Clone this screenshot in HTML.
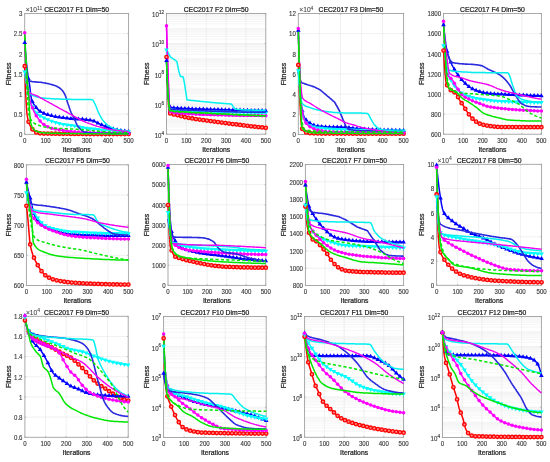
<!DOCTYPE html>
<html><head><meta charset="utf-8"><style>
html,body{margin:0;padding:0;background:#fff;width:550px;height:462px;overflow:hidden}
svg{will-change:transform}
svg text{font-family:"Liberation Sans", sans-serif;stroke:#262626;stroke-width:0.24px}
svg text.tk{fill:#383838;stroke:#383838;stroke-width:0.14px}
</style></head><body>
<svg width="550" height="462" viewBox="0 0 550 462" style="position:absolute;left:0;top:0">
<rect width="550" height="462" fill="#fff"/>
<line x1="45.48" y1="13.45" x2="45.48" y2="134.30" stroke="#e6e6e6" stroke-width="0.6"/>
<line x1="66.26" y1="13.45" x2="66.26" y2="134.30" stroke="#e6e6e6" stroke-width="0.6"/>
<line x1="87.04" y1="13.45" x2="87.04" y2="134.30" stroke="#e6e6e6" stroke-width="0.6"/>
<line x1="107.82" y1="13.45" x2="107.82" y2="134.30" stroke="#e6e6e6" stroke-width="0.6"/>
<line x1="24.70" y1="114.16" x2="128.60" y2="114.16" stroke="#e6e6e6" stroke-width="0.6"/>
<line x1="24.70" y1="94.02" x2="128.60" y2="94.02" stroke="#e6e6e6" stroke-width="0.6"/>
<line x1="24.70" y1="73.88" x2="128.60" y2="73.88" stroke="#e6e6e6" stroke-width="0.6"/>
<line x1="24.70" y1="53.73" x2="128.60" y2="53.73" stroke="#e6e6e6" stroke-width="0.6"/>
<line x1="24.70" y1="33.59" x2="128.60" y2="33.59" stroke="#e6e6e6" stroke-width="0.6"/>
<rect x="24.70" y="13.45" width="103.90" height="120.85" fill="none" stroke="#a0a0a0" stroke-width="0.9"/>
<path d="M24.70,134.30v-1.2M24.70,13.45v1.2M45.48,134.30v-1.2M45.48,13.45v1.2M66.26,134.30v-1.2M66.26,13.45v1.2M87.04,134.30v-1.2M87.04,13.45v1.2M107.82,134.30v-1.2M107.82,13.45v1.2M128.60,134.30v-1.2M128.60,13.45v1.2M24.70,134.30h1.2M128.60,134.30h-1.2M24.70,114.16h1.2M128.60,114.16h-1.2M24.70,94.02h1.2M128.60,94.02h-1.2M24.70,73.88h1.2M128.60,73.88h-1.2M24.70,53.73h1.2M128.60,53.73h-1.2M24.70,33.59h1.2M128.60,33.59h-1.2M24.70,13.45h1.2M128.60,13.45h-1.2" stroke="#a0a0a0" stroke-width="0.7" fill="none"/>
<path d="M24.7,66.2 25.5,89.4 25.7,94.0 26.4,106.6 26.8,112.1 27.2,115.4 28.0,119.9 28.4,121.4 28.9,122.7 29.7,124.8 30.5,126.5 31.3,127.9 32.2,129.1 33.0,130.1 33.8,131.0 34.7,131.7 35.5,132.2 35.7,132.3 36.3,132.5 37.2,132.7 38.0,132.9 38.8,133.1 39.7,133.3 40.5,133.4 41.3,133.5 42.2,133.5 43.0,133.5 43.8,133.5 44.6,133.5 45.5,133.6 46.3,133.6 47.1,133.6 48.0,133.6 48.8,133.6 49.6,133.6 50.5,133.6 51.3,133.6 52.1,133.7 53.0,133.7 53.8,133.7 54.6,133.7 55.5,133.7 56.3,133.7 57.1,133.7 57.9,133.7 58.8,133.8 59.6,133.8 60.4,133.8 61.3,133.8 62.1,133.8 62.9,133.8 63.8,133.8 64.6,133.8 65.4,133.8 66.3,133.8 67.1,133.8 67.9,133.9 68.8,133.9 69.6,133.9 70.4,133.9 71.2,133.9 72.1,133.9 72.9,133.9 73.7,133.9 74.6,133.9 75.4,133.9 76.2,133.9 77.1,133.9 77.9,133.9 78.7,134.0 79.6,134.0 80.4,134.0 81.2,134.0 82.1,134.0 82.9,134.0 83.7,134.0 84.5,134.0 85.4,134.0 86.2,134.0 87.0,134.0 87.9,134.0 88.7,134.0 89.5,134.0 90.4,134.0 91.2,134.0 92.0,134.0 92.9,134.0 93.7,134.0 94.5,134.0 95.4,134.0 96.2,134.0 97.0,134.1 97.8,134.1 98.7,134.1 99.5,134.1 100.3,134.1 101.2,134.1 102.0,134.1 102.8,134.1 103.7,134.1 104.5,134.1 105.3,134.1 106.2,134.1 107.0,134.1 107.8,134.1 108.7,134.1 109.5,134.1 110.3,134.1 111.1,134.1 112.0,134.1 112.8,134.1 113.6,134.1 114.5,134.1 115.3,134.1 116.1,134.1 117.0,134.1 117.8,134.1 118.6,134.1 119.5,134.1 120.3,134.1 121.1,134.1 122.0,134.1 122.8,134.1 123.6,134.1 124.4,134.1 125.3,134.1 126.1,134.1 126.9,134.1 127.8,134.1 128.6,134.1" fill="none" stroke="#ff0000" stroke-width="1.5" stroke-linejoin="round"/>
<circle cx="28.55" cy="121.75" r="1.7" fill="#ff8c8c" stroke="#ff0000" stroke-width="1.35"/>
<circle cx="32.40" cy="129.33" r="1.7" fill="#ff8c8c" stroke="#ff0000" stroke-width="1.35"/>
<circle cx="36.24" cy="132.46" r="1.7" fill="#ff8c8c" stroke="#ff0000" stroke-width="1.35"/>
<circle cx="40.09" cy="133.33" r="1.7" fill="#ff8c8c" stroke="#ff0000" stroke-width="1.35"/>
<circle cx="43.94" cy="133.53" r="1.7" fill="#ff8c8c" stroke="#ff0000" stroke-width="1.35"/>
<circle cx="47.79" cy="133.59" r="1.7" fill="#ff8c8c" stroke="#ff0000" stroke-width="1.35"/>
<circle cx="51.64" cy="133.65" r="1.7" fill="#ff8c8c" stroke="#ff0000" stroke-width="1.35"/>
<circle cx="55.49" cy="133.71" r="1.7" fill="#ff8c8c" stroke="#ff0000" stroke-width="1.35"/>
<circle cx="59.33" cy="133.76" r="1.7" fill="#ff8c8c" stroke="#ff0000" stroke-width="1.35"/>
<circle cx="63.18" cy="133.81" r="1.7" fill="#ff8c8c" stroke="#ff0000" stroke-width="1.35"/>
<circle cx="67.03" cy="133.85" r="1.7" fill="#ff8c8c" stroke="#ff0000" stroke-width="1.35"/>
<circle cx="70.88" cy="133.89" r="1.7" fill="#ff8c8c" stroke="#ff0000" stroke-width="1.35"/>
<circle cx="74.73" cy="133.92" r="1.7" fill="#ff8c8c" stroke="#ff0000" stroke-width="1.35"/>
<circle cx="78.57" cy="133.95" r="1.7" fill="#ff8c8c" stroke="#ff0000" stroke-width="1.35"/>
<circle cx="82.42" cy="133.98" r="1.7" fill="#ff8c8c" stroke="#ff0000" stroke-width="1.35"/>
<circle cx="86.27" cy="134.00" r="1.7" fill="#ff8c8c" stroke="#ff0000" stroke-width="1.35"/>
<circle cx="90.12" cy="134.02" r="1.7" fill="#ff8c8c" stroke="#ff0000" stroke-width="1.35"/>
<circle cx="93.97" cy="134.04" r="1.7" fill="#ff8c8c" stroke="#ff0000" stroke-width="1.35"/>
<circle cx="97.81" cy="134.05" r="1.7" fill="#ff8c8c" stroke="#ff0000" stroke-width="1.35"/>
<circle cx="101.66" cy="134.07" r="1.7" fill="#ff8c8c" stroke="#ff0000" stroke-width="1.35"/>
<circle cx="105.51" cy="134.08" r="1.7" fill="#ff8c8c" stroke="#ff0000" stroke-width="1.35"/>
<circle cx="109.36" cy="134.08" r="1.7" fill="#ff8c8c" stroke="#ff0000" stroke-width="1.35"/>
<circle cx="113.21" cy="134.09" r="1.7" fill="#ff8c8c" stroke="#ff0000" stroke-width="1.35"/>
<circle cx="117.06" cy="134.09" r="1.7" fill="#ff8c8c" stroke="#ff0000" stroke-width="1.35"/>
<circle cx="120.90" cy="134.10" r="1.7" fill="#ff8c8c" stroke="#ff0000" stroke-width="1.35"/>
<circle cx="124.75" cy="134.10" r="1.7" fill="#ff8c8c" stroke="#ff0000" stroke-width="1.35"/>
<circle cx="128.60" cy="134.10" r="1.7" fill="#ff8c8c" stroke="#ff0000" stroke-width="1.35"/>
<path d="M24.7,42.5 25.5,52.9 26.4,62.2 27.2,69.8 28.0,75.7 28.9,80.7 29.7,85.7 29.9,87.2 30.5,92.5 31.3,98.4 32.2,101.0 33.0,102.8 33.8,104.2 34.7,105.4 34.9,105.7 35.5,106.6 36.3,107.7 37.2,108.8 38.0,109.6 38.8,110.4 39.0,110.5 39.7,111.0 40.5,111.5 41.3,112.0 42.2,112.4 43.0,112.8 43.8,113.2 44.6,113.6 45.5,113.9 46.3,114.2 47.1,114.4 48.0,114.7 48.8,115.0 49.6,115.2 50.5,115.4 51.3,115.6 52.1,115.9 53.0,116.1 53.8,116.2 54.6,116.4 55.5,116.6 56.3,116.7 57.1,116.9 57.7,117.0 57.9,117.0 58.8,117.1 59.6,117.3 60.4,117.4 61.3,117.5 62.1,117.6 62.9,117.7 63.8,117.8 64.6,117.9 65.4,118.0 66.3,118.1 67.1,118.1 67.9,118.2 68.8,118.3 69.6,118.4 70.4,118.4 71.2,118.5 72.1,118.6 72.9,118.7 73.7,118.7 74.6,118.8 75.4,118.8 76.2,118.9 77.1,118.9 77.9,119.0 78.7,119.0 79.6,119.1 80.4,119.1 81.2,119.2 82.1,119.2 82.9,119.3 83.7,119.3 84.3,119.4 84.5,119.4 85.4,119.5 86.2,119.6 87.0,119.7 87.9,119.8 88.7,119.9 89.5,120.0 90.4,120.1 91.2,120.3 92.0,120.4 92.9,120.6 93.7,120.9 94.5,121.2 95.4,121.6 96.2,122.1 97.0,122.6 97.8,123.0 98.7,123.4 99.5,123.8 100.3,124.2 101.2,124.6 102.0,124.9 102.8,125.3 103.7,125.7 104.5,126.0 105.3,126.4 106.2,126.7 107.0,127.0 107.2,127.0 107.8,127.3 108.7,127.5 109.5,127.8 110.3,128.1 111.1,128.3 112.0,128.6 112.8,128.8 113.6,129.1 114.5,129.3 115.3,129.5 116.1,129.7 117.0,129.8 117.2,129.9 117.8,130.0 118.6,130.1 119.5,130.3 120.3,130.4 121.1,130.6 122.0,130.7 122.8,130.8 123.6,131.0 124.4,131.1 125.3,131.2 126.1,131.3 126.9,131.3 127.8,131.4 128.6,131.5" fill="none" stroke="#0000ff" stroke-width="1.5" stroke-linejoin="round"/>
<path d="M28.5,76.3l2.3,4h-4.6z" fill="#0000ff"/>
<path d="M32.4,98.9l2.3,4h-4.6z" fill="#0000ff"/>
<path d="M36.2,105.0l2.3,4h-4.6z" fill="#0000ff"/>
<path d="M40.1,108.7l2.3,4h-4.6z" fill="#0000ff"/>
<path d="M43.9,110.7l2.3,4h-4.6z" fill="#0000ff"/>
<path d="M47.8,112.0l2.3,4h-4.6z" fill="#0000ff"/>
<path d="M51.6,113.1l2.3,4h-4.6z" fill="#0000ff"/>
<path d="M55.5,114.0l2.3,4h-4.6z" fill="#0000ff"/>
<path d="M59.3,114.6l2.3,4h-4.6z" fill="#0000ff"/>
<path d="M63.2,115.1l2.3,4h-4.6z" fill="#0000ff"/>
<path d="M67.0,115.5l2.3,4h-4.6z" fill="#0000ff"/>
<path d="M70.9,115.9l2.3,4h-4.6z" fill="#0000ff"/>
<path d="M74.7,116.2l2.3,4h-4.6z" fill="#0000ff"/>
<path d="M78.6,116.4l2.3,4h-4.6z" fill="#0000ff"/>
<path d="M82.4,116.6l2.3,4h-4.6z" fill="#0000ff"/>
<path d="M86.3,117.0l2.3,4h-4.6z" fill="#0000ff"/>
<path d="M90.1,117.5l2.3,4h-4.6z" fill="#0000ff"/>
<path d="M94.0,118.4l2.3,4h-4.6z" fill="#0000ff"/>
<path d="M97.8,120.4l2.3,4h-4.6z" fill="#0000ff"/>
<path d="M101.7,122.2l2.3,4h-4.6z" fill="#0000ff"/>
<path d="M105.5,123.8l2.3,4h-4.6z" fill="#0000ff"/>
<path d="M109.4,125.2l2.3,4h-4.6z" fill="#0000ff"/>
<path d="M113.2,126.3l2.3,4h-4.6z" fill="#0000ff"/>
<path d="M117.1,127.2l2.3,4h-4.6z" fill="#0000ff"/>
<path d="M120.9,127.9l2.3,4h-4.6z" fill="#0000ff"/>
<path d="M124.8,128.5l2.3,4h-4.6z" fill="#0000ff"/>
<path d="M128.6,128.9l2.3,4h-4.6z" fill="#0000ff"/>
<path d="M24.7,71.9 25.5,78.0 26.4,83.6 26.8,86.0 27.2,88.2 28.0,92.4 28.9,96.2 29.7,99.5 30.5,102.1 31.3,104.2 32.2,106.1 33.0,107.9 33.8,109.5 34.7,110.8 35.5,112.0 36.3,112.9 37.2,113.7 38.0,114.4 38.8,115.0 39.5,115.4 39.7,115.5 40.5,116.0 41.3,116.5 42.2,116.9 43.0,117.4 43.8,117.8 44.6,118.2 45.5,118.6 46.3,119.0 47.1,119.4 48.0,119.7 48.8,120.1 49.6,120.4 50.5,120.7 51.3,121.0 52.1,121.3 53.0,121.6 53.8,121.8 54.6,122.1 55.5,122.3 56.3,122.6 57.1,122.8 57.9,123.1 58.8,123.3 59.6,123.5 60.4,123.7 61.3,123.9 62.1,124.1 62.9,124.2 63.8,124.4 64.6,124.6 65.0,124.6 65.4,124.7 66.3,124.8 67.1,125.0 67.9,125.1 68.8,125.2 69.6,125.3 70.4,125.4 71.2,125.5 72.1,125.6 72.9,125.7 73.7,125.8 73.9,125.8 74.6,125.9 75.4,126.1 76.2,126.3 77.1,126.4 77.9,126.6 78.7,126.8 79.6,127.0 80.4,127.1 81.2,127.3 82.1,127.5 82.9,127.6 83.7,127.8 84.3,127.9 84.5,127.9 85.4,128.0 86.2,128.1 87.0,128.2 87.9,128.3 88.7,128.4 89.5,128.5 90.4,128.6 91.2,128.7 92.0,128.8 92.9,128.9 93.7,129.0 94.5,129.1 95.4,129.2 96.2,129.3 97.0,129.4 97.8,129.4 98.7,129.5 99.5,129.6 100.3,129.7 101.2,129.7 102.0,129.8 102.8,129.9 103.7,129.9 104.5,130.0 105.3,130.1 106.2,130.1 107.0,130.2 107.8,130.3 108.7,130.3 109.5,130.4 110.3,130.5 111.1,130.5 112.0,130.6 112.8,130.6 113.6,130.7 114.5,130.7 115.3,130.8 116.1,130.8 117.0,130.9 117.8,130.9 118.6,131.0 119.5,131.0 120.3,131.1 121.1,131.1 122.0,131.2 122.8,131.2 123.6,131.3 124.4,131.3 125.3,131.3 126.1,131.4 126.9,131.4 127.8,131.4 128.6,131.5" fill="none" stroke="#00ffff" stroke-width="1.5" stroke-linejoin="round"/>
<path d="M28.5,97.4l2.3,-4h-4.6z" fill="#00ffff"/>
<path d="M32.4,109.2l2.3,-4h-4.6z" fill="#00ffff"/>
<path d="M36.2,115.5l2.3,-4h-4.6z" fill="#00ffff"/>
<path d="M40.1,118.4l2.3,-4h-4.6z" fill="#00ffff"/>
<path d="M43.9,120.5l2.3,-4h-4.6z" fill="#00ffff"/>
<path d="M47.8,122.3l2.3,-4h-4.6z" fill="#00ffff"/>
<path d="M51.6,123.7l2.3,-4h-4.6z" fill="#00ffff"/>
<path d="M55.5,125.0l2.3,-4h-4.6z" fill="#00ffff"/>
<path d="M59.3,126.0l2.3,-4h-4.6z" fill="#00ffff"/>
<path d="M63.2,126.9l2.3,-4h-4.6z" fill="#00ffff"/>
<path d="M67.0,127.5l2.3,-4h-4.6z" fill="#00ffff"/>
<path d="M70.9,128.0l2.3,-4h-4.6z" fill="#00ffff"/>
<path d="M74.7,128.6l2.3,-4h-4.6z" fill="#00ffff"/>
<path d="M78.6,129.3l2.3,-4h-4.6z" fill="#00ffff"/>
<path d="M82.4,130.1l2.3,-4h-4.6z" fill="#00ffff"/>
<path d="M86.3,130.7l2.3,-4h-4.6z" fill="#00ffff"/>
<path d="M90.1,131.2l2.3,-4h-4.6z" fill="#00ffff"/>
<path d="M94.0,131.6l2.3,-4h-4.6z" fill="#00ffff"/>
<path d="M97.8,132.0l2.3,-4h-4.6z" fill="#00ffff"/>
<path d="M101.7,132.4l2.3,-4h-4.6z" fill="#00ffff"/>
<path d="M105.5,132.7l2.3,-4h-4.6z" fill="#00ffff"/>
<path d="M109.4,133.0l2.3,-4h-4.6z" fill="#00ffff"/>
<path d="M113.2,133.3l2.3,-4h-4.6z" fill="#00ffff"/>
<path d="M117.1,133.5l2.3,-4h-4.6z" fill="#00ffff"/>
<path d="M120.9,133.7l2.3,-4h-4.6z" fill="#00ffff"/>
<path d="M124.8,133.9l2.3,-4h-4.6z" fill="#00ffff"/>
<path d="M128.6,134.1l2.3,-4h-4.6z" fill="#00ffff"/>
<path d="M24.7,32.8 25.5,54.7 26.4,72.1 26.8,77.9 27.2,82.2 28.0,89.4 28.9,95.0 29.7,99.2 29.9,100.1 30.5,102.4 31.3,105.0 32.2,107.2 33.0,109.2 33.4,110.1 33.8,111.1 34.7,112.8 35.5,114.4 36.3,115.8 37.2,117.0 38.0,118.2 38.8,119.4 39.7,120.5 40.5,121.5 41.3,122.4 42.2,123.2 43.0,123.9 43.4,124.2 43.8,124.5 44.6,125.1 45.5,125.6 46.3,126.0 47.1,126.5 48.0,126.9 48.8,127.2 49.6,127.5 50.5,127.8 50.7,127.9 51.3,128.0 52.1,128.3 53.0,128.5 53.8,128.7 54.6,128.9 55.5,129.1 56.3,129.3 57.1,129.4 57.9,129.6 58.8,129.8 59.6,129.9 60.4,130.0 61.3,130.2 62.1,130.3 62.9,130.4 63.8,130.5 64.6,130.6 64.8,130.7 65.4,130.8 66.3,130.9 67.1,131.0 67.9,131.1 68.8,131.2 69.6,131.3 70.4,131.3 71.2,131.4 72.1,131.5 72.9,131.6 73.7,131.7 74.6,131.8 75.4,131.8 76.2,131.9 77.1,132.0 77.9,132.0 78.7,132.1 79.6,132.2 80.4,132.2 81.2,132.2 82.1,132.3 82.9,132.3 83.7,132.4 84.5,132.4 85.4,132.4 86.2,132.5 87.0,132.5 87.9,132.5 88.7,132.6 89.5,132.6 90.4,132.6 91.2,132.7 92.0,132.7 92.9,132.7 93.7,132.8 94.5,132.8 95.4,132.8 96.2,132.9 97.0,132.9 97.8,132.9 98.7,132.9 99.5,133.0 100.3,133.0 101.2,133.0 102.0,133.1 102.8,133.1 103.7,133.1 104.5,133.1 105.3,133.1 106.2,133.2 107.0,133.2 107.8,133.2 108.7,133.2 109.5,133.3 110.3,133.3 111.1,133.3 112.0,133.3 112.8,133.3 113.6,133.3 114.5,133.4 115.3,133.4 116.1,133.4 117.0,133.4 117.8,133.4 118.6,133.4 119.5,133.4 120.3,133.4 121.1,133.5 122.0,133.5 122.8,133.5 123.6,133.5 124.4,133.5 125.3,133.5 126.1,133.5 126.9,133.5 127.8,133.5 128.6,133.5" fill="none" stroke="#ff00ff" stroke-width="1.5" stroke-linejoin="round"/>
<circle cx="28.55" cy="93.10" r="1.75" fill="#ff00ff"/>
<circle cx="32.40" cy="107.75" r="1.75" fill="#ff00ff"/>
<circle cx="36.24" cy="115.63" r="1.75" fill="#ff00ff"/>
<circle cx="40.09" cy="121.00" r="1.75" fill="#ff00ff"/>
<circle cx="43.94" cy="124.60" r="1.75" fill="#ff00ff"/>
<circle cx="47.79" cy="126.77" r="1.75" fill="#ff00ff"/>
<circle cx="51.64" cy="128.13" r="1.75" fill="#ff00ff"/>
<circle cx="55.49" cy="129.10" r="1.75" fill="#ff00ff"/>
<circle cx="59.33" cy="129.86" r="1.75" fill="#ff00ff"/>
<circle cx="63.18" cy="130.46" r="1.75" fill="#ff00ff"/>
<circle cx="67.03" cy="130.95" r="1.75" fill="#ff00ff"/>
<circle cx="70.88" cy="131.40" r="1.75" fill="#ff00ff"/>
<circle cx="74.73" cy="131.78" r="1.75" fill="#ff00ff"/>
<circle cx="78.57" cy="132.09" r="1.75" fill="#ff00ff"/>
<circle cx="82.42" cy="132.30" r="1.75" fill="#ff00ff"/>
<circle cx="86.27" cy="132.47" r="1.75" fill="#ff00ff"/>
<circle cx="90.12" cy="132.63" r="1.75" fill="#ff00ff"/>
<circle cx="93.97" cy="132.78" r="1.75" fill="#ff00ff"/>
<circle cx="97.81" cy="132.91" r="1.75" fill="#ff00ff"/>
<circle cx="101.66" cy="133.04" r="1.75" fill="#ff00ff"/>
<circle cx="105.51" cy="133.15" r="1.75" fill="#ff00ff"/>
<circle cx="109.36" cy="133.25" r="1.75" fill="#ff00ff"/>
<circle cx="113.21" cy="133.34" r="1.75" fill="#ff00ff"/>
<circle cx="117.06" cy="133.40" r="1.75" fill="#ff00ff"/>
<circle cx="120.90" cy="133.45" r="1.75" fill="#ff00ff"/>
<circle cx="124.75" cy="133.48" r="1.75" fill="#ff00ff"/>
<circle cx="128.60" cy="133.49" r="1.75" fill="#ff00ff"/>
<path d="M24.7,71.9 25.5,75.4 26.4,77.9 27.2,79.4 28.0,80.5 28.4,80.7 28.9,80.8 29.7,81.1 30.5,81.3 31.3,81.4 32.2,81.6 33.0,81.7 33.8,81.8 34.7,81.9 35.5,81.9 36.3,82.0 37.2,82.1 38.0,82.1 38.8,82.2 39.7,82.3 40.5,82.3 41.3,82.4 42.2,82.5 43.0,82.7 43.4,82.7 43.8,82.8 44.6,83.0 45.5,83.1 46.3,83.3 47.1,83.5 48.0,83.6 48.8,83.8 49.6,84.0 50.5,84.2 51.3,84.4 52.1,84.7 53.0,84.9 53.8,85.2 54.6,85.5 54.8,85.6 55.5,85.8 56.3,86.1 57.1,86.5 57.9,87.0 58.8,87.4 59.6,88.0 60.4,88.6 60.6,88.8 61.3,89.3 62.1,90.2 62.9,91.3 63.8,92.6 64.6,94.0 64.8,94.4 65.4,95.8 66.3,98.3 67.1,101.0 67.7,102.9 67.9,103.5 68.8,106.0 69.6,108.5 70.4,110.8 70.6,111.3 71.2,112.8 72.1,114.5 72.9,116.2 73.7,117.8 74.6,119.5 75.4,121.3 76.2,123.1 77.1,124.8 77.9,126.2 78.5,127.0 78.7,127.3 79.6,128.2 80.4,129.1 81.2,129.9 82.1,130.6 82.9,131.2 83.7,131.7 84.3,131.9 84.5,131.9 85.4,132.2 86.2,132.4 87.0,132.6 87.9,132.7 88.7,132.9 89.5,133.0 90.4,133.1 91.2,133.1 92.0,133.1 92.9,133.1 93.7,133.2 94.5,133.2 95.4,133.2 96.2,133.2 97.0,133.2 97.8,133.2 98.7,133.3 99.5,133.3 100.3,133.3 101.2,133.3 102.0,133.3 102.8,133.3 103.7,133.3 104.5,133.3 105.3,133.4 106.2,133.4 107.0,133.4 107.8,133.4 108.7,133.4 109.5,133.4 110.3,133.4 111.1,133.4 112.0,133.4 112.8,133.4 113.6,133.4 114.5,133.4 115.3,133.5 116.1,133.5 117.0,133.5 117.8,133.5 118.6,133.5 119.5,133.5 120.3,133.5 121.1,133.5 122.0,133.5 122.8,133.5 123.6,133.5 124.4,133.5 125.3,133.5 126.1,133.5 126.9,133.5 127.8,133.5 128.6,133.5" fill="none" stroke="#2a2ade" stroke-width="1.6" stroke-linejoin="round"/>
<path d="M24.7,71.5 25.5,77.2 26.4,81.9 26.8,83.9 27.2,85.8 28.0,88.9 28.4,90.0 28.9,90.9 29.7,92.4 30.5,93.7 31.3,94.6 32.0,95.0 32.2,95.1 33.0,95.5 33.8,95.9 34.7,96.2 35.5,96.5 36.3,96.8 37.2,97.0 38.0,97.2 38.8,97.4 39.7,97.5 40.5,97.7 41.3,97.8 42.2,97.9 43.0,98.0 43.4,98.0 43.8,98.1 44.6,98.2 45.5,98.2 46.3,98.3 47.1,98.4 48.0,98.4 48.8,98.5 49.6,98.6 50.5,98.6 51.3,98.7 52.1,98.7 53.0,98.8 53.8,98.8 54.6,98.9 55.5,98.9 56.3,99.0 57.1,99.0 57.9,99.0 58.8,99.1 59.6,99.1 60.4,99.1 61.3,99.2 62.1,99.2 62.9,99.2 63.8,99.2 64.6,99.2 64.8,99.3 65.4,99.3 66.3,99.3 67.1,99.3 67.9,99.3 68.8,99.3 69.6,99.3 70.4,99.3 71.2,99.4 72.1,99.4 72.9,99.4 73.7,99.4 74.6,99.4 75.4,99.4 76.2,99.4 77.1,99.4 77.9,99.4 78.7,99.4 79.6,99.4 80.4,99.4 81.2,99.4 82.1,99.4 82.9,99.4 83.7,99.5 84.5,99.5 85.4,99.5 86.2,99.5 87.0,99.5 87.9,99.5 88.7,99.5 89.5,99.6 90.4,99.6 91.2,99.6 92.0,99.7 92.9,100.2 93.7,101.4 94.5,103.0 95.4,104.8 95.8,105.7 96.2,106.6 97.0,108.7 97.8,111.0 98.7,112.9 99.5,114.6 100.3,116.2 101.2,117.7 102.0,119.0 102.8,120.2 103.7,121.2 104.5,122.2 105.3,123.1 106.2,123.9 107.0,124.6 107.8,125.3 108.7,125.8 109.5,126.3 110.3,126.8 111.1,127.2 112.0,127.6 112.8,128.0 113.6,128.3 114.5,128.6 115.3,128.9 116.1,129.2 117.0,129.4 117.2,129.5 117.8,129.6 118.6,129.8 119.5,130.0 120.3,130.2 121.1,130.4 122.0,130.6 122.8,130.8 123.6,130.9 124.4,131.1 125.3,131.2 126.1,131.3 126.9,131.4 127.8,131.4 128.6,131.5" fill="none" stroke="#00f0f0" stroke-width="1.5" stroke-linejoin="round"/>
<path d="M24.7,41.6 25.5,62.2 26.4,77.3 26.8,81.9 27.2,85.3 28.0,90.1 28.4,91.2 28.9,91.7 29.7,92.5 30.5,93.2 31.3,93.7 32.2,94.1 33.0,94.4 33.8,94.7 34.7,95.0 35.5,95.3 36.3,95.6 37.2,96.0 38.0,96.4 38.8,96.9 39.7,97.4 40.5,97.8 41.3,98.3 42.2,98.7 43.0,99.2 43.8,99.6 44.6,100.1 45.5,100.5 46.3,101.0 47.1,101.5 48.0,101.9 48.8,102.4 49.6,102.8 50.5,103.3 51.3,103.7 52.1,104.2 53.0,104.7 53.8,105.1 54.6,105.6 55.5,106.0 55.9,106.3 56.3,106.5 57.1,106.9 57.9,107.4 58.8,107.9 59.6,108.3 60.4,108.8 61.3,109.2 62.1,109.7 62.9,110.1 63.8,110.6 64.6,111.0 65.4,111.5 66.3,111.9 67.1,112.4 67.9,112.9 68.8,113.3 69.6,113.8 70.4,114.2 71.2,114.7 72.1,115.1 72.9,115.6 73.7,116.1 74.6,116.5 75.4,117.0 76.2,117.4 76.6,117.7 77.1,117.9 77.9,118.4 78.7,118.8 79.6,119.3 80.4,119.8 81.2,120.2 82.1,120.6 82.9,121.0 83.7,121.3 84.5,121.7 85.4,122.0 86.2,122.4 87.0,122.7 87.9,123.0 88.7,123.3 89.5,123.6 90.4,123.9 91.2,124.2 92.0,124.5 92.9,124.8 93.7,125.1 94.5,125.4 95.4,125.7 96.2,125.9 97.0,126.2 97.8,126.4 98.7,126.6 99.5,126.9 100.3,127.1 101.2,127.3 102.0,127.5 102.8,127.8 103.7,128.0 104.5,128.2 105.3,128.4 106.2,128.6 107.0,128.8 107.8,129.0 108.7,129.1 109.5,129.3 110.3,129.5 111.1,129.6 112.0,129.7 112.8,129.9 113.6,130.0 114.5,130.1 115.3,130.2 116.1,130.3 117.0,130.4 117.8,130.5 118.6,130.6 119.5,130.7 120.3,130.8 121.1,130.9 122.0,131.0 122.8,131.1 123.6,131.2 124.4,131.2 125.3,131.3 126.1,131.4 126.9,131.4 127.8,131.4 128.6,131.5" fill="none" stroke="#f000f0" stroke-width="1.4" stroke-linejoin="round"/>
<path d="M24.7,37.6 25.5,59.6 26.4,78.2 26.8,86.0 27.2,93.2 28.0,106.5 28.9,114.2 29.7,116.8 30.5,118.8 31.3,120.3 32.2,121.4 33.0,122.2 33.8,122.9 34.7,123.5 35.5,124.0 36.3,124.5 37.2,124.8 37.8,125.0 38.0,125.1 38.8,125.4 39.7,125.6 40.5,125.9 41.3,126.1 42.2,126.4 43.0,126.6 43.8,126.8 44.6,126.9 45.5,127.1 46.3,127.3 47.1,127.4 48.0,127.5 48.8,127.6 49.6,127.7 50.5,127.8 50.7,127.9 51.3,127.9 52.1,128.0 53.0,128.0 53.8,128.1 54.6,128.2 55.5,128.2 56.3,128.2 57.1,128.3 57.9,128.3 58.8,128.4 59.6,128.4 60.4,128.4 61.3,128.5 62.1,128.5 62.9,128.6 63.8,128.6 64.6,128.6 64.8,128.7 65.4,128.7 66.3,128.7 67.1,128.8 67.9,128.8 68.8,128.9 69.6,128.9 70.4,129.0 71.2,129.0 72.1,129.1 72.9,129.1 73.7,129.1 74.6,129.2 75.4,129.2 76.2,129.3 77.1,129.3 77.9,129.4 78.7,129.4 79.1,129.5 79.6,129.5 80.4,129.6 81.2,129.6 82.1,129.7 82.9,129.7 83.7,129.8 84.5,129.9 85.4,130.0 86.2,130.0 87.0,130.1 87.9,130.2 88.7,130.3 89.5,130.3 90.4,130.4 91.2,130.5 92.0,130.6 92.9,130.7 93.7,130.7 94.5,130.8 95.4,130.9 96.2,131.0 97.0,131.1 97.8,131.1 98.7,131.2 99.5,131.3 100.3,131.4 101.2,131.4 102.0,131.5 102.8,131.6 103.7,131.6 104.5,131.7 105.3,131.7 106.2,131.8 107.0,131.8 107.8,131.9 108.7,131.9 109.5,132.0 110.3,132.0 111.1,132.1 112.0,132.1 112.8,132.1 113.6,132.2 114.5,132.2 115.3,132.2 116.1,132.3 117.0,132.3 117.8,132.4 118.6,132.4 119.5,132.4 120.3,132.5 121.1,132.5 122.0,132.5 122.8,132.5 123.6,132.6 124.4,132.6 125.3,132.6 126.1,132.6 126.9,132.7 127.8,132.7 128.6,132.7" fill="none" stroke="#00e600" stroke-width="1.5" stroke-linejoin="round" stroke-dasharray="3.2,2.2"/>
<path d="M24.7,33.6 25.5,50.2 26.4,65.0 27.2,77.9 28.0,88.2 28.6,96.0 28.9,99.3 29.7,113.6 29.9,116.2 30.5,121.4 30.7,122.6 31.3,125.1 31.8,126.2 32.2,127.0 33.0,128.4 33.8,129.4 34.7,130.1 34.9,130.3 35.5,130.6 36.3,131.0 37.2,131.4 38.0,131.7 38.8,132.0 39.7,132.3 40.5,132.5 41.3,132.6 42.2,132.7 43.0,132.8 43.8,132.8 44.6,132.9 45.5,132.9 46.3,133.0 47.1,133.0 48.0,133.1 48.8,133.1 49.6,133.1 50.5,133.2 51.3,133.2 52.1,133.2 53.0,133.2 53.8,133.3 54.6,133.3 55.5,133.3 55.9,133.3 56.3,133.3 57.1,133.3 57.9,133.3 58.8,133.3 59.6,133.4 60.4,133.4 61.3,133.4 62.1,133.4 62.9,133.4 63.8,133.4 64.6,133.4 65.4,133.4 66.3,133.5 67.1,133.5 67.9,133.5 68.8,133.5 69.6,133.5 70.4,133.5 71.2,133.5 72.1,133.5 72.9,133.5 73.7,133.6 74.6,133.6 75.4,133.6 76.2,133.6 77.1,133.6 77.9,133.6 78.7,133.6 79.6,133.6 80.4,133.6 81.2,133.6 82.1,133.6 82.9,133.7 83.7,133.7 84.5,133.7 85.4,133.7 86.2,133.7 87.0,133.7 87.9,133.7 88.7,133.7 89.5,133.7 90.4,133.7 91.2,133.7 92.0,133.7 92.9,133.8 93.7,133.8 94.5,133.8 95.4,133.8 96.2,133.8 97.0,133.8 97.8,133.8 98.7,133.8 99.5,133.8 100.3,133.8 101.2,133.8 102.0,133.8 102.8,133.8 103.7,133.8 104.5,133.8 105.3,133.8 106.2,133.8 107.0,133.8 107.8,133.8 108.7,133.9 109.5,133.9 110.3,133.9 111.1,133.9 112.0,133.9 112.8,133.9 113.6,133.9 114.5,133.9 115.3,133.9 116.1,133.9 117.0,133.9 117.8,133.9 118.6,133.9 119.5,133.9 120.3,133.9 121.1,133.9 122.0,133.9 122.8,133.9 123.6,133.9 124.4,133.9 125.3,133.9 126.1,133.9 126.9,133.9 127.8,133.9 128.6,133.9" fill="none" stroke="#00e600" stroke-width="1.5" stroke-linejoin="round"/>
<circle cx="24.70" cy="66.22" r="1.7" fill="#ff8c8c" stroke="#ff0000" stroke-width="1.35"/>
<path d="M24.7,39.9l2.3,4h-4.6z" fill="#0000ff"/>
<path d="M24.7,74.5l2.3,-4h-4.6z" fill="#00ffff"/>
<circle cx="24.70" cy="32.79" r="1.75" fill="#ff00ff"/>
<text class="tk" transform="translate(24.70,142.90) scale(0.9,1)" font-size="6.8" text-anchor="middle">0</text>
<text class="tk" transform="translate(45.48,142.90) scale(0.9,1)" font-size="6.8" text-anchor="middle">100</text>
<text class="tk" transform="translate(66.26,142.90) scale(0.9,1)" font-size="6.8" text-anchor="middle">200</text>
<text class="tk" transform="translate(87.04,142.90) scale(0.9,1)" font-size="6.8" text-anchor="middle">300</text>
<text class="tk" transform="translate(107.82,142.90) scale(0.9,1)" font-size="6.8" text-anchor="middle">400</text>
<text class="tk" transform="translate(128.60,142.90) scale(0.9,1)" font-size="6.8" text-anchor="middle">500</text>
<text class="tk" transform="translate(22.30,137.10) scale(0.9,1)" font-size="6.8" text-anchor="end">0</text>
<text class="tk" transform="translate(22.30,116.96) scale(0.9,1)" font-size="6.8" text-anchor="end">0.5</text>
<text class="tk" transform="translate(22.30,96.82) scale(0.9,1)" font-size="6.8" text-anchor="end">1</text>
<text class="tk" transform="translate(22.30,76.67) scale(0.9,1)" font-size="6.8" text-anchor="end">1.5</text>
<text class="tk" transform="translate(22.30,56.53) scale(0.9,1)" font-size="6.8" text-anchor="end">2</text>
<text class="tk" transform="translate(22.30,36.39) scale(0.9,1)" font-size="6.8" text-anchor="end">2.5</text>
<text class="tk" transform="translate(22.30,16.25) scale(0.9,1)" font-size="6.8" text-anchor="end">3</text>
<text transform="translate(25.70,11.95) scale(0.98,1)" font-size="6.8" fill="#444" style="stroke:#444;stroke-width:0.08px">×10<tspan font-size="5.1" dy="-2.4">11</tspan></text>
<text transform="translate(76.65,12.05) scale(0.875,1)" font-size="7.8" text-anchor="middle" fill="#111">CEC2017 F1 Dim=50</text>
<text x="76.65" y="151.90" font-size="6.8" text-anchor="middle" fill="#262626">Iterations</text>
<text transform="translate(10.80,73.88) rotate(-90)" font-size="7" text-anchor="middle" fill="#262626">Fitness</text>
<line x1="166.50" y1="129.66" x2="265.80" y2="129.66" stroke="#f0f0f0" stroke-width="0.6"/>
<line x1="166.50" y1="127.00" x2="265.80" y2="127.00" stroke="#f0f0f0" stroke-width="0.6"/>
<line x1="166.50" y1="125.11" x2="265.80" y2="125.11" stroke="#f0f0f0" stroke-width="0.6"/>
<line x1="166.50" y1="123.65" x2="265.80" y2="123.65" stroke="#f0f0f0" stroke-width="0.6"/>
<line x1="166.50" y1="122.45" x2="265.80" y2="122.45" stroke="#f0f0f0" stroke-width="0.6"/>
<line x1="166.50" y1="121.44" x2="265.80" y2="121.44" stroke="#f0f0f0" stroke-width="0.6"/>
<line x1="166.50" y1="120.57" x2="265.80" y2="120.57" stroke="#f0f0f0" stroke-width="0.6"/>
<line x1="166.50" y1="119.80" x2="265.80" y2="119.80" stroke="#f0f0f0" stroke-width="0.6"/>
<line x1="166.50" y1="114.56" x2="265.80" y2="114.56" stroke="#f0f0f0" stroke-width="0.6"/>
<line x1="166.50" y1="111.90" x2="265.80" y2="111.90" stroke="#f0f0f0" stroke-width="0.6"/>
<line x1="166.50" y1="110.02" x2="265.80" y2="110.02" stroke="#f0f0f0" stroke-width="0.6"/>
<line x1="166.50" y1="108.56" x2="265.80" y2="108.56" stroke="#f0f0f0" stroke-width="0.6"/>
<line x1="166.50" y1="107.36" x2="265.80" y2="107.36" stroke="#f0f0f0" stroke-width="0.6"/>
<line x1="166.50" y1="106.35" x2="265.80" y2="106.35" stroke="#f0f0f0" stroke-width="0.6"/>
<line x1="166.50" y1="105.48" x2="265.80" y2="105.48" stroke="#f0f0f0" stroke-width="0.6"/>
<line x1="166.50" y1="104.70" x2="265.80" y2="104.70" stroke="#f0f0f0" stroke-width="0.6"/>
<line x1="166.50" y1="119.11" x2="265.80" y2="119.11" stroke="#f0f0f0" stroke-width="0.6"/>
<line x1="166.50" y1="99.47" x2="265.80" y2="99.47" stroke="#f0f0f0" stroke-width="0.6"/>
<line x1="166.50" y1="96.81" x2="265.80" y2="96.81" stroke="#f0f0f0" stroke-width="0.6"/>
<line x1="166.50" y1="94.93" x2="265.80" y2="94.93" stroke="#f0f0f0" stroke-width="0.6"/>
<line x1="166.50" y1="93.46" x2="265.80" y2="93.46" stroke="#f0f0f0" stroke-width="0.6"/>
<line x1="166.50" y1="92.27" x2="265.80" y2="92.27" stroke="#f0f0f0" stroke-width="0.6"/>
<line x1="166.50" y1="91.26" x2="265.80" y2="91.26" stroke="#f0f0f0" stroke-width="0.6"/>
<line x1="166.50" y1="90.38" x2="265.80" y2="90.38" stroke="#f0f0f0" stroke-width="0.6"/>
<line x1="166.50" y1="89.61" x2="265.80" y2="89.61" stroke="#f0f0f0" stroke-width="0.6"/>
<line x1="166.50" y1="84.38" x2="265.80" y2="84.38" stroke="#f0f0f0" stroke-width="0.6"/>
<line x1="166.50" y1="81.72" x2="265.80" y2="81.72" stroke="#f0f0f0" stroke-width="0.6"/>
<line x1="166.50" y1="79.83" x2="265.80" y2="79.83" stroke="#f0f0f0" stroke-width="0.6"/>
<line x1="166.50" y1="78.37" x2="265.80" y2="78.37" stroke="#f0f0f0" stroke-width="0.6"/>
<line x1="166.50" y1="77.17" x2="265.80" y2="77.17" stroke="#f0f0f0" stroke-width="0.6"/>
<line x1="166.50" y1="76.16" x2="265.80" y2="76.16" stroke="#f0f0f0" stroke-width="0.6"/>
<line x1="166.50" y1="75.29" x2="265.80" y2="75.29" stroke="#f0f0f0" stroke-width="0.6"/>
<line x1="166.50" y1="74.52" x2="265.80" y2="74.52" stroke="#f0f0f0" stroke-width="0.6"/>
<line x1="166.50" y1="88.92" x2="265.80" y2="88.92" stroke="#f0f0f0" stroke-width="0.6"/>
<line x1="166.50" y1="69.28" x2="265.80" y2="69.28" stroke="#f0f0f0" stroke-width="0.6"/>
<line x1="166.50" y1="66.62" x2="265.80" y2="66.62" stroke="#f0f0f0" stroke-width="0.6"/>
<line x1="166.50" y1="64.74" x2="265.80" y2="64.74" stroke="#f0f0f0" stroke-width="0.6"/>
<line x1="166.50" y1="63.27" x2="265.80" y2="63.27" stroke="#f0f0f0" stroke-width="0.6"/>
<line x1="166.50" y1="62.08" x2="265.80" y2="62.08" stroke="#f0f0f0" stroke-width="0.6"/>
<line x1="166.50" y1="61.07" x2="265.80" y2="61.07" stroke="#f0f0f0" stroke-width="0.6"/>
<line x1="166.50" y1="60.19" x2="265.80" y2="60.19" stroke="#f0f0f0" stroke-width="0.6"/>
<line x1="166.50" y1="59.42" x2="265.80" y2="59.42" stroke="#f0f0f0" stroke-width="0.6"/>
<line x1="166.50" y1="54.19" x2="265.80" y2="54.19" stroke="#f0f0f0" stroke-width="0.6"/>
<line x1="166.50" y1="51.53" x2="265.80" y2="51.53" stroke="#f0f0f0" stroke-width="0.6"/>
<line x1="166.50" y1="49.64" x2="265.80" y2="49.64" stroke="#f0f0f0" stroke-width="0.6"/>
<line x1="166.50" y1="48.18" x2="265.80" y2="48.18" stroke="#f0f0f0" stroke-width="0.6"/>
<line x1="166.50" y1="46.99" x2="265.80" y2="46.99" stroke="#f0f0f0" stroke-width="0.6"/>
<line x1="166.50" y1="45.98" x2="265.80" y2="45.98" stroke="#f0f0f0" stroke-width="0.6"/>
<line x1="166.50" y1="45.10" x2="265.80" y2="45.10" stroke="#f0f0f0" stroke-width="0.6"/>
<line x1="166.50" y1="44.33" x2="265.80" y2="44.33" stroke="#f0f0f0" stroke-width="0.6"/>
<line x1="166.50" y1="58.73" x2="265.80" y2="58.73" stroke="#f0f0f0" stroke-width="0.6"/>
<line x1="166.50" y1="39.09" x2="265.80" y2="39.09" stroke="#f0f0f0" stroke-width="0.6"/>
<line x1="166.50" y1="36.44" x2="265.80" y2="36.44" stroke="#f0f0f0" stroke-width="0.6"/>
<line x1="166.50" y1="34.55" x2="265.80" y2="34.55" stroke="#f0f0f0" stroke-width="0.6"/>
<line x1="166.50" y1="33.09" x2="265.80" y2="33.09" stroke="#f0f0f0" stroke-width="0.6"/>
<line x1="166.50" y1="31.89" x2="265.80" y2="31.89" stroke="#f0f0f0" stroke-width="0.6"/>
<line x1="166.50" y1="30.88" x2="265.80" y2="30.88" stroke="#f0f0f0" stroke-width="0.6"/>
<line x1="166.50" y1="30.01" x2="265.80" y2="30.01" stroke="#f0f0f0" stroke-width="0.6"/>
<line x1="166.50" y1="29.23" x2="265.80" y2="29.23" stroke="#f0f0f0" stroke-width="0.6"/>
<line x1="166.50" y1="24.00" x2="265.80" y2="24.00" stroke="#f0f0f0" stroke-width="0.6"/>
<line x1="166.50" y1="21.34" x2="265.80" y2="21.34" stroke="#f0f0f0" stroke-width="0.6"/>
<line x1="166.50" y1="19.46" x2="265.80" y2="19.46" stroke="#f0f0f0" stroke-width="0.6"/>
<line x1="166.50" y1="17.99" x2="265.80" y2="17.99" stroke="#f0f0f0" stroke-width="0.6"/>
<line x1="166.50" y1="16.80" x2="265.80" y2="16.80" stroke="#f0f0f0" stroke-width="0.6"/>
<line x1="166.50" y1="15.79" x2="265.80" y2="15.79" stroke="#f0f0f0" stroke-width="0.6"/>
<line x1="166.50" y1="14.91" x2="265.80" y2="14.91" stroke="#f0f0f0" stroke-width="0.6"/>
<line x1="166.50" y1="14.14" x2="265.80" y2="14.14" stroke="#f0f0f0" stroke-width="0.6"/>
<line x1="166.50" y1="28.54" x2="265.80" y2="28.54" stroke="#f0f0f0" stroke-width="0.6"/>
<line x1="186.36" y1="13.45" x2="186.36" y2="134.20" stroke="#e6e6e6" stroke-width="0.6"/>
<line x1="206.22" y1="13.45" x2="206.22" y2="134.20" stroke="#e6e6e6" stroke-width="0.6"/>
<line x1="226.08" y1="13.45" x2="226.08" y2="134.20" stroke="#e6e6e6" stroke-width="0.6"/>
<line x1="245.94" y1="13.45" x2="245.94" y2="134.20" stroke="#e6e6e6" stroke-width="0.6"/>
<line x1="166.50" y1="104.01" x2="265.80" y2="104.01" stroke="#e6e6e6" stroke-width="0.6"/>
<line x1="166.50" y1="73.82" x2="265.80" y2="73.82" stroke="#e6e6e6" stroke-width="0.6"/>
<line x1="166.50" y1="43.64" x2="265.80" y2="43.64" stroke="#e6e6e6" stroke-width="0.6"/>
<rect x="166.50" y="13.45" width="99.30" height="120.75" fill="none" stroke="#a0a0a0" stroke-width="0.9"/>
<path d="M166.50,134.20v-1.2M166.50,13.45v1.2M186.36,134.20v-1.2M186.36,13.45v1.2M206.22,134.20v-1.2M206.22,13.45v1.2M226.08,134.20v-1.2M226.08,13.45v1.2M245.94,134.20v-1.2M245.94,13.45v1.2M265.80,134.20v-1.2M265.80,13.45v1.2M166.50,134.20h1.2M265.80,134.20h-1.2M166.50,104.01h1.2M265.80,104.01h-1.2M166.50,73.82h1.2M265.80,73.82h-1.2M166.50,43.64h1.2M265.80,43.64h-1.2M166.50,13.45h1.2M265.80,13.45h-1.2" stroke="#a0a0a0" stroke-width="0.7" fill="none"/>
<path d="M166.5,57.1 167.3,79.5 167.7,88.9 168.1,98.3 168.9,112.4 169.0,112.8 169.7,113.2 170.5,113.6 171.3,113.9 172.1,114.1 172.9,114.3 173.6,114.4 174.4,114.5 175.2,114.6 176.0,114.8 176.4,114.9 176.8,115.0 177.6,115.2 178.4,115.4 179.2,115.6 180.0,115.9 180.8,116.1 181.6,116.3 182.4,116.5 183.2,116.7 184.0,116.9 184.8,117.0 185.6,117.2 186.0,117.3 186.4,117.4 187.2,117.5 187.9,117.7 188.7,117.8 189.5,118.0 190.3,118.1 191.1,118.3 191.9,118.4 192.7,118.5 193.5,118.7 194.3,118.8 195.1,118.9 195.9,119.0 196.7,119.2 197.5,119.3 198.3,119.4 199.1,119.5 199.9,119.6 200.7,119.7 201.5,119.9 202.2,120.0 203.0,120.1 203.8,120.2 204.6,120.3 205.4,120.4 206.2,120.5 207.0,120.6 207.8,120.7 208.6,120.8 209.4,120.9 210.2,121.1 211.0,121.2 211.8,121.3 212.6,121.4 213.4,121.5 214.2,121.6 215.0,121.7 215.8,121.8 216.0,121.8 216.5,121.9 217.3,122.0 218.1,122.1 218.9,122.2 219.7,122.3 220.5,122.4 221.3,122.5 222.1,122.6 222.9,122.8 223.7,122.9 224.5,123.0 225.3,123.1 226.1,123.2 226.9,123.3 227.7,123.4 228.5,123.5 229.3,123.6 230.1,123.7 230.8,123.8 231.6,123.9 232.4,124.0 233.2,124.1 234.0,124.2 234.8,124.3 235.6,124.4 236.4,124.5 237.2,124.6 238.0,124.7 238.8,124.8 239.6,124.9 240.4,125.0 241.2,125.1 242.0,125.2 242.8,125.3 243.6,125.4 244.4,125.5 245.1,125.6 245.9,125.7 246.7,125.8 247.5,125.8 248.3,125.9 249.1,126.0 249.9,126.1 250.7,126.2 251.5,126.3 252.3,126.4 253.1,126.5 253.9,126.6 254.7,126.7 255.5,126.8 256.3,126.8 257.1,126.9 257.9,127.0 258.7,127.1 259.4,127.2 260.2,127.3 261.0,127.4 261.8,127.4 262.6,127.5 263.4,127.6 264.2,127.7 265.0,127.8 265.8,127.9" fill="none" stroke="#ff0000" stroke-width="1.5" stroke-linejoin="round"/>
<circle cx="170.18" cy="113.47" r="1.7" fill="#ff8c8c" stroke="#ff0000" stroke-width="1.35"/>
<circle cx="173.86" cy="114.42" r="1.7" fill="#ff8c8c" stroke="#ff0000" stroke-width="1.35"/>
<circle cx="177.53" cy="115.18" r="1.7" fill="#ff8c8c" stroke="#ff0000" stroke-width="1.35"/>
<circle cx="181.21" cy="116.18" r="1.7" fill="#ff8c8c" stroke="#ff0000" stroke-width="1.35"/>
<circle cx="184.89" cy="117.07" r="1.7" fill="#ff8c8c" stroke="#ff0000" stroke-width="1.35"/>
<circle cx="188.57" cy="117.79" r="1.7" fill="#ff8c8c" stroke="#ff0000" stroke-width="1.35"/>
<circle cx="192.24" cy="118.44" r="1.7" fill="#ff8c8c" stroke="#ff0000" stroke-width="1.35"/>
<circle cx="195.92" cy="119.04" r="1.7" fill="#ff8c8c" stroke="#ff0000" stroke-width="1.35"/>
<circle cx="199.60" cy="119.60" r="1.7" fill="#ff8c8c" stroke="#ff0000" stroke-width="1.35"/>
<circle cx="203.28" cy="120.12" r="1.7" fill="#ff8c8c" stroke="#ff0000" stroke-width="1.35"/>
<circle cx="206.96" cy="120.62" r="1.7" fill="#ff8c8c" stroke="#ff0000" stroke-width="1.35"/>
<circle cx="210.63" cy="121.11" r="1.7" fill="#ff8c8c" stroke="#ff0000" stroke-width="1.35"/>
<circle cx="214.31" cy="121.60" r="1.7" fill="#ff8c8c" stroke="#ff0000" stroke-width="1.35"/>
<circle cx="217.99" cy="122.10" r="1.7" fill="#ff8c8c" stroke="#ff0000" stroke-width="1.35"/>
<circle cx="221.67" cy="122.59" r="1.7" fill="#ff8c8c" stroke="#ff0000" stroke-width="1.35"/>
<circle cx="225.34" cy="123.08" r="1.7" fill="#ff8c8c" stroke="#ff0000" stroke-width="1.35"/>
<circle cx="229.02" cy="123.56" r="1.7" fill="#ff8c8c" stroke="#ff0000" stroke-width="1.35"/>
<circle cx="232.70" cy="124.03" r="1.7" fill="#ff8c8c" stroke="#ff0000" stroke-width="1.35"/>
<circle cx="236.38" cy="124.49" r="1.7" fill="#ff8c8c" stroke="#ff0000" stroke-width="1.35"/>
<circle cx="240.06" cy="124.95" r="1.7" fill="#ff8c8c" stroke="#ff0000" stroke-width="1.35"/>
<circle cx="243.73" cy="125.39" r="1.7" fill="#ff8c8c" stroke="#ff0000" stroke-width="1.35"/>
<circle cx="247.41" cy="125.83" r="1.7" fill="#ff8c8c" stroke="#ff0000" stroke-width="1.35"/>
<circle cx="251.09" cy="126.26" r="1.7" fill="#ff8c8c" stroke="#ff0000" stroke-width="1.35"/>
<circle cx="254.77" cy="126.68" r="1.7" fill="#ff8c8c" stroke="#ff0000" stroke-width="1.35"/>
<circle cx="258.44" cy="127.08" r="1.7" fill="#ff8c8c" stroke="#ff0000" stroke-width="1.35"/>
<circle cx="262.12" cy="127.48" r="1.7" fill="#ff8c8c" stroke="#ff0000" stroke-width="1.35"/>
<circle cx="265.80" cy="127.86" r="1.7" fill="#ff8c8c" stroke="#ff0000" stroke-width="1.35"/>
<path d="M166.5,60.7 167.3,77.9 168.1,91.3 168.5,96.5 168.9,101.2 169.7,107.0 170.5,107.2 171.3,107.4 172.1,107.5 172.9,107.7 173.6,107.8 174.4,107.9 175.2,108.0 176.0,108.1 176.8,108.1 177.6,108.2 178.4,108.2 179.2,108.3 180.0,108.3 180.8,108.3 181.6,108.4 182.4,108.4 183.2,108.4 184.0,108.4 184.8,108.5 185.6,108.5 186.4,108.5 187.2,108.6 187.9,108.6 188.7,108.7 189.5,108.7 190.3,108.7 191.1,108.8 191.9,108.8 192.7,108.8 193.5,108.9 194.3,108.9 195.1,108.9 195.9,109.0 196.7,109.0 197.5,109.0 198.3,109.0 199.1,109.1 199.9,109.1 200.7,109.1 201.5,109.1 202.2,109.2 203.0,109.2 203.8,109.2 204.6,109.2 205.4,109.3 206.2,109.3 207.0,109.3 207.8,109.3 208.6,109.3 209.4,109.4 210.2,109.4 211.0,109.4 211.8,109.4 212.6,109.4 213.4,109.5 214.2,109.5 215.0,109.5 215.8,109.5 216.5,109.5 217.3,109.6 218.1,109.6 218.9,109.6 219.7,109.6 220.5,109.7 221.3,109.7 222.1,109.7 222.9,109.7 223.7,109.7 224.1,109.7 224.5,109.8 225.3,109.8 226.1,109.8 226.9,109.8 227.7,109.8 228.5,109.9 229.3,109.9 230.1,109.9 230.8,109.9 231.6,110.0 232.4,110.0 233.2,110.0 234.0,110.0 234.8,110.0 235.6,110.1 236.4,110.1 237.2,110.1 238.0,110.1 238.8,110.2 239.6,110.2 240.4,110.2 241.2,110.2 242.0,110.2 242.8,110.3 243.6,110.3 244.4,110.3 245.1,110.3 245.9,110.3 246.7,110.4 247.5,110.4 248.3,110.4 249.1,110.4 249.9,110.4 250.7,110.5 251.5,110.5 252.3,110.5 253.1,110.5 253.9,110.5 254.7,110.6 255.5,110.6 256.3,110.6 257.1,110.6 257.9,110.6 258.7,110.6 259.4,110.7 260.2,110.7 261.0,110.7 261.8,110.7 262.6,110.7 263.4,110.8 264.2,110.8 265.0,110.8 265.8,110.8" fill="none" stroke="#0000ff" stroke-width="1.5" stroke-linejoin="round"/>
<path d="M170.2,104.6l2.3,4h-4.6z" fill="#0000ff"/>
<path d="M173.9,105.2l2.3,4h-4.6z" fill="#0000ff"/>
<path d="M177.5,105.6l2.3,4h-4.6z" fill="#0000ff"/>
<path d="M181.2,105.7l2.3,4h-4.6z" fill="#0000ff"/>
<path d="M184.9,105.9l2.3,4h-4.6z" fill="#0000ff"/>
<path d="M188.6,106.0l2.3,4h-4.6z" fill="#0000ff"/>
<path d="M192.2,106.2l2.3,4h-4.6z" fill="#0000ff"/>
<path d="M195.9,106.4l2.3,4h-4.6z" fill="#0000ff"/>
<path d="M199.6,106.5l2.3,4h-4.6z" fill="#0000ff"/>
<path d="M203.3,106.6l2.3,4h-4.6z" fill="#0000ff"/>
<path d="M207.0,106.7l2.3,4h-4.6z" fill="#0000ff"/>
<path d="M210.6,106.8l2.3,4h-4.6z" fill="#0000ff"/>
<path d="M214.3,106.9l2.3,4h-4.6z" fill="#0000ff"/>
<path d="M218.0,107.0l2.3,4h-4.6z" fill="#0000ff"/>
<path d="M221.7,107.1l2.3,4h-4.6z" fill="#0000ff"/>
<path d="M225.3,107.2l2.3,4h-4.6z" fill="#0000ff"/>
<path d="M229.0,107.3l2.3,4h-4.6z" fill="#0000ff"/>
<path d="M232.7,107.4l2.3,4h-4.6z" fill="#0000ff"/>
<path d="M236.4,107.5l2.3,4h-4.6z" fill="#0000ff"/>
<path d="M240.1,107.6l2.3,4h-4.6z" fill="#0000ff"/>
<path d="M243.7,107.7l2.3,4h-4.6z" fill="#0000ff"/>
<path d="M247.4,107.8l2.3,4h-4.6z" fill="#0000ff"/>
<path d="M251.1,107.9l2.3,4h-4.6z" fill="#0000ff"/>
<path d="M254.8,108.0l2.3,4h-4.6z" fill="#0000ff"/>
<path d="M258.4,108.0l2.3,4h-4.6z" fill="#0000ff"/>
<path d="M262.1,108.1l2.3,4h-4.6z" fill="#0000ff"/>
<path d="M265.8,108.2l2.3,4h-4.6z" fill="#0000ff"/>
<path d="M166.5,49.8 167.3,68.7 168.1,84.8 168.5,91.9 168.9,99.4 169.7,109.3 170.5,109.5 171.3,109.7 172.1,109.9 172.9,110.1 173.6,110.2 174.4,110.3 175.2,110.5 176.0,110.5 176.8,110.6 177.6,110.7 178.4,110.8 179.2,110.8 180.0,110.9 180.8,110.9 181.6,110.9 182.4,111.0 183.2,111.0 184.0,111.0 184.8,111.0 185.6,111.1 186.4,111.1 187.2,111.1 187.9,111.2 188.7,111.2 189.5,111.2 190.3,111.3 191.1,111.3 191.9,111.3 192.7,111.4 193.5,111.4 194.3,111.4 195.1,111.4 195.9,111.5 196.7,111.5 197.5,111.5 198.3,111.5 199.1,111.6 199.9,111.6 200.7,111.6 201.5,111.6 202.2,111.7 203.0,111.7 203.8,111.7 204.6,111.7 205.4,111.7 206.2,111.7 207.0,111.8 207.8,111.8 208.6,111.8 209.4,111.8 210.2,111.8 211.0,111.8 211.8,111.9 212.6,111.9 213.4,111.9 214.2,111.9 215.0,111.9 215.8,111.9 216.5,112.0 217.3,112.0 218.1,112.0 218.9,112.0 219.7,112.0 220.5,112.0 221.3,112.1 222.1,112.1 222.9,112.1 223.7,112.1 224.5,112.1 225.3,112.1 226.1,112.2 226.9,112.2 227.7,112.2 228.5,112.2 229.3,112.2 230.1,112.3 230.8,112.3 231.6,112.3 232.4,112.3 233.2,112.3 234.0,112.4 234.8,112.4 235.6,112.4 236.4,112.4 237.2,112.4 238.0,112.4 238.8,112.5 239.6,112.5 240.4,112.5 241.2,112.5 242.0,112.5 242.8,112.6 243.6,112.6 244.4,112.6 245.1,112.6 245.9,112.6 246.7,112.7 247.5,112.7 248.3,112.7 249.1,112.7 249.9,112.7 250.7,112.7 251.5,112.8 252.3,112.8 253.1,112.8 253.9,112.8 254.7,112.8 255.5,112.8 256.3,112.9 257.1,112.9 257.9,112.9 258.7,112.9 259.4,112.9 260.2,113.0 261.0,113.0 261.8,113.0 262.6,113.0 263.4,113.0 264.2,113.0 265.0,113.1 265.8,113.1" fill="none" stroke="#00ffff" stroke-width="1.5" stroke-linejoin="round"/>
<path d="M170.2,112.0l2.3,-4h-4.6z" fill="#00ffff"/>
<path d="M173.9,112.8l2.3,-4h-4.6z" fill="#00ffff"/>
<path d="M177.5,113.3l2.3,-4h-4.6z" fill="#00ffff"/>
<path d="M181.2,113.5l2.3,-4h-4.6z" fill="#00ffff"/>
<path d="M184.9,113.6l2.3,-4h-4.6z" fill="#00ffff"/>
<path d="M188.6,113.8l2.3,-4h-4.6z" fill="#00ffff"/>
<path d="M192.2,113.9l2.3,-4h-4.6z" fill="#00ffff"/>
<path d="M195.9,114.1l2.3,-4h-4.6z" fill="#00ffff"/>
<path d="M199.6,114.2l2.3,-4h-4.6z" fill="#00ffff"/>
<path d="M203.3,114.3l2.3,-4h-4.6z" fill="#00ffff"/>
<path d="M207.0,114.4l2.3,-4h-4.6z" fill="#00ffff"/>
<path d="M210.6,114.4l2.3,-4h-4.6z" fill="#00ffff"/>
<path d="M214.3,114.5l2.3,-4h-4.6z" fill="#00ffff"/>
<path d="M218.0,114.6l2.3,-4h-4.6z" fill="#00ffff"/>
<path d="M221.7,114.7l2.3,-4h-4.6z" fill="#00ffff"/>
<path d="M225.3,114.7l2.3,-4h-4.6z" fill="#00ffff"/>
<path d="M229.0,114.8l2.3,-4h-4.6z" fill="#00ffff"/>
<path d="M232.7,114.9l2.3,-4h-4.6z" fill="#00ffff"/>
<path d="M236.4,115.0l2.3,-4h-4.6z" fill="#00ffff"/>
<path d="M240.1,115.1l2.3,-4h-4.6z" fill="#00ffff"/>
<path d="M243.7,115.2l2.3,-4h-4.6z" fill="#00ffff"/>
<path d="M247.4,115.3l2.3,-4h-4.6z" fill="#00ffff"/>
<path d="M251.1,115.4l2.3,-4h-4.6z" fill="#00ffff"/>
<path d="M254.8,115.4l2.3,-4h-4.6z" fill="#00ffff"/>
<path d="M258.4,115.5l2.3,-4h-4.6z" fill="#00ffff"/>
<path d="M262.1,115.6l2.3,-4h-4.6z" fill="#00ffff"/>
<path d="M265.8,115.7l2.3,-4h-4.6z" fill="#00ffff"/>
<path d="M166.5,25.8 167.3,53.0 168.1,76.2 168.3,81.4 168.9,98.0 169.7,111.3 170.5,111.5 171.3,111.8 172.1,112.0 172.9,112.2 173.6,112.4 174.4,112.5 175.2,112.7 176.0,112.8 176.8,112.9 177.6,113.0 178.4,113.0 179.2,113.1 180.0,113.2 180.8,113.2 181.6,113.2 182.4,113.3 183.2,113.3 184.0,113.4 184.8,113.4 185.6,113.5 186.4,113.5 187.2,113.6 187.9,113.6 188.7,113.7 189.5,113.8 190.3,113.8 191.1,113.9 191.9,113.9 192.7,114.0 193.5,114.0 194.3,114.1 195.1,114.1 195.9,114.1 196.7,114.2 197.5,114.2 198.3,114.3 199.1,114.3 199.9,114.3 200.7,114.4 201.5,114.4 202.2,114.4 203.0,114.5 203.8,114.5 204.6,114.5 205.4,114.6 206.2,114.6 207.0,114.6 207.8,114.6 208.6,114.6 209.4,114.7 210.2,114.7 211.0,114.7 211.8,114.7 212.6,114.8 213.4,114.8 214.2,114.8 215.0,114.8 215.8,114.8 216.5,114.9 217.3,114.9 218.1,114.9 218.9,114.9 219.7,115.0 220.5,115.0 221.3,115.0 222.1,115.0 222.9,115.0 223.7,115.1 224.5,115.1 225.3,115.1 226.1,115.1 226.9,115.1 227.7,115.1 228.5,115.2 229.3,115.2 230.1,115.2 230.8,115.2 231.6,115.2 232.4,115.3 233.2,115.3 234.0,115.3 234.8,115.3 235.6,115.3 236.4,115.3 237.2,115.3 238.0,115.4 238.8,115.4 239.6,115.4 240.4,115.4 241.2,115.4 242.0,115.4 242.8,115.4 243.6,115.5 244.4,115.5 245.1,115.5 245.9,115.5 246.7,115.5 247.5,115.5 248.3,115.5 249.1,115.5 249.9,115.5 250.7,115.5 251.5,115.6 252.3,115.6 253.1,115.6 253.9,115.6 254.7,115.6 255.5,115.6 256.3,115.6 257.1,115.6 257.9,115.6 258.7,115.6 259.4,115.6 260.2,115.6 261.0,115.6 261.8,115.6 262.6,115.6 263.4,115.6 264.2,115.6 265.0,115.6 265.8,115.6" fill="none" stroke="#ff00ff" stroke-width="1.5" stroke-linejoin="round"/>
<circle cx="170.18" cy="111.44" r="1.75" fill="#ff00ff"/>
<circle cx="173.86" cy="112.43" r="1.75" fill="#ff00ff"/>
<circle cx="177.53" cy="112.96" r="1.75" fill="#ff00ff"/>
<circle cx="181.21" cy="113.23" r="1.75" fill="#ff00ff"/>
<circle cx="184.89" cy="113.42" r="1.75" fill="#ff00ff"/>
<circle cx="188.57" cy="113.69" r="1.75" fill="#ff00ff"/>
<circle cx="192.24" cy="113.93" r="1.75" fill="#ff00ff"/>
<circle cx="195.92" cy="114.15" r="1.75" fill="#ff00ff"/>
<circle cx="199.60" cy="114.33" r="1.75" fill="#ff00ff"/>
<circle cx="203.28" cy="114.48" r="1.75" fill="#ff00ff"/>
<circle cx="206.96" cy="114.60" r="1.75" fill="#ff00ff"/>
<circle cx="210.63" cy="114.70" r="1.75" fill="#ff00ff"/>
<circle cx="214.31" cy="114.81" r="1.75" fill="#ff00ff"/>
<circle cx="217.99" cy="114.91" r="1.75" fill="#ff00ff"/>
<circle cx="221.67" cy="115.00" r="1.75" fill="#ff00ff"/>
<circle cx="225.34" cy="115.09" r="1.75" fill="#ff00ff"/>
<circle cx="229.02" cy="115.18" r="1.75" fill="#ff00ff"/>
<circle cx="232.70" cy="115.26" r="1.75" fill="#ff00ff"/>
<circle cx="236.38" cy="115.33" r="1.75" fill="#ff00ff"/>
<circle cx="240.06" cy="115.40" r="1.75" fill="#ff00ff"/>
<circle cx="243.73" cy="115.46" r="1.75" fill="#ff00ff"/>
<circle cx="247.41" cy="115.51" r="1.75" fill="#ff00ff"/>
<circle cx="251.09" cy="115.55" r="1.75" fill="#ff00ff"/>
<circle cx="254.77" cy="115.59" r="1.75" fill="#ff00ff"/>
<circle cx="258.44" cy="115.61" r="1.75" fill="#ff00ff"/>
<circle cx="262.12" cy="115.63" r="1.75" fill="#ff00ff"/>
<circle cx="265.80" cy="115.63" r="1.75" fill="#ff00ff"/>
<path d="M166.5,61.7 167.3,77.8 168.1,91.0 168.5,96.5 168.9,101.9 169.7,108.8 170.5,109.0 171.3,109.1 172.1,109.2 172.9,109.4 173.6,109.4 174.4,109.5 175.2,109.6 176.0,109.7 176.8,109.7 177.6,109.8 178.4,109.8 179.2,109.8 180.0,109.8 180.8,109.9 181.6,109.9 182.4,109.9 183.2,109.9 184.0,110.0 184.8,110.0 185.6,110.0 186.4,110.0 187.2,110.1 187.9,110.1 188.7,110.2 189.5,110.2 190.3,110.2 191.1,110.3 191.9,110.3 192.7,110.3 193.5,110.4 194.3,110.4 195.1,110.4 195.9,110.5 196.7,110.5 197.5,110.5 198.3,110.6 199.1,110.6 199.9,110.6 200.7,110.7 201.5,110.7 202.2,110.7 203.0,110.8 203.8,110.8 204.6,110.8 205.4,110.9 206.2,110.9 207.0,110.9 207.8,111.0 208.6,111.0 209.4,111.0 210.2,111.1 211.0,111.1 211.8,111.1 212.6,111.2 213.4,111.2 214.2,111.2 215.0,111.2 215.8,111.3 216.5,111.3 217.3,111.3 218.1,111.4 218.9,111.4 219.7,111.4 220.5,111.4 221.3,111.5 222.1,111.5 222.9,111.5 223.7,111.6 224.5,111.6 225.3,111.6 226.1,111.6 226.9,111.7 227.7,111.7 228.5,111.7 229.3,111.7 230.1,111.8 230.8,111.8 231.6,111.8 232.4,111.8 233.2,111.8 234.0,111.9 234.8,111.9 235.6,111.9 236.4,111.9 237.2,111.9 238.0,112.0 238.8,112.0 239.6,112.0 240.4,112.0 241.2,112.0 242.0,112.1 242.8,112.1 243.6,112.1 244.4,112.1 245.1,112.1 245.9,112.1 246.7,112.1 247.5,112.2 248.3,112.2 249.1,112.2 249.9,112.2 250.7,112.2 251.5,112.2 252.3,112.2 253.1,112.2 253.9,112.2 254.7,112.3 255.5,112.3 256.3,112.3 257.1,112.3 257.9,112.3 258.7,112.3 259.4,112.3 260.2,112.3 261.0,112.3 261.8,112.3 262.6,112.3 263.4,112.3 264.2,112.3 265.0,112.3 265.8,112.3" fill="none" stroke="#2a2ade" stroke-width="1.6" stroke-linejoin="round"/>
<path d="M166.5,49.8 167.3,51.3 168.1,52.7 168.9,54.2 169.7,55.6 170.5,57.1 171.3,57.6 172.1,58.1 172.9,58.7 173.6,59.2 174.4,59.7 175.2,60.2 176.0,60.8 176.8,61.3 177.6,65.2 178.4,69.1 179.0,72.0 179.2,72.6 180.0,75.1 180.4,76.4 180.8,76.5 181.6,76.6 182.4,76.8 183.2,77.0 184.0,80.9 184.4,82.9 184.8,85.5 185.6,90.8 186.4,96.0 187.0,99.9 187.2,100.0 187.9,100.0 188.7,100.1 189.5,100.2 190.3,100.3 191.1,100.4 191.9,100.5 192.7,100.6 193.5,100.6 194.3,100.7 195.1,100.8 195.9,100.9 196.7,101.0 197.5,101.1 198.3,101.1 199.1,101.2 199.7,101.3 199.9,101.3 200.7,101.4 201.5,101.5 202.2,101.5 203.0,101.6 203.8,101.7 204.6,101.8 205.4,101.8 206.2,101.9 207.0,102.0 207.8,102.1 208.6,102.1 209.4,102.2 210.2,102.3 211.0,102.4 211.8,102.4 212.6,102.5 213.4,102.6 214.0,102.7 214.2,102.7 215.0,102.7 215.8,102.8 216.5,102.9 217.3,102.9 218.1,103.0 218.9,103.0 219.7,103.1 220.5,103.2 221.3,103.2 222.1,103.3 222.9,103.3 223.7,103.4 224.5,103.5 225.3,103.5 226.1,103.6 226.9,103.7 227.7,103.7 228.5,103.8 229.3,103.8 230.1,103.9 230.8,104.0 231.4,104.0 231.6,104.3 232.4,105.4 233.2,106.6 234.0,107.7 234.8,108.9 235.0,109.1 235.6,109.2 236.4,109.3 237.2,109.3 238.0,109.4 238.8,109.5 239.6,109.5 240.4,109.6 241.2,109.7 242.0,109.7 242.8,109.8 243.6,109.9 244.4,109.9 245.1,110.0 245.9,110.0 246.7,110.1 247.5,110.1 248.3,110.1 249.1,110.1 249.9,110.1 250.7,110.1 251.5,110.1 252.3,110.1 253.1,110.2 253.9,110.2 254.7,110.2 255.5,110.2 256.3,110.2 257.1,110.2 257.9,110.2 258.7,110.2 259.4,110.3 260.2,110.3 261.0,110.3 261.8,110.3 262.6,110.3 263.4,110.3 264.2,110.3 265.0,110.3 265.8,110.4" fill="none" stroke="#00f0f0" stroke-width="1.5" stroke-linejoin="round"/>
<path d="M166.5,27.0 167.3,51.0 168.1,73.1 168.3,78.4 168.9,96.6 169.7,111.9 170.5,112.1 171.3,112.3 172.1,112.5 172.9,112.7 173.6,112.8 174.4,113.0 175.2,113.1 176.0,113.2 176.8,113.3 177.6,113.3 178.4,113.4 179.2,113.4 180.0,113.5 180.8,113.5 181.6,113.6 182.4,113.6 183.2,113.6 184.0,113.7 184.8,113.7 185.6,113.8 186.4,113.8 187.2,113.9 187.9,113.9 188.7,114.0 189.5,114.0 190.3,114.1 191.1,114.2 191.9,114.2 192.7,114.3 193.5,114.3 194.3,114.3 195.1,114.4 195.9,114.4 196.7,114.5 197.5,114.5 198.3,114.6 199.1,114.6 199.9,114.6 200.7,114.7 201.5,114.7 202.2,114.7 203.0,114.8 203.8,114.8 204.6,114.8 205.4,114.9 206.2,114.9 207.0,114.9 207.8,114.9 208.6,115.0 209.4,115.0 210.2,115.0 211.0,115.0 211.8,115.1 212.6,115.1 213.4,115.1 214.2,115.1 215.0,115.2 215.8,115.2 216.5,115.2 217.3,115.2 218.1,115.2 218.9,115.3 219.7,115.3 220.5,115.3 221.3,115.3 222.1,115.4 222.9,115.4 223.7,115.4 224.5,115.4 225.3,115.5 226.1,115.5 226.9,115.5 227.7,115.5 228.5,115.5 229.3,115.6 230.1,115.6 230.8,115.6 231.6,115.6 232.4,115.6 233.2,115.7 234.0,115.7 234.8,115.7 235.6,115.7 236.4,115.7 237.2,115.7 238.0,115.8 238.8,115.8 239.6,115.8 240.4,115.8 241.2,115.8 242.0,115.8 242.8,115.9 243.6,115.9 244.4,115.9 245.1,115.9 245.9,115.9 246.7,115.9 247.5,115.9 248.3,116.0 249.1,116.0 249.9,116.0 250.7,116.0 251.5,116.0 252.3,116.0 253.1,116.0 253.9,116.0 254.7,116.0 255.5,116.0 256.3,116.0 257.1,116.1 257.9,116.1 258.7,116.1 259.4,116.1 260.2,116.1 261.0,116.1 261.8,116.1 262.6,116.1 263.4,116.1 264.2,116.1 265.0,116.1 265.8,116.1" fill="none" stroke="#f000f0" stroke-width="1.4" stroke-linejoin="round"/>
<path d="M166.5,60.2 167.3,80.5 168.1,95.7 168.5,101.0 168.9,105.5 169.7,110.8 170.5,111.0 171.3,111.2 172.1,111.3 172.9,111.4 173.6,111.5 174.4,111.6 175.2,111.7 176.0,111.8 176.8,111.9 177.6,111.9 178.4,112.0 179.2,112.0 180.0,112.0 180.8,112.1 181.6,112.1 182.4,112.1 183.2,112.2 184.0,112.2 184.8,112.2 185.6,112.3 186.4,112.3 187.2,112.4 187.9,112.4 188.7,112.5 189.5,112.5 190.3,112.6 191.1,112.6 191.9,112.7 192.7,112.7 193.5,112.7 194.3,112.8 195.1,112.8 195.9,112.9 196.7,112.9 197.5,112.9 198.3,113.0 199.1,113.0 199.9,113.1 200.7,113.1 201.5,113.1 202.2,113.2 203.0,113.2 203.8,113.3 204.6,113.3 205.4,113.3 206.2,113.4 207.0,113.4 207.8,113.4 208.6,113.5 209.4,113.5 210.2,113.6 211.0,113.6 211.8,113.6 212.6,113.7 213.4,113.7 214.2,113.8 215.0,113.8 215.8,113.8 216.5,113.9 217.3,113.9 218.1,114.0 218.9,114.0 219.7,114.0 220.5,114.1 221.3,114.1 222.1,114.1 222.9,114.2 223.7,114.2 224.5,114.3 225.3,114.3 226.1,114.3 226.9,114.4 227.7,114.4 228.5,114.5 229.3,114.5 230.1,114.5 230.8,114.6 231.6,114.6 232.4,114.6 233.2,114.7 234.0,114.7 234.8,114.7 235.6,114.8 236.4,114.8 237.2,114.9 238.0,114.9 238.8,114.9 239.6,115.0 240.4,115.0 241.2,115.0 242.0,115.1 242.8,115.1 243.6,115.1 244.4,115.2 245.1,115.2 245.9,115.3 246.7,115.3 247.5,115.3 248.3,115.4 249.1,115.4 249.9,115.4 250.7,115.5 251.5,115.5 252.3,115.5 253.1,115.6 253.9,115.6 254.7,115.6 255.5,115.7 256.3,115.7 257.1,115.7 257.9,115.8 258.7,115.8 259.4,115.8 260.2,115.9 261.0,115.9 261.8,115.9 262.6,116.0 263.4,116.0 264.2,116.0 265.0,116.1 265.8,116.1" fill="none" stroke="#00e600" stroke-width="1.5" stroke-linejoin="round" stroke-dasharray="3.2,2.2"/>
<path d="M166.5,60.2 167.3,80.6 168.1,95.8 168.5,101.0 168.9,105.3 169.7,110.4 170.5,110.6 171.3,110.7 172.1,110.9 172.9,111.0 173.6,111.2 174.4,111.3 175.2,111.4 176.0,111.5 176.8,111.5 177.6,111.6 178.4,111.6 179.2,111.7 180.0,111.7 180.8,111.7 181.6,111.8 182.4,111.8 183.2,111.8 184.0,111.9 184.8,111.9 185.6,112.0 186.4,112.0 187.2,112.1 187.9,112.1 188.7,112.2 189.5,112.2 190.3,112.3 191.1,112.3 191.9,112.4 192.7,112.4 193.5,112.4 194.3,112.5 195.1,112.5 195.9,112.6 196.7,112.6 197.5,112.6 198.3,112.7 199.1,112.7 199.9,112.8 200.7,112.8 201.5,112.8 202.2,112.9 203.0,112.9 203.8,113.0 204.6,113.0 205.4,113.0 206.2,113.1 207.0,113.1 207.8,113.1 208.6,113.2 209.4,113.2 210.2,113.3 211.0,113.3 211.8,113.3 212.6,113.4 213.4,113.4 214.2,113.5 215.0,113.5 215.8,113.5 216.5,113.6 217.3,113.6 218.1,113.7 218.9,113.7 219.7,113.7 220.5,113.8 221.3,113.8 222.1,113.8 222.9,113.9 223.7,113.9 224.5,114.0 225.3,114.0 226.1,114.0 226.9,114.1 227.7,114.1 228.5,114.1 229.3,114.2 230.1,114.2 230.8,114.3 231.6,114.3 232.4,114.3 233.2,114.4 234.0,114.4 234.8,114.4 235.6,114.5 236.4,114.5 237.2,114.6 238.0,114.6 238.8,114.6 239.6,114.7 240.4,114.7 241.2,114.7 242.0,114.8 242.8,114.8 243.6,114.8 244.4,114.9 245.1,114.9 245.9,114.9 246.7,115.0 247.5,115.0 248.3,115.1 249.1,115.1 249.9,115.1 250.7,115.2 251.5,115.2 252.3,115.2 253.1,115.3 253.9,115.3 254.7,115.3 255.5,115.4 256.3,115.4 257.1,115.4 257.9,115.5 258.7,115.5 259.4,115.5 260.2,115.6 261.0,115.6 261.8,115.6 262.6,115.7 263.4,115.7 264.2,115.7 265.0,115.8 265.8,115.8" fill="none" stroke="#00e600" stroke-width="1.5" stroke-linejoin="round"/>
<circle cx="166.50" cy="57.07" r="1.7" fill="#ff8c8c" stroke="#ff0000" stroke-width="1.35"/>
<path d="M166.5,58.1l2.3,4h-4.6z" fill="#0000ff"/>
<path d="M166.5,52.4l2.3,-4h-4.6z" fill="#00ffff"/>
<circle cx="166.50" cy="25.83" r="1.75" fill="#ff00ff"/>
<text class="tk" transform="translate(166.50,142.80) scale(0.9,1)" font-size="6.8" text-anchor="middle">0</text>
<text class="tk" transform="translate(186.36,142.80) scale(0.9,1)" font-size="6.8" text-anchor="middle">100</text>
<text class="tk" transform="translate(206.22,142.80) scale(0.9,1)" font-size="6.8" text-anchor="middle">200</text>
<text class="tk" transform="translate(226.08,142.80) scale(0.9,1)" font-size="6.8" text-anchor="middle">300</text>
<text class="tk" transform="translate(245.94,142.80) scale(0.9,1)" font-size="6.8" text-anchor="middle">400</text>
<text class="tk" transform="translate(265.80,142.80) scale(0.9,1)" font-size="6.8" text-anchor="middle">500</text>
<text class="tk" transform="translate(164.10,138.00) scale(0.9,1)" font-size="6.8" text-anchor="end">10<tspan font-size="5.2" dy="-3.3">4</tspan></text>
<text class="tk" transform="translate(164.10,107.81) scale(0.9,1)" font-size="6.8" text-anchor="end">10<tspan font-size="5.2" dy="-3.3">6</tspan></text>
<text class="tk" transform="translate(164.10,77.62) scale(0.9,1)" font-size="6.8" text-anchor="end">10<tspan font-size="5.2" dy="-3.3">8</tspan></text>
<text class="tk" transform="translate(164.10,47.44) scale(0.9,1)" font-size="6.8" text-anchor="end">10<tspan font-size="5.2" dy="-3.3">10</tspan></text>
<text class="tk" transform="translate(164.10,17.25) scale(0.9,1)" font-size="6.8" text-anchor="end">10<tspan font-size="5.2" dy="-3.3">12</tspan></text>
<text transform="translate(216.15,12.05) scale(0.875,1)" font-size="7.8" text-anchor="middle" fill="#111">CEC2017 F2 Dim=50</text>
<text x="216.15" y="151.80" font-size="6.8" text-anchor="middle" fill="#262626">Iterations</text>
<text transform="translate(148.70,73.82) rotate(-90)" font-size="7" text-anchor="middle" fill="#262626">Fitness</text>
<line x1="319.36" y1="13.45" x2="319.36" y2="134.50" stroke="#e6e6e6" stroke-width="0.6"/>
<line x1="340.42" y1="13.45" x2="340.42" y2="134.50" stroke="#e6e6e6" stroke-width="0.6"/>
<line x1="361.48" y1="13.45" x2="361.48" y2="134.50" stroke="#e6e6e6" stroke-width="0.6"/>
<line x1="382.54" y1="13.45" x2="382.54" y2="134.50" stroke="#e6e6e6" stroke-width="0.6"/>
<line x1="298.30" y1="114.33" x2="403.60" y2="114.33" stroke="#e6e6e6" stroke-width="0.6"/>
<line x1="298.30" y1="94.15" x2="403.60" y2="94.15" stroke="#e6e6e6" stroke-width="0.6"/>
<line x1="298.30" y1="73.97" x2="403.60" y2="73.97" stroke="#e6e6e6" stroke-width="0.6"/>
<line x1="298.30" y1="53.80" x2="403.60" y2="53.80" stroke="#e6e6e6" stroke-width="0.6"/>
<line x1="298.30" y1="33.62" x2="403.60" y2="33.62" stroke="#e6e6e6" stroke-width="0.6"/>
<rect x="298.30" y="13.45" width="105.30" height="121.05" fill="none" stroke="#a0a0a0" stroke-width="0.9"/>
<path d="M298.30,134.50v-1.2M298.30,13.45v1.2M319.36,134.50v-1.2M319.36,13.45v1.2M340.42,134.50v-1.2M340.42,13.45v1.2M361.48,134.50v-1.2M361.48,13.45v1.2M382.54,134.50v-1.2M382.54,13.45v1.2M403.60,134.50v-1.2M403.60,13.45v1.2M298.30,134.50h1.2M403.60,134.50h-1.2M298.30,114.33h1.2M403.60,114.33h-1.2M298.30,94.15h1.2M403.60,94.15h-1.2M298.30,73.97h1.2M403.60,73.97h-1.2M298.30,53.80h1.2M403.60,53.80h-1.2M298.30,33.62h1.2M403.60,33.62h-1.2M298.30,13.45h1.2M403.60,13.45h-1.2" stroke="#a0a0a0" stroke-width="0.7" fill="none"/>
<path d="M298.3,64.9 299.1,86.8 300.0,104.2 300.8,119.2 301.7,127.7 302.5,129.4 303.4,130.6 304.2,131.5 305.0,132.1 305.9,132.4 306.1,132.5 306.7,132.7 307.6,132.8 308.4,133.0 309.3,133.1 310.1,133.2 310.3,133.2 310.9,133.2 311.8,133.3 312.6,133.3 313.5,133.4 314.3,133.4 315.1,133.4 316.0,133.4 316.8,133.5 317.7,133.5 318.5,133.5 319.4,133.5 320.2,133.5 321.0,133.5 321.9,133.5 322.7,133.5 323.6,133.5 324.4,133.5 325.3,133.5 326.1,133.5 326.9,133.5 327.8,133.5 328.6,133.5 329.5,133.5 330.3,133.5 331.2,133.6 332.0,133.6 332.8,133.6 333.7,133.6 334.5,133.6 335.4,133.6 336.2,133.6 337.1,133.6 337.9,133.6 338.7,133.6 339.6,133.6 340.4,133.6 341.3,133.6 342.1,133.6 342.9,133.6 343.8,133.6 344.6,133.6 345.5,133.6 346.3,133.6 347.2,133.6 348.0,133.6 348.8,133.6 349.7,133.6 350.5,133.6 351.4,133.6 352.2,133.6 353.1,133.6 353.9,133.6 354.7,133.6 355.6,133.6 356.4,133.6 357.3,133.6 358.1,133.6 359.0,133.6 359.8,133.6 360.6,133.7 361.5,133.7 362.3,133.7 363.2,133.7 364.0,133.7 364.8,133.7 365.7,133.7 366.5,133.7 367.4,133.7 368.2,133.7 369.1,133.7 369.9,133.7 370.7,133.7 371.6,133.7 372.4,133.7 373.3,133.7 374.1,133.7 375.0,133.7 375.8,133.7 376.6,133.7 377.5,133.7 378.3,133.7 379.2,133.7 380.0,133.7 380.9,133.7 381.7,133.7 382.5,133.7 383.4,133.7 384.2,133.7 385.1,133.7 385.9,133.7 386.8,133.7 387.6,133.7 388.4,133.7 389.3,133.7 390.1,133.7 391.0,133.7 391.8,133.7 392.6,133.7 393.5,133.7 394.3,133.7 395.2,133.7 396.0,133.7 396.9,133.7 397.7,133.7 398.5,133.7 399.4,133.7 400.2,133.7 401.1,133.7 401.9,133.7 402.8,133.7 403.6,133.7" fill="none" stroke="#ff0000" stroke-width="1.5" stroke-linejoin="round"/>
<circle cx="302.20" cy="128.85" r="1.7" fill="#ff8c8c" stroke="#ff0000" stroke-width="1.35"/>
<circle cx="306.10" cy="132.48" r="1.7" fill="#ff8c8c" stroke="#ff0000" stroke-width="1.35"/>
<circle cx="310.00" cy="133.17" r="1.7" fill="#ff8c8c" stroke="#ff0000" stroke-width="1.35"/>
<circle cx="313.90" cy="133.37" r="1.7" fill="#ff8c8c" stroke="#ff0000" stroke-width="1.35"/>
<circle cx="317.80" cy="133.47" r="1.7" fill="#ff8c8c" stroke="#ff0000" stroke-width="1.35"/>
<circle cx="321.70" cy="133.50" r="1.7" fill="#ff8c8c" stroke="#ff0000" stroke-width="1.35"/>
<circle cx="325.60" cy="133.53" r="1.7" fill="#ff8c8c" stroke="#ff0000" stroke-width="1.35"/>
<circle cx="329.50" cy="133.55" r="1.7" fill="#ff8c8c" stroke="#ff0000" stroke-width="1.35"/>
<circle cx="333.40" cy="133.56" r="1.7" fill="#ff8c8c" stroke="#ff0000" stroke-width="1.35"/>
<circle cx="337.30" cy="133.58" r="1.7" fill="#ff8c8c" stroke="#ff0000" stroke-width="1.35"/>
<circle cx="341.20" cy="133.59" r="1.7" fill="#ff8c8c" stroke="#ff0000" stroke-width="1.35"/>
<circle cx="345.10" cy="133.61" r="1.7" fill="#ff8c8c" stroke="#ff0000" stroke-width="1.35"/>
<circle cx="349.00" cy="133.62" r="1.7" fill="#ff8c8c" stroke="#ff0000" stroke-width="1.35"/>
<circle cx="352.90" cy="133.63" r="1.7" fill="#ff8c8c" stroke="#ff0000" stroke-width="1.35"/>
<circle cx="356.80" cy="133.64" r="1.7" fill="#ff8c8c" stroke="#ff0000" stroke-width="1.35"/>
<circle cx="360.70" cy="133.65" r="1.7" fill="#ff8c8c" stroke="#ff0000" stroke-width="1.35"/>
<circle cx="364.60" cy="133.66" r="1.7" fill="#ff8c8c" stroke="#ff0000" stroke-width="1.35"/>
<circle cx="368.50" cy="133.67" r="1.7" fill="#ff8c8c" stroke="#ff0000" stroke-width="1.35"/>
<circle cx="372.40" cy="133.67" r="1.7" fill="#ff8c8c" stroke="#ff0000" stroke-width="1.35"/>
<circle cx="376.30" cy="133.68" r="1.7" fill="#ff8c8c" stroke="#ff0000" stroke-width="1.35"/>
<circle cx="380.20" cy="133.68" r="1.7" fill="#ff8c8c" stroke="#ff0000" stroke-width="1.35"/>
<circle cx="384.10" cy="133.69" r="1.7" fill="#ff8c8c" stroke="#ff0000" stroke-width="1.35"/>
<circle cx="388.00" cy="133.69" r="1.7" fill="#ff8c8c" stroke="#ff0000" stroke-width="1.35"/>
<circle cx="391.90" cy="133.69" r="1.7" fill="#ff8c8c" stroke="#ff0000" stroke-width="1.35"/>
<circle cx="395.80" cy="133.69" r="1.7" fill="#ff8c8c" stroke="#ff0000" stroke-width="1.35"/>
<circle cx="399.70" cy="133.69" r="1.7" fill="#ff8c8c" stroke="#ff0000" stroke-width="1.35"/>
<circle cx="403.60" cy="133.69" r="1.7" fill="#ff8c8c" stroke="#ff0000" stroke-width="1.35"/>
<path d="M298.3,30.3 299.1,57.5 300.0,79.0 300.8,96.6 301.7,107.7 302.5,112.0 303.4,115.0 304.2,117.0 304.6,117.8 305.0,118.4 305.9,119.6 306.7,120.6 307.6,121.5 308.4,122.2 309.3,122.8 310.1,123.3 310.3,123.4 310.9,123.7 311.8,124.2 312.6,124.6 313.5,124.9 314.3,125.2 315.1,125.5 316.0,125.8 316.8,125.9 317.5,126.0 317.7,126.1 318.5,126.2 319.4,126.3 320.2,126.3 321.0,126.4 321.9,126.5 322.7,126.6 323.6,126.6 324.4,126.7 325.3,126.8 326.1,126.8 326.9,126.9 327.8,126.9 328.6,126.9 329.5,127.0 330.3,127.0 331.2,127.0 331.8,127.0 332.0,127.0 332.8,127.1 333.7,127.1 334.5,127.1 335.4,127.1 336.2,127.1 337.1,127.1 337.9,127.1 338.7,127.1 339.6,127.1 340.4,127.1 341.3,127.2 342.1,127.2 342.9,127.2 343.8,127.2 344.6,127.2 345.5,127.2 345.9,127.2 346.3,127.3 347.2,127.3 348.0,127.4 348.8,127.5 349.7,127.6 350.5,127.7 351.4,127.8 352.2,128.0 353.1,128.1 353.9,128.2 354.7,128.3 355.6,128.4 356.0,128.4 356.4,128.5 357.3,128.5 358.1,128.6 359.0,128.7 359.8,128.7 360.6,128.8 361.5,128.9 362.3,128.9 363.2,129.0 364.0,129.0 364.8,129.1 365.7,129.1 366.5,129.2 367.4,129.3 368.2,129.3 369.1,129.4 369.9,129.4 370.7,129.4 371.6,129.5 372.4,129.5 373.3,129.6 374.1,129.6 375.0,129.7 375.8,129.7 376.6,129.7 377.5,129.8 378.3,129.8 379.2,129.8 380.0,129.9 380.9,129.9 381.7,129.9 382.5,130.0 383.4,130.0 384.2,130.0 385.1,130.0 385.9,130.1 386.8,130.1 387.6,130.1 388.4,130.1 389.3,130.2 390.1,130.2 391.0,130.2 391.8,130.2 392.6,130.3 393.5,130.3 394.3,130.3 395.2,130.3 396.0,130.3 396.9,130.4 397.7,130.4 398.5,130.4 399.4,130.4 400.2,130.4 401.1,130.4 401.9,130.4 402.8,130.5 403.6,130.5" fill="none" stroke="#0000ff" stroke-width="1.5" stroke-linejoin="round"/>
<path d="M302.2,108.0l2.3,4h-4.6z" fill="#0000ff"/>
<path d="M306.1,117.3l2.3,4h-4.6z" fill="#0000ff"/>
<path d="M310.0,120.6l2.3,4h-4.6z" fill="#0000ff"/>
<path d="M313.9,122.5l2.3,4h-4.6z" fill="#0000ff"/>
<path d="M317.8,123.5l2.3,4h-4.6z" fill="#0000ff"/>
<path d="M321.7,123.9l2.3,4h-4.6z" fill="#0000ff"/>
<path d="M325.6,124.2l2.3,4h-4.6z" fill="#0000ff"/>
<path d="M329.5,124.4l2.3,4h-4.6z" fill="#0000ff"/>
<path d="M333.4,124.5l2.3,4h-4.6z" fill="#0000ff"/>
<path d="M337.3,124.5l2.3,4h-4.6z" fill="#0000ff"/>
<path d="M341.2,124.6l2.3,4h-4.6z" fill="#0000ff"/>
<path d="M345.1,124.6l2.3,4h-4.6z" fill="#0000ff"/>
<path d="M349.0,124.9l2.3,4h-4.6z" fill="#0000ff"/>
<path d="M352.9,125.5l2.3,4h-4.6z" fill="#0000ff"/>
<path d="M356.8,125.9l2.3,4h-4.6z" fill="#0000ff"/>
<path d="M360.7,126.2l2.3,4h-4.6z" fill="#0000ff"/>
<path d="M364.6,126.5l2.3,4h-4.6z" fill="#0000ff"/>
<path d="M368.5,126.7l2.3,4h-4.6z" fill="#0000ff"/>
<path d="M372.4,126.9l2.3,4h-4.6z" fill="#0000ff"/>
<path d="M376.3,127.1l2.3,4h-4.6z" fill="#0000ff"/>
<path d="M380.2,127.3l2.3,4h-4.6z" fill="#0000ff"/>
<path d="M384.1,127.4l2.3,4h-4.6z" fill="#0000ff"/>
<path d="M388.0,127.5l2.3,4h-4.6z" fill="#0000ff"/>
<path d="M391.9,127.6l2.3,4h-4.6z" fill="#0000ff"/>
<path d="M395.8,127.7l2.3,4h-4.6z" fill="#0000ff"/>
<path d="M399.7,127.8l2.3,4h-4.6z" fill="#0000ff"/>
<path d="M403.6,127.9l2.3,4h-4.6z" fill="#0000ff"/>
<path d="M298.3,70.6 299.1,83.7 300.0,94.2 300.8,102.6 301.7,109.7 302.5,114.3 303.4,117.0 304.2,119.3 305.0,121.1 305.9,122.5 306.7,123.6 307.4,124.1 307.6,124.2 308.4,124.8 309.3,125.2 310.1,125.7 310.9,126.0 311.8,126.4 312.6,126.7 313.5,126.9 314.3,127.1 315.1,127.3 316.0,127.5 316.8,127.7 317.5,127.7 317.7,127.8 318.5,127.9 319.4,128.0 320.2,128.1 321.0,128.2 321.9,128.3 322.7,128.3 323.6,128.4 324.4,128.5 325.3,128.6 326.1,128.6 326.9,128.7 327.8,128.8 328.6,128.8 329.5,128.9 330.3,128.9 331.2,129.0 332.0,129.0 332.8,129.1 333.7,129.1 334.5,129.2 335.4,129.2 336.2,129.2 337.1,129.3 337.9,129.3 338.7,129.4 339.6,129.4 340.4,129.5 341.3,129.5 342.1,129.5 342.9,129.6 343.8,129.6 344.6,129.7 345.5,129.7 346.3,129.7 347.2,129.8 348.0,129.8 348.8,129.8 349.7,129.9 350.5,129.9 351.4,129.9 352.2,130.0 353.1,130.0 353.9,130.0 354.7,130.1 355.6,130.1 356.4,130.1 357.3,130.1 358.1,130.2 359.0,130.2 359.8,130.2 360.6,130.2 361.5,130.3 362.3,130.3 363.2,130.3 364.0,130.3 364.8,130.3 365.7,130.4 366.5,130.4 367.4,130.4 368.2,130.4 369.1,130.4 369.9,130.5 370.7,130.5 371.6,130.5 372.4,130.5 373.3,130.5 374.1,130.6 375.0,130.6 375.8,130.6 376.6,130.6 377.5,130.6 378.3,130.7 379.2,130.7 380.0,130.7 380.9,130.7 381.7,130.7 382.5,130.7 383.4,130.7 384.2,130.8 385.1,130.8 385.9,130.8 386.8,130.8 387.6,130.8 388.4,130.8 389.3,130.8 390.1,130.9 391.0,130.9 391.8,130.9 392.6,130.9 393.5,130.9 394.3,130.9 395.2,130.9 396.0,130.9 396.9,130.9 397.7,130.9 398.5,130.9 399.4,131.0 400.2,131.0 401.1,131.0 401.9,131.0 402.8,131.0 403.6,131.0" fill="none" stroke="#00ffff" stroke-width="1.5" stroke-linejoin="round"/>
<path d="M302.2,115.6l2.3,-4h-4.6z" fill="#00ffff"/>
<path d="M306.1,125.4l2.3,-4h-4.6z" fill="#00ffff"/>
<path d="M310.0,128.2l2.3,-4h-4.6z" fill="#00ffff"/>
<path d="M313.9,129.6l2.3,-4h-4.6z" fill="#00ffff"/>
<path d="M317.8,130.4l2.3,-4h-4.6z" fill="#00ffff"/>
<path d="M321.7,130.8l2.3,-4h-4.6z" fill="#00ffff"/>
<path d="M325.6,131.2l2.3,-4h-4.6z" fill="#00ffff"/>
<path d="M329.5,131.5l2.3,-4h-4.6z" fill="#00ffff"/>
<path d="M333.4,131.7l2.3,-4h-4.6z" fill="#00ffff"/>
<path d="M337.3,131.9l2.3,-4h-4.6z" fill="#00ffff"/>
<path d="M341.2,132.1l2.3,-4h-4.6z" fill="#00ffff"/>
<path d="M345.1,132.3l2.3,-4h-4.6z" fill="#00ffff"/>
<path d="M349.0,132.5l2.3,-4h-4.6z" fill="#00ffff"/>
<path d="M352.9,132.6l2.3,-4h-4.6z" fill="#00ffff"/>
<path d="M356.8,132.7l2.3,-4h-4.6z" fill="#00ffff"/>
<path d="M360.7,132.8l2.3,-4h-4.6z" fill="#00ffff"/>
<path d="M364.6,132.9l2.3,-4h-4.6z" fill="#00ffff"/>
<path d="M368.5,133.0l2.3,-4h-4.6z" fill="#00ffff"/>
<path d="M372.4,133.1l2.3,-4h-4.6z" fill="#00ffff"/>
<path d="M376.3,133.2l2.3,-4h-4.6z" fill="#00ffff"/>
<path d="M380.2,133.3l2.3,-4h-4.6z" fill="#00ffff"/>
<path d="M384.1,133.4l2.3,-4h-4.6z" fill="#00ffff"/>
<path d="M388.0,133.4l2.3,-4h-4.6z" fill="#00ffff"/>
<path d="M391.9,133.5l2.3,-4h-4.6z" fill="#00ffff"/>
<path d="M395.8,133.5l2.3,-4h-4.6z" fill="#00ffff"/>
<path d="M399.7,133.6l2.3,-4h-4.6z" fill="#00ffff"/>
<path d="M403.6,133.6l2.3,-4h-4.6z" fill="#00ffff"/>
<path d="M298.3,28.6 299.1,56.6 300.0,79.0 300.8,97.5 301.7,109.3 302.5,114.1 303.4,117.4 304.2,119.7 304.6,120.6 305.0,121.3 305.9,122.7 306.7,123.8 307.6,124.8 308.4,125.6 309.3,126.3 310.1,126.9 310.3,127.0 310.9,127.4 311.8,127.8 312.6,128.2 313.5,128.6 314.3,128.9 315.1,129.2 316.0,129.5 316.8,129.7 317.5,129.9 317.7,129.9 318.5,130.1 319.4,130.3 320.2,130.5 321.0,130.6 321.9,130.8 322.7,130.9 323.6,131.1 324.4,131.2 325.3,131.4 326.1,131.5 326.9,131.6 327.8,131.7 328.6,131.8 329.5,131.8 330.3,131.9 331.2,131.9 331.8,132.0 332.0,132.0 332.8,132.0 333.7,132.0 334.5,132.1 335.4,132.1 336.2,132.1 337.1,132.2 337.9,132.2 338.7,132.2 339.6,132.2 340.4,132.2 341.3,132.3 342.1,132.3 342.9,132.3 343.8,132.3 344.6,132.3 345.5,132.3 346.3,132.3 347.2,132.4 348.0,132.4 348.8,132.4 349.7,132.4 350.5,132.4 351.4,132.4 352.2,132.4 353.1,132.4 353.9,132.5 354.7,132.5 355.6,132.5 356.0,132.5 356.4,132.5 357.3,132.5 358.1,132.5 359.0,132.5 359.8,132.5 360.6,132.5 361.5,132.6 362.3,132.6 363.2,132.6 364.0,132.6 364.8,132.6 365.7,132.6 366.5,132.6 367.4,132.6 368.2,132.7 369.1,132.7 369.9,132.7 370.7,132.7 371.6,132.7 372.4,132.7 373.3,132.7 374.1,132.7 375.0,132.7 375.8,132.8 376.6,132.8 377.5,132.8 378.3,132.8 379.2,132.8 380.0,132.8 380.9,132.8 381.7,132.8 382.5,132.8 383.4,132.8 384.2,132.8 385.1,132.9 385.9,132.9 386.8,132.9 387.6,132.9 388.4,132.9 389.3,132.9 390.1,132.9 391.0,132.9 391.8,132.9 392.6,132.9 393.5,132.9 394.3,132.9 395.2,132.9 396.0,132.9 396.9,133.0 397.7,133.0 398.5,133.0 399.4,133.0 400.2,133.0 401.1,133.0 401.9,133.0 402.8,133.0 403.6,133.0" fill="none" stroke="#ff00ff" stroke-width="1.5" stroke-linejoin="round"/>
<circle cx="302.20" cy="112.50" r="1.75" fill="#ff00ff"/>
<circle cx="306.10" cy="123.00" r="1.75" fill="#ff00ff"/>
<circle cx="310.00" cy="126.85" r="1.75" fill="#ff00ff"/>
<circle cx="313.90" cy="128.78" r="1.75" fill="#ff00ff"/>
<circle cx="317.80" cy="129.94" r="1.75" fill="#ff00ff"/>
<circle cx="321.70" cy="130.75" r="1.75" fill="#ff00ff"/>
<circle cx="325.60" cy="131.40" r="1.75" fill="#ff00ff"/>
<circle cx="329.50" cy="131.84" r="1.75" fill="#ff00ff"/>
<circle cx="333.40" cy="132.04" r="1.75" fill="#ff00ff"/>
<circle cx="337.30" cy="132.16" r="1.75" fill="#ff00ff"/>
<circle cx="341.20" cy="132.25" r="1.75" fill="#ff00ff"/>
<circle cx="345.10" cy="132.33" r="1.75" fill="#ff00ff"/>
<circle cx="349.00" cy="132.39" r="1.75" fill="#ff00ff"/>
<circle cx="352.90" cy="132.44" r="1.75" fill="#ff00ff"/>
<circle cx="356.80" cy="132.49" r="1.75" fill="#ff00ff"/>
<circle cx="360.70" cy="132.55" r="1.75" fill="#ff00ff"/>
<circle cx="364.60" cy="132.61" r="1.75" fill="#ff00ff"/>
<circle cx="368.50" cy="132.66" r="1.75" fill="#ff00ff"/>
<circle cx="372.40" cy="132.71" r="1.75" fill="#ff00ff"/>
<circle cx="376.30" cy="132.76" r="1.75" fill="#ff00ff"/>
<circle cx="380.20" cy="132.80" r="1.75" fill="#ff00ff"/>
<circle cx="384.10" cy="132.84" r="1.75" fill="#ff00ff"/>
<circle cx="388.00" cy="132.88" r="1.75" fill="#ff00ff"/>
<circle cx="391.90" cy="132.92" r="1.75" fill="#ff00ff"/>
<circle cx="395.80" cy="132.95" r="1.75" fill="#ff00ff"/>
<circle cx="399.70" cy="132.97" r="1.75" fill="#ff00ff"/>
<circle cx="403.60" cy="132.99" r="1.75" fill="#ff00ff"/>
<path d="M298.3,72.0 299.1,76.8 299.4,78.0 300.0,79.3 300.8,81.0 301.7,82.8 302.5,83.0 303.4,83.3 304.2,83.6 305.0,83.9 305.9,84.1 306.7,84.4 307.6,84.7 308.4,85.0 309.3,85.3 310.1,85.5 310.9,85.8 311.8,86.1 312.6,86.4 313.5,86.6 314.3,86.9 314.5,87.0 315.1,87.3 316.0,87.7 316.8,88.2 317.7,88.6 318.5,89.0 319.4,89.5 320.2,89.9 321.0,90.6 321.9,91.3 322.7,92.0 323.6,92.8 324.4,93.5 325.3,94.2 326.1,94.9 326.9,95.6 327.8,96.3 328.6,97.0 329.5,97.7 330.3,98.5 331.2,99.2 332.0,99.9 332.8,100.6 333.7,101.3 334.5,102.0 335.4,103.5 336.2,105.0 337.1,106.5 337.9,108.0 338.7,109.5 338.9,109.9 339.6,111.4 340.4,113.4 341.3,115.4 342.1,117.4 342.9,119.4 343.8,121.3 344.6,123.3 345.5,125.3 345.9,126.3 346.3,126.8 347.2,127.9 348.0,128.9 348.2,129.2 348.8,129.3 349.7,129.4 350.5,129.6 351.4,129.7 352.2,129.9 353.1,130.0 353.9,130.2 354.7,130.3 355.6,130.5 356.0,130.6 356.4,130.6 357.3,130.6 358.1,130.6 359.0,130.6 359.8,130.7 360.6,130.7 361.5,130.7 362.3,130.7 363.2,130.7 364.0,130.8 364.8,130.8 365.7,130.8 366.5,130.8 367.4,130.9 368.2,130.9 369.1,130.9 369.9,130.9 370.7,130.9 371.6,131.0 372.0,131.0 372.4,131.0 373.3,131.0 374.1,131.0 375.0,131.0 375.8,131.0 376.6,131.0 377.5,131.0 378.3,131.0 379.2,131.0 380.0,131.0 380.9,131.0 381.7,131.0 382.5,131.0 383.4,131.0 384.2,131.0 385.1,131.1 385.9,131.1 386.8,131.1 387.6,131.1 388.4,131.1 389.3,131.1 390.1,131.1 391.0,131.1 391.8,131.1 392.6,131.1 393.5,131.1 394.3,131.1 395.2,131.1 396.0,131.1 396.9,131.1 397.7,131.1 398.5,131.1 399.4,131.1 400.2,131.1 401.1,131.2 401.9,131.2 402.8,131.2 403.6,131.2" fill="none" stroke="#2a2ade" stroke-width="1.6" stroke-linejoin="round"/>
<path d="M298.3,70.6 299.1,80.5 300.0,89.1 300.8,97.6 301.7,102.7 302.5,103.7 303.4,104.6 304.2,105.2 305.0,105.8 305.9,106.2 306.7,106.5 307.6,106.8 308.4,107.1 309.3,107.3 310.1,107.6 310.3,107.7 310.9,107.9 311.8,108.2 312.6,108.5 313.5,108.7 314.3,109.0 315.1,109.2 316.0,109.5 316.8,109.7 317.7,109.9 318.5,110.1 319.4,110.3 320.2,110.5 321.0,110.7 321.9,110.9 322.7,111.0 323.6,111.1 324.4,111.3 324.6,111.3 325.3,111.4 326.1,111.5 326.9,111.6 327.8,111.7 328.6,111.8 329.5,111.9 330.3,112.0 331.2,112.1 332.0,112.2 332.8,112.3 333.7,112.4 334.5,112.4 335.4,112.5 336.2,112.6 337.1,112.6 337.9,112.7 338.7,112.7 338.9,112.7 339.6,112.7 340.4,112.8 341.3,112.8 342.1,112.8 342.9,112.8 343.8,112.9 344.6,112.9 345.5,112.9 346.3,112.9 347.2,112.9 348.0,112.9 348.8,112.9 349.7,112.9 350.5,113.0 351.4,113.0 352.2,113.0 353.1,113.0 353.9,113.0 354.7,113.0 355.6,113.0 356.4,113.0 357.3,113.0 358.1,113.1 359.0,113.1 359.8,113.1 360.6,113.1 361.5,113.1 362.3,113.2 363.2,113.2 364.0,113.2 364.8,113.3 365.7,113.3 366.5,113.4 367.4,113.4 368.2,114.0 369.1,115.4 369.9,117.1 370.7,118.8 371.0,119.2 371.6,120.2 372.4,121.7 373.3,123.2 374.1,124.4 374.5,124.9 375.0,125.4 375.8,126.2 376.6,127.0 377.5,127.7 378.3,128.3 379.2,128.7 380.0,129.1 380.2,129.2 380.9,129.3 381.7,129.5 382.5,129.7 383.4,129.9 384.2,130.0 385.1,130.2 385.9,130.3 386.8,130.4 387.6,130.5 388.4,130.5 388.9,130.6 389.3,130.6 390.1,130.7 391.0,130.7 391.8,130.8 392.6,130.8 393.5,130.9 394.3,131.0 395.2,131.0 396.0,131.1 396.9,131.1 397.7,131.1 398.5,131.2 399.4,131.2 400.2,131.2 401.1,131.2 401.9,131.3 402.8,131.3 403.6,131.3" fill="none" stroke="#00f0f0" stroke-width="1.5" stroke-linejoin="round"/>
<path d="M298.3,29.6 299.1,55.7 300.0,74.0 300.8,85.5 301.7,94.1 302.4,97.7 302.5,97.8 303.4,99.0 304.2,99.9 305.0,100.7 305.9,101.2 306.7,101.7 307.6,102.1 308.4,102.4 309.3,102.8 310.1,103.3 310.3,103.4 310.9,103.8 311.8,104.4 312.6,104.9 313.5,105.5 314.3,106.0 315.1,106.5 316.0,107.0 316.8,107.6 317.7,108.1 318.5,108.6 319.4,109.0 320.2,109.5 321.0,110.0 321.9,110.5 322.7,111.0 323.6,111.4 324.4,111.9 324.6,112.0 325.3,112.3 326.1,112.8 326.9,113.2 327.8,113.7 328.6,114.1 329.5,114.5 330.3,114.9 331.2,115.3 332.0,115.8 332.8,116.2 333.7,116.6 334.5,117.0 335.4,117.4 336.2,117.8 337.1,118.2 337.9,118.6 338.7,119.1 338.9,119.2 339.6,119.5 340.4,119.9 341.3,120.4 342.1,120.9 342.9,121.3 343.8,121.8 344.6,122.2 345.5,122.5 345.9,122.7 346.3,122.9 347.2,123.1 348.0,123.4 348.8,123.7 349.7,123.9 350.5,124.1 351.4,124.3 352.2,124.6 353.1,124.8 353.9,125.0 354.7,125.2 355.6,125.5 356.0,125.6 356.4,125.8 357.3,126.1 358.1,126.4 359.0,126.7 359.8,126.9 360.2,127.0 360.6,127.1 361.5,127.4 362.3,127.6 363.2,127.8 364.0,127.9 364.8,128.1 365.7,128.3 366.5,128.5 367.4,128.6 368.2,128.8 369.1,128.9 369.9,129.1 370.7,129.2 371.6,129.4 372.4,129.5 373.3,129.7 374.1,129.8 374.5,129.9 375.0,129.9 375.8,130.1 376.6,130.2 377.5,130.3 378.3,130.4 379.2,130.6 380.0,130.7 380.9,130.8 381.7,130.9 382.5,131.1 383.4,131.2 384.2,131.3 385.1,131.4 385.9,131.5 386.8,131.7 387.6,131.8 388.4,131.9 389.3,132.0 390.1,132.1 391.0,132.2 391.8,132.3 392.6,132.4 393.5,132.5 394.3,132.6 395.2,132.7 396.0,132.8 396.9,132.9 397.7,133.0 398.5,133.0 399.4,133.1 400.2,133.2 401.1,133.3 401.9,133.4 402.8,133.4 403.6,133.5" fill="none" stroke="#f000f0" stroke-width="1.4" stroke-linejoin="round"/>
<path d="M298.3,30.6 299.1,59.8 300.0,84.1 300.8,105.7 301.7,119.4 302.5,124.0 303.4,127.3 304.2,129.1 304.6,129.5 305.0,129.6 305.9,129.8 306.7,130.0 307.6,130.2 308.4,130.4 309.3,130.5 310.1,130.6 310.9,130.8 311.8,130.9 312.6,130.9 313.5,131.0 314.3,131.1 315.1,131.1 316.0,131.2 316.8,131.2 317.7,131.2 318.5,131.3 319.4,131.3 320.2,131.3 321.0,131.3 321.9,131.3 322.7,131.3 323.6,131.4 324.4,131.4 325.3,131.4 326.1,131.4 326.9,131.4 327.8,131.4 328.6,131.4 329.5,131.5 330.3,131.5 331.2,131.5 332.0,131.5 332.8,131.5 333.7,131.5 334.5,131.5 335.4,131.5 336.2,131.6 337.1,131.6 337.9,131.6 338.7,131.6 339.6,131.6 340.4,131.6 341.3,131.6 342.1,131.6 342.9,131.6 343.8,131.7 344.6,131.7 345.5,131.7 346.3,131.7 347.2,131.7 348.0,131.7 348.8,131.7 349.7,131.7 350.5,131.7 351.4,131.7 352.2,131.8 353.1,131.8 353.9,131.8 354.7,131.8 355.6,131.8 356.4,131.8 357.3,131.8 358.1,131.8 359.0,131.8 359.8,131.8 360.6,131.8 361.5,131.8 362.3,131.8 363.2,131.8 364.0,131.9 364.8,131.9 365.7,131.9 366.5,131.9 367.4,131.9 368.2,131.9 369.1,131.9 369.9,131.9 370.7,131.9 371.6,131.9 372.4,131.9 373.3,131.9 374.1,131.9 375.0,131.9 375.8,131.9 376.6,131.9 377.5,131.9 378.3,131.9 379.2,131.9 380.0,131.9 380.9,131.9 381.7,131.9 382.5,131.9 383.4,131.9 384.2,132.0 385.1,132.0 385.9,132.0 386.8,132.0 387.6,132.0 388.4,132.0 389.3,132.0 390.1,132.0 391.0,132.0 391.8,132.0 392.6,132.0 393.5,132.0 394.3,132.0 395.2,132.0 396.0,132.0 396.9,132.0 397.7,132.0 398.5,132.0 399.4,132.0 400.2,132.0 401.1,132.0 401.9,132.0 402.8,132.0 403.6,132.0" fill="none" stroke="#00e600" stroke-width="1.5" stroke-linejoin="round" stroke-dasharray="3.2,2.2"/>
<path d="M298.3,30.6 299.1,58.8 300.0,84.1 300.8,110.5 301.7,126.3 302.5,128.3 303.4,129.6 304.2,130.3 304.6,130.6 305.0,130.8 305.9,131.2 306.7,131.6 307.6,131.9 308.4,132.1 309.3,132.3 310.1,132.5 310.3,132.5 310.9,132.5 311.8,132.6 312.6,132.7 313.5,132.7 314.3,132.8 315.1,132.9 316.0,132.9 316.8,132.9 317.7,133.0 318.5,133.0 319.4,133.0 320.2,133.0 321.0,133.0 321.9,133.0 322.7,133.0 323.6,133.0 324.4,133.1 325.3,133.1 326.1,133.1 326.9,133.1 327.8,133.1 328.6,133.1 329.5,133.1 330.3,133.1 331.2,133.1 332.0,133.1 332.8,133.2 333.7,133.2 334.5,133.2 335.4,133.2 336.2,133.2 337.1,133.2 337.9,133.2 338.7,133.2 339.6,133.2 340.4,133.2 341.3,133.2 342.1,133.2 342.9,133.3 343.8,133.3 344.6,133.3 345.5,133.3 346.3,133.3 347.2,133.3 348.0,133.3 348.8,133.3 349.7,133.3 350.5,133.3 351.4,133.3 352.2,133.3 353.1,133.3 353.9,133.3 354.7,133.3 355.6,133.3 356.4,133.4 357.3,133.4 358.1,133.4 359.0,133.4 359.8,133.4 360.6,133.4 361.5,133.4 362.3,133.4 363.2,133.4 364.0,133.4 364.8,133.4 365.7,133.4 366.5,133.4 367.4,133.4 368.2,133.4 369.1,133.4 369.9,133.4 370.7,133.4 371.6,133.4 372.4,133.4 373.3,133.4 374.1,133.4 375.0,133.4 375.8,133.4 376.6,133.5 377.5,133.5 378.3,133.5 379.2,133.5 380.0,133.5 380.9,133.5 381.7,133.5 382.5,133.5 383.4,133.5 384.2,133.5 385.1,133.5 385.9,133.5 386.8,133.5 387.6,133.5 388.4,133.5 389.3,133.5 390.1,133.5 391.0,133.5 391.8,133.5 392.6,133.5 393.5,133.5 394.3,133.5 395.2,133.5 396.0,133.5 396.9,133.5 397.7,133.5 398.5,133.5 399.4,133.5 400.2,133.5 401.1,133.5 401.9,133.5 402.8,133.5 403.6,133.5" fill="none" stroke="#00e600" stroke-width="1.5" stroke-linejoin="round"/>
<circle cx="298.30" cy="64.90" r="1.7" fill="#ff8c8c" stroke="#ff0000" stroke-width="1.35"/>
<path d="M298.3,27.7l2.3,4h-4.6z" fill="#0000ff"/>
<path d="M298.3,73.2l2.3,-4h-4.6z" fill="#00ffff"/>
<circle cx="298.30" cy="28.58" r="1.75" fill="#ff00ff"/>
<text class="tk" transform="translate(298.30,143.10) scale(0.9,1)" font-size="6.8" text-anchor="middle">0</text>
<text class="tk" transform="translate(319.36,143.10) scale(0.9,1)" font-size="6.8" text-anchor="middle">100</text>
<text class="tk" transform="translate(340.42,143.10) scale(0.9,1)" font-size="6.8" text-anchor="middle">200</text>
<text class="tk" transform="translate(361.48,143.10) scale(0.9,1)" font-size="6.8" text-anchor="middle">300</text>
<text class="tk" transform="translate(382.54,143.10) scale(0.9,1)" font-size="6.8" text-anchor="middle">400</text>
<text class="tk" transform="translate(403.60,143.10) scale(0.9,1)" font-size="6.8" text-anchor="middle">500</text>
<text class="tk" transform="translate(295.90,137.30) scale(0.9,1)" font-size="6.8" text-anchor="end">0</text>
<text class="tk" transform="translate(295.90,117.12) scale(0.9,1)" font-size="6.8" text-anchor="end">2</text>
<text class="tk" transform="translate(295.90,96.95) scale(0.9,1)" font-size="6.8" text-anchor="end">4</text>
<text class="tk" transform="translate(295.90,76.77) scale(0.9,1)" font-size="6.8" text-anchor="end">6</text>
<text class="tk" transform="translate(295.90,56.60) scale(0.9,1)" font-size="6.8" text-anchor="end">8</text>
<text class="tk" transform="translate(295.90,36.42) scale(0.9,1)" font-size="6.8" text-anchor="end">10</text>
<text class="tk" transform="translate(295.90,16.25) scale(0.9,1)" font-size="6.8" text-anchor="end">12</text>
<text transform="translate(299.30,11.95) scale(0.98,1)" font-size="6.8" fill="#444" style="stroke:#444;stroke-width:0.08px">×10<tspan font-size="5.1" dy="-2.4">4</tspan></text>
<text transform="translate(350.95,12.05) scale(0.875,1)" font-size="7.8" text-anchor="middle" fill="#111">CEC2017 F3 Dim=50</text>
<text x="350.95" y="152.10" font-size="6.8" text-anchor="middle" fill="#262626">Iterations</text>
<text transform="translate(286.30,73.97) rotate(-90)" font-size="7" text-anchor="middle" fill="#262626">Fitness</text>
<line x1="463.08" y1="13.45" x2="463.08" y2="134.20" stroke="#e6e6e6" stroke-width="0.6"/>
<line x1="482.66" y1="13.45" x2="482.66" y2="134.20" stroke="#e6e6e6" stroke-width="0.6"/>
<line x1="502.24" y1="13.45" x2="502.24" y2="134.20" stroke="#e6e6e6" stroke-width="0.6"/>
<line x1="521.82" y1="13.45" x2="521.82" y2="134.20" stroke="#e6e6e6" stroke-width="0.6"/>
<line x1="443.50" y1="114.07" x2="541.40" y2="114.07" stroke="#e6e6e6" stroke-width="0.6"/>
<line x1="443.50" y1="93.95" x2="541.40" y2="93.95" stroke="#e6e6e6" stroke-width="0.6"/>
<line x1="443.50" y1="73.82" x2="541.40" y2="73.82" stroke="#e6e6e6" stroke-width="0.6"/>
<line x1="443.50" y1="53.70" x2="541.40" y2="53.70" stroke="#e6e6e6" stroke-width="0.6"/>
<line x1="443.50" y1="33.58" x2="541.40" y2="33.58" stroke="#e6e6e6" stroke-width="0.6"/>
<rect x="443.50" y="13.45" width="97.90" height="120.75" fill="none" stroke="#a0a0a0" stroke-width="0.9"/>
<path d="M443.50,134.20v-1.2M443.50,13.45v1.2M463.08,134.20v-1.2M463.08,13.45v1.2M482.66,134.20v-1.2M482.66,13.45v1.2M502.24,134.20v-1.2M502.24,13.45v1.2M521.82,134.20v-1.2M521.82,13.45v1.2M541.40,134.20v-1.2M541.40,13.45v1.2M443.50,134.20h1.2M541.40,134.20h-1.2M443.50,114.07h1.2M541.40,114.07h-1.2M443.50,93.95h1.2M541.40,93.95h-1.2M443.50,73.82h1.2M541.40,73.82h-1.2M443.50,53.70h1.2M541.40,53.70h-1.2M443.50,33.58h1.2M541.40,33.58h-1.2M443.50,13.45h1.2M541.40,13.45h-1.2" stroke="#a0a0a0" stroke-width="0.7" fill="none"/>
<path d="M443.5,50.6 444.3,63.3 445.1,74.1 445.8,81.1 446.0,82.0 446.6,83.9 447.4,85.9 448.2,87.3 449.0,88.4 449.6,89.1 449.8,89.3 450.5,90.0 451.3,90.6 452.1,91.0 452.9,91.4 453.7,91.8 454.5,92.3 455.2,92.9 455.8,93.4 456.0,93.7 456.8,94.8 457.6,96.2 458.4,97.8 459.2,99.3 459.6,100.0 459.9,100.6 460.7,101.8 461.5,103.0 462.3,104.2 463.1,105.3 463.9,106.5 464.6,107.8 465.4,109.1 466.2,110.4 467.0,111.6 467.8,112.8 468.2,113.4 468.6,113.9 469.3,114.9 470.1,115.9 470.9,116.9 471.7,117.8 472.5,118.7 473.3,119.4 473.8,119.9 474.0,120.1 474.8,120.7 475.6,121.3 476.4,121.8 477.2,122.3 478.0,122.8 478.7,123.2 479.5,123.6 480.3,123.9 480.9,124.1 481.1,124.2 481.9,124.4 482.7,124.7 483.4,124.9 484.2,125.1 485.0,125.2 485.8,125.4 486.6,125.5 487.4,125.7 488.1,125.8 488.9,125.9 489.7,126.0 489.9,126.0 490.5,126.1 491.3,126.2 492.1,126.3 492.8,126.4 493.6,126.5 494.4,126.6 495.2,126.7 496.0,126.8 496.8,126.8 497.5,126.9 498.3,127.0 499.1,127.0 499.9,127.0 500.7,127.1 501.1,127.1 501.5,127.1 502.2,127.1 503.0,127.1 503.8,127.1 504.6,127.1 505.4,127.1 506.2,127.1 506.9,127.1 507.7,127.1 508.5,127.1 509.3,127.1 510.1,127.1 510.9,127.1 511.6,127.1 512.4,127.1 513.2,127.1 514.0,127.1 514.8,127.1 515.6,127.1 516.3,127.1 517.1,127.1 517.9,127.1 518.7,127.1 519.5,127.1 520.3,127.1 521.0,127.1 521.8,127.1 522.6,127.1 523.4,127.1 524.2,127.1 525.0,127.1 525.7,127.1 526.5,127.1 527.3,127.1 528.1,127.1 528.9,127.1 529.7,127.1 530.4,127.2 531.2,127.2 532.0,127.2 532.8,127.2 533.6,127.2 534.4,127.2 535.1,127.2 535.9,127.2 536.7,127.2 537.5,127.2 538.3,127.2 539.1,127.2 539.8,127.2 540.6,127.2 541.4,127.2" fill="none" stroke="#ff0000" stroke-width="1.5" stroke-linejoin="round"/>
<circle cx="447.13" cy="85.21" r="1.7" fill="#ff8c8c" stroke="#ff0000" stroke-width="1.35"/>
<circle cx="450.75" cy="90.18" r="1.7" fill="#ff8c8c" stroke="#ff0000" stroke-width="1.35"/>
<circle cx="454.38" cy="92.25" r="1.7" fill="#ff8c8c" stroke="#ff0000" stroke-width="1.35"/>
<circle cx="458.00" cy="97.05" r="1.7" fill="#ff8c8c" stroke="#ff0000" stroke-width="1.35"/>
<circle cx="461.63" cy="103.18" r="1.7" fill="#ff8c8c" stroke="#ff0000" stroke-width="1.35"/>
<circle cx="465.26" cy="108.79" r="1.7" fill="#ff8c8c" stroke="#ff0000" stroke-width="1.35"/>
<circle cx="468.88" cy="114.32" r="1.7" fill="#ff8c8c" stroke="#ff0000" stroke-width="1.35"/>
<circle cx="472.51" cy="118.69" r="1.7" fill="#ff8c8c" stroke="#ff0000" stroke-width="1.35"/>
<circle cx="476.13" cy="121.63" r="1.7" fill="#ff8c8c" stroke="#ff0000" stroke-width="1.35"/>
<circle cx="479.76" cy="123.71" r="1.7" fill="#ff8c8c" stroke="#ff0000" stroke-width="1.35"/>
<circle cx="483.39" cy="124.85" r="1.7" fill="#ff8c8c" stroke="#ff0000" stroke-width="1.35"/>
<circle cx="487.01" cy="125.61" r="1.7" fill="#ff8c8c" stroke="#ff0000" stroke-width="1.35"/>
<circle cx="490.64" cy="126.14" r="1.7" fill="#ff8c8c" stroke="#ff0000" stroke-width="1.35"/>
<circle cx="494.26" cy="126.59" r="1.7" fill="#ff8c8c" stroke="#ff0000" stroke-width="1.35"/>
<circle cx="497.89" cy="126.93" r="1.7" fill="#ff8c8c" stroke="#ff0000" stroke-width="1.35"/>
<circle cx="501.51" cy="127.06" r="1.7" fill="#ff8c8c" stroke="#ff0000" stroke-width="1.35"/>
<circle cx="505.14" cy="127.08" r="1.7" fill="#ff8c8c" stroke="#ff0000" stroke-width="1.35"/>
<circle cx="508.77" cy="127.10" r="1.7" fill="#ff8c8c" stroke="#ff0000" stroke-width="1.35"/>
<circle cx="512.39" cy="127.11" r="1.7" fill="#ff8c8c" stroke="#ff0000" stroke-width="1.35"/>
<circle cx="516.02" cy="127.12" r="1.7" fill="#ff8c8c" stroke="#ff0000" stroke-width="1.35"/>
<circle cx="519.64" cy="127.13" r="1.7" fill="#ff8c8c" stroke="#ff0000" stroke-width="1.35"/>
<circle cx="523.27" cy="127.14" r="1.7" fill="#ff8c8c" stroke="#ff0000" stroke-width="1.35"/>
<circle cx="526.90" cy="127.15" r="1.7" fill="#ff8c8c" stroke="#ff0000" stroke-width="1.35"/>
<circle cx="530.52" cy="127.15" r="1.7" fill="#ff8c8c" stroke="#ff0000" stroke-width="1.35"/>
<circle cx="534.15" cy="127.15" r="1.7" fill="#ff8c8c" stroke="#ff0000" stroke-width="1.35"/>
<circle cx="537.77" cy="127.16" r="1.7" fill="#ff8c8c" stroke="#ff0000" stroke-width="1.35"/>
<circle cx="541.40" cy="127.16" r="1.7" fill="#ff8c8c" stroke="#ff0000" stroke-width="1.35"/>
<path d="M443.5,24.9 444.3,32.1 445.1,38.5 445.8,44.2 446.6,49.0 447.4,52.7 448.2,55.5 449.0,57.8 449.8,59.8 450.4,61.2 450.5,61.7 451.3,63.5 452.1,65.1 452.9,66.6 453.7,68.0 453.9,68.4 454.5,69.4 455.2,70.8 456.0,72.1 456.8,73.3 457.4,74.1 457.6,74.4 458.4,75.5 459.2,76.6 459.9,77.6 460.7,78.6 461.5,79.5 462.3,80.4 462.5,80.6 463.1,81.2 463.9,82.0 464.6,82.8 465.4,83.6 466.2,84.3 467.0,85.1 467.8,85.7 468.6,86.3 469.3,86.9 469.5,87.0 470.1,87.4 470.9,87.9 471.7,88.3 472.5,88.7 473.3,89.1 474.0,89.5 474.8,89.9 475.6,90.2 476.4,90.5 476.8,90.6 477.2,90.8 478.0,91.0 478.7,91.3 479.5,91.5 480.3,91.8 481.1,92.0 481.9,92.2 482.7,92.4 483.4,92.6 484.2,92.7 485.0,92.9 485.8,93.0 486.6,93.1 486.8,93.1 487.4,93.2 488.1,93.3 488.9,93.4 489.7,93.4 490.5,93.5 491.3,93.6 492.1,93.6 492.8,93.7 493.6,93.7 494.4,93.8 495.2,93.8 496.0,93.9 496.8,93.9 497.5,94.0 498.3,94.0 499.1,94.0 499.9,94.1 500.7,94.1 501.1,94.2 501.5,94.2 502.2,94.2 503.0,94.3 503.8,94.3 504.6,94.3 505.4,94.4 506.2,94.4 506.9,94.5 507.7,94.5 508.5,94.5 509.3,94.6 510.1,94.6 510.9,94.7 511.6,94.7 512.4,94.7 513.2,94.8 514.0,94.8 514.8,94.8 515.6,94.9 516.3,94.9 517.1,95.0 517.9,95.0 518.7,95.0 519.5,95.1 520.3,95.1 521.0,95.1 521.8,95.2 522.6,95.2 523.4,95.2 524.2,95.3 525.0,95.3 525.7,95.3 526.5,95.3 527.3,95.4 528.1,95.4 528.9,95.4 529.7,95.5 530.4,95.5 531.2,95.5 532.0,95.5 532.8,95.6 533.6,95.6 534.4,95.6 535.1,95.6 535.9,95.6 536.7,95.7 537.5,95.7 538.3,95.7 539.1,95.7 539.8,95.7 540.6,95.7 541.4,95.8" fill="none" stroke="#0000ff" stroke-width="1.5" stroke-linejoin="round"/>
<path d="M447.1,48.8l2.3,4h-4.6z" fill="#0000ff"/>
<path d="M450.8,59.6l2.3,4h-4.6z" fill="#0000ff"/>
<path d="M454.4,66.7l2.3,4h-4.6z" fill="#0000ff"/>
<path d="M458.0,72.4l2.3,4h-4.6z" fill="#0000ff"/>
<path d="M461.6,77.0l2.3,4h-4.6z" fill="#0000ff"/>
<path d="M465.3,80.8l2.3,4h-4.6z" fill="#0000ff"/>
<path d="M468.9,84.0l2.3,4h-4.6z" fill="#0000ff"/>
<path d="M472.5,86.2l2.3,4h-4.6z" fill="#0000ff"/>
<path d="M476.1,87.8l2.3,4h-4.6z" fill="#0000ff"/>
<path d="M479.8,89.0l2.3,4h-4.6z" fill="#0000ff"/>
<path d="M483.4,90.0l2.3,4h-4.6z" fill="#0000ff"/>
<path d="M487.0,90.6l2.3,4h-4.6z" fill="#0000ff"/>
<path d="M490.6,90.9l2.3,4h-4.6z" fill="#0000ff"/>
<path d="M494.3,91.2l2.3,4h-4.6z" fill="#0000ff"/>
<path d="M497.9,91.4l2.3,4h-4.6z" fill="#0000ff"/>
<path d="M501.5,91.6l2.3,4h-4.6z" fill="#0000ff"/>
<path d="M505.1,91.8l2.3,4h-4.6z" fill="#0000ff"/>
<path d="M508.8,92.0l2.3,4h-4.6z" fill="#0000ff"/>
<path d="M512.4,92.1l2.3,4h-4.6z" fill="#0000ff"/>
<path d="M516.0,92.3l2.3,4h-4.6z" fill="#0000ff"/>
<path d="M519.6,92.5l2.3,4h-4.6z" fill="#0000ff"/>
<path d="M523.3,92.6l2.3,4h-4.6z" fill="#0000ff"/>
<path d="M526.9,92.8l2.3,4h-4.6z" fill="#0000ff"/>
<path d="M530.5,92.9l2.3,4h-4.6z" fill="#0000ff"/>
<path d="M534.1,93.0l2.3,4h-4.6z" fill="#0000ff"/>
<path d="M537.8,93.1l2.3,4h-4.6z" fill="#0000ff"/>
<path d="M541.4,93.2l2.3,4h-4.6z" fill="#0000ff"/>
<path d="M443.5,45.7 444.3,51.2 445.1,56.4 445.5,58.7 445.8,61.1 446.6,65.7 447.4,69.9 448.2,73.2 448.4,73.8 449.0,75.5 449.8,77.5 450.5,79.3 451.3,80.9 452.1,82.3 452.9,83.5 453.7,84.6 453.9,84.9 454.5,85.7 455.2,86.7 456.0,87.7 456.8,88.6 457.6,89.5 458.4,90.3 459.2,91.0 459.9,91.7 460.7,92.3 461.5,92.9 462.3,93.3 462.5,93.4 463.1,93.8 463.9,94.1 464.6,94.5 465.4,94.9 466.2,95.2 467.0,95.6 467.8,95.9 468.6,96.2 469.3,96.4 470.1,96.7 470.9,96.9 471.7,97.2 472.5,97.4 473.3,97.6 474.0,97.8 474.8,98.0 475.6,98.1 476.4,98.3 476.8,98.4 477.2,98.4 478.0,98.6 478.7,98.7 479.5,98.9 480.3,99.0 481.1,99.1 481.9,99.3 482.7,99.4 483.4,99.5 484.2,99.6 485.0,99.7 485.8,99.8 486.6,100.0 487.4,100.1 488.1,100.2 488.9,100.3 489.7,100.4 490.5,100.4 491.3,100.5 492.1,100.6 492.8,100.7 493.6,100.8 494.4,100.8 495.2,100.9 496.0,101.0 496.8,101.0 497.5,101.1 498.3,101.1 499.1,101.2 499.9,101.2 500.7,101.3 501.1,101.3 501.5,101.3 502.2,101.4 503.0,101.4 503.8,101.4 504.6,101.5 505.4,101.5 506.2,101.5 506.9,101.6 507.7,101.6 508.5,101.6 509.3,101.7 510.1,101.7 510.9,101.7 511.6,101.8 512.4,101.8 513.2,101.8 514.0,101.8 514.8,101.9 515.6,101.9 516.3,101.9 517.1,102.0 517.9,102.0 518.7,102.0 519.5,102.0 520.3,102.1 521.0,102.1 521.8,102.1 522.6,102.1 523.4,102.1 524.2,102.2 525.0,102.2 525.7,102.2 526.5,102.2 527.3,102.2 528.1,102.3 528.9,102.3 529.7,102.3 530.4,102.3 531.2,102.3 532.0,102.3 532.8,102.3 533.6,102.4 534.4,102.4 535.1,102.4 535.9,102.4 536.7,102.4 537.5,102.4 538.3,102.4 539.1,102.4 539.8,102.4 540.6,102.4 541.4,102.4" fill="none" stroke="#00ffff" stroke-width="1.5" stroke-linejoin="round"/>
<path d="M447.1,71.0l2.3,-4h-4.6z" fill="#00ffff"/>
<path d="M450.8,82.3l2.3,-4h-4.6z" fill="#00ffff"/>
<path d="M454.4,88.2l2.3,-4h-4.6z" fill="#00ffff"/>
<path d="M458.0,92.5l2.3,-4h-4.6z" fill="#00ffff"/>
<path d="M461.6,95.5l2.3,-4h-4.6z" fill="#00ffff"/>
<path d="M465.3,97.4l2.3,-4h-4.6z" fill="#00ffff"/>
<path d="M468.9,98.9l2.3,-4h-4.6z" fill="#00ffff"/>
<path d="M472.5,100.0l2.3,-4h-4.6z" fill="#00ffff"/>
<path d="M476.1,100.9l2.3,-4h-4.6z" fill="#00ffff"/>
<path d="M479.8,101.5l2.3,-4h-4.6z" fill="#00ffff"/>
<path d="M483.4,102.1l2.3,-4h-4.6z" fill="#00ffff"/>
<path d="M487.0,102.6l2.3,-4h-4.6z" fill="#00ffff"/>
<path d="M490.6,103.1l2.3,-4h-4.6z" fill="#00ffff"/>
<path d="M494.3,103.4l2.3,-4h-4.6z" fill="#00ffff"/>
<path d="M497.9,103.7l2.3,-4h-4.6z" fill="#00ffff"/>
<path d="M501.5,103.9l2.3,-4h-4.6z" fill="#00ffff"/>
<path d="M505.1,104.1l2.3,-4h-4.6z" fill="#00ffff"/>
<path d="M508.8,104.2l2.3,-4h-4.6z" fill="#00ffff"/>
<path d="M512.4,104.4l2.3,-4h-4.6z" fill="#00ffff"/>
<path d="M516.0,104.5l2.3,-4h-4.6z" fill="#00ffff"/>
<path d="M519.6,104.6l2.3,-4h-4.6z" fill="#00ffff"/>
<path d="M523.3,104.7l2.3,-4h-4.6z" fill="#00ffff"/>
<path d="M526.9,104.8l2.3,-4h-4.6z" fill="#00ffff"/>
<path d="M530.5,104.9l2.3,-4h-4.6z" fill="#00ffff"/>
<path d="M534.1,105.0l2.3,-4h-4.6z" fill="#00ffff"/>
<path d="M537.8,105.0l2.3,-4h-4.6z" fill="#00ffff"/>
<path d="M541.4,105.0l2.3,-4h-4.6z" fill="#00ffff"/>
<path d="M443.5,21.3 444.3,39.3 445.1,53.7 445.8,66.1 446.6,73.4 447.4,75.1 448.2,76.2 449.0,77.0 449.8,77.6 450.5,78.2 451.3,78.8 452.1,79.6 452.3,79.9 452.9,80.7 453.7,82.1 454.5,83.5 455.2,84.9 455.8,85.9 456.0,86.2 456.8,87.4 457.6,88.6 458.4,89.7 459.2,90.8 459.9,92.0 460.7,93.2 461.5,94.3 462.3,95.2 463.1,95.8 463.9,96.3 464.6,96.8 465.4,97.2 466.2,97.7 466.6,97.9 467.0,98.1 467.8,98.5 468.6,98.9 469.3,99.3 470.1,99.7 470.9,100.1 471.7,100.4 472.1,100.6 472.5,100.8 473.3,101.1 474.0,101.4 474.8,101.7 475.6,102.0 476.4,102.3 477.2,102.6 477.6,102.7 478.0,102.9 478.7,103.2 479.5,103.5 480.3,103.8 481.1,104.1 481.9,104.4 482.7,104.7 483.4,105.0 484.2,105.3 485.0,105.6 485.8,105.8 486.6,106.1 487.4,106.3 488.1,106.5 488.3,106.5 488.9,106.7 489.7,106.8 490.5,107.0 491.3,107.1 492.1,107.2 492.8,107.4 493.6,107.5 494.4,107.6 495.2,107.7 496.0,107.8 496.8,107.9 497.5,108.0 498.3,108.1 499.1,108.2 499.9,108.3 500.7,108.4 501.1,108.4 501.5,108.5 502.2,108.6 503.0,108.6 503.8,108.7 504.6,108.8 505.4,108.9 506.2,108.9 506.9,109.0 507.7,109.1 508.5,109.1 509.3,109.2 510.1,109.3 510.9,109.3 511.6,109.4 512.4,109.4 513.2,109.5 514.0,109.5 514.8,109.6 515.6,109.6 516.3,109.7 517.1,109.8 517.9,109.8 518.7,109.9 519.5,109.9 520.3,110.0 521.0,110.0 521.8,110.0 522.6,110.1 523.4,110.1 524.2,110.2 525.0,110.2 525.7,110.3 526.5,110.3 527.3,110.4 528.1,110.4 528.9,110.5 529.7,110.5 530.4,110.5 531.2,110.6 532.0,110.6 532.8,110.7 533.6,110.7 534.4,110.7 535.1,110.8 535.9,110.8 536.7,110.9 537.5,110.9 538.3,110.9 539.1,111.0 539.8,111.0 540.6,111.0 541.4,111.1" fill="none" stroke="#ff00ff" stroke-width="1.5" stroke-linejoin="round"/>
<circle cx="447.13" cy="74.52" r="1.75" fill="#ff00ff"/>
<circle cx="450.75" cy="78.30" r="1.75" fill="#ff00ff"/>
<circle cx="454.38" cy="83.35" r="1.75" fill="#ff00ff"/>
<circle cx="458.00" cy="89.17" r="1.75" fill="#ff00ff"/>
<circle cx="461.63" cy="94.45" r="1.75" fill="#ff00ff"/>
<circle cx="465.26" cy="97.14" r="1.75" fill="#ff00ff"/>
<circle cx="468.88" cy="99.09" r="1.75" fill="#ff00ff"/>
<circle cx="472.51" cy="100.77" r="1.75" fill="#ff00ff"/>
<circle cx="476.13" cy="102.18" r="1.75" fill="#ff00ff"/>
<circle cx="479.76" cy="103.55" r="1.75" fill="#ff00ff"/>
<circle cx="483.39" cy="104.99" r="1.75" fill="#ff00ff"/>
<circle cx="487.01" cy="106.20" r="1.75" fill="#ff00ff"/>
<circle cx="490.64" cy="106.99" r="1.75" fill="#ff00ff"/>
<circle cx="494.26" cy="107.59" r="1.75" fill="#ff00ff"/>
<circle cx="497.89" cy="108.08" r="1.75" fill="#ff00ff"/>
<circle cx="501.51" cy="108.49" r="1.75" fill="#ff00ff"/>
<circle cx="505.14" cy="108.84" r="1.75" fill="#ff00ff"/>
<circle cx="508.77" cy="109.15" r="1.75" fill="#ff00ff"/>
<circle cx="512.39" cy="109.43" r="1.75" fill="#ff00ff"/>
<circle cx="516.02" cy="109.68" r="1.75" fill="#ff00ff"/>
<circle cx="519.64" cy="109.91" r="1.75" fill="#ff00ff"/>
<circle cx="523.27" cy="110.14" r="1.75" fill="#ff00ff"/>
<circle cx="526.90" cy="110.35" r="1.75" fill="#ff00ff"/>
<circle cx="530.52" cy="110.55" r="1.75" fill="#ff00ff"/>
<circle cx="534.15" cy="110.74" r="1.75" fill="#ff00ff"/>
<circle cx="537.77" cy="110.91" r="1.75" fill="#ff00ff"/>
<circle cx="541.40" cy="111.06" r="1.75" fill="#ff00ff"/>
<path d="M443.5,49.2 444.3,49.6 445.1,50.3 445.8,51.2 446.6,52.2 447.4,53.4 448.2,55.2 449.0,57.6 449.8,60.0 450.5,61.7 450.9,62.1 451.3,62.2 452.1,62.4 452.9,62.6 453.7,62.7 454.5,62.9 455.2,63.1 456.0,63.2 456.8,63.3 457.6,63.4 458.4,63.5 459.2,63.6 459.9,63.7 460.7,63.8 461.5,63.8 462.3,63.9 463.1,63.9 463.9,64.0 464.6,64.0 465.4,64.1 466.2,64.1 467.0,64.1 467.8,64.2 468.6,64.2 469.3,64.2 470.1,64.3 470.9,64.3 471.7,64.4 472.5,64.4 473.3,64.5 474.0,64.5 474.8,64.6 475.6,64.7 476.4,64.8 477.2,64.9 478.0,65.0 478.7,65.1 479.5,65.3 480.3,65.4 481.1,65.6 481.9,65.8 482.7,66.1 483.4,66.5 484.2,66.9 485.0,67.4 485.8,67.9 486.6,68.3 487.4,68.8 487.9,69.1 488.1,69.2 488.9,69.6 489.7,69.9 490.5,70.3 491.3,70.6 492.1,71.0 492.8,71.3 493.6,71.7 494.4,72.0 495.2,72.4 496.0,72.8 496.8,73.1 497.5,73.6 498.3,74.0 499.1,74.5 499.9,74.9 500.5,75.3 500.7,75.5 501.5,76.1 502.2,76.7 503.0,77.4 503.8,78.1 504.6,78.9 505.4,79.7 506.2,80.6 506.9,81.5 507.7,82.5 508.5,83.4 508.7,83.7 509.3,84.5 510.1,85.7 510.9,87.0 511.6,88.3 512.4,89.8 513.2,91.2 514.0,92.5 514.8,93.8 515.0,94.2 515.6,95.1 516.3,96.5 517.1,97.8 517.9,99.2 518.7,100.5 519.5,101.6 520.3,102.6 521.0,103.3 521.2,103.4 521.8,103.8 522.6,104.2 523.4,104.6 524.2,105.0 525.0,105.4 525.7,105.7 526.5,105.9 527.3,106.2 528.1,106.3 528.9,106.5 529.5,106.5 529.7,106.5 530.4,106.6 531.2,106.7 532.0,106.7 532.8,106.8 533.6,106.8 534.4,106.8 535.1,106.9 535.9,106.9 536.7,106.9 537.5,107.0 538.3,107.0 539.1,107.0 539.8,107.0 540.6,107.0 541.4,107.0" fill="none" stroke="#2a2ade" stroke-width="1.6" stroke-linejoin="round"/>
<path d="M443.5,45.7 444.3,49.3 445.1,53.5 445.5,55.7 445.8,58.5 446.6,65.3 447.4,69.1 448.2,69.6 449.0,70.0 449.8,70.3 450.5,70.6 451.3,70.8 452.1,70.9 452.9,71.1 453.7,71.2 454.5,71.2 455.2,71.3 456.0,71.4 456.8,71.5 457.6,71.5 458.4,71.6 459.2,71.6 459.9,71.7 460.7,71.8 461.5,71.8 462.3,71.9 463.1,71.9 463.9,72.0 464.6,72.0 465.4,72.1 466.2,72.1 467.0,72.1 467.8,72.2 468.6,72.2 469.3,72.3 470.1,72.3 470.9,72.3 471.7,72.4 472.5,72.4 473.3,72.4 474.0,72.4 474.8,72.5 475.6,72.5 476.4,72.5 477.2,72.5 478.0,72.5 478.7,72.6 479.5,72.6 480.3,72.6 481.1,72.6 481.9,72.6 482.7,72.6 483.4,72.6 484.2,72.6 485.0,72.6 485.8,72.7 486.6,72.7 487.4,72.7 488.1,72.7 488.9,72.7 489.7,72.7 490.5,72.7 491.3,72.7 492.1,72.7 492.8,72.7 493.6,72.7 494.4,72.7 495.2,72.7 496.0,72.7 496.8,72.7 497.5,72.7 498.3,72.7 499.1,72.7 499.9,72.7 500.7,72.7 501.5,72.7 502.2,72.7 503.0,72.7 503.8,72.8 504.6,72.8 505.4,72.8 506.2,72.8 506.9,72.8 507.7,72.8 508.5,73.4 509.3,74.9 510.1,77.1 510.9,79.6 511.6,82.2 512.4,84.6 512.8,85.7 513.2,86.7 514.0,89.0 514.8,91.4 515.6,93.6 516.3,95.3 516.9,96.1 517.1,96.2 517.9,96.9 518.7,97.5 519.5,98.0 520.3,98.4 521.0,98.9 521.8,99.2 522.6,99.5 523.4,99.8 524.2,100.0 525.0,100.2 525.3,100.3 525.7,100.4 526.5,100.5 527.3,100.7 528.1,100.9 528.9,101.0 529.7,101.2 530.4,101.3 531.2,101.5 532.0,101.6 532.8,101.7 533.6,101.8 534.4,101.9 535.1,102.0 535.9,102.1 536.7,102.2 537.5,102.2 538.3,102.3 539.1,102.3 539.8,102.4 540.6,102.4 541.4,102.4" fill="none" stroke="#00f0f0" stroke-width="1.5" stroke-linejoin="round"/>
<path d="M443.5,23.5 444.3,32.7 445.1,41.2 445.8,48.8 446.4,53.7 446.6,55.3 447.4,61.7 448.2,67.7 449.0,72.0 449.6,73.4 449.8,73.6 450.5,74.2 451.3,74.7 452.1,75.1 452.9,75.5 453.7,75.8 454.5,76.1 455.2,76.3 456.0,76.5 456.8,76.7 457.6,76.9 458.4,77.0 459.2,77.2 459.9,77.4 460.7,77.6 461.5,77.8 462.3,78.1 463.1,78.3 463.9,78.6 464.6,78.9 465.4,79.2 466.2,79.5 467.0,79.8 467.8,80.0 468.6,80.3 469.3,80.5 469.5,80.6 470.1,80.7 470.9,80.9 471.7,81.1 472.5,81.3 473.3,81.5 474.0,81.7 474.8,81.8 475.6,82.0 476.4,82.1 477.2,82.3 478.0,82.5 478.7,82.6 479.5,82.8 480.3,82.9 481.1,83.1 481.9,83.2 482.7,83.4 483.4,83.6 484.2,83.7 485.0,83.9 485.8,84.1 486.6,84.3 487.4,84.5 487.9,84.7 488.1,84.8 488.9,85.0 489.7,85.3 490.5,85.6 491.3,85.9 492.1,86.2 492.8,86.5 493.6,86.9 494.4,87.2 495.2,87.6 496.0,87.9 496.8,88.3 497.5,88.6 498.3,88.9 499.1,89.2 499.9,89.5 500.7,89.8 501.1,89.9 501.5,90.0 502.2,90.3 503.0,90.5 503.8,90.7 504.6,91.0 505.4,91.2 506.2,91.4 506.9,91.6 507.7,91.8 508.5,92.0 508.7,92.0 509.3,92.2 510.1,92.4 510.9,92.6 511.6,92.8 512.4,93.0 513.2,93.2 514.0,93.4 514.8,93.5 515.6,93.7 516.3,93.9 517.1,94.1 517.9,94.3 518.7,94.5 519.5,94.7 520.3,94.9 521.0,95.0 521.8,95.2 522.6,95.4 523.4,95.6 524.2,95.8 525.0,95.9 525.7,96.1 526.5,96.3 527.3,96.5 528.1,96.6 528.9,96.8 529.7,97.0 530.4,97.1 531.2,97.3 532.0,97.5 532.8,97.6 533.6,97.8 534.4,98.0 535.1,98.1 535.9,98.3 536.7,98.4 537.5,98.6 538.3,98.7 539.1,98.9 539.8,99.0 540.6,99.1 541.4,99.3" fill="none" stroke="#f000f0" stroke-width="1.4" stroke-linejoin="round"/>
<path d="M443.5,23.5 444.3,39.8 445.1,53.5 445.5,58.7 445.8,63.3 446.6,72.0 447.4,78.9 448.2,83.3 448.4,83.9 449.0,85.2 449.8,86.7 450.5,88.1 451.3,89.2 452.1,90.1 452.9,90.8 453.7,91.4 454.5,91.8 455.2,92.0 456.0,92.2 456.8,92.3 457.6,92.5 458.4,92.6 459.2,92.7 459.9,92.8 460.7,92.9 461.5,93.0 462.3,93.1 463.1,93.2 463.9,93.2 464.6,93.3 465.4,93.4 466.2,93.4 467.0,93.5 467.8,93.5 468.6,93.6 469.3,93.6 470.1,93.7 470.9,93.7 471.7,93.8 472.5,93.8 473.3,93.9 474.0,93.9 474.8,94.0 475.6,94.0 476.4,94.1 476.8,94.2 477.2,94.2 478.0,94.3 478.7,94.3 479.5,94.4 480.3,94.4 481.1,94.5 481.9,94.5 482.7,94.6 483.4,94.7 484.2,94.7 485.0,94.8 485.8,94.8 486.6,94.8 487.4,94.9 488.1,94.9 488.9,95.0 489.7,95.1 490.5,95.1 491.3,95.2 492.1,95.2 492.8,95.3 493.6,95.4 494.4,95.4 495.2,95.5 496.0,95.6 496.8,95.7 497.5,95.8 498.3,95.9 499.1,96.0 499.9,96.1 500.7,96.2 501.1,96.3 501.5,96.3 502.2,96.5 503.0,96.8 503.8,97.1 504.6,97.4 505.4,97.7 506.2,98.1 506.9,98.5 507.7,98.8 508.5,99.2 508.7,99.3 509.3,99.5 510.1,99.9 510.9,100.2 511.6,100.6 512.4,100.9 513.2,101.3 514.0,101.7 514.8,102.1 515.6,102.4 516.3,102.9 517.1,103.3 517.9,103.7 518.7,104.2 519.1,104.4 519.5,104.7 520.3,105.2 521.0,105.8 521.8,106.5 522.6,107.1 523.4,107.8 524.2,108.6 525.0,109.3 525.7,110.0 526.5,110.6 527.3,111.3 528.1,111.9 528.9,112.4 529.5,112.8 529.7,112.9 530.4,113.3 531.2,113.8 532.0,114.2 532.8,114.6 533.6,115.0 534.4,115.4 535.1,115.7 535.9,116.1 536.7,116.4 537.5,116.7 538.3,117.0 539.1,117.3 539.8,117.6 540.6,117.8 541.4,118.0" fill="none" stroke="#00e600" stroke-width="1.5" stroke-linejoin="round" stroke-dasharray="3.2,2.2"/>
<path d="M443.5,23.5 444.3,38.1 445.1,52.0 445.5,58.7 445.8,66.0 446.6,77.7 447.4,82.5 448.2,86.0 449.0,88.3 449.6,89.1 449.8,89.3 450.5,89.7 451.3,90.1 452.1,90.3 452.9,90.5 453.7,90.7 454.5,91.0 455.2,91.3 456.0,91.8 456.8,92.5 457.6,93.3 458.4,94.1 459.2,95.0 459.9,95.9 460.7,96.7 461.5,97.5 462.3,98.2 462.5,98.4 463.1,98.8 463.9,99.3 464.6,99.8 465.4,100.3 466.2,100.7 467.0,101.2 467.8,101.6 468.6,102.1 469.3,102.6 469.5,102.7 470.1,103.1 470.9,103.6 471.7,104.1 472.5,104.7 473.3,105.2 474.0,105.8 474.8,106.3 475.6,106.9 476.4,107.4 476.8,107.7 477.2,108.0 478.0,108.7 478.7,109.4 479.5,110.1 480.3,110.8 481.1,111.5 481.9,112.1 482.7,112.7 483.4,113.2 483.8,113.4 484.2,113.5 485.0,113.9 485.8,114.2 486.6,114.5 487.4,114.8 488.1,115.1 488.9,115.3 489.7,115.6 490.5,115.8 491.3,116.0 492.1,116.3 492.8,116.5 493.6,116.7 494.4,116.8 495.2,117.0 496.0,117.2 496.8,117.4 497.5,117.6 498.3,117.8 499.1,117.9 499.9,118.1 500.7,118.3 501.1,118.4 501.5,118.5 502.2,118.7 503.0,118.9 503.8,119.1 504.6,119.3 505.4,119.5 506.2,119.7 506.9,119.8 507.7,119.9 508.5,120.0 508.7,120.0 509.3,120.1 510.1,120.1 510.9,120.2 511.6,120.2 512.4,120.3 513.2,120.3 514.0,120.3 514.8,120.4 515.6,120.4 516.3,120.5 517.1,120.5 517.9,120.6 518.7,120.6 519.5,120.6 520.3,120.7 521.0,120.7 521.8,120.7 522.6,120.8 523.4,120.8 524.2,120.8 525.0,120.8 525.7,120.9 526.5,120.9 527.3,120.9 528.1,120.9 528.9,121.0 529.7,121.0 530.4,121.0 531.2,121.0 532.0,121.0 532.8,121.0 533.6,121.1 534.4,121.1 535.1,121.1 535.9,121.1 536.7,121.1 537.5,121.1 538.3,121.1 539.1,121.1 539.8,121.1 540.6,121.1 541.4,121.1" fill="none" stroke="#00e600" stroke-width="1.5" stroke-linejoin="round"/>
<circle cx="443.50" cy="50.58" r="1.7" fill="#ff8c8c" stroke="#ff0000" stroke-width="1.35"/>
<path d="M443.5,22.3l2.3,4h-4.6z" fill="#0000ff"/>
<path d="M443.5,48.3l2.3,-4h-4.6z" fill="#00ffff"/>
<circle cx="443.50" cy="21.30" r="1.75" fill="#ff00ff"/>
<text class="tk" transform="translate(443.50,142.80) scale(0.9,1)" font-size="6.8" text-anchor="middle">0</text>
<text class="tk" transform="translate(463.08,142.80) scale(0.9,1)" font-size="6.8" text-anchor="middle">100</text>
<text class="tk" transform="translate(482.66,142.80) scale(0.9,1)" font-size="6.8" text-anchor="middle">200</text>
<text class="tk" transform="translate(502.24,142.80) scale(0.9,1)" font-size="6.8" text-anchor="middle">300</text>
<text class="tk" transform="translate(521.82,142.80) scale(0.9,1)" font-size="6.8" text-anchor="middle">400</text>
<text class="tk" transform="translate(541.40,142.80) scale(0.9,1)" font-size="6.8" text-anchor="middle">500</text>
<text class="tk" transform="translate(441.10,137.00) scale(0.9,1)" font-size="6.8" text-anchor="end">600</text>
<text class="tk" transform="translate(441.10,116.87) scale(0.9,1)" font-size="6.8" text-anchor="end">800</text>
<text class="tk" transform="translate(441.10,96.75) scale(0.9,1)" font-size="6.8" text-anchor="end">1000</text>
<text class="tk" transform="translate(441.10,76.62) scale(0.9,1)" font-size="6.8" text-anchor="end">1200</text>
<text class="tk" transform="translate(441.10,56.50) scale(0.9,1)" font-size="6.8" text-anchor="end">1400</text>
<text class="tk" transform="translate(441.10,36.38) scale(0.9,1)" font-size="6.8" text-anchor="end">1600</text>
<text class="tk" transform="translate(441.10,16.25) scale(0.9,1)" font-size="6.8" text-anchor="end">1800</text>
<text transform="translate(492.45,12.05) scale(0.875,1)" font-size="7.8" text-anchor="middle" fill="#111">CEC2017 F4 Dim=50</text>
<text x="492.45" y="151.80" font-size="6.8" text-anchor="middle" fill="#262626">Iterations</text>
<text transform="translate(424.20,73.82) rotate(-90)" font-size="7" text-anchor="middle" fill="#262626">Fitness</text>
<line x1="46.80" y1="164.80" x2="46.80" y2="285.50" stroke="#e6e6e6" stroke-width="0.6"/>
<line x1="67.20" y1="164.80" x2="67.20" y2="285.50" stroke="#e6e6e6" stroke-width="0.6"/>
<line x1="87.60" y1="164.80" x2="87.60" y2="285.50" stroke="#e6e6e6" stroke-width="0.6"/>
<line x1="108.00" y1="164.80" x2="108.00" y2="285.50" stroke="#e6e6e6" stroke-width="0.6"/>
<line x1="26.40" y1="255.32" x2="128.40" y2="255.32" stroke="#e6e6e6" stroke-width="0.6"/>
<line x1="26.40" y1="225.15" x2="128.40" y2="225.15" stroke="#e6e6e6" stroke-width="0.6"/>
<line x1="26.40" y1="194.98" x2="128.40" y2="194.98" stroke="#e6e6e6" stroke-width="0.6"/>
<rect x="26.40" y="164.80" width="102.00" height="120.70" fill="none" stroke="#a0a0a0" stroke-width="0.9"/>
<path d="M26.40,285.50v-1.2M26.40,164.80v1.2M46.80,285.50v-1.2M46.80,164.80v1.2M67.20,285.50v-1.2M67.20,164.80v1.2M87.60,285.50v-1.2M87.60,164.80v1.2M108.00,285.50v-1.2M108.00,164.80v1.2M128.40,285.50v-1.2M128.40,164.80v1.2M26.40,285.50h1.2M128.40,285.50h-1.2M26.40,255.32h1.2M128.40,255.32h-1.2M26.40,225.15h1.2M128.40,225.15h-1.2M26.40,194.98h1.2M128.40,194.98h-1.2M26.40,164.80h1.2M128.40,164.80h-1.2" stroke="#a0a0a0" stroke-width="0.7" fill="none"/>
<path d="M26.4,205.8 27.2,212.4 28.0,220.1 28.2,222.1 28.8,229.9 29.7,240.6 30.0,243.4 30.5,246.1 31.3,249.8 32.1,252.6 32.9,255.0 33.7,257.1 34.6,259.1 35.4,260.9 36.2,262.4 37.0,263.9 37.6,265.0 37.8,265.3 38.6,266.8 39.5,268.2 40.3,269.5 41.1,270.6 41.9,271.6 42.7,272.6 43.5,273.6 44.4,274.4 45.2,275.2 46.0,275.9 46.8,276.4 47.6,276.9 48.4,277.4 49.2,277.8 50.1,278.2 50.9,278.6 51.7,278.9 52.5,279.2 53.3,279.5 54.1,279.7 55.0,280.0 55.4,280.1 55.8,280.2 56.6,280.4 57.4,280.5 58.2,280.7 59.0,280.9 59.9,281.0 60.7,281.2 61.5,281.3 62.3,281.4 63.1,281.5 63.9,281.6 64.8,281.8 65.6,281.9 66.4,282.0 66.8,282.0 67.2,282.0 68.0,282.1 68.8,282.2 69.6,282.3 70.5,282.4 71.3,282.5 72.1,282.6 72.9,282.6 73.7,282.7 74.5,282.8 75.4,282.8 76.2,282.9 77.0,283.0 77.8,283.0 78.6,283.1 79.4,283.1 80.3,283.2 81.1,283.2 81.9,283.3 82.7,283.3 83.5,283.4 83.9,283.4 84.3,283.4 85.2,283.4 86.0,283.5 86.8,283.5 87.6,283.5 88.4,283.6 89.2,283.6 90.0,283.6 90.9,283.7 91.7,283.7 92.5,283.8 93.3,283.8 94.1,283.8 94.9,283.8 95.8,283.9 96.6,283.9 97.4,283.9 98.2,284.0 99.0,284.0 99.8,284.0 100.7,284.1 101.5,284.1 102.3,284.1 103.1,284.1 103.9,284.2 104.7,284.2 105.6,284.2 106.4,284.2 107.2,284.3 108.0,284.3 108.8,284.3 109.6,284.3 110.4,284.4 111.3,284.4 112.1,284.4 112.9,284.4 113.7,284.4 114.5,284.4 115.3,284.5 116.2,284.5 117.0,284.5 117.8,284.5 118.6,284.5 119.4,284.5 120.2,284.5 121.1,284.6 121.9,284.6 122.7,284.6 123.5,284.6 124.3,284.6 125.1,284.6 126.0,284.6 126.8,284.6 127.6,284.6 128.4,284.6" fill="none" stroke="#ff0000" stroke-width="1.5" stroke-linejoin="round"/>
<circle cx="30.18" cy="244.47" r="1.7" fill="#ff8c8c" stroke="#ff0000" stroke-width="1.35"/>
<circle cx="33.96" cy="257.68" r="1.7" fill="#ff8c8c" stroke="#ff0000" stroke-width="1.35"/>
<circle cx="37.73" cy="265.18" r="1.7" fill="#ff8c8c" stroke="#ff0000" stroke-width="1.35"/>
<circle cx="41.51" cy="271.13" r="1.7" fill="#ff8c8c" stroke="#ff0000" stroke-width="1.35"/>
<circle cx="45.29" cy="275.31" r="1.7" fill="#ff8c8c" stroke="#ff0000" stroke-width="1.35"/>
<circle cx="49.07" cy="277.72" r="1.7" fill="#ff8c8c" stroke="#ff0000" stroke-width="1.35"/>
<circle cx="52.84" cy="279.32" r="1.7" fill="#ff8c8c" stroke="#ff0000" stroke-width="1.35"/>
<circle cx="56.62" cy="280.36" r="1.7" fill="#ff8c8c" stroke="#ff0000" stroke-width="1.35"/>
<circle cx="60.40" cy="281.11" r="1.7" fill="#ff8c8c" stroke="#ff0000" stroke-width="1.35"/>
<circle cx="64.18" cy="281.68" r="1.7" fill="#ff8c8c" stroke="#ff0000" stroke-width="1.35"/>
<circle cx="67.96" cy="282.13" r="1.7" fill="#ff8c8c" stroke="#ff0000" stroke-width="1.35"/>
<circle cx="71.73" cy="282.52" r="1.7" fill="#ff8c8c" stroke="#ff0000" stroke-width="1.35"/>
<circle cx="75.51" cy="282.85" r="1.7" fill="#ff8c8c" stroke="#ff0000" stroke-width="1.35"/>
<circle cx="79.29" cy="283.13" r="1.7" fill="#ff8c8c" stroke="#ff0000" stroke-width="1.35"/>
<circle cx="83.07" cy="283.35" r="1.7" fill="#ff8c8c" stroke="#ff0000" stroke-width="1.35"/>
<circle cx="86.84" cy="283.51" r="1.7" fill="#ff8c8c" stroke="#ff0000" stroke-width="1.35"/>
<circle cx="90.62" cy="283.67" r="1.7" fill="#ff8c8c" stroke="#ff0000" stroke-width="1.35"/>
<circle cx="94.40" cy="283.83" r="1.7" fill="#ff8c8c" stroke="#ff0000" stroke-width="1.35"/>
<circle cx="98.18" cy="283.97" r="1.7" fill="#ff8c8c" stroke="#ff0000" stroke-width="1.35"/>
<circle cx="101.96" cy="284.10" r="1.7" fill="#ff8c8c" stroke="#ff0000" stroke-width="1.35"/>
<circle cx="105.73" cy="284.22" r="1.7" fill="#ff8c8c" stroke="#ff0000" stroke-width="1.35"/>
<circle cx="109.51" cy="284.33" r="1.7" fill="#ff8c8c" stroke="#ff0000" stroke-width="1.35"/>
<circle cx="113.29" cy="284.42" r="1.7" fill="#ff8c8c" stroke="#ff0000" stroke-width="1.35"/>
<circle cx="117.07" cy="284.49" r="1.7" fill="#ff8c8c" stroke="#ff0000" stroke-width="1.35"/>
<circle cx="120.84" cy="284.55" r="1.7" fill="#ff8c8c" stroke="#ff0000" stroke-width="1.35"/>
<circle cx="124.62" cy="284.58" r="1.7" fill="#ff8c8c" stroke="#ff0000" stroke-width="1.35"/>
<circle cx="128.40" cy="284.59" r="1.7" fill="#ff8c8c" stroke="#ff0000" stroke-width="1.35"/>
<path d="M26.4,182.3 27.2,185.9 28.0,189.4 28.8,192.8 29.7,196.1 30.5,199.4 31.3,202.7 32.1,206.3 32.9,209.7 33.7,212.9 34.6,215.5 35.4,217.3 36.2,218.6 37.0,219.7 37.8,220.8 38.6,221.7 39.5,222.5 40.3,223.3 41.1,223.9 41.9,224.6 42.7,225.1 43.5,225.6 43.9,225.9 44.4,226.1 45.2,226.6 46.0,227.0 46.8,227.4 47.6,227.8 48.4,228.2 49.2,228.6 50.1,228.9 50.9,229.2 51.7,229.5 52.5,229.8 53.3,230.1 54.1,230.3 55.0,230.6 55.8,230.8 56.6,231.1 57.0,231.2 57.4,231.3 58.2,231.5 59.0,231.7 59.9,232.0 60.7,232.2 61.5,232.4 62.3,232.6 63.1,232.8 63.9,233.0 64.8,233.2 65.6,233.3 66.4,233.5 67.2,233.6 68.0,233.8 68.8,233.9 69.6,234.0 70.5,234.1 71.3,234.2 71.9,234.2 72.1,234.2 72.9,234.3 73.7,234.3 74.5,234.3 75.4,234.4 76.2,234.4 77.0,234.5 77.8,234.5 78.6,234.6 79.4,234.6 80.3,234.6 81.1,234.7 81.9,234.7 82.7,234.7 83.5,234.8 84.3,234.8 85.2,234.8 86.0,234.9 86.8,234.9 87.6,234.9 88.4,235.0 89.2,235.0 90.0,235.0 90.9,235.1 91.7,235.1 92.5,235.1 93.3,235.1 94.1,235.2 94.9,235.2 95.8,235.2 96.6,235.2 97.4,235.3 98.2,235.3 99.0,235.3 99.8,235.3 100.7,235.4 101.5,235.4 102.3,235.4 103.1,235.4 103.9,235.4 104.7,235.5 105.6,235.5 106.4,235.5 107.2,235.5 108.0,235.5 108.8,235.5 109.6,235.6 110.4,235.6 111.3,235.6 112.1,235.6 112.9,235.6 113.7,235.6 114.5,235.6 115.3,235.6 116.2,235.6 117.0,235.7 117.8,235.7 118.6,235.7 119.4,235.7 120.2,235.7 121.1,235.7 121.9,235.7 122.7,235.7 123.5,235.7 124.3,235.7 125.1,235.7 126.0,235.7 126.8,235.7 127.6,235.7 128.4,235.7" fill="none" stroke="#0000ff" stroke-width="1.5" stroke-linejoin="round"/>
<path d="M30.2,195.6l2.3,4h-4.6z" fill="#0000ff"/>
<path d="M34.0,211.0l2.3,4h-4.6z" fill="#0000ff"/>
<path d="M37.7,218.1l2.3,4h-4.6z" fill="#0000ff"/>
<path d="M41.5,221.7l2.3,4h-4.6z" fill="#0000ff"/>
<path d="M45.3,224.0l2.3,4h-4.6z" fill="#0000ff"/>
<path d="M49.1,225.9l2.3,4h-4.6z" fill="#0000ff"/>
<path d="M52.8,227.3l2.3,4h-4.6z" fill="#0000ff"/>
<path d="M56.6,228.5l2.3,4h-4.6z" fill="#0000ff"/>
<path d="M60.4,229.5l2.3,4h-4.6z" fill="#0000ff"/>
<path d="M64.2,230.4l2.3,4h-4.6z" fill="#0000ff"/>
<path d="M68.0,231.2l2.3,4h-4.6z" fill="#0000ff"/>
<path d="M71.7,231.6l2.3,4h-4.6z" fill="#0000ff"/>
<path d="M75.5,231.8l2.3,4h-4.6z" fill="#0000ff"/>
<path d="M79.3,232.0l2.3,4h-4.6z" fill="#0000ff"/>
<path d="M83.1,232.2l2.3,4h-4.6z" fill="#0000ff"/>
<path d="M86.8,232.3l2.3,4h-4.6z" fill="#0000ff"/>
<path d="M90.6,232.5l2.3,4h-4.6z" fill="#0000ff"/>
<path d="M94.4,232.6l2.3,4h-4.6z" fill="#0000ff"/>
<path d="M98.2,232.7l2.3,4h-4.6z" fill="#0000ff"/>
<path d="M102.0,232.8l2.3,4h-4.6z" fill="#0000ff"/>
<path d="M105.7,232.9l2.3,4h-4.6z" fill="#0000ff"/>
<path d="M109.5,233.0l2.3,4h-4.6z" fill="#0000ff"/>
<path d="M113.3,233.0l2.3,4h-4.6z" fill="#0000ff"/>
<path d="M117.1,233.1l2.3,4h-4.6z" fill="#0000ff"/>
<path d="M120.8,233.1l2.3,4h-4.6z" fill="#0000ff"/>
<path d="M124.6,233.1l2.3,4h-4.6z" fill="#0000ff"/>
<path d="M128.4,233.1l2.3,4h-4.6z" fill="#0000ff"/>
<path d="M26.4,192.6 27.2,196.2 28.0,199.5 28.8,202.3 29.5,204.0 29.7,204.5 30.5,206.4 31.3,208.0 32.1,209.4 32.5,210.1 32.9,210.7 33.7,212.0 34.6,213.3 35.4,214.5 36.2,215.8 37.0,217.0 37.8,218.1 38.6,219.3 39.5,220.3 40.3,221.3 41.1,222.3 41.9,223.1 42.7,223.9 43.5,224.6 44.4,225.2 45.2,225.6 45.4,225.8 46.0,226.0 46.8,226.4 47.6,226.7 48.4,227.1 49.2,227.4 50.1,227.6 50.9,227.9 51.7,228.1 52.5,228.3 53.3,228.5 54.1,228.7 55.0,228.9 55.8,229.1 56.6,229.3 57.0,229.4 57.4,229.5 58.2,229.6 59.0,229.8 59.9,230.0 60.7,230.2 61.5,230.3 62.3,230.5 63.1,230.6 63.9,230.8 64.8,230.9 65.6,231.1 66.4,231.2 67.2,231.3 68.0,231.4 68.8,231.5 69.6,231.6 70.5,231.7 71.3,231.7 71.9,231.8 72.1,231.8 72.9,231.9 73.7,231.9 74.5,231.9 75.4,232.0 76.2,232.0 77.0,232.1 77.8,232.1 78.6,232.2 79.4,232.2 80.3,232.3 81.1,232.3 81.9,232.4 82.7,232.4 83.5,232.4 84.3,232.5 85.2,232.5 86.0,232.6 86.8,232.6 87.6,232.6 88.4,232.7 89.2,232.7 90.0,232.7 90.9,232.8 91.7,232.8 92.5,232.8 93.3,232.9 94.1,232.9 94.9,232.9 95.8,233.0 96.6,233.0 97.4,233.0 98.2,233.1 99.0,233.1 99.8,233.1 100.7,233.1 101.5,233.2 102.3,233.2 103.1,233.2 103.9,233.2 104.7,233.3 105.6,233.3 106.4,233.3 107.2,233.3 108.0,233.4 108.8,233.4 109.6,233.4 110.4,233.4 111.3,233.4 112.1,233.4 112.9,233.5 113.7,233.5 114.5,233.5 115.3,233.5 116.2,233.5 117.0,233.5 117.8,233.5 118.6,233.5 119.4,233.6 120.2,233.6 121.1,233.6 121.9,233.6 122.7,233.6 123.5,233.6 124.3,233.6 125.1,233.6 126.0,233.6 126.8,233.6 127.6,233.6 128.4,233.6" fill="none" stroke="#00ffff" stroke-width="1.5" stroke-linejoin="round"/>
<path d="M30.2,208.4l2.3,-4h-4.6z" fill="#00ffff"/>
<path d="M34.0,214.9l2.3,-4h-4.6z" fill="#00ffff"/>
<path d="M37.7,220.6l2.3,-4h-4.6z" fill="#00ffff"/>
<path d="M41.5,225.3l2.3,-4h-4.6z" fill="#00ffff"/>
<path d="M45.3,228.3l2.3,-4h-4.6z" fill="#00ffff"/>
<path d="M49.1,229.9l2.3,-4h-4.6z" fill="#00ffff"/>
<path d="M52.8,231.0l2.3,-4h-4.6z" fill="#00ffff"/>
<path d="M56.6,231.9l2.3,-4h-4.6z" fill="#00ffff"/>
<path d="M60.4,232.7l2.3,-4h-4.6z" fill="#00ffff"/>
<path d="M64.2,233.4l2.3,-4h-4.6z" fill="#00ffff"/>
<path d="M68.0,234.0l2.3,-4h-4.6z" fill="#00ffff"/>
<path d="M71.7,234.4l2.3,-4h-4.6z" fill="#00ffff"/>
<path d="M75.5,234.6l2.3,-4h-4.6z" fill="#00ffff"/>
<path d="M79.3,234.8l2.3,-4h-4.6z" fill="#00ffff"/>
<path d="M83.1,235.0l2.3,-4h-4.6z" fill="#00ffff"/>
<path d="M86.8,235.2l2.3,-4h-4.6z" fill="#00ffff"/>
<path d="M90.6,235.4l2.3,-4h-4.6z" fill="#00ffff"/>
<path d="M94.4,235.5l2.3,-4h-4.6z" fill="#00ffff"/>
<path d="M98.2,235.7l2.3,-4h-4.6z" fill="#00ffff"/>
<path d="M102.0,235.8l2.3,-4h-4.6z" fill="#00ffff"/>
<path d="M105.7,235.9l2.3,-4h-4.6z" fill="#00ffff"/>
<path d="M109.5,236.0l2.3,-4h-4.6z" fill="#00ffff"/>
<path d="M113.3,236.1l2.3,-4h-4.6z" fill="#00ffff"/>
<path d="M117.1,236.1l2.3,-4h-4.6z" fill="#00ffff"/>
<path d="M120.8,236.2l2.3,-4h-4.6z" fill="#00ffff"/>
<path d="M124.6,236.2l2.3,-4h-4.6z" fill="#00ffff"/>
<path d="M128.4,236.2l2.3,-4h-4.6z" fill="#00ffff"/>
<path d="M26.4,179.3 27.2,187.2 28.0,194.3 28.8,200.4 29.5,204.0 29.7,205.1 30.5,209.1 31.3,212.5 32.1,215.2 32.5,216.1 32.9,216.9 33.7,218.2 34.6,219.4 35.4,220.4 36.2,221.3 37.0,222.0 37.8,222.7 38.2,223.0 38.6,223.4 39.5,224.0 40.3,224.5 41.1,225.1 41.9,225.6 42.7,226.1 43.5,226.6 44.4,227.0 45.2,227.4 46.0,227.8 46.8,228.2 47.6,228.6 48.4,229.0 49.2,229.3 50.1,229.6 50.9,230.0 51.7,230.3 52.5,230.6 53.3,230.9 54.1,231.2 55.0,231.5 55.8,231.8 56.6,232.1 57.4,232.3 58.2,232.6 59.0,232.9 59.9,233.1 60.7,233.4 61.5,233.6 62.3,233.9 63.1,234.1 63.9,234.3 64.8,234.6 65.6,234.8 66.4,235.0 67.2,235.1 68.0,235.3 68.8,235.5 69.6,235.6 70.5,235.8 71.3,235.9 71.9,236.0 72.1,236.0 72.9,236.2 73.7,236.3 74.5,236.4 75.4,236.5 76.2,236.6 77.0,236.6 77.8,236.7 78.6,236.8 79.4,236.9 80.3,237.0 81.1,237.0 81.9,237.1 82.7,237.1 83.5,237.2 83.9,237.2 84.3,237.2 85.2,237.3 86.0,237.3 86.8,237.4 87.6,237.4 88.4,237.5 89.2,237.6 90.0,237.6 90.9,237.6 91.7,237.7 92.5,237.7 93.3,237.8 94.1,237.8 94.9,237.9 95.8,237.9 96.6,238.0 97.4,238.0 98.2,238.1 99.0,238.1 99.8,238.2 100.7,238.2 101.5,238.2 102.3,238.3 103.1,238.3 103.9,238.4 104.7,238.4 105.6,238.4 106.4,238.5 107.2,238.5 108.0,238.6 108.8,238.6 109.6,238.6 110.4,238.7 111.3,238.7 112.1,238.7 112.9,238.7 113.7,238.8 114.5,238.8 115.3,238.8 116.2,238.8 117.0,238.9 117.8,238.9 118.6,238.9 119.4,238.9 120.2,238.9 121.1,239.0 121.9,239.0 122.7,239.0 123.5,239.0 124.3,239.0 125.1,239.0 126.0,239.0 126.8,239.0 127.6,239.0 128.4,239.0" fill="none" stroke="#ff00ff" stroke-width="1.5" stroke-linejoin="round"/>
<circle cx="30.18" cy="207.69" r="1.75" fill="#ff00ff"/>
<circle cx="33.96" cy="218.56" r="1.75" fill="#ff00ff"/>
<circle cx="37.73" cy="222.64" r="1.75" fill="#ff00ff"/>
<circle cx="41.51" cy="225.35" r="1.75" fill="#ff00ff"/>
<circle cx="45.29" cy="227.50" r="1.75" fill="#ff00ff"/>
<circle cx="49.07" cy="229.23" r="1.75" fill="#ff00ff"/>
<circle cx="52.84" cy="230.70" r="1.75" fill="#ff00ff"/>
<circle cx="56.62" cy="232.06" r="1.75" fill="#ff00ff"/>
<circle cx="60.40" cy="233.31" r="1.75" fill="#ff00ff"/>
<circle cx="64.18" cy="234.41" r="1.75" fill="#ff00ff"/>
<circle cx="67.96" cy="235.31" r="1.75" fill="#ff00ff"/>
<circle cx="71.73" cy="235.99" r="1.75" fill="#ff00ff"/>
<circle cx="75.51" cy="236.48" r="1.75" fill="#ff00ff"/>
<circle cx="79.29" cy="236.87" r="1.75" fill="#ff00ff"/>
<circle cx="83.07" cy="237.16" r="1.75" fill="#ff00ff"/>
<circle cx="86.84" cy="237.40" r="1.75" fill="#ff00ff"/>
<circle cx="90.62" cy="237.64" r="1.75" fill="#ff00ff"/>
<circle cx="94.40" cy="237.86" r="1.75" fill="#ff00ff"/>
<circle cx="98.18" cy="238.07" r="1.75" fill="#ff00ff"/>
<circle cx="101.96" cy="238.27" r="1.75" fill="#ff00ff"/>
<circle cx="105.73" cy="238.46" r="1.75" fill="#ff00ff"/>
<circle cx="109.51" cy="238.62" r="1.75" fill="#ff00ff"/>
<circle cx="113.29" cy="238.76" r="1.75" fill="#ff00ff"/>
<circle cx="117.07" cy="238.87" r="1.75" fill="#ff00ff"/>
<circle cx="120.84" cy="238.96" r="1.75" fill="#ff00ff"/>
<circle cx="124.62" cy="239.01" r="1.75" fill="#ff00ff"/>
<circle cx="128.40" cy="239.03" r="1.75" fill="#ff00ff"/>
<path d="M26.4,182.9 27.2,190.4 28.0,196.2 28.4,198.0 28.8,199.3 29.7,201.6 30.5,203.2 31.1,203.7 31.3,203.8 32.1,204.1 32.9,204.3 33.7,204.5 34.6,204.6 35.4,204.8 36.2,204.9 37.0,205.0 37.8,205.1 38.6,205.2 39.5,205.2 40.3,205.3 41.1,205.4 41.9,205.4 42.7,205.5 43.5,205.6 44.4,205.7 45.2,205.8 45.4,205.8 46.0,205.9 46.8,206.1 47.6,206.2 48.4,206.3 49.2,206.4 50.1,206.5 50.9,206.7 51.7,206.8 52.5,206.9 53.3,207.0 54.1,207.1 55.0,207.3 55.8,207.4 56.6,207.5 57.4,207.7 58.2,207.8 59.0,207.9 59.9,208.1 60.7,208.2 61.5,208.4 62.3,208.5 63.1,208.7 63.9,208.8 64.8,209.0 65.6,209.2 66.4,209.4 66.8,209.5 67.2,209.6 68.0,209.8 68.8,210.0 69.6,210.2 70.5,210.5 71.3,210.8 72.1,211.1 72.9,211.4 73.7,211.7 74.5,212.0 75.4,212.3 76.2,212.6 77.0,212.9 77.8,213.2 78.6,213.5 79.4,213.8 80.3,214.1 80.7,214.3 81.1,214.4 81.9,214.7 82.7,215.0 83.5,215.3 84.3,215.5 85.2,215.8 86.0,216.0 86.8,216.3 87.6,216.6 88.4,216.9 89.2,217.2 90.0,217.6 90.9,217.9 91.7,218.3 92.1,218.5 92.5,218.7 93.3,219.2 94.1,219.8 94.9,220.4 95.8,221.0 96.6,221.7 97.4,222.4 98.2,223.1 99.0,223.8 99.8,224.5 100.7,225.2 101.5,225.8 102.3,226.4 103.1,227.1 103.9,227.8 104.7,228.4 105.6,229.0 106.4,229.7 107.2,230.3 108.0,230.8 108.8,231.3 109.0,231.4 109.6,231.8 110.4,232.3 111.3,232.7 112.1,233.2 112.9,233.6 113.7,233.9 114.5,234.1 114.9,234.2 115.3,234.3 116.2,234.4 117.0,234.4 117.8,234.5 118.6,234.6 119.4,234.7 120.2,234.8 121.1,234.8 121.9,234.9 122.7,234.9 123.5,235.0 124.3,235.0 125.1,235.1 126.0,235.1 126.8,235.1 127.6,235.1 128.4,235.1" fill="none" stroke="#2a2ade" stroke-width="1.6" stroke-linejoin="round"/>
<path d="M26.4,192.6 27.2,197.8 28.0,201.9 28.4,203.4 28.8,204.6 29.7,206.8 30.5,208.3 31.1,208.9 31.3,208.9 32.1,209.2 32.9,209.5 33.7,209.8 34.6,210.0 35.4,210.2 36.2,210.4 37.0,210.6 37.8,210.8 38.6,210.9 39.5,211.1 40.3,211.2 41.1,211.3 41.9,211.4 42.7,211.5 43.5,211.6 44.4,211.7 45.2,211.8 46.0,211.8 46.8,211.9 47.6,212.0 48.4,212.1 49.2,212.1 50.1,212.2 50.9,212.3 51.7,212.4 52.5,212.5 53.3,212.6 54.1,212.7 55.0,212.8 55.8,212.9 56.6,213.0 57.4,213.1 58.2,213.1 59.0,213.2 59.9,213.3 60.7,213.4 61.5,213.5 62.3,213.6 63.1,213.7 63.9,213.7 64.8,213.8 65.6,213.9 66.4,213.9 67.2,214.0 68.0,214.1 68.8,214.1 69.6,214.2 70.5,214.2 71.3,214.3 71.9,214.3 72.1,214.3 72.9,214.3 73.7,214.4 74.5,214.4 75.4,214.4 76.2,214.4 77.0,214.4 77.8,214.5 78.6,214.5 79.4,214.5 80.3,214.5 81.1,214.5 81.9,214.5 82.7,214.5 83.5,214.5 84.3,214.5 85.2,214.6 86.0,214.6 86.8,214.6 87.6,214.6 88.4,214.6 89.2,214.7 90.0,214.7 90.9,214.7 91.7,214.8 92.5,214.8 93.3,214.9 94.1,215.4 94.9,216.6 95.8,218.2 96.6,219.8 97.4,221.1 97.8,221.5 98.2,221.9 99.0,222.5 99.8,223.1 100.7,223.6 101.5,224.1 102.3,224.6 103.1,225.0 103.9,225.4 104.7,225.7 105.6,226.1 106.4,226.4 107.2,226.7 107.8,227.0 108.0,227.0 108.8,227.3 109.6,227.6 110.4,227.9 111.3,228.2 112.1,228.5 112.9,228.8 113.7,229.1 114.5,229.3 115.3,229.6 116.2,229.9 117.0,230.1 117.8,230.3 118.6,230.6 119.4,230.8 120.2,231.0 121.1,231.2 121.9,231.4 122.7,231.6 123.5,231.7 124.3,231.9 125.1,232.0 126.0,232.1 126.8,232.2 127.6,232.3 128.4,232.4" fill="none" stroke="#00f0f0" stroke-width="1.5" stroke-linejoin="round"/>
<path d="M26.4,181.7 27.2,189.6 28.0,196.3 28.8,201.0 29.7,204.3 30.5,207.1 31.3,209.2 32.1,210.6 32.5,210.9 32.9,211.1 33.7,211.4 34.6,211.7 35.4,211.9 36.2,212.1 37.0,212.3 37.8,212.5 38.6,212.7 39.5,212.9 40.3,213.0 41.1,213.1 41.9,213.2 42.7,213.3 43.5,213.4 44.4,213.5 45.2,213.6 46.0,213.7 46.8,213.7 47.6,213.8 48.4,213.9 49.2,214.0 50.1,214.1 50.9,214.2 51.7,214.3 52.5,214.4 53.3,214.5 54.1,214.7 55.0,214.8 55.8,214.9 56.6,215.0 57.4,215.1 58.2,215.2 59.0,215.3 59.9,215.4 60.7,215.5 61.5,215.6 62.3,215.7 63.1,215.8 63.9,215.9 64.8,216.0 65.6,216.1 66.4,216.2 67.2,216.3 68.0,216.4 68.8,216.5 69.6,216.6 70.5,216.7 71.3,216.8 72.1,216.9 72.9,217.0 73.7,217.1 74.5,217.2 75.4,217.3 76.2,217.5 77.0,217.6 77.8,217.7 78.6,217.8 79.4,217.9 80.3,218.1 81.1,218.2 81.9,218.3 82.7,218.5 83.5,218.6 83.9,218.7 84.3,218.8 85.2,218.9 86.0,219.1 86.8,219.3 87.6,219.5 88.4,219.7 89.2,219.9 90.0,220.1 90.9,220.4 91.7,220.6 92.5,220.8 93.3,221.1 94.1,221.3 94.9,221.5 95.8,221.7 96.6,222.0 97.4,222.2 98.2,222.4 99.0,222.6 99.8,222.7 100.7,222.9 101.5,223.1 102.3,223.2 103.1,223.4 103.9,223.6 104.7,223.7 105.6,223.9 106.4,224.0 107.2,224.2 108.0,224.3 108.8,224.5 109.6,224.6 110.4,224.8 111.3,224.9 112.1,225.0 112.9,225.2 113.7,225.3 114.5,225.4 115.3,225.6 116.2,225.7 117.0,225.8 117.8,225.9 118.6,226.1 119.4,226.2 120.2,226.3 121.1,226.4 121.9,226.5 122.7,226.6 123.5,226.7 124.3,226.8 125.1,226.9 126.0,227.0 126.8,227.1 127.6,227.2 128.4,227.3" fill="none" stroke="#f000f0" stroke-width="1.4" stroke-linejoin="round"/>
<path d="M26.4,181.7 27.2,191.5 28.0,200.3 28.8,208.1 29.5,213.1 29.7,214.6 30.5,220.3 31.3,225.3 32.1,229.5 32.5,231.2 32.9,232.8 33.7,235.7 34.6,237.6 34.8,237.8 35.4,238.4 36.2,239.0 37.0,239.6 37.8,240.0 38.6,240.5 39.5,240.8 40.3,241.1 41.1,241.4 41.9,241.6 42.7,241.9 43.5,242.1 44.4,242.3 45.2,242.6 45.4,242.7 46.0,242.8 46.8,243.1 47.6,243.3 48.4,243.6 49.2,243.8 50.1,244.1 50.9,244.3 51.7,244.5 52.5,244.7 53.3,244.9 54.1,245.1 55.0,245.3 55.8,245.5 56.6,245.7 57.4,245.9 58.2,246.0 59.0,246.2 59.9,246.4 60.7,246.5 61.5,246.7 62.3,246.9 63.1,247.0 63.9,247.2 64.8,247.3 65.6,247.5 66.4,247.6 66.8,247.7 67.2,247.8 68.0,247.9 68.8,248.1 69.6,248.2 70.5,248.3 71.3,248.4 72.1,248.5 72.9,248.7 73.7,248.8 74.5,248.9 75.4,249.0 76.2,249.1 77.0,249.2 77.8,249.3 78.6,249.5 79.4,249.6 80.3,249.7 81.1,249.9 81.9,250.1 82.7,250.2 83.5,250.4 84.3,250.6 85.2,250.8 86.0,251.0 86.8,251.2 87.6,251.4 88.4,251.7 89.2,251.9 90.0,252.1 90.9,252.3 91.7,252.5 92.5,252.7 93.3,252.9 94.1,253.1 94.9,253.3 95.8,253.5 96.6,253.7 97.4,253.9 98.2,254.1 99.0,254.3 99.8,254.4 100.7,254.6 101.5,254.8 102.3,255.0 103.1,255.2 103.9,255.4 104.7,255.6 105.6,255.8 106.4,255.9 107.2,256.1 108.0,256.3 108.8,256.5 109.6,256.6 110.4,256.8 111.3,257.0 112.1,257.2 112.9,257.3 113.7,257.5 114.5,257.7 114.9,257.7 115.3,257.8 116.2,258.0 117.0,258.1 117.8,258.3 118.6,258.4 119.4,258.6 120.2,258.7 121.1,258.9 121.9,259.0 122.7,259.2 123.5,259.3 124.3,259.5 125.1,259.6 126.0,259.7 126.8,259.9 127.6,260.0 128.4,260.2" fill="none" stroke="#00e600" stroke-width="1.5" stroke-linejoin="round" stroke-dasharray="3.2,2.2"/>
<path d="M26.4,181.7 27.2,189.2 28.0,196.1 28.8,202.6 29.5,207.0 29.7,208.4 30.5,212.9 31.3,217.5 31.9,222.1 32.1,224.6 32.9,238.9 33.3,242.7 33.7,243.5 34.6,245.0 35.4,246.3 36.2,247.3 37.0,248.2 37.8,249.0 38.6,249.6 39.5,250.1 40.3,250.5 41.1,250.9 41.9,251.2 42.7,251.5 43.5,251.8 43.9,252.0 44.4,252.2 45.2,252.5 46.0,252.8 46.8,253.1 47.6,253.4 48.4,253.7 49.2,254.0 50.1,254.2 50.9,254.5 51.7,254.7 52.5,254.9 53.3,255.1 54.1,255.3 55.0,255.5 55.8,255.7 56.6,255.8 57.4,256.0 58.2,256.1 59.0,256.2 59.7,256.3 59.9,256.3 60.7,256.4 61.5,256.5 62.3,256.6 63.1,256.7 63.9,256.8 64.8,256.9 65.6,257.0 66.4,257.1 67.2,257.2 68.0,257.2 68.8,257.3 69.6,257.4 70.5,257.4 71.3,257.5 72.1,257.6 72.9,257.6 73.7,257.7 74.5,257.8 75.4,257.8 76.2,257.9 77.0,257.9 77.8,258.0 78.6,258.0 79.4,258.1 80.3,258.1 81.1,258.2 81.9,258.2 82.7,258.3 83.5,258.3 83.9,258.3 84.3,258.4 85.2,258.4 86.0,258.5 86.8,258.5 87.6,258.5 88.4,258.6 89.2,258.6 90.0,258.7 90.9,258.7 91.7,258.8 92.5,258.8 93.3,258.9 94.1,258.9 94.9,259.0 95.8,259.0 96.6,259.0 97.4,259.1 98.2,259.1 99.0,259.2 99.8,259.2 100.7,259.2 101.5,259.3 102.3,259.3 103.1,259.4 103.9,259.4 104.7,259.4 105.6,259.5 106.4,259.5 107.2,259.5 108.0,259.6 108.8,259.6 109.6,259.6 110.4,259.7 111.3,259.7 112.1,259.7 112.9,259.8 113.7,259.8 114.5,259.8 115.3,259.8 116.2,259.9 117.0,259.9 117.8,259.9 118.6,260.0 119.4,260.0 120.2,260.0 121.1,260.0 121.9,260.0 122.7,260.1 123.5,260.1 124.3,260.1 125.1,260.1 126.0,260.1 126.8,260.1 127.6,260.1 128.4,260.2" fill="none" stroke="#00e600" stroke-width="1.5" stroke-linejoin="round"/>
<circle cx="26.40" cy="205.84" r="1.7" fill="#ff8c8c" stroke="#ff0000" stroke-width="1.35"/>
<path d="M26.4,179.7l2.3,4h-4.6z" fill="#0000ff"/>
<path d="M26.4,195.2l2.3,-4h-4.6z" fill="#00ffff"/>
<circle cx="26.40" cy="179.28" r="1.75" fill="#ff00ff"/>
<text class="tk" transform="translate(26.40,294.10) scale(0.9,1)" font-size="6.8" text-anchor="middle">0</text>
<text class="tk" transform="translate(46.80,294.10) scale(0.9,1)" font-size="6.8" text-anchor="middle">100</text>
<text class="tk" transform="translate(67.20,294.10) scale(0.9,1)" font-size="6.8" text-anchor="middle">200</text>
<text class="tk" transform="translate(87.60,294.10) scale(0.9,1)" font-size="6.8" text-anchor="middle">300</text>
<text class="tk" transform="translate(108.00,294.10) scale(0.9,1)" font-size="6.8" text-anchor="middle">400</text>
<text class="tk" transform="translate(128.40,294.10) scale(0.9,1)" font-size="6.8" text-anchor="middle">500</text>
<text class="tk" transform="translate(24.00,288.30) scale(0.9,1)" font-size="6.8" text-anchor="end">600</text>
<text class="tk" transform="translate(24.00,258.12) scale(0.9,1)" font-size="6.8" text-anchor="end">650</text>
<text class="tk" transform="translate(24.00,227.95) scale(0.9,1)" font-size="6.8" text-anchor="end">700</text>
<text class="tk" transform="translate(24.00,197.78) scale(0.9,1)" font-size="6.8" text-anchor="end">750</text>
<text class="tk" transform="translate(24.00,167.60) scale(0.9,1)" font-size="6.8" text-anchor="end">800</text>
<text transform="translate(77.40,163.40) scale(0.875,1)" font-size="7.8" text-anchor="middle" fill="#111">CEC2017 F5 Dim=50</text>
<text x="77.40" y="303.10" font-size="6.8" text-anchor="middle" fill="#262626">Iterations</text>
<text transform="translate(10.80,225.15) rotate(-90)" font-size="7" text-anchor="middle" fill="#262626">Fitness</text>
<line x1="187.56" y1="164.50" x2="187.56" y2="285.40" stroke="#e6e6e6" stroke-width="0.6"/>
<line x1="207.12" y1="164.50" x2="207.12" y2="285.40" stroke="#e6e6e6" stroke-width="0.6"/>
<line x1="226.68" y1="164.50" x2="226.68" y2="285.40" stroke="#e6e6e6" stroke-width="0.6"/>
<line x1="246.24" y1="164.50" x2="246.24" y2="285.40" stroke="#e6e6e6" stroke-width="0.6"/>
<line x1="168.00" y1="265.25" x2="265.80" y2="265.25" stroke="#e6e6e6" stroke-width="0.6"/>
<line x1="168.00" y1="245.10" x2="265.80" y2="245.10" stroke="#e6e6e6" stroke-width="0.6"/>
<line x1="168.00" y1="224.95" x2="265.80" y2="224.95" stroke="#e6e6e6" stroke-width="0.6"/>
<line x1="168.00" y1="204.80" x2="265.80" y2="204.80" stroke="#e6e6e6" stroke-width="0.6"/>
<line x1="168.00" y1="184.65" x2="265.80" y2="184.65" stroke="#e6e6e6" stroke-width="0.6"/>
<rect x="168.00" y="164.50" width="97.80" height="120.90" fill="none" stroke="#a0a0a0" stroke-width="0.9"/>
<path d="M168.00,285.40v-1.2M168.00,164.50v1.2M187.56,285.40v-1.2M187.56,164.50v1.2M207.12,285.40v-1.2M207.12,164.50v1.2M226.68,285.40v-1.2M226.68,164.50v1.2M246.24,285.40v-1.2M246.24,164.50v1.2M265.80,285.40v-1.2M265.80,164.50v1.2M168.00,285.40h1.2M265.80,285.40h-1.2M168.00,265.25h1.2M265.80,265.25h-1.2M168.00,245.10h1.2M265.80,245.10h-1.2M168.00,224.95h1.2M265.80,224.95h-1.2M168.00,204.80h1.2M265.80,204.80h-1.2M168.00,184.65h1.2M265.80,184.65h-1.2M168.00,164.50h1.2M265.80,164.50h-1.2" stroke="#a0a0a0" stroke-width="0.7" fill="none"/>
<path d="M168.0,205.1 168.8,225.6 169.2,233.0 169.6,239.0 170.3,247.0 171.1,249.4 171.7,250.6 171.9,251.1 172.7,252.9 173.5,254.7 174.3,255.9 174.7,256.3 175.0,256.6 175.8,257.0 176.6,257.3 177.4,257.6 178.2,257.8 179.0,258.0 179.7,258.2 180.3,258.4 180.5,258.5 181.3,258.7 182.1,258.9 182.9,259.1 183.6,259.4 184.4,259.6 185.2,259.8 186.0,260.0 186.8,260.2 187.6,260.4 188.3,260.6 189.1,260.8 189.9,260.9 190.7,261.1 191.5,261.3 192.3,261.5 193.0,261.7 193.8,261.8 194.6,262.0 195.4,262.2 196.2,262.4 196.9,262.5 197.7,262.7 198.5,262.9 199.3,263.1 200.1,263.2 200.9,263.4 201.6,263.6 202.4,263.7 203.2,263.9 204.0,264.1 204.8,264.2 205.6,264.4 206.3,264.5 207.1,264.6 207.9,264.8 208.7,264.9 208.9,264.9 209.5,265.0 210.2,265.1 211.0,265.2 211.8,265.3 212.6,265.4 213.4,265.5 214.2,265.6 214.9,265.7 215.7,265.8 216.5,265.9 217.3,266.0 218.1,266.1 218.9,266.2 219.6,266.3 220.4,266.4 221.2,266.4 222.0,266.5 222.8,266.6 223.6,266.6 224.3,266.7 225.1,266.7 225.9,266.8 226.7,266.8 227.5,266.8 228.2,266.9 229.0,266.9 229.8,266.9 230.6,267.0 231.4,267.0 232.2,267.0 232.9,267.0 233.7,267.1 234.5,267.1 235.3,267.1 236.1,267.2 236.9,267.2 237.6,267.2 238.4,267.2 239.2,267.3 240.0,267.3 240.8,267.3 241.5,267.3 242.3,267.4 243.1,267.4 243.9,267.4 244.7,267.4 245.5,267.4 246.2,267.5 247.0,267.5 247.8,267.5 248.6,267.5 249.4,267.5 250.2,267.5 250.9,267.6 251.7,267.6 252.5,267.6 253.3,267.6 254.1,267.6 254.8,267.6 255.6,267.6 256.4,267.6 257.2,267.7 258.0,267.7 258.8,267.7 259.5,267.7 260.3,267.7 261.1,267.7 261.9,267.7 262.7,267.7 263.5,267.7 264.2,267.7 265.0,267.7 265.8,267.7" fill="none" stroke="#ff0000" stroke-width="1.5" stroke-linejoin="round"/>
<circle cx="171.62" cy="250.39" r="1.7" fill="#ff8c8c" stroke="#ff0000" stroke-width="1.35"/>
<circle cx="175.24" cy="256.67" r="1.7" fill="#ff8c8c" stroke="#ff0000" stroke-width="1.35"/>
<circle cx="178.87" cy="257.99" r="1.7" fill="#ff8c8c" stroke="#ff0000" stroke-width="1.35"/>
<circle cx="182.49" cy="259.04" r="1.7" fill="#ff8c8c" stroke="#ff0000" stroke-width="1.35"/>
<circle cx="186.11" cy="260.01" r="1.7" fill="#ff8c8c" stroke="#ff0000" stroke-width="1.35"/>
<circle cx="189.73" cy="260.90" r="1.7" fill="#ff8c8c" stroke="#ff0000" stroke-width="1.35"/>
<circle cx="193.36" cy="261.73" r="1.7" fill="#ff8c8c" stroke="#ff0000" stroke-width="1.35"/>
<circle cx="196.98" cy="262.54" r="1.7" fill="#ff8c8c" stroke="#ff0000" stroke-width="1.35"/>
<circle cx="200.60" cy="263.36" r="1.7" fill="#ff8c8c" stroke="#ff0000" stroke-width="1.35"/>
<circle cx="204.22" cy="264.11" r="1.7" fill="#ff8c8c" stroke="#ff0000" stroke-width="1.35"/>
<circle cx="207.84" cy="264.75" r="1.7" fill="#ff8c8c" stroke="#ff0000" stroke-width="1.35"/>
<circle cx="211.47" cy="265.27" r="1.7" fill="#ff8c8c" stroke="#ff0000" stroke-width="1.35"/>
<circle cx="215.09" cy="265.76" r="1.7" fill="#ff8c8c" stroke="#ff0000" stroke-width="1.35"/>
<circle cx="218.71" cy="266.20" r="1.7" fill="#ff8c8c" stroke="#ff0000" stroke-width="1.35"/>
<circle cx="222.33" cy="266.54" r="1.7" fill="#ff8c8c" stroke="#ff0000" stroke-width="1.35"/>
<circle cx="225.96" cy="266.76" r="1.7" fill="#ff8c8c" stroke="#ff0000" stroke-width="1.35"/>
<circle cx="229.58" cy="266.91" r="1.7" fill="#ff8c8c" stroke="#ff0000" stroke-width="1.35"/>
<circle cx="233.20" cy="267.05" r="1.7" fill="#ff8c8c" stroke="#ff0000" stroke-width="1.35"/>
<circle cx="236.82" cy="267.18" r="1.7" fill="#ff8c8c" stroke="#ff0000" stroke-width="1.35"/>
<circle cx="240.44" cy="267.30" r="1.7" fill="#ff8c8c" stroke="#ff0000" stroke-width="1.35"/>
<circle cx="244.07" cy="267.40" r="1.7" fill="#ff8c8c" stroke="#ff0000" stroke-width="1.35"/>
<circle cx="247.69" cy="267.49" r="1.7" fill="#ff8c8c" stroke="#ff0000" stroke-width="1.35"/>
<circle cx="251.31" cy="267.57" r="1.7" fill="#ff8c8c" stroke="#ff0000" stroke-width="1.35"/>
<circle cx="254.93" cy="267.63" r="1.7" fill="#ff8c8c" stroke="#ff0000" stroke-width="1.35"/>
<circle cx="258.56" cy="267.67" r="1.7" fill="#ff8c8c" stroke="#ff0000" stroke-width="1.35"/>
<circle cx="262.18" cy="267.70" r="1.7" fill="#ff8c8c" stroke="#ff0000" stroke-width="1.35"/>
<circle cx="265.80" cy="267.71" r="1.7" fill="#ff8c8c" stroke="#ff0000" stroke-width="1.35"/>
<path d="M168.0,167.3 168.8,190.5 169.6,208.5 170.0,214.9 170.3,220.0 171.1,228.3 171.7,232.0 171.9,232.8 172.7,235.5 173.5,237.6 174.3,239.3 175.0,240.6 175.8,241.7 176.0,242.0 176.6,242.8 177.4,243.7 178.2,244.6 179.0,245.4 179.7,246.1 180.5,246.8 181.3,247.4 182.1,247.9 182.9,248.3 183.1,248.4 183.6,248.7 184.4,249.0 185.2,249.4 186.0,249.7 186.8,249.9 187.6,250.2 188.3,250.5 189.1,250.7 189.9,250.9 190.7,251.1 191.5,251.3 192.3,251.5 193.0,251.7 193.8,251.8 194.6,252.0 195.4,252.1 196.2,252.3 196.9,252.4 197.7,252.6 198.5,252.7 199.3,252.8 200.1,252.9 200.9,253.0 201.6,253.2 202.4,253.3 203.2,253.4 204.0,253.5 204.8,253.6 205.6,253.7 206.3,253.8 207.1,253.9 207.9,254.0 208.7,254.1 208.9,254.1 209.5,254.2 210.2,254.3 211.0,254.4 211.8,254.5 212.6,254.6 213.4,254.7 214.2,254.8 214.9,254.9 215.7,255.0 216.5,255.1 217.3,255.2 218.1,255.3 218.9,255.4 219.6,255.5 220.4,255.6 221.2,255.7 222.0,255.8 222.8,255.9 223.6,256.0 224.3,256.1 225.1,256.2 225.9,256.3 226.7,256.4 227.5,256.5 228.2,256.6 229.0,256.7 229.8,256.9 230.6,257.0 231.4,257.1 232.2,257.2 232.9,257.3 233.7,257.5 234.5,257.6 235.3,257.7 236.1,257.8 236.9,258.0 237.6,258.1 238.4,258.2 239.2,258.3 240.0,258.4 240.8,258.5 241.5,258.6 242.3,258.7 243.1,258.8 243.9,258.9 244.7,259.0 245.5,259.1 246.2,259.2 247.0,259.3 247.8,259.4 248.6,259.4 249.4,259.5 250.2,259.6 250.9,259.7 251.7,259.8 252.5,259.8 253.3,259.9 254.1,260.0 254.8,260.0 255.6,260.1 256.4,260.2 257.2,260.2 258.0,260.3 258.8,260.4 259.5,260.4 260.3,260.5 261.1,260.5 261.9,260.6 262.7,260.6 263.5,260.7 264.2,260.7 265.0,260.8 265.8,260.8" fill="none" stroke="#0000ff" stroke-width="1.5" stroke-linejoin="round"/>
<path d="M171.6,229.0l2.3,4h-4.6z" fill="#0000ff"/>
<path d="M175.2,238.3l2.3,4h-4.6z" fill="#0000ff"/>
<path d="M178.9,242.7l2.3,4h-4.6z" fill="#0000ff"/>
<path d="M182.5,245.5l2.3,4h-4.6z" fill="#0000ff"/>
<path d="M186.1,247.1l2.3,4h-4.6z" fill="#0000ff"/>
<path d="M189.7,248.3l2.3,4h-4.6z" fill="#0000ff"/>
<path d="M193.4,249.1l2.3,4h-4.6z" fill="#0000ff"/>
<path d="M197.0,249.8l2.3,4h-4.6z" fill="#0000ff"/>
<path d="M200.6,250.4l2.3,4h-4.6z" fill="#0000ff"/>
<path d="M204.2,250.9l2.3,4h-4.6z" fill="#0000ff"/>
<path d="M207.8,251.4l2.3,4h-4.6z" fill="#0000ff"/>
<path d="M211.5,251.9l2.3,4h-4.6z" fill="#0000ff"/>
<path d="M215.1,252.3l2.3,4h-4.6z" fill="#0000ff"/>
<path d="M218.7,252.8l2.3,4h-4.6z" fill="#0000ff"/>
<path d="M222.3,253.2l2.3,4h-4.6z" fill="#0000ff"/>
<path d="M226.0,253.7l2.3,4h-4.6z" fill="#0000ff"/>
<path d="M229.6,254.2l2.3,4h-4.6z" fill="#0000ff"/>
<path d="M233.2,254.8l2.3,4h-4.6z" fill="#0000ff"/>
<path d="M236.8,255.3l2.3,4h-4.6z" fill="#0000ff"/>
<path d="M240.4,255.9l2.3,4h-4.6z" fill="#0000ff"/>
<path d="M244.1,256.4l2.3,4h-4.6z" fill="#0000ff"/>
<path d="M247.7,256.8l2.3,4h-4.6z" fill="#0000ff"/>
<path d="M251.3,257.1l2.3,4h-4.6z" fill="#0000ff"/>
<path d="M254.9,257.4l2.3,4h-4.6z" fill="#0000ff"/>
<path d="M258.6,257.7l2.3,4h-4.6z" fill="#0000ff"/>
<path d="M262.2,258.0l2.3,4h-4.6z" fill="#0000ff"/>
<path d="M265.8,258.2l2.3,4h-4.6z" fill="#0000ff"/>
<path d="M168.0,212.3 168.8,220.9 169.6,228.1 170.0,231.0 170.3,233.6 171.1,238.4 171.9,241.1 172.7,242.1 173.5,242.8 174.3,243.2 174.7,243.4 175.0,243.6 175.8,243.9 176.6,244.1 177.4,244.4 178.2,244.7 179.0,244.9 179.7,245.1 180.5,245.4 181.3,245.6 182.1,245.7 182.9,245.9 183.6,246.1 184.4,246.3 185.2,246.4 186.0,246.5 186.8,246.7 187.6,246.8 188.3,246.9 189.1,247.0 189.9,247.1 190.7,247.2 191.5,247.3 192.3,247.4 193.0,247.5 193.8,247.6 194.6,247.7 195.4,247.8 196.2,247.9 196.9,247.9 197.7,248.0 198.5,248.1 199.3,248.2 200.1,248.3 200.9,248.3 201.6,248.4 202.4,248.5 203.2,248.5 204.0,248.6 204.8,248.7 205.6,248.7 206.3,248.8 207.1,248.8 207.9,248.9 208.7,248.9 209.5,249.0 210.2,249.1 211.0,249.1 211.8,249.2 212.6,249.2 213.4,249.3 214.2,249.3 214.9,249.3 215.7,249.4 216.5,249.4 217.3,249.5 218.1,249.5 218.9,249.6 219.6,249.6 220.4,249.6 221.2,249.7 222.0,249.7 222.8,249.8 223.6,249.8 224.3,249.8 225.1,249.9 225.9,249.9 226.7,249.9 227.5,250.0 228.2,250.0 229.0,250.0 229.8,250.1 230.6,250.1 231.4,250.1 232.2,250.2 232.9,250.2 233.7,250.2 234.5,250.3 235.3,250.3 236.1,250.3 236.9,250.4 237.6,250.4 238.4,250.4 239.2,250.5 240.0,250.5 240.8,250.5 241.5,250.5 242.3,250.6 243.1,250.6 243.9,250.6 244.7,250.7 245.5,250.7 246.2,250.7 247.0,250.7 247.8,250.8 248.6,250.8 249.4,250.8 250.2,250.8 250.9,250.9 251.7,250.9 252.5,250.9 253.3,250.9 254.1,250.9 254.8,251.0 255.6,251.0 256.4,251.0 257.2,251.0 258.0,251.0 258.8,251.0 259.5,251.1 260.3,251.1 261.1,251.1 261.9,251.1 262.7,251.1 263.5,251.1 264.2,251.1 265.0,251.1 265.8,251.1" fill="none" stroke="#00ffff" stroke-width="1.5" stroke-linejoin="round"/>
<path d="M171.6,243.0l2.3,-4h-4.6z" fill="#00ffff"/>
<path d="M175.2,246.2l2.3,-4h-4.6z" fill="#00ffff"/>
<path d="M178.9,247.5l2.3,-4h-4.6z" fill="#00ffff"/>
<path d="M182.5,248.4l2.3,-4h-4.6z" fill="#00ffff"/>
<path d="M186.1,249.2l2.3,-4h-4.6z" fill="#00ffff"/>
<path d="M189.7,249.7l2.3,-4h-4.6z" fill="#00ffff"/>
<path d="M193.4,250.2l2.3,-4h-4.6z" fill="#00ffff"/>
<path d="M197.0,250.6l2.3,-4h-4.6z" fill="#00ffff"/>
<path d="M200.6,250.9l2.3,-4h-4.6z" fill="#00ffff"/>
<path d="M204.2,251.2l2.3,-4h-4.6z" fill="#00ffff"/>
<path d="M207.8,251.5l2.3,-4h-4.6z" fill="#00ffff"/>
<path d="M211.5,251.7l2.3,-4h-4.6z" fill="#00ffff"/>
<path d="M215.1,252.0l2.3,-4h-4.6z" fill="#00ffff"/>
<path d="M218.7,252.2l2.3,-4h-4.6z" fill="#00ffff"/>
<path d="M222.3,252.3l2.3,-4h-4.6z" fill="#00ffff"/>
<path d="M226.0,252.5l2.3,-4h-4.6z" fill="#00ffff"/>
<path d="M229.6,252.7l2.3,-4h-4.6z" fill="#00ffff"/>
<path d="M233.2,252.8l2.3,-4h-4.6z" fill="#00ffff"/>
<path d="M236.8,253.0l2.3,-4h-4.6z" fill="#00ffff"/>
<path d="M240.4,253.1l2.3,-4h-4.6z" fill="#00ffff"/>
<path d="M244.1,253.2l2.3,-4h-4.6z" fill="#00ffff"/>
<path d="M247.7,253.4l2.3,-4h-4.6z" fill="#00ffff"/>
<path d="M251.3,253.5l2.3,-4h-4.6z" fill="#00ffff"/>
<path d="M254.9,253.6l2.3,-4h-4.6z" fill="#00ffff"/>
<path d="M258.6,253.6l2.3,-4h-4.6z" fill="#00ffff"/>
<path d="M262.2,253.7l2.3,-4h-4.6z" fill="#00ffff"/>
<path d="M265.8,253.7l2.3,-4h-4.6z" fill="#00ffff"/>
<path d="M168.0,165.6 168.8,193.1 169.6,214.0 170.0,220.9 170.3,226.1 171.1,234.3 171.9,239.1 172.7,241.5 173.5,243.3 174.3,244.5 174.7,244.9 175.0,245.2 175.8,245.8 176.6,246.3 177.4,246.7 178.2,247.2 179.0,247.5 179.7,247.9 180.5,248.2 181.3,248.5 182.1,248.7 182.9,249.0 183.6,249.2 184.4,249.3 185.2,249.5 186.0,249.7 186.8,249.8 187.4,249.9 187.6,249.9 188.3,250.1 189.1,250.2 189.9,250.3 190.7,250.4 191.5,250.5 192.3,250.6 193.0,250.7 193.8,250.8 194.6,250.8 195.4,250.9 196.2,251.0 196.9,251.1 197.7,251.1 198.5,251.2 199.3,251.3 200.1,251.3 200.9,251.4 201.6,251.5 202.4,251.5 203.2,251.6 204.0,251.6 204.8,251.7 205.6,251.7 206.3,251.8 207.1,251.9 207.9,251.9 208.7,252.0 208.9,252.0 209.5,252.0 210.2,252.1 211.0,252.2 211.8,252.2 212.6,252.3 213.4,252.3 214.2,252.4 214.9,252.5 215.7,252.5 216.5,252.6 217.3,252.6 218.1,252.7 218.9,252.7 219.6,252.8 220.4,252.8 221.2,252.9 222.0,252.9 222.8,253.0 223.6,253.0 224.3,253.1 225.1,253.1 225.9,253.2 226.7,253.2 227.5,253.2 228.2,253.3 229.0,253.3 229.8,253.4 230.6,253.4 231.4,253.4 232.2,253.5 232.9,253.5 233.7,253.5 234.5,253.6 235.3,253.6 236.1,253.6 236.9,253.7 237.6,253.7 238.4,253.8 239.2,253.8 240.0,253.8 240.8,253.9 241.5,253.9 242.3,253.9 243.1,254.0 243.9,254.0 244.7,254.0 245.5,254.0 246.2,254.1 247.0,254.1 247.8,254.1 248.6,254.2 249.4,254.2 250.2,254.2 250.9,254.2 251.7,254.3 252.5,254.3 253.3,254.3 254.1,254.3 254.8,254.4 255.6,254.4 256.4,254.4 257.2,254.4 258.0,254.5 258.8,254.5 259.5,254.5 260.3,254.5 261.1,254.5 261.9,254.5 262.7,254.6 263.5,254.6 264.2,254.6 265.0,254.6 265.8,254.6" fill="none" stroke="#ff00ff" stroke-width="1.5" stroke-linejoin="round"/>
<circle cx="171.62" cy="237.73" r="1.75" fill="#ff00ff"/>
<circle cx="175.24" cy="245.35" r="1.75" fill="#ff00ff"/>
<circle cx="178.87" cy="247.50" r="1.75" fill="#ff00ff"/>
<circle cx="182.49" cy="248.85" r="1.75" fill="#ff00ff"/>
<circle cx="186.11" cy="249.68" r="1.75" fill="#ff00ff"/>
<circle cx="189.73" cy="250.26" r="1.75" fill="#ff00ff"/>
<circle cx="193.36" cy="250.71" r="1.75" fill="#ff00ff"/>
<circle cx="196.98" cy="251.07" r="1.75" fill="#ff00ff"/>
<circle cx="200.60" cy="251.37" r="1.75" fill="#ff00ff"/>
<circle cx="204.22" cy="251.64" r="1.75" fill="#ff00ff"/>
<circle cx="207.84" cy="251.91" r="1.75" fill="#ff00ff"/>
<circle cx="211.47" cy="252.20" r="1.75" fill="#ff00ff"/>
<circle cx="215.09" cy="252.47" r="1.75" fill="#ff00ff"/>
<circle cx="218.71" cy="252.73" r="1.75" fill="#ff00ff"/>
<circle cx="222.33" cy="252.96" r="1.75" fill="#ff00ff"/>
<circle cx="225.96" cy="253.16" r="1.75" fill="#ff00ff"/>
<circle cx="229.58" cy="253.34" r="1.75" fill="#ff00ff"/>
<circle cx="233.20" cy="253.51" r="1.75" fill="#ff00ff"/>
<circle cx="236.82" cy="253.68" r="1.75" fill="#ff00ff"/>
<circle cx="240.44" cy="253.84" r="1.75" fill="#ff00ff"/>
<circle cx="244.07" cy="253.99" r="1.75" fill="#ff00ff"/>
<circle cx="247.69" cy="254.13" r="1.75" fill="#ff00ff"/>
<circle cx="251.31" cy="254.26" r="1.75" fill="#ff00ff"/>
<circle cx="254.93" cy="254.37" r="1.75" fill="#ff00ff"/>
<circle cx="258.56" cy="254.47" r="1.75" fill="#ff00ff"/>
<circle cx="262.18" cy="254.55" r="1.75" fill="#ff00ff"/>
<circle cx="265.80" cy="254.61" r="1.75" fill="#ff00ff"/>
<path d="M168.0,218.9 168.8,224.9 169.6,228.5 170.3,231.3 170.9,233.0 171.1,233.6 171.9,235.5 172.4,236.3 172.7,236.5 173.5,237.0 173.9,237.0 174.3,237.1 175.0,237.1 175.8,237.1 176.6,237.2 177.4,237.2 178.2,237.2 179.0,237.3 179.7,237.3 180.5,237.3 181.3,237.3 182.1,237.3 182.9,237.4 183.6,237.4 184.4,237.4 185.2,237.4 186.0,237.4 186.8,237.4 187.6,237.4 188.3,237.4 189.1,237.4 189.9,237.4 190.7,237.4 191.5,237.4 192.3,237.5 193.0,237.5 193.8,237.5 194.6,237.5 195.4,237.5 196.2,237.5 196.9,237.5 197.7,237.6 198.5,237.6 199.3,237.6 200.1,237.6 200.9,237.7 201.6,237.7 202.4,237.8 203.2,237.9 204.0,238.0 204.8,238.1 205.6,238.3 206.3,238.5 207.1,238.7 207.9,238.9 208.7,239.1 209.5,239.4 210.2,239.8 211.0,240.2 211.8,240.6 212.6,241.1 213.4,241.7 213.8,242.0 214.2,242.3 214.9,243.3 215.7,244.4 216.5,245.6 217.3,246.8 218.1,247.7 218.9,248.5 219.6,249.2 220.4,249.9 221.2,250.6 222.0,251.1 222.8,251.6 223.6,251.9 223.7,252.0 224.3,252.2 225.1,252.4 225.9,252.5 226.7,252.7 227.5,252.8 228.2,252.9 229.0,253.0 229.8,253.1 230.6,253.2 231.4,253.3 232.2,253.4 232.9,253.5 233.7,253.6 234.5,253.7 235.3,253.8 236.1,254.0 236.7,254.1 236.9,254.1 237.6,254.3 238.4,254.5 239.2,254.7 240.0,255.0 240.8,255.2 241.5,255.5 242.3,255.7 243.1,256.0 243.9,256.2 244.7,256.5 245.5,256.8 246.2,257.0 247.0,257.3 247.8,257.5 248.6,257.8 249.4,258.0 250.2,258.2 250.9,258.4 251.7,258.6 252.5,258.8 253.3,258.9 254.1,259.1 254.8,259.3 255.6,259.4 256.4,259.6 257.2,259.8 258.0,259.9 258.8,260.1 259.5,260.2 260.3,260.4 261.1,260.5 261.9,260.6 262.7,260.8 263.5,260.9 264.2,261.0 265.0,261.1 265.8,261.2" fill="none" stroke="#2a2ade" stroke-width="1.6" stroke-linejoin="round"/>
<path d="M168.0,212.5 168.8,222.3 169.6,230.1 170.0,233.0 170.3,235.5 171.1,240.0 171.9,242.1 172.7,242.4 173.5,242.7 174.3,242.9 175.0,243.2 175.8,243.4 176.6,243.5 177.4,243.7 178.2,243.8 179.0,244.0 179.7,244.1 180.5,244.2 181.3,244.2 182.1,244.3 182.9,244.4 183.6,244.4 184.4,244.5 185.2,244.5 186.0,244.6 186.8,244.6 187.6,244.7 188.3,244.8 189.1,244.8 189.9,244.9 190.7,244.9 191.5,245.0 192.3,245.0 193.0,245.1 193.8,245.1 194.6,245.2 195.4,245.2 196.2,245.2 196.9,245.3 197.7,245.3 198.5,245.3 199.3,245.4 200.1,245.4 200.9,245.4 201.6,245.5 202.4,245.5 203.2,245.5 204.0,245.6 204.8,245.6 205.6,245.6 206.3,245.6 207.1,245.7 207.9,245.7 208.7,245.7 209.5,245.8 210.2,245.8 211.0,245.8 211.8,245.9 212.6,245.9 213.4,245.9 214.2,246.0 214.9,246.0 215.7,246.0 216.5,246.1 216.9,246.1 217.3,246.1 218.1,246.2 218.9,246.2 219.6,246.3 220.4,246.3 221.2,246.3 222.0,246.4 222.8,246.4 223.6,246.5 224.3,246.5 225.1,246.6 225.9,246.6 226.7,246.7 227.5,246.7 228.2,246.8 229.0,246.8 229.8,246.9 230.6,246.9 231.4,247.0 232.2,247.1 232.5,247.1 232.9,247.2 233.7,247.2 234.5,247.3 235.3,247.5 236.1,247.6 236.9,247.7 237.6,247.8 238.4,248.0 239.2,248.1 240.0,248.3 240.8,248.4 241.5,248.5 242.3,248.7 243.1,248.8 243.9,248.9 244.7,249.0 245.5,249.1 246.2,249.1 247.0,249.2 247.8,249.2 248.6,249.3 249.4,249.3 250.2,249.4 250.9,249.4 251.7,249.5 252.5,249.5 253.3,249.6 254.1,249.6 254.8,249.6 255.6,249.7 256.4,249.7 257.2,249.7 258.0,249.8 258.8,249.8 259.5,249.8 260.3,249.9 261.1,249.9 261.9,249.9 262.7,249.9 263.5,249.9 264.2,249.9 265.0,249.9 265.8,249.9" fill="none" stroke="#00f0f0" stroke-width="1.5" stroke-linejoin="round"/>
<path d="M168.0,166.5 168.8,195.5 169.6,217.5 170.0,224.9 170.3,230.9 171.1,240.6 171.7,243.4 171.9,243.4 172.7,243.5 173.5,243.6 174.3,243.7 175.0,243.8 175.8,243.8 176.6,243.9 177.4,244.0 178.2,244.0 179.0,244.1 179.7,244.2 180.5,244.2 181.3,244.3 182.1,244.3 182.9,244.4 183.6,244.4 184.4,244.5 185.2,244.5 186.0,244.6 186.8,244.6 187.6,244.6 188.3,244.7 189.1,244.7 189.9,244.7 190.7,244.8 191.5,244.8 192.3,244.8 193.0,244.8 193.8,244.9 194.6,244.9 195.4,244.9 196.2,244.9 196.9,244.9 197.7,245.0 198.5,245.0 199.3,245.0 200.1,245.0 200.9,245.0 201.6,245.0 202.4,245.1 203.2,245.1 204.0,245.1 204.8,245.1 205.6,245.1 206.3,245.1 207.1,245.1 207.9,245.1 208.7,245.1 209.5,245.2 210.2,245.2 211.0,245.2 211.8,245.2 212.6,245.2 213.4,245.2 214.2,245.2 214.9,245.3 215.7,245.3 216.5,245.3 217.3,245.3 218.1,245.3 218.9,245.3 219.6,245.4 220.4,245.4 221.2,245.4 222.0,245.4 222.8,245.5 223.6,245.5 224.3,245.5 225.1,245.6 225.9,245.6 226.7,245.6 227.5,245.7 228.2,245.7 229.0,245.7 229.8,245.8 230.6,245.8 231.4,245.9 232.2,245.9 232.9,245.9 233.7,246.0 234.5,246.0 235.3,246.1 236.1,246.1 236.9,246.1 237.6,246.2 238.4,246.2 239.2,246.2 240.0,246.3 240.8,246.3 241.5,246.4 242.3,246.4 243.1,246.5 243.9,246.5 244.7,246.5 245.5,246.6 246.2,246.6 247.0,246.7 247.8,246.7 248.6,246.7 249.4,246.8 250.2,246.8 250.9,246.9 251.7,246.9 252.5,247.0 253.3,247.0 254.1,247.0 254.8,247.1 255.6,247.1 256.4,247.2 257.2,247.2 258.0,247.3 258.8,247.3 259.5,247.3 260.3,247.4 261.1,247.4 261.9,247.5 262.7,247.5 263.5,247.6 264.2,247.6 265.0,247.7 265.8,247.7" fill="none" stroke="#f000f0" stroke-width="1.4" stroke-linejoin="round"/>
<path d="M168.0,166.5 168.8,195.0 169.6,217.2 170.0,224.9 170.3,231.2 171.1,241.7 171.9,247.1 172.7,249.0 173.5,250.6 174.3,252.0 175.0,253.2 175.8,254.3 176.6,255.1 177.4,255.7 178.2,256.3 179.0,256.6 179.7,256.9 180.3,257.0 180.5,257.0 181.3,257.2 182.1,257.3 182.9,257.4 183.6,257.5 184.4,257.6 185.2,257.7 186.0,257.8 186.8,257.9 187.6,257.9 188.3,258.0 189.1,258.1 189.9,258.1 190.7,258.2 191.5,258.3 192.3,258.3 193.0,258.4 193.8,258.4 194.6,258.5 195.4,258.5 196.2,258.5 196.9,258.6 197.7,258.6 198.5,258.7 199.3,258.7 200.1,258.7 200.9,258.8 201.6,258.8 202.4,258.8 203.2,258.8 204.0,258.9 204.8,258.9 205.6,258.9 206.3,259.0 207.1,259.0 207.9,259.1 208.7,259.1 208.9,259.1 209.5,259.1 210.2,259.2 211.0,259.2 211.8,259.2 212.6,259.3 213.4,259.3 214.2,259.4 214.9,259.4 215.7,259.4 216.5,259.4 217.3,259.5 218.1,259.5 218.9,259.5 219.6,259.6 220.4,259.6 221.2,259.6 222.0,259.7 222.8,259.7 223.6,259.7 224.3,259.7 225.1,259.8 225.9,259.8 226.7,259.8 227.5,259.9 228.2,259.9 229.0,259.9 229.8,260.0 230.6,260.0 231.4,260.0 232.2,260.1 232.9,260.1 233.7,260.1 234.5,260.1 235.3,260.2 236.1,260.2 236.9,260.2 237.6,260.3 238.4,260.3 239.2,260.3 240.0,260.4 240.8,260.4 241.5,260.4 242.3,260.4 243.1,260.5 243.9,260.5 244.7,260.5 245.5,260.6 246.2,260.6 247.0,260.6 247.8,260.7 248.6,260.7 249.4,260.7 250.2,260.7 250.9,260.8 251.7,260.8 252.5,260.8 253.3,260.9 254.1,260.9 254.8,260.9 255.6,260.9 256.4,261.0 257.2,261.0 258.0,261.0 258.8,261.1 259.5,261.1 260.3,261.1 261.1,261.1 261.9,261.2 262.7,261.2 263.5,261.2 264.2,261.2 265.0,261.3 265.8,261.3" fill="none" stroke="#00e600" stroke-width="1.5" stroke-linejoin="round" stroke-dasharray="3.2,2.2"/>
<path d="M168.0,166.5 168.8,195.2 169.6,217.5 170.0,224.9 170.3,230.6 171.1,240.3 171.9,247.0 172.4,249.1 172.7,249.7 173.5,251.2 174.3,252.4 175.0,253.3 175.8,254.0 176.6,254.5 177.4,254.9 178.2,255.2 179.0,255.6 179.7,255.9 180.5,256.2 181.3,256.4 182.1,256.7 182.9,256.9 183.6,257.1 184.4,257.3 185.2,257.5 186.0,257.7 186.8,257.8 187.6,258.0 188.3,258.1 189.1,258.3 189.9,258.4 190.7,258.5 191.5,258.7 192.3,258.8 193.0,258.9 193.8,259.0 194.6,259.1 195.4,259.2 196.2,259.3 196.9,259.4 197.7,259.5 198.5,259.6 199.3,259.7 200.1,259.8 200.9,259.9 201.6,260.0 202.4,260.1 203.2,260.2 204.0,260.3 204.8,260.4 205.6,260.4 206.3,260.5 207.1,260.6 207.9,260.7 208.7,260.8 209.5,260.8 210.2,260.9 211.0,261.0 211.8,261.0 212.6,261.1 213.4,261.2 214.2,261.2 214.9,261.3 215.7,261.4 216.5,261.4 217.3,261.5 218.1,261.5 218.9,261.6 219.6,261.6 220.4,261.7 221.2,261.7 222.0,261.8 222.8,261.8 223.6,261.9 224.3,261.9 225.1,262.0 225.9,262.0 226.7,262.0 227.5,262.1 228.2,262.1 229.0,262.2 229.8,262.2 230.6,262.2 231.4,262.3 232.2,262.3 232.9,262.4 233.7,262.4 234.5,262.4 235.3,262.5 236.1,262.5 236.9,262.6 237.6,262.6 238.4,262.6 239.2,262.7 240.0,262.7 240.8,262.7 241.5,262.8 242.3,262.8 243.1,262.8 243.9,262.9 244.7,262.9 245.5,262.9 246.2,263.0 247.0,263.0 247.8,263.0 248.6,263.0 249.4,263.1 250.2,263.1 250.9,263.1 251.7,263.2 252.5,263.2 253.3,263.2 254.1,263.2 254.8,263.2 255.6,263.3 256.4,263.3 257.2,263.3 258.0,263.3 258.8,263.3 259.5,263.3 260.3,263.3 261.1,263.4 261.9,263.4 262.7,263.4 263.5,263.4 264.2,263.4 265.0,263.4 265.8,263.4" fill="none" stroke="#00e600" stroke-width="1.5" stroke-linejoin="round"/>
<circle cx="168.00" cy="205.10" r="1.7" fill="#ff8c8c" stroke="#ff0000" stroke-width="1.35"/>
<path d="M168.0,164.7l2.3,4h-4.6z" fill="#0000ff"/>
<path d="M168.0,214.9l2.3,-4h-4.6z" fill="#00ffff"/>
<circle cx="168.00" cy="165.61" r="1.75" fill="#ff00ff"/>
<text class="tk" transform="translate(168.00,294.00) scale(0.9,1)" font-size="6.8" text-anchor="middle">0</text>
<text class="tk" transform="translate(187.56,294.00) scale(0.9,1)" font-size="6.8" text-anchor="middle">100</text>
<text class="tk" transform="translate(207.12,294.00) scale(0.9,1)" font-size="6.8" text-anchor="middle">200</text>
<text class="tk" transform="translate(226.68,294.00) scale(0.9,1)" font-size="6.8" text-anchor="middle">300</text>
<text class="tk" transform="translate(246.24,294.00) scale(0.9,1)" font-size="6.8" text-anchor="middle">400</text>
<text class="tk" transform="translate(265.80,294.00) scale(0.9,1)" font-size="6.8" text-anchor="middle">500</text>
<text class="tk" transform="translate(165.60,288.20) scale(0.9,1)" font-size="6.8" text-anchor="end">0</text>
<text class="tk" transform="translate(165.60,268.05) scale(0.9,1)" font-size="6.8" text-anchor="end">1000</text>
<text class="tk" transform="translate(165.60,247.90) scale(0.9,1)" font-size="6.8" text-anchor="end">2000</text>
<text class="tk" transform="translate(165.60,227.75) scale(0.9,1)" font-size="6.8" text-anchor="end">3000</text>
<text class="tk" transform="translate(165.60,207.60) scale(0.9,1)" font-size="6.8" text-anchor="end">4000</text>
<text class="tk" transform="translate(165.60,187.45) scale(0.9,1)" font-size="6.8" text-anchor="end">5000</text>
<text class="tk" transform="translate(165.60,167.30) scale(0.9,1)" font-size="6.8" text-anchor="end">6000</text>
<text transform="translate(216.90,163.10) scale(0.875,1)" font-size="7.8" text-anchor="middle" fill="#111">CEC2017 F6 Dim=50</text>
<text x="216.90" y="303.00" font-size="6.8" text-anchor="middle" fill="#262626">Iterations</text>
<text transform="translate(148.70,224.95) rotate(-90)" font-size="7" text-anchor="middle" fill="#262626">Fitness</text>
<line x1="325.04" y1="164.50" x2="325.04" y2="285.50" stroke="#e6e6e6" stroke-width="0.6"/>
<line x1="344.68" y1="164.50" x2="344.68" y2="285.50" stroke="#e6e6e6" stroke-width="0.6"/>
<line x1="364.32" y1="164.50" x2="364.32" y2="285.50" stroke="#e6e6e6" stroke-width="0.6"/>
<line x1="383.96" y1="164.50" x2="383.96" y2="285.50" stroke="#e6e6e6" stroke-width="0.6"/>
<line x1="305.40" y1="268.21" x2="403.60" y2="268.21" stroke="#e6e6e6" stroke-width="0.6"/>
<line x1="305.40" y1="250.93" x2="403.60" y2="250.93" stroke="#e6e6e6" stroke-width="0.6"/>
<line x1="305.40" y1="233.64" x2="403.60" y2="233.64" stroke="#e6e6e6" stroke-width="0.6"/>
<line x1="305.40" y1="216.36" x2="403.60" y2="216.36" stroke="#e6e6e6" stroke-width="0.6"/>
<line x1="305.40" y1="199.07" x2="403.60" y2="199.07" stroke="#e6e6e6" stroke-width="0.6"/>
<line x1="305.40" y1="181.79" x2="403.60" y2="181.79" stroke="#e6e6e6" stroke-width="0.6"/>
<rect x="305.40" y="164.50" width="98.20" height="121.00" fill="none" stroke="#a0a0a0" stroke-width="0.9"/>
<path d="M305.40,285.50v-1.2M305.40,164.50v1.2M325.04,285.50v-1.2M325.04,164.50v1.2M344.68,285.50v-1.2M344.68,164.50v1.2M364.32,285.50v-1.2M364.32,164.50v1.2M383.96,285.50v-1.2M383.96,164.50v1.2M403.60,285.50v-1.2M403.60,164.50v1.2M305.40,285.50h1.2M403.60,285.50h-1.2M305.40,268.21h1.2M403.60,268.21h-1.2M305.40,250.93h1.2M403.60,250.93h-1.2M305.40,233.64h1.2M403.60,233.64h-1.2M305.40,216.36h1.2M403.60,216.36h-1.2M305.40,199.07h1.2M403.60,199.07h-1.2M305.40,181.79h1.2M403.60,181.79h-1.2M305.40,164.50h1.2M403.60,164.50h-1.2" stroke="#a0a0a0" stroke-width="0.7" fill="none"/>
<path d="M305.4,206.6 306.2,217.6 307.0,225.0 307.8,228.8 308.5,231.4 308.7,232.0 309.3,233.6 310.1,235.5 310.9,237.1 311.7,238.4 312.3,239.1 312.5,239.3 313.3,239.8 314.0,240.3 314.8,240.6 315.6,241.0 316.4,241.4 317.2,241.9 317.4,242.0 318.0,242.6 318.8,243.4 319.5,244.5 320.3,245.5 321.1,246.6 321.5,247.0 321.9,247.5 322.7,248.4 323.5,249.2 324.3,250.1 325.0,251.0 325.8,252.0 326.6,253.1 327.4,254.3 328.2,255.5 329.0,256.8 329.8,258.1 330.5,259.3 331.3,260.4 331.5,260.6 332.1,261.3 332.9,262.2 333.7,263.1 334.5,264.0 335.3,264.8 336.0,265.6 336.8,266.3 337.6,266.9 338.4,267.5 338.8,267.7 339.2,267.9 340.0,268.4 340.8,268.8 341.5,269.2 342.3,269.5 343.1,269.9 343.9,270.2 344.7,270.4 345.5,270.6 345.9,270.6 346.3,270.7 347.0,270.8 347.8,270.9 348.6,271.0 349.4,271.1 350.2,271.2 351.0,271.3 351.8,271.4 352.5,271.4 353.3,271.5 354.1,271.6 354.9,271.6 355.7,271.7 356.5,271.7 357.2,271.8 358.0,271.8 358.8,271.9 359.6,271.9 360.4,271.9 361.2,272.0 362.0,272.0 362.7,272.0 362.9,272.0 363.5,272.0 364.3,272.1 365.1,272.1 365.9,272.1 366.7,272.1 367.5,272.2 368.2,272.2 369.0,272.2 369.8,272.2 370.6,272.2 371.4,272.3 372.2,272.3 373.0,272.3 373.7,272.3 374.5,272.3 375.3,272.4 376.1,272.4 376.9,272.4 377.7,272.4 378.5,272.4 379.2,272.4 380.0,272.5 380.8,272.5 381.6,272.5 382.4,272.5 383.2,272.5 384.0,272.5 384.7,272.5 385.5,272.6 386.3,272.6 387.1,272.6 387.9,272.6 388.7,272.6 389.5,272.6 390.2,272.6 391.0,272.6 391.8,272.6 392.6,272.7 393.4,272.7 394.2,272.7 395.0,272.7 395.7,272.7 396.5,272.7 397.3,272.7 398.1,272.7 398.9,272.7 399.7,272.7 400.5,272.7 401.2,272.7 402.0,272.7 402.8,272.7 403.6,272.7" fill="none" stroke="#ff0000" stroke-width="1.5" stroke-linejoin="round"/>
<circle cx="309.04" cy="232.81" r="1.7" fill="#ff8c8c" stroke="#ff0000" stroke-width="1.35"/>
<circle cx="312.67" cy="239.43" r="1.7" fill="#ff8c8c" stroke="#ff0000" stroke-width="1.35"/>
<circle cx="316.31" cy="241.33" r="1.7" fill="#ff8c8c" stroke="#ff0000" stroke-width="1.35"/>
<circle cx="319.95" cy="245.02" r="1.7" fill="#ff8c8c" stroke="#ff0000" stroke-width="1.35"/>
<circle cx="323.59" cy="249.35" r="1.7" fill="#ff8c8c" stroke="#ff0000" stroke-width="1.35"/>
<circle cx="327.22" cy="253.99" r="1.7" fill="#ff8c8c" stroke="#ff0000" stroke-width="1.35"/>
<circle cx="330.86" cy="259.75" r="1.7" fill="#ff8c8c" stroke="#ff0000" stroke-width="1.35"/>
<circle cx="334.50" cy="264.02" r="1.7" fill="#ff8c8c" stroke="#ff0000" stroke-width="1.35"/>
<circle cx="338.13" cy="267.28" r="1.7" fill="#ff8c8c" stroke="#ff0000" stroke-width="1.35"/>
<circle cx="341.77" cy="269.29" r="1.7" fill="#ff8c8c" stroke="#ff0000" stroke-width="1.35"/>
<circle cx="345.41" cy="270.56" r="1.7" fill="#ff8c8c" stroke="#ff0000" stroke-width="1.35"/>
<circle cx="349.04" cy="271.06" r="1.7" fill="#ff8c8c" stroke="#ff0000" stroke-width="1.35"/>
<circle cx="352.68" cy="271.44" r="1.7" fill="#ff8c8c" stroke="#ff0000" stroke-width="1.35"/>
<circle cx="356.32" cy="271.71" r="1.7" fill="#ff8c8c" stroke="#ff0000" stroke-width="1.35"/>
<circle cx="359.96" cy="271.91" r="1.7" fill="#ff8c8c" stroke="#ff0000" stroke-width="1.35"/>
<circle cx="363.59" cy="272.04" r="1.7" fill="#ff8c8c" stroke="#ff0000" stroke-width="1.35"/>
<circle cx="367.23" cy="272.14" r="1.7" fill="#ff8c8c" stroke="#ff0000" stroke-width="1.35"/>
<circle cx="370.87" cy="272.24" r="1.7" fill="#ff8c8c" stroke="#ff0000" stroke-width="1.35"/>
<circle cx="374.50" cy="272.34" r="1.7" fill="#ff8c8c" stroke="#ff0000" stroke-width="1.35"/>
<circle cx="378.14" cy="272.42" r="1.7" fill="#ff8c8c" stroke="#ff0000" stroke-width="1.35"/>
<circle cx="381.78" cy="272.49" r="1.7" fill="#ff8c8c" stroke="#ff0000" stroke-width="1.35"/>
<circle cx="385.41" cy="272.56" r="1.7" fill="#ff8c8c" stroke="#ff0000" stroke-width="1.35"/>
<circle cx="389.05" cy="272.61" r="1.7" fill="#ff8c8c" stroke="#ff0000" stroke-width="1.35"/>
<circle cx="392.69" cy="272.65" r="1.7" fill="#ff8c8c" stroke="#ff0000" stroke-width="1.35"/>
<circle cx="396.33" cy="272.68" r="1.7" fill="#ff8c8c" stroke="#ff0000" stroke-width="1.35"/>
<circle cx="399.96" cy="272.70" r="1.7" fill="#ff8c8c" stroke="#ff0000" stroke-width="1.35"/>
<circle cx="403.60" cy="272.71" r="1.7" fill="#ff8c8c" stroke="#ff0000" stroke-width="1.35"/>
<path d="M305.4,185.1 306.2,190.9 307.0,196.2 307.8,200.8 308.5,204.5 309.3,207.3 310.1,209.2 310.9,210.7 311.7,212.0 312.3,213.0 312.5,213.3 313.3,214.7 314.0,216.0 314.8,217.2 315.6,218.4 315.8,218.7 316.4,219.5 317.2,220.6 318.0,221.7 318.8,222.7 319.3,223.4 319.5,223.7 320.3,224.6 321.1,225.6 321.9,226.5 322.7,227.4 323.5,228.2 324.3,229.1 325.0,229.9 325.8,230.6 326.6,231.4 327.4,232.1 328.2,232.8 329.0,233.5 329.8,234.2 330.5,234.8 331.3,235.4 332.1,235.9 332.9,236.3 333.7,236.7 334.5,237.0 335.3,237.3 336.0,237.6 336.8,237.9 337.6,238.1 338.4,238.4 339.2,238.6 340.0,238.8 340.8,238.9 341.5,239.1 342.3,239.2 343.1,239.4 343.9,239.5 344.7,239.6 345.5,239.7 346.3,239.8 347.0,239.9 347.8,240.0 348.6,240.1 349.4,240.2 350.2,240.3 351.0,240.4 351.8,240.4 352.5,240.5 352.9,240.6 353.3,240.6 354.1,240.7 354.9,240.7 355.7,240.8 356.5,240.9 357.2,241.0 358.0,241.0 358.8,241.1 359.6,241.2 360.4,241.2 361.2,241.3 362.0,241.3 362.7,241.3 362.9,241.3 363.5,241.4 364.3,241.4 365.1,241.4 365.9,241.4 366.7,241.5 367.5,241.5 368.2,241.5 369.0,241.5 369.8,241.6 370.6,241.6 371.4,241.6 372.2,241.6 373.0,241.7 373.7,241.7 374.5,241.7 375.3,241.7 376.1,241.7 376.9,241.8 377.7,241.8 378.5,241.8 379.2,241.8 380.0,241.8 380.8,241.9 381.6,241.9 382.4,241.9 383.2,241.9 384.0,241.9 384.7,241.9 385.5,241.9 386.3,242.0 387.1,242.0 387.9,242.0 388.7,242.0 389.5,242.0 390.2,242.0 391.0,242.0 391.8,242.0 392.6,242.0 393.4,242.1 394.2,242.1 395.0,242.1 395.7,242.1 396.5,242.1 397.3,242.1 398.1,242.1 398.9,242.1 399.7,242.1 400.5,242.1 401.2,242.1 402.0,242.1 402.8,242.1 403.6,242.1" fill="none" stroke="#0000ff" stroke-width="1.5" stroke-linejoin="round"/>
<path d="M309.0,203.8l2.3,4h-4.6z" fill="#0000ff"/>
<path d="M312.7,211.1l2.3,4h-4.6z" fill="#0000ff"/>
<path d="M316.3,216.8l2.3,4h-4.6z" fill="#0000ff"/>
<path d="M319.9,221.6l2.3,4h-4.6z" fill="#0000ff"/>
<path d="M323.6,225.8l2.3,4h-4.6z" fill="#0000ff"/>
<path d="M327.2,229.3l2.3,4h-4.6z" fill="#0000ff"/>
<path d="M330.9,232.5l2.3,4h-4.6z" fill="#0000ff"/>
<path d="M334.5,234.4l2.3,4h-4.6z" fill="#0000ff"/>
<path d="M338.1,235.7l2.3,4h-4.6z" fill="#0000ff"/>
<path d="M341.8,236.5l2.3,4h-4.6z" fill="#0000ff"/>
<path d="M345.4,237.1l2.3,4h-4.6z" fill="#0000ff"/>
<path d="M349.0,237.6l2.3,4h-4.6z" fill="#0000ff"/>
<path d="M352.7,237.9l2.3,4h-4.6z" fill="#0000ff"/>
<path d="M356.3,238.3l2.3,4h-4.6z" fill="#0000ff"/>
<path d="M360.0,238.6l2.3,4h-4.6z" fill="#0000ff"/>
<path d="M363.6,238.8l2.3,4h-4.6z" fill="#0000ff"/>
<path d="M367.2,238.9l2.3,4h-4.6z" fill="#0000ff"/>
<path d="M370.9,239.0l2.3,4h-4.6z" fill="#0000ff"/>
<path d="M374.5,239.1l2.3,4h-4.6z" fill="#0000ff"/>
<path d="M378.1,239.2l2.3,4h-4.6z" fill="#0000ff"/>
<path d="M381.8,239.3l2.3,4h-4.6z" fill="#0000ff"/>
<path d="M385.4,239.3l2.3,4h-4.6z" fill="#0000ff"/>
<path d="M389.1,239.4l2.3,4h-4.6z" fill="#0000ff"/>
<path d="M392.7,239.4l2.3,4h-4.6z" fill="#0000ff"/>
<path d="M396.3,239.5l2.3,4h-4.6z" fill="#0000ff"/>
<path d="M400.0,239.5l2.3,4h-4.6z" fill="#0000ff"/>
<path d="M403.6,239.5l2.3,4h-4.6z" fill="#0000ff"/>
<path d="M305.4,205.1 306.2,212.7 307.0,218.8 307.4,220.7 307.8,222.0 308.5,224.3 309.3,226.0 310.1,227.4 310.9,228.7 311.3,229.3 311.7,229.9 312.5,231.1 313.3,232.2 314.0,233.2 314.8,234.0 315.6,234.7 315.8,234.9 316.4,235.3 317.2,235.8 318.0,236.3 318.8,236.8 319.5,237.2 320.3,237.7 321.1,238.1 321.9,238.5 322.7,238.8 323.5,239.2 324.3,239.5 325.0,239.8 325.8,240.1 326.6,240.4 327.4,240.7 328.2,240.9 329.0,241.2 329.8,241.5 330.5,241.7 331.3,242.0 331.5,242.0 332.1,242.2 332.9,242.5 333.7,242.7 334.5,243.0 335.3,243.2 336.0,243.5 336.8,243.7 337.6,243.9 338.4,244.2 339.2,244.4 340.0,244.6 340.8,244.8 341.5,244.9 342.3,245.1 343.1,245.2 343.9,245.3 344.7,245.4 345.5,245.5 346.1,245.6 346.3,245.6 347.0,245.6 347.8,245.7 348.6,245.7 349.4,245.7 350.2,245.8 351.0,245.8 351.8,245.8 352.5,245.9 353.3,245.9 354.1,245.9 354.9,245.9 355.7,246.0 356.5,246.0 357.2,246.0 358.0,246.0 358.8,246.0 359.6,246.1 360.4,246.1 361.2,246.1 362.0,246.1 362.7,246.2 362.9,246.2 363.5,246.2 364.3,246.2 365.1,246.3 365.9,246.3 366.7,246.3 367.5,246.4 368.2,246.4 369.0,246.4 369.8,246.4 370.6,246.5 371.4,246.5 372.2,246.5 373.0,246.6 373.7,246.6 374.5,246.6 375.3,246.7 376.1,246.7 376.9,246.7 377.7,246.8 378.5,246.8 379.2,246.8 380.0,246.9 380.8,246.9 381.6,246.9 382.4,247.0 383.2,247.0 384.0,247.0 384.7,247.1 385.5,247.1 386.3,247.1 387.1,247.2 387.9,247.2 388.7,247.2 389.5,247.3 390.2,247.3 391.0,247.3 391.8,247.4 392.6,247.4 393.4,247.4 394.2,247.5 395.0,247.5 395.7,247.5 396.5,247.6 397.3,247.6 398.1,247.6 398.9,247.7 399.7,247.7 400.5,247.8 401.2,247.8 402.0,247.8 402.8,247.9 403.6,247.9" fill="none" stroke="#00ffff" stroke-width="1.5" stroke-linejoin="round"/>
<path d="M309.0,228.0l2.3,-4h-4.6z" fill="#00ffff"/>
<path d="M312.7,234.0l2.3,-4h-4.6z" fill="#00ffff"/>
<path d="M316.3,237.8l2.3,-4h-4.6z" fill="#00ffff"/>
<path d="M319.9,240.1l2.3,-4h-4.6z" fill="#00ffff"/>
<path d="M323.6,241.8l2.3,-4h-4.6z" fill="#00ffff"/>
<path d="M327.2,243.2l2.3,-4h-4.6z" fill="#00ffff"/>
<path d="M330.9,244.4l2.3,-4h-4.6z" fill="#00ffff"/>
<path d="M334.5,245.6l2.3,-4h-4.6z" fill="#00ffff"/>
<path d="M338.1,246.7l2.3,-4h-4.6z" fill="#00ffff"/>
<path d="M341.8,247.6l2.3,-4h-4.6z" fill="#00ffff"/>
<path d="M345.4,248.1l2.3,-4h-4.6z" fill="#00ffff"/>
<path d="M349.0,248.3l2.3,-4h-4.6z" fill="#00ffff"/>
<path d="M352.7,248.5l2.3,-4h-4.6z" fill="#00ffff"/>
<path d="M356.3,248.6l2.3,-4h-4.6z" fill="#00ffff"/>
<path d="M360.0,248.7l2.3,-4h-4.6z" fill="#00ffff"/>
<path d="M363.6,248.8l2.3,-4h-4.6z" fill="#00ffff"/>
<path d="M367.2,248.9l2.3,-4h-4.6z" fill="#00ffff"/>
<path d="M370.9,249.1l2.3,-4h-4.6z" fill="#00ffff"/>
<path d="M374.5,249.2l2.3,-4h-4.6z" fill="#00ffff"/>
<path d="M378.1,249.4l2.3,-4h-4.6z" fill="#00ffff"/>
<path d="M381.8,249.5l2.3,-4h-4.6z" fill="#00ffff"/>
<path d="M385.4,249.7l2.3,-4h-4.6z" fill="#00ffff"/>
<path d="M389.1,249.8l2.3,-4h-4.6z" fill="#00ffff"/>
<path d="M392.7,250.0l2.3,-4h-4.6z" fill="#00ffff"/>
<path d="M396.3,250.2l2.3,-4h-4.6z" fill="#00ffff"/>
<path d="M400.0,250.3l2.3,-4h-4.6z" fill="#00ffff"/>
<path d="M403.6,250.5l2.3,-4h-4.6z" fill="#00ffff"/>
<path d="M305.4,181.6 306.2,193.4 307.0,203.5 307.4,207.7 307.8,211.6 308.5,218.5 309.3,223.3 310.1,225.9 310.9,227.8 311.6,229.1 311.7,229.3 312.5,230.6 313.3,231.7 314.0,232.7 314.8,233.6 315.6,234.4 316.4,235.3 317.2,236.1 317.4,236.3 318.0,237.0 318.8,237.8 319.5,238.7 320.3,239.5 321.1,240.4 321.9,241.1 322.7,241.9 323.5,242.6 324.3,243.3 324.5,243.4 325.0,243.9 325.8,244.5 326.6,245.1 327.4,245.7 328.2,246.2 329.0,246.8 329.8,247.3 330.5,247.8 331.3,248.3 332.1,248.8 332.9,249.2 333.7,249.6 334.5,250.0 335.3,250.3 335.8,250.6 336.0,250.7 336.8,251.0 337.6,251.2 338.4,251.5 339.2,251.8 340.0,252.0 340.8,252.2 341.5,252.5 342.3,252.7 343.1,252.9 343.9,253.1 344.7,253.3 345.5,253.4 346.3,253.6 347.0,253.8 347.8,253.9 348.6,254.1 348.8,254.1 349.4,254.2 350.2,254.4 351.0,254.5 351.8,254.7 352.5,254.8 353.3,254.9 354.1,255.0 354.9,255.2 355.7,255.3 356.5,255.4 357.2,255.5 358.0,255.6 358.8,255.7 359.6,255.8 360.4,255.9 361.2,255.9 362.0,256.0 362.7,256.1 362.9,256.1 363.5,256.2 364.3,256.2 365.1,256.3 365.9,256.4 366.7,256.4 367.5,256.5 368.2,256.6 369.0,256.6 369.8,256.7 370.6,256.8 371.4,256.8 372.2,256.9 373.0,257.0 373.7,257.0 374.5,257.1 375.3,257.2 376.1,257.2 376.9,257.3 377.7,257.3 378.5,257.4 379.2,257.5 380.0,257.5 380.8,257.6 381.6,257.6 382.4,257.7 383.2,257.7 384.0,257.8 384.7,257.8 385.5,257.9 386.3,257.9 387.1,258.0 387.9,258.0 388.7,258.0 389.5,258.1 390.2,258.1 391.0,258.2 391.8,258.2 392.6,258.2 393.4,258.2 394.2,258.3 395.0,258.3 395.7,258.3 396.5,258.3 397.3,258.4 398.1,258.4 398.9,258.4 399.7,258.4 400.5,258.4 401.2,258.4 402.0,258.4 402.8,258.4 403.6,258.4" fill="none" stroke="#ff00ff" stroke-width="1.5" stroke-linejoin="round"/>
<circle cx="309.04" cy="221.88" r="1.75" fill="#ff00ff"/>
<circle cx="312.67" cy="230.90" r="1.75" fill="#ff00ff"/>
<circle cx="316.31" cy="235.17" r="1.75" fill="#ff00ff"/>
<circle cx="319.95" cy="239.14" r="1.75" fill="#ff00ff"/>
<circle cx="323.59" cy="242.69" r="1.75" fill="#ff00ff"/>
<circle cx="327.22" cy="245.53" r="1.75" fill="#ff00ff"/>
<circle cx="330.86" cy="248.03" r="1.75" fill="#ff00ff"/>
<circle cx="334.50" cy="250.01" r="1.75" fill="#ff00ff"/>
<circle cx="338.13" cy="251.41" r="1.75" fill="#ff00ff"/>
<circle cx="341.77" cy="252.53" r="1.75" fill="#ff00ff"/>
<circle cx="345.41" cy="253.43" r="1.75" fill="#ff00ff"/>
<circle cx="349.04" cy="254.17" r="1.75" fill="#ff00ff"/>
<circle cx="352.68" cy="254.81" r="1.75" fill="#ff00ff"/>
<circle cx="356.32" cy="255.36" r="1.75" fill="#ff00ff"/>
<circle cx="359.96" cy="255.82" r="1.75" fill="#ff00ff"/>
<circle cx="363.59" cy="256.17" r="1.75" fill="#ff00ff"/>
<circle cx="367.23" cy="256.49" r="1.75" fill="#ff00ff"/>
<circle cx="370.87" cy="256.79" r="1.75" fill="#ff00ff"/>
<circle cx="374.50" cy="257.09" r="1.75" fill="#ff00ff"/>
<circle cx="378.14" cy="257.37" r="1.75" fill="#ff00ff"/>
<circle cx="381.78" cy="257.63" r="1.75" fill="#ff00ff"/>
<circle cx="385.41" cy="257.86" r="1.75" fill="#ff00ff"/>
<circle cx="389.05" cy="258.06" r="1.75" fill="#ff00ff"/>
<circle cx="392.69" cy="258.22" r="1.75" fill="#ff00ff"/>
<circle cx="396.33" cy="258.34" r="1.75" fill="#ff00ff"/>
<circle cx="399.96" cy="258.42" r="1.75" fill="#ff00ff"/>
<circle cx="403.60" cy="258.45" r="1.75" fill="#ff00ff"/>
<path d="M305.4,203.0 306.2,204.9 307.0,206.8 307.4,207.7 307.8,208.1 308.5,209.0 309.3,209.8 310.1,210.7 310.9,211.5 311.6,212.3 311.7,212.3 312.5,212.4 313.3,212.5 314.0,212.6 314.8,212.6 315.6,212.7 316.4,212.8 317.2,212.9 318.0,213.0 318.8,213.1 319.5,213.2 320.3,213.2 321.1,213.3 321.9,213.4 322.7,213.5 323.5,213.6 324.3,213.7 324.5,213.7 325.0,213.8 325.8,214.0 326.6,214.1 327.4,214.3 328.2,214.4 329.0,214.6 329.8,214.8 330.5,214.9 331.3,215.1 332.1,215.2 332.9,215.4 333.7,215.6 334.5,215.7 335.3,215.9 336.0,216.1 336.8,216.2 337.6,216.4 338.4,216.5 338.8,216.6 339.2,216.8 340.0,217.2 340.8,217.5 341.5,217.9 342.3,218.3 343.1,218.6 343.9,219.0 344.7,219.3 345.5,219.7 346.1,220.0 346.3,220.1 347.0,220.6 347.8,221.1 348.6,221.6 349.4,222.1 350.2,222.6 351.0,223.0 351.8,223.5 352.5,224.0 353.3,224.5 354.1,225.0 354.9,225.5 355.7,226.0 356.5,226.5 357.2,227.0 357.4,227.1 358.0,227.3 358.8,227.6 359.6,227.9 360.4,228.1 361.2,228.4 362.0,228.7 362.7,229.0 363.5,229.3 364.3,229.6 365.1,229.9 365.9,230.1 366.7,230.4 367.5,230.7 368.2,231.9 369.0,233.1 369.8,234.3 370.6,235.5 371.4,236.7 372.2,237.8 373.0,239.0 373.7,240.2 374.5,241.4 375.3,242.6 376.1,243.8 376.9,245.0 377.7,246.1 378.5,247.3 379.2,248.5 380.0,249.7 380.2,250.0 380.8,250.5 381.6,251.1 382.4,251.8 383.2,252.5 384.0,253.1 384.7,253.8 384.9,254.0 385.5,254.2 386.3,254.5 387.1,254.8 387.9,255.1 388.7,255.3 388.9,255.4 389.5,255.5 390.2,255.5 391.0,255.6 391.8,255.6 392.6,255.7 393.4,255.8 394.2,255.8 395.0,255.9 395.7,255.9 396.5,256.0 397.3,256.0 398.1,256.0 398.9,256.0 399.7,256.0 400.5,256.0 401.2,256.1 402.0,256.1 402.8,256.1 403.6,256.1" fill="none" stroke="#2a2ade" stroke-width="1.6" stroke-linejoin="round"/>
<path d="M305.4,205.1 306.2,210.6 307.0,214.6 307.8,217.5 308.5,219.2 308.7,219.4 309.3,219.6 310.1,219.8 310.9,220.0 311.7,220.2 312.5,220.4 313.3,220.6 314.0,220.7 314.8,220.8 315.6,220.9 316.4,221.0 317.2,221.1 318.0,221.2 318.8,221.3 319.5,221.3 320.3,221.4 321.1,221.4 321.9,221.4 322.7,221.5 323.5,221.5 324.3,221.5 324.5,221.5 325.0,221.6 325.8,221.6 326.6,221.6 327.4,221.6 328.2,221.7 329.0,221.7 329.8,221.7 330.5,221.7 331.3,221.8 332.1,221.8 332.9,221.8 333.7,221.8 334.5,221.8 335.3,221.9 336.0,221.9 336.8,221.9 337.6,221.9 338.4,221.9 339.2,221.9 340.0,221.9 340.8,221.9 341.5,222.0 342.3,222.0 343.1,222.0 343.9,222.0 344.7,222.0 345.5,222.0 346.3,222.0 347.0,222.0 347.8,222.0 348.6,222.1 349.4,222.1 350.2,222.1 351.0,222.1 351.8,222.1 352.5,222.1 353.3,222.1 354.1,222.1 354.9,222.1 355.7,222.2 356.5,222.2 357.2,222.2 358.0,222.2 358.8,222.2 359.6,222.2 360.4,222.3 361.2,222.3 362.0,222.3 362.7,222.3 362.9,222.3 363.5,222.3 364.3,222.4 365.1,222.4 365.9,222.4 366.7,222.4 367.5,222.4 368.2,222.5 369.0,222.5 369.8,222.6 370.2,222.6 370.6,222.8 371.4,223.9 372.2,225.8 373.0,227.9 373.7,229.9 374.5,231.4 375.3,232.4 376.1,233.4 376.9,234.3 377.7,235.2 378.5,235.9 379.2,236.7 380.0,237.3 380.8,237.9 381.6,238.4 381.8,238.6 382.4,238.9 383.2,239.4 384.0,239.8 384.7,240.2 385.5,240.6 386.3,241.0 387.1,241.3 387.9,241.7 388.7,242.0 389.5,242.3 390.2,242.6 391.0,242.8 391.8,243.1 392.6,243.4 393.2,243.6 393.4,243.6 394.2,243.9 395.0,244.2 395.7,244.4 396.5,244.7 397.3,244.9 398.1,245.1 398.9,245.3 399.7,245.5 400.5,245.7 401.2,245.9 402.0,246.1 402.8,246.3 403.6,246.4" fill="none" stroke="#00f0f0" stroke-width="1.5" stroke-linejoin="round"/>
<path d="M305.4,182.7 306.2,194.3 307.0,204.0 307.4,207.7 307.8,211.0 308.5,217.2 309.3,221.9 310.1,224.1 310.9,224.6 311.7,225.1 312.5,225.5 313.3,225.9 314.0,226.3 314.8,226.6 315.6,226.9 316.4,227.2 317.2,227.4 318.0,227.6 318.8,227.8 319.5,228.0 320.3,228.1 321.1,228.3 321.9,228.4 322.7,228.5 323.5,228.6 324.3,228.8 325.0,228.9 325.8,229.0 326.6,229.1 327.4,229.2 328.2,229.3 329.0,229.4 329.8,229.6 330.5,229.7 331.3,229.9 331.5,229.9 332.1,230.1 332.9,230.2 333.7,230.4 334.5,230.6 335.3,230.7 336.0,230.9 336.8,231.0 337.6,231.1 338.4,231.3 339.2,231.4 340.0,231.6 340.8,231.7 341.5,231.9 342.3,232.0 343.1,232.2 343.9,232.4 344.7,232.5 345.5,232.7 346.1,232.9 346.3,232.9 347.0,233.1 347.8,233.3 348.6,233.6 349.4,233.8 350.2,234.1 351.0,234.4 351.8,234.6 352.5,234.9 353.3,235.2 354.1,235.5 354.9,235.8 355.7,236.1 356.5,236.4 357.2,236.6 358.0,236.9 358.8,237.2 359.6,237.4 360.4,237.7 361.2,237.9 362.0,238.1 362.7,238.3 362.9,238.4 363.5,238.5 364.3,238.7 365.1,238.9 365.9,239.1 366.7,239.2 367.5,239.4 368.2,239.5 369.0,239.7 369.8,239.8 370.6,239.9 371.4,240.1 372.2,240.2 373.0,240.4 373.7,240.6 374.5,240.7 375.3,240.9 376.1,241.1 376.9,241.3 377.7,241.4 378.5,241.6 379.2,241.8 380.0,242.0 380.8,242.2 381.6,242.3 382.4,242.5 383.2,242.7 384.0,242.9 384.7,243.1 385.5,243.3 386.3,243.5 387.1,243.7 387.9,243.9 388.7,244.1 389.5,244.3 390.2,244.5 391.0,244.7 391.8,244.9 392.6,245.1 393.4,245.3 394.2,245.5 395.0,245.7 395.7,245.9 396.5,246.1 397.3,246.3 398.1,246.5 398.9,246.7 399.7,247.0 400.5,247.2 401.2,247.4 402.0,247.6 402.8,247.8 403.6,248.1" fill="none" stroke="#f000f0" stroke-width="1.4" stroke-linejoin="round"/>
<path d="M305.4,182.7 306.2,193.7 307.0,203.4 307.4,207.7 307.8,212.0 308.5,220.1 309.3,225.0 310.1,226.9 310.9,228.5 311.7,229.8 312.5,230.8 313.3,231.6 314.0,232.3 314.8,232.9 315.6,233.5 315.8,233.6 316.4,234.1 317.2,234.6 318.0,235.1 318.8,235.6 319.5,236.0 320.3,236.5 321.1,236.9 321.9,237.3 322.7,237.6 323.5,238.0 324.3,238.3 325.0,238.6 325.8,238.9 326.6,239.2 327.4,239.4 328.2,239.7 329.0,239.9 329.8,240.1 330.5,240.3 331.3,240.5 331.5,240.6 332.1,240.7 332.9,240.8 333.7,241.0 334.5,241.1 335.3,241.3 336.0,241.4 336.8,241.5 337.6,241.6 338.4,241.7 339.2,241.8 340.0,241.9 340.8,242.0 341.5,242.1 342.3,242.2 343.1,242.3 343.9,242.4 344.7,242.5 345.5,242.7 345.9,242.7 346.3,242.8 347.0,242.9 347.8,243.1 348.6,243.2 349.4,243.3 350.2,243.5 351.0,243.6 351.8,243.7 352.5,243.9 353.3,244.0 354.1,244.1 354.9,244.3 355.7,244.4 356.5,244.6 357.2,244.7 358.0,244.9 358.8,245.0 359.6,245.2 360.4,245.4 361.2,245.5 362.0,245.7 362.7,245.9 363.5,246.1 364.3,246.2 365.1,246.4 365.9,246.6 366.7,246.8 367.5,247.0 368.2,247.3 369.0,247.5 369.8,247.7 370.6,248.0 371.4,248.3 372.2,248.6 373.0,248.8 373.7,249.2 374.5,249.5 375.3,249.8 376.1,250.1 376.9,250.5 377.7,250.8 378.5,251.1 379.2,251.5 380.0,251.8 380.8,252.2 381.6,252.6 381.8,252.7 382.4,252.9 383.2,253.3 384.0,253.8 384.7,254.2 385.5,254.6 386.3,255.1 387.1,255.6 387.9,256.1 388.7,256.6 389.5,257.0 390.2,257.5 391.0,258.0 391.8,258.5 392.6,258.9 393.4,259.3 394.2,259.8 395.0,260.2 395.7,260.5 395.9,260.6 396.5,260.9 397.3,261.2 398.1,261.5 398.9,261.8 399.7,262.1 400.5,262.4 401.2,262.7 402.0,263.0 402.8,263.2 403.6,263.5" fill="none" stroke="#00e600" stroke-width="1.5" stroke-linejoin="round" stroke-dasharray="3.2,2.2"/>
<path d="M305.4,182.7 306.2,195.8 307.0,207.7 307.8,220.0 308.5,229.5 308.7,230.6 309.3,232.5 310.1,234.2 310.9,235.5 311.6,236.3 311.7,236.4 312.5,237.4 313.3,238.2 314.0,238.9 314.8,239.6 315.6,240.2 316.4,240.7 317.2,241.3 318.0,241.8 318.8,242.4 319.5,242.9 320.1,243.4 320.3,243.6 321.1,244.2 321.9,244.9 322.7,245.6 323.5,246.4 324.3,247.1 325.0,247.8 325.8,248.5 326.6,249.2 327.4,249.8 328.2,250.5 329.0,251.1 329.8,251.6 330.5,252.1 331.3,252.6 331.5,252.7 332.1,252.9 332.9,253.3 333.7,253.7 334.5,254.0 335.3,254.3 336.0,254.6 336.8,254.9 337.6,255.2 338.4,255.4 339.2,255.7 340.0,255.9 340.8,256.2 341.5,256.4 342.3,256.6 343.1,256.9 343.9,257.1 344.7,257.3 345.5,257.6 345.9,257.7 346.3,257.8 347.0,258.0 347.8,258.3 348.6,258.5 349.4,258.8 350.2,259.0 351.0,259.2 351.8,259.5 352.5,259.7 353.3,260.0 354.1,260.2 354.9,260.4 355.7,260.6 356.5,260.8 357.2,261.0 358.0,261.2 358.8,261.4 359.6,261.5 360.4,261.7 361.2,261.8 362.0,261.9 362.7,262.0 362.9,262.0 363.5,262.0 364.3,262.1 365.1,262.2 365.9,262.2 366.7,262.3 367.5,262.3 368.2,262.4 369.0,262.4 369.8,262.4 370.6,262.5 371.4,262.5 372.2,262.5 373.0,262.6 373.7,262.6 374.5,262.7 375.3,262.7 376.1,262.8 376.9,262.8 377.7,262.9 378.5,262.9 379.2,263.0 380.0,263.1 380.8,263.1 381.6,263.2 382.4,263.2 383.2,263.3 384.0,263.3 384.7,263.4 385.5,263.5 386.3,263.5 387.1,263.6 387.9,263.6 388.7,263.7 389.5,263.8 390.2,263.8 391.0,263.9 391.8,263.9 392.6,264.0 393.4,264.1 394.2,264.1 395.0,264.2 395.7,264.3 396.5,264.3 397.3,264.4 398.1,264.4 398.9,264.5 399.7,264.6 400.5,264.7 401.2,264.7 402.0,264.8 402.8,264.9 403.6,264.9" fill="none" stroke="#00e600" stroke-width="1.5" stroke-linejoin="round"/>
<circle cx="305.40" cy="206.59" r="1.7" fill="#ff8c8c" stroke="#ff0000" stroke-width="1.35"/>
<path d="M305.4,182.5l2.3,4h-4.6z" fill="#0000ff"/>
<path d="M305.4,207.7l2.3,-4h-4.6z" fill="#00ffff"/>
<circle cx="305.40" cy="181.61" r="1.75" fill="#ff00ff"/>
<text class="tk" transform="translate(305.40,294.10) scale(0.9,1)" font-size="6.8" text-anchor="middle">0</text>
<text class="tk" transform="translate(325.04,294.10) scale(0.9,1)" font-size="6.8" text-anchor="middle">100</text>
<text class="tk" transform="translate(344.68,294.10) scale(0.9,1)" font-size="6.8" text-anchor="middle">200</text>
<text class="tk" transform="translate(364.32,294.10) scale(0.9,1)" font-size="6.8" text-anchor="middle">300</text>
<text class="tk" transform="translate(383.96,294.10) scale(0.9,1)" font-size="6.8" text-anchor="middle">400</text>
<text class="tk" transform="translate(403.60,294.10) scale(0.9,1)" font-size="6.8" text-anchor="middle">500</text>
<text class="tk" transform="translate(303.00,288.30) scale(0.9,1)" font-size="6.8" text-anchor="end">800</text>
<text class="tk" transform="translate(303.00,271.01) scale(0.9,1)" font-size="6.8" text-anchor="end">1000</text>
<text class="tk" transform="translate(303.00,253.73) scale(0.9,1)" font-size="6.8" text-anchor="end">1200</text>
<text class="tk" transform="translate(303.00,236.44) scale(0.9,1)" font-size="6.8" text-anchor="end">1400</text>
<text class="tk" transform="translate(303.00,219.16) scale(0.9,1)" font-size="6.8" text-anchor="end">1600</text>
<text class="tk" transform="translate(303.00,201.87) scale(0.9,1)" font-size="6.8" text-anchor="end">1800</text>
<text class="tk" transform="translate(303.00,184.59) scale(0.9,1)" font-size="6.8" text-anchor="end">2000</text>
<text class="tk" transform="translate(303.00,167.30) scale(0.9,1)" font-size="6.8" text-anchor="end">2200</text>
<text transform="translate(354.50,163.10) scale(0.875,1)" font-size="7.8" text-anchor="middle" fill="#111">CEC2017 F7 Dim=50</text>
<text x="354.50" y="303.10" font-size="6.8" text-anchor="middle" fill="#262626">Iterations</text>
<text transform="translate(286.30,225.00) rotate(-90)" font-size="7" text-anchor="middle" fill="#262626">Fitness</text>
<line x1="457.60" y1="164.30" x2="457.60" y2="285.30" stroke="#e6e6e6" stroke-width="0.6"/>
<line x1="478.60" y1="164.30" x2="478.60" y2="285.30" stroke="#e6e6e6" stroke-width="0.6"/>
<line x1="499.60" y1="164.30" x2="499.60" y2="285.30" stroke="#e6e6e6" stroke-width="0.6"/>
<line x1="520.60" y1="164.30" x2="520.60" y2="285.30" stroke="#e6e6e6" stroke-width="0.6"/>
<line x1="436.60" y1="261.10" x2="541.60" y2="261.10" stroke="#e6e6e6" stroke-width="0.6"/>
<line x1="436.60" y1="236.90" x2="541.60" y2="236.90" stroke="#e6e6e6" stroke-width="0.6"/>
<line x1="436.60" y1="212.70" x2="541.60" y2="212.70" stroke="#e6e6e6" stroke-width="0.6"/>
<line x1="436.60" y1="188.50" x2="541.60" y2="188.50" stroke="#e6e6e6" stroke-width="0.6"/>
<rect x="436.60" y="164.30" width="105.00" height="121.00" fill="none" stroke="#a0a0a0" stroke-width="0.9"/>
<path d="M436.60,285.30v-1.2M436.60,164.30v1.2M457.60,285.30v-1.2M457.60,164.30v1.2M478.60,285.30v-1.2M478.60,164.30v1.2M499.60,285.30v-1.2M499.60,164.30v1.2M520.60,285.30v-1.2M520.60,164.30v1.2M541.60,285.30v-1.2M541.60,164.30v1.2M436.60,285.30h1.2M541.60,285.30h-1.2M436.60,261.10h1.2M541.60,261.10h-1.2M436.60,236.90h1.2M541.60,236.90h-1.2M436.60,212.70h1.2M541.60,212.70h-1.2M436.60,188.50h1.2M541.60,188.50h-1.2M436.60,164.30h1.2M541.60,164.30h-1.2" stroke="#a0a0a0" stroke-width="0.7" fill="none"/>
<path d="M436.6,194.4 437.4,220.2 437.7,224.8 438.3,236.1 439.1,246.5 439.3,247.8 440.0,250.4 440.8,253.1 441.6,255.1 442.5,256.7 443.3,258.0 444.0,259.0 444.2,259.4 445.0,260.7 445.8,261.9 446.7,262.9 447.5,263.9 448.4,264.9 449.2,265.7 450.0,266.6 450.9,267.5 451.7,268.3 452.6,269.0 453.4,269.7 454.2,270.4 455.1,271.0 455.5,271.3 455.9,271.5 456.8,272.1 457.6,272.6 458.4,273.0 459.3,273.5 460.1,273.9 461.0,274.2 461.8,274.6 462.6,274.9 463.5,275.2 464.3,275.4 465.2,275.7 466.0,276.0 466.8,276.2 467.7,276.4 468.5,276.6 469.4,276.9 470.2,277.1 471.0,277.3 471.9,277.4 472.7,277.6 473.6,277.8 474.4,277.9 475.2,278.1 476.1,278.3 476.9,278.4 477.8,278.5 478.6,278.7 479.4,278.8 480.3,279.0 481.1,279.1 482.0,279.2 482.8,279.4 483.6,279.5 484.5,279.6 485.3,279.7 486.2,279.8 487.0,279.9 487.8,280.0 488.7,280.1 489.5,280.2 490.4,280.3 491.2,280.4 492.0,280.4 492.9,280.5 493.7,280.6 493.9,280.6 494.6,280.6 495.4,280.7 496.2,280.7 497.1,280.8 497.9,280.8 498.8,280.9 499.6,280.9 500.4,281.0 501.3,281.0 502.1,281.1 503.0,281.1 503.8,281.1 504.6,281.2 505.5,281.2 506.3,281.3 507.2,281.3 508.0,281.4 508.8,281.4 509.7,281.4 510.5,281.5 511.4,281.5 512.2,281.6 513.0,281.6 513.9,281.6 514.7,281.7 515.6,281.7 516.4,281.7 517.2,281.8 518.1,281.8 518.9,281.8 519.8,281.9 520.6,281.9 521.4,281.9 522.3,282.0 523.1,282.0 524.0,282.0 524.8,282.0 525.6,282.0 526.5,282.1 527.3,282.1 528.2,282.1 529.0,282.1 529.8,282.2 530.7,282.2 531.5,282.2 532.4,282.2 533.2,282.2 534.0,282.2 534.9,282.2 535.7,282.2 536.6,282.3 537.4,282.3 538.2,282.3 539.1,282.3 539.9,282.3 540.8,282.3 541.6,282.3" fill="none" stroke="#ff0000" stroke-width="1.5" stroke-linejoin="round"/>
<circle cx="440.49" cy="252.20" r="1.7" fill="#ff8c8c" stroke="#ff0000" stroke-width="1.35"/>
<circle cx="444.38" cy="259.75" r="1.7" fill="#ff8c8c" stroke="#ff0000" stroke-width="1.35"/>
<circle cx="448.27" cy="264.75" r="1.7" fill="#ff8c8c" stroke="#ff0000" stroke-width="1.35"/>
<circle cx="452.16" cy="268.65" r="1.7" fill="#ff8c8c" stroke="#ff0000" stroke-width="1.35"/>
<circle cx="456.04" cy="271.61" r="1.7" fill="#ff8c8c" stroke="#ff0000" stroke-width="1.35"/>
<circle cx="459.93" cy="273.78" r="1.7" fill="#ff8c8c" stroke="#ff0000" stroke-width="1.35"/>
<circle cx="463.82" cy="275.29" r="1.7" fill="#ff8c8c" stroke="#ff0000" stroke-width="1.35"/>
<circle cx="467.71" cy="276.44" r="1.7" fill="#ff8c8c" stroke="#ff0000" stroke-width="1.35"/>
<circle cx="471.60" cy="277.38" r="1.7" fill="#ff8c8c" stroke="#ff0000" stroke-width="1.35"/>
<circle cx="475.49" cy="278.15" r="1.7" fill="#ff8c8c" stroke="#ff0000" stroke-width="1.35"/>
<circle cx="479.38" cy="278.81" r="1.7" fill="#ff8c8c" stroke="#ff0000" stroke-width="1.35"/>
<circle cx="483.27" cy="279.42" r="1.7" fill="#ff8c8c" stroke="#ff0000" stroke-width="1.35"/>
<circle cx="487.16" cy="279.95" r="1.7" fill="#ff8c8c" stroke="#ff0000" stroke-width="1.35"/>
<circle cx="491.04" cy="280.36" r="1.7" fill="#ff8c8c" stroke="#ff0000" stroke-width="1.35"/>
<circle cx="494.93" cy="280.64" r="1.7" fill="#ff8c8c" stroke="#ff0000" stroke-width="1.35"/>
<circle cx="498.82" cy="280.87" r="1.7" fill="#ff8c8c" stroke="#ff0000" stroke-width="1.35"/>
<circle cx="502.71" cy="281.09" r="1.7" fill="#ff8c8c" stroke="#ff0000" stroke-width="1.35"/>
<circle cx="506.60" cy="281.29" r="1.7" fill="#ff8c8c" stroke="#ff0000" stroke-width="1.35"/>
<circle cx="510.49" cy="281.48" r="1.7" fill="#ff8c8c" stroke="#ff0000" stroke-width="1.35"/>
<circle cx="514.38" cy="281.66" r="1.7" fill="#ff8c8c" stroke="#ff0000" stroke-width="1.35"/>
<circle cx="518.27" cy="281.81" r="1.7" fill="#ff8c8c" stroke="#ff0000" stroke-width="1.35"/>
<circle cx="522.16" cy="281.95" r="1.7" fill="#ff8c8c" stroke="#ff0000" stroke-width="1.35"/>
<circle cx="526.04" cy="282.06" r="1.7" fill="#ff8c8c" stroke="#ff0000" stroke-width="1.35"/>
<circle cx="529.93" cy="282.15" r="1.7" fill="#ff8c8c" stroke="#ff0000" stroke-width="1.35"/>
<circle cx="533.82" cy="282.22" r="1.7" fill="#ff8c8c" stroke="#ff0000" stroke-width="1.35"/>
<circle cx="537.71" cy="282.26" r="1.7" fill="#ff8c8c" stroke="#ff0000" stroke-width="1.35"/>
<circle cx="541.60" cy="282.28" r="1.7" fill="#ff8c8c" stroke="#ff0000" stroke-width="1.35"/>
<path d="M436.6,165.1 437.4,173.7 438.3,181.5 439.1,188.5 440.0,194.6 440.4,197.3 440.8,199.9 441.6,204.8 442.5,208.9 443.3,211.6 444.2,213.2 445.0,214.5 445.8,215.5 446.7,216.4 446.9,216.6 447.5,217.2 448.4,217.9 449.2,218.6 450.0,219.3 450.9,219.9 451.1,220.1 451.7,220.6 452.6,221.2 453.4,221.9 454.2,222.5 455.1,223.2 455.9,223.8 456.8,224.4 456.9,224.4 457.6,224.9 458.4,225.4 459.3,225.9 460.1,226.4 461.0,226.9 461.8,227.4 462.6,227.9 463.5,228.5 464.3,229.1 465.2,229.7 466.0,230.3 466.8,230.9 467.7,231.4 468.5,232.0 469.4,232.4 469.8,232.7 470.2,232.9 471.0,233.3 471.9,233.7 472.7,234.0 473.6,234.4 474.4,234.7 475.2,235.0 476.1,235.3 476.9,235.6 477.8,235.9 478.6,236.2 479.4,236.5 480.3,236.8 481.1,237.1 482.0,237.5 482.8,237.8 483.6,238.2 484.1,238.4 484.5,238.5 485.3,238.9 486.2,239.4 487.0,239.8 487.8,240.2 488.7,240.7 489.5,241.1 490.4,241.6 491.2,242.0 492.0,242.5 492.9,243.0 493.7,243.4 494.6,243.9 495.4,244.3 496.2,244.7 497.1,245.1 497.9,245.5 498.3,245.7 498.8,245.9 499.6,246.3 500.4,246.7 501.3,247.0 502.1,247.4 503.0,247.7 503.8,248.1 504.6,248.4 505.5,248.8 506.3,249.1 507.2,249.4 508.0,249.8 508.8,250.1 509.7,250.4 510.5,250.7 511.4,251.0 512.2,251.3 512.6,251.4 513.0,251.6 513.9,251.8 514.7,252.1 515.6,252.4 516.4,252.7 517.2,252.9 518.1,253.2 518.9,253.5 519.8,253.7 520.6,254.0 521.4,254.2 522.3,254.5 523.1,254.7 524.0,254.9 524.8,255.1 525.6,255.3 526.5,255.6 526.9,255.7 527.3,255.8 528.2,256.0 529.0,256.1 529.8,256.3 530.7,256.5 531.5,256.7 532.4,256.9 533.2,257.1 534.0,257.2 534.9,257.4 535.7,257.6 536.6,257.7 537.4,257.9 538.2,258.0 539.1,258.2 539.9,258.3 540.8,258.4 541.6,258.6" fill="none" stroke="#0000ff" stroke-width="1.5" stroke-linejoin="round"/>
<path d="M440.5,195.4l2.3,4h-4.6z" fill="#0000ff"/>
<path d="M444.4,211.0l2.3,4h-4.6z" fill="#0000ff"/>
<path d="M448.3,215.3l2.3,4h-4.6z" fill="#0000ff"/>
<path d="M452.2,218.3l2.3,4h-4.6z" fill="#0000ff"/>
<path d="M456.0,221.3l2.3,4h-4.6z" fill="#0000ff"/>
<path d="M459.9,223.7l2.3,4h-4.6z" fill="#0000ff"/>
<path d="M463.8,226.1l2.3,4h-4.6z" fill="#0000ff"/>
<path d="M467.7,228.8l2.3,4h-4.6z" fill="#0000ff"/>
<path d="M471.6,230.9l2.3,4h-4.6z" fill="#0000ff"/>
<path d="M475.5,232.5l2.3,4h-4.6z" fill="#0000ff"/>
<path d="M479.4,233.9l2.3,4h-4.6z" fill="#0000ff"/>
<path d="M483.3,235.4l2.3,4h-4.6z" fill="#0000ff"/>
<path d="M487.2,237.3l2.3,4h-4.6z" fill="#0000ff"/>
<path d="M491.0,239.4l2.3,4h-4.6z" fill="#0000ff"/>
<path d="M494.9,241.5l2.3,4h-4.6z" fill="#0000ff"/>
<path d="M498.8,243.3l2.3,4h-4.6z" fill="#0000ff"/>
<path d="M502.7,245.0l2.3,4h-4.6z" fill="#0000ff"/>
<path d="M506.6,246.6l2.3,4h-4.6z" fill="#0000ff"/>
<path d="M510.5,248.1l2.3,4h-4.6z" fill="#0000ff"/>
<path d="M514.4,249.4l2.3,4h-4.6z" fill="#0000ff"/>
<path d="M518.3,250.7l2.3,4h-4.6z" fill="#0000ff"/>
<path d="M522.2,251.8l2.3,4h-4.6z" fill="#0000ff"/>
<path d="M526.0,252.8l2.3,4h-4.6z" fill="#0000ff"/>
<path d="M529.9,253.8l2.3,4h-4.6z" fill="#0000ff"/>
<path d="M533.8,254.6l2.3,4h-4.6z" fill="#0000ff"/>
<path d="M537.7,255.3l2.3,4h-4.6z" fill="#0000ff"/>
<path d="M541.6,256.0l2.3,4h-4.6z" fill="#0000ff"/>
<path d="M436.6,196.6 437.4,210.8 438.3,221.5 438.7,224.8 439.1,227.1 440.0,230.9 440.8,233.1 441.0,233.3 441.6,233.7 442.5,234.2 443.3,234.6 444.2,235.0 445.0,235.3 445.8,235.6 446.7,235.8 447.5,236.0 448.4,236.2 449.2,236.4 450.0,236.5 450.9,236.7 451.7,236.8 452.6,237.0 453.4,237.1 454.2,237.2 455.1,237.4 455.5,237.5 455.9,237.6 456.8,237.8 457.6,238.0 458.4,238.1 459.3,238.3 460.1,238.5 461.0,238.6 461.8,238.8 462.6,239.0 463.5,239.1 464.3,239.3 465.2,239.4 466.0,239.5 466.8,239.7 467.7,239.8 468.5,240.0 469.4,240.1 470.2,240.2 471.0,240.3 471.9,240.5 472.7,240.6 473.6,240.7 474.4,240.9 475.2,241.0 476.1,241.1 476.9,241.2 477.8,241.4 478.6,241.5 479.4,241.6 480.3,241.8 481.1,241.9 482.0,242.0 482.8,242.1 483.6,242.3 484.5,242.4 485.3,242.6 486.2,242.7 487.0,242.8 487.8,243.0 488.7,243.1 489.5,243.3 490.4,243.4 491.2,243.6 492.0,243.8 492.9,243.9 493.7,244.1 493.9,244.2 494.6,244.3 495.4,244.5 496.2,244.7 497.1,244.9 497.9,245.1 498.8,245.3 499.6,245.6 500.4,245.8 501.3,246.1 502.1,246.3 503.0,246.6 503.8,246.9 504.6,247.1 505.5,247.4 506.3,247.7 507.2,247.9 508.0,248.2 508.8,248.5 509.7,248.7 510.5,249.0 511.4,249.3 512.2,249.5 513.0,249.8 513.9,250.1 514.7,250.3 515.6,250.5 516.4,250.8 517.2,251.0 518.1,251.2 518.9,251.4 519.8,251.6 520.6,251.8 521.4,252.0 522.3,252.2 523.1,252.3 524.0,252.5 524.8,252.6 525.6,252.7 526.5,252.8 526.9,252.9 527.3,252.9 528.2,253.0 529.0,253.1 529.8,253.2 530.7,253.2 531.5,253.3 532.4,253.4 533.2,253.4 534.0,253.5 534.9,253.6 535.7,253.6 536.6,253.7 537.4,253.7 538.2,253.8 539.1,253.8 539.9,253.8 540.8,253.8 541.6,253.8" fill="none" stroke="#00ffff" stroke-width="1.5" stroke-linejoin="round"/>
<path d="M440.5,235.1l2.3,-4h-4.6z" fill="#00ffff"/>
<path d="M444.4,237.7l2.3,-4h-4.6z" fill="#00ffff"/>
<path d="M448.3,238.8l2.3,-4h-4.6z" fill="#00ffff"/>
<path d="M452.2,239.5l2.3,-4h-4.6z" fill="#00ffff"/>
<path d="M456.0,240.2l2.3,-4h-4.6z" fill="#00ffff"/>
<path d="M459.9,241.0l2.3,-4h-4.6z" fill="#00ffff"/>
<path d="M463.8,241.8l2.3,-4h-4.6z" fill="#00ffff"/>
<path d="M467.7,242.4l2.3,-4h-4.6z" fill="#00ffff"/>
<path d="M471.6,243.0l2.3,-4h-4.6z" fill="#00ffff"/>
<path d="M475.5,243.6l2.3,-4h-4.6z" fill="#00ffff"/>
<path d="M479.4,244.2l2.3,-4h-4.6z" fill="#00ffff"/>
<path d="M483.3,244.8l2.3,-4h-4.6z" fill="#00ffff"/>
<path d="M487.2,245.5l2.3,-4h-4.6z" fill="#00ffff"/>
<path d="M491.0,246.2l2.3,-4h-4.6z" fill="#00ffff"/>
<path d="M494.9,247.0l2.3,-4h-4.6z" fill="#00ffff"/>
<path d="M498.8,248.0l2.3,-4h-4.6z" fill="#00ffff"/>
<path d="M502.7,249.1l2.3,-4h-4.6z" fill="#00ffff"/>
<path d="M506.6,250.3l2.3,-4h-4.6z" fill="#00ffff"/>
<path d="M510.5,251.6l2.3,-4h-4.6z" fill="#00ffff"/>
<path d="M514.4,252.8l2.3,-4h-4.6z" fill="#00ffff"/>
<path d="M518.3,253.9l2.3,-4h-4.6z" fill="#00ffff"/>
<path d="M522.2,254.8l2.3,-4h-4.6z" fill="#00ffff"/>
<path d="M526.0,255.4l2.3,-4h-4.6z" fill="#00ffff"/>
<path d="M529.9,255.8l2.3,-4h-4.6z" fill="#00ffff"/>
<path d="M533.8,256.1l2.3,-4h-4.6z" fill="#00ffff"/>
<path d="M537.7,256.3l2.3,-4h-4.6z" fill="#00ffff"/>
<path d="M541.6,256.4l2.3,-4h-4.6z" fill="#00ffff"/>
<path d="M436.6,167.3 437.4,194.4 438.3,212.7 439.1,222.8 440.0,230.1 440.8,234.5 441.6,236.8 442.5,238.2 442.6,238.4 443.3,239.2 444.2,240.0 445.0,240.6 445.8,241.2 446.7,241.7 447.5,242.2 448.4,242.7 449.2,243.2 450.0,243.8 450.9,244.3 451.7,244.8 452.6,245.3 453.4,245.7 454.2,246.2 455.1,246.6 455.9,247.1 456.8,247.5 457.6,248.0 458.4,248.4 459.3,248.8 460.1,249.3 461.0,249.7 461.8,250.1 462.6,250.6 463.5,251.0 464.3,251.5 465.2,251.9 466.0,252.3 466.8,252.8 467.7,253.2 468.5,253.6 469.4,254.0 470.2,254.5 471.0,254.9 471.9,255.3 472.7,255.7 473.6,256.1 474.4,256.5 475.2,256.9 476.1,257.3 476.9,257.7 477.8,258.1 478.6,258.5 479.4,258.9 480.3,259.2 481.1,259.6 482.0,260.0 482.8,260.4 483.6,260.7 484.5,261.1 485.3,261.5 486.2,261.8 487.0,262.2 487.8,262.5 488.7,262.9 489.5,263.2 490.4,263.5 491.2,263.9 492.0,264.2 492.9,264.5 493.7,264.8 493.9,264.9 494.6,265.1 495.4,265.4 496.2,265.7 497.1,266.0 497.9,266.3 498.8,266.6 499.6,266.9 500.4,267.2 501.3,267.5 502.1,267.8 503.0,268.1 503.8,268.3 504.6,268.6 505.5,268.8 506.3,269.0 507.2,269.2 508.0,269.3 508.8,269.4 509.7,269.5 510.1,269.6 510.5,269.6 511.4,269.7 512.2,269.7 513.0,269.8 513.9,269.8 514.7,269.9 515.6,269.9 516.4,270.0 517.2,270.0 518.1,270.1 518.9,270.1 519.8,270.2 520.6,270.2 521.4,270.3 522.3,270.3 523.1,270.4 524.0,270.4 524.8,270.4 525.6,270.5 526.5,270.5 527.3,270.5 528.2,270.6 529.0,270.6 529.8,270.6 530.7,270.6 531.5,270.6 532.4,270.7 533.2,270.7 534.0,270.7 534.9,270.7 535.7,270.7 536.6,270.7 537.4,270.8 538.2,270.8 539.1,270.8 539.9,270.8 540.8,270.8 541.6,270.8" fill="none" stroke="#ff00ff" stroke-width="1.5" stroke-linejoin="round"/>
<circle cx="440.49" cy="233.22" r="1.75" fill="#ff00ff"/>
<circle cx="444.38" cy="240.14" r="1.75" fill="#ff00ff"/>
<circle cx="448.27" cy="242.65" r="1.75" fill="#ff00ff"/>
<circle cx="452.16" cy="245.02" r="1.75" fill="#ff00ff"/>
<circle cx="456.04" cy="247.16" r="1.75" fill="#ff00ff"/>
<circle cx="459.93" cy="249.17" r="1.75" fill="#ff00ff"/>
<circle cx="463.82" cy="251.19" r="1.75" fill="#ff00ff"/>
<circle cx="467.71" cy="253.21" r="1.75" fill="#ff00ff"/>
<circle cx="471.60" cy="255.17" r="1.75" fill="#ff00ff"/>
<circle cx="475.49" cy="257.05" r="1.75" fill="#ff00ff"/>
<circle cx="479.38" cy="258.83" r="1.75" fill="#ff00ff"/>
<circle cx="483.27" cy="260.58" r="1.75" fill="#ff00ff"/>
<circle cx="487.16" cy="262.26" r="1.75" fill="#ff00ff"/>
<circle cx="491.04" cy="263.81" r="1.75" fill="#ff00ff"/>
<circle cx="494.93" cy="265.20" r="1.75" fill="#ff00ff"/>
<circle cx="498.82" cy="266.63" r="1.75" fill="#ff00ff"/>
<circle cx="502.71" cy="267.98" r="1.75" fill="#ff00ff"/>
<circle cx="506.60" cy="269.05" r="1.75" fill="#ff00ff"/>
<circle cx="510.49" cy="269.60" r="1.75" fill="#ff00ff"/>
<circle cx="514.38" cy="269.87" r="1.75" fill="#ff00ff"/>
<circle cx="518.27" cy="270.10" r="1.75" fill="#ff00ff"/>
<circle cx="522.16" cy="270.31" r="1.75" fill="#ff00ff"/>
<circle cx="526.04" cy="270.47" r="1.75" fill="#ff00ff"/>
<circle cx="529.93" cy="270.61" r="1.75" fill="#ff00ff"/>
<circle cx="533.82" cy="270.70" r="1.75" fill="#ff00ff"/>
<circle cx="537.71" cy="270.76" r="1.75" fill="#ff00ff"/>
<circle cx="541.60" cy="270.78" r="1.75" fill="#ff00ff"/>
<path d="M436.6,200.6 437.4,211.0 437.7,212.7 438.3,216.6 439.1,220.8 440.0,223.5 440.4,224.1 440.8,224.4 441.6,224.9 442.5,225.4 443.3,225.9 444.2,226.3 445.0,226.7 445.8,227.0 446.7,227.3 447.5,227.6 448.4,227.9 449.2,228.1 450.0,228.3 450.9,228.5 451.7,228.7 452.6,228.8 453.4,229.0 454.2,229.1 455.1,229.3 455.9,229.4 456.8,229.5 457.6,229.7 458.4,229.8 459.3,229.9 460.1,230.1 461.0,230.2 461.8,230.4 462.6,230.6 463.5,230.8 464.3,231.0 465.2,231.2 466.0,231.4 466.8,231.6 467.7,231.8 468.5,231.9 469.4,232.1 470.2,232.3 471.0,232.5 471.9,232.6 472.7,232.8 473.6,233.0 474.4,233.1 475.2,233.3 476.1,233.5 476.9,233.6 477.8,233.8 478.6,234.0 479.4,234.1 480.3,234.3 481.1,234.4 482.0,234.6 482.8,234.7 483.6,234.9 484.1,235.0 484.5,235.0 485.3,235.2 486.2,235.3 487.0,235.5 487.8,235.6 488.7,235.8 489.5,235.9 490.4,236.1 491.2,236.2 492.0,236.4 492.9,236.5 493.7,236.6 494.6,236.8 495.4,236.9 496.2,237.0 497.1,237.2 497.9,237.3 498.3,237.4 498.8,237.4 499.6,237.6 500.4,237.7 501.3,237.8 502.1,237.9 503.0,238.0 503.8,238.0 504.6,238.1 505.5,238.2 506.3,238.4 507.2,238.5 508.0,238.6 508.8,238.8 509.7,238.9 510.5,239.1 511.2,239.3 511.4,239.4 512.2,239.8 513.0,240.4 513.9,241.1 514.7,242.0 515.6,242.9 516.4,243.8 516.8,244.3 517.2,244.8 518.1,245.8 518.9,247.0 519.8,248.3 520.6,249.6 521.4,250.9 522.3,252.2 522.7,252.9 523.1,253.5 524.0,254.9 524.8,256.3 525.6,257.7 526.5,259.0 527.3,260.2 528.2,261.2 528.4,261.5 529.0,262.1 529.8,262.9 530.7,263.7 531.5,264.4 532.4,265.0 533.2,265.5 534.0,265.9 534.9,266.3 535.7,266.7 536.6,267.1 537.4,267.4 538.2,267.7 539.1,267.9 539.9,268.1 540.8,268.3 541.6,268.4" fill="none" stroke="#2a2ade" stroke-width="1.6" stroke-linejoin="round"/>
<path d="M436.6,196.6 437.4,213.7 438.3,224.8 439.1,231.2 439.8,233.3 440.0,233.3 440.8,233.6 441.6,233.9 442.5,234.1 443.3,234.3 444.2,234.5 445.0,234.6 445.8,234.7 446.7,234.9 447.5,234.9 448.4,235.0 449.2,235.1 450.0,235.2 450.9,235.2 451.7,235.3 452.6,235.3 453.4,235.4 454.2,235.4 455.1,235.5 455.9,235.5 456.8,235.6 457.6,235.7 458.4,235.8 459.3,235.9 460.1,235.9 461.0,236.0 461.8,236.1 462.6,236.2 463.5,236.2 464.3,236.3 465.2,236.4 466.0,236.4 466.8,236.5 467.7,236.5 468.5,236.6 469.4,236.7 470.2,236.7 471.0,236.8 471.9,236.8 472.7,236.9 473.6,237.0 474.4,237.0 475.2,237.1 476.1,237.2 476.9,237.2 477.8,237.3 478.6,237.4 479.4,237.4 480.3,237.5 481.1,237.6 482.0,237.7 482.8,237.7 483.6,237.8 484.1,237.9 484.5,237.9 485.3,238.0 486.2,238.1 487.0,238.2 487.8,238.3 488.7,238.4 489.5,238.4 490.4,238.5 491.2,238.6 492.0,238.7 492.9,238.8 493.7,238.9 494.6,239.0 495.4,239.1 496.2,239.2 497.1,239.3 497.9,239.5 498.8,239.6 499.6,239.7 500.4,239.8 501.3,240.0 502.1,240.1 503.0,240.3 503.8,240.4 504.6,240.6 505.5,240.8 506.3,240.9 507.2,241.1 508.0,241.3 508.2,241.4 508.8,241.5 509.7,241.8 510.5,242.2 511.4,242.6 512.2,243.0 513.0,243.5 513.9,244.0 514.7,244.5 515.6,245.0 516.4,245.4 517.2,245.9 518.1,246.3 518.9,246.7 519.8,247.1 520.6,247.4 521.4,247.7 522.3,248.0 523.1,248.3 524.0,248.5 524.8,248.8 525.6,249.0 526.5,249.2 526.9,249.2 527.3,249.3 528.2,249.4 529.0,249.6 529.8,249.7 530.7,249.8 531.5,249.9 532.4,250.0 533.2,250.1 534.0,250.2 534.9,250.3 535.7,250.4 536.6,250.5 537.4,250.5 538.2,250.6 539.1,250.6 539.9,250.7 540.8,250.7 541.6,250.7" fill="none" stroke="#00f0f0" stroke-width="1.5" stroke-linejoin="round"/>
<path d="M436.6,167.3 437.4,194.2 438.3,212.7 439.1,223.6 440.0,231.6 440.8,235.7 441.6,237.0 442.5,237.7 442.6,237.7 443.3,238.0 444.2,238.3 445.0,238.5 445.8,238.8 446.7,239.0 447.5,239.2 448.4,239.4 449.2,239.5 450.0,239.7 450.9,239.9 451.7,240.0 452.6,240.1 453.4,240.3 454.2,240.4 455.1,240.5 455.9,240.6 456.8,240.7 457.6,240.7 458.4,240.8 459.3,240.9 460.1,241.0 461.0,241.1 461.8,241.1 462.6,241.2 463.5,241.3 464.3,241.4 465.2,241.4 466.0,241.5 466.8,241.6 467.7,241.7 468.1,241.7 468.5,241.8 469.4,241.9 470.2,242.0 471.0,242.1 471.9,242.2 472.7,242.2 473.6,242.3 474.4,242.4 475.2,242.5 476.1,242.6 476.9,242.6 477.8,242.7 478.6,242.8 479.4,242.9 480.3,242.9 481.1,243.0 482.0,243.1 482.8,243.2 483.6,243.2 484.5,243.3 485.3,243.4 486.2,243.5 487.0,243.5 487.8,243.6 488.7,243.7 489.5,243.7 490.4,243.8 491.2,243.9 492.0,244.0 492.9,244.1 493.7,244.1 493.9,244.2 494.6,244.2 495.4,244.3 496.2,244.4 497.1,244.5 497.9,244.6 498.8,244.6 499.6,244.7 500.4,244.8 501.3,244.9 502.1,245.0 503.0,245.1 503.8,245.2 504.6,245.2 505.5,245.3 506.3,245.4 507.2,245.5 508.0,245.6 508.8,245.7 509.7,245.8 510.5,245.8 511.4,245.9 512.2,246.0 513.0,246.1 513.9,246.2 514.7,246.3 515.6,246.4 516.4,246.5 517.2,246.6 518.1,246.6 518.9,246.7 519.8,246.8 520.6,246.9 521.4,247.0 522.3,247.1 523.1,247.2 524.0,247.3 524.8,247.4 525.6,247.5 526.5,247.5 527.3,247.6 528.2,247.7 529.0,247.8 529.8,247.9 530.7,248.0 531.5,248.1 532.4,248.2 533.2,248.3 534.0,248.4 534.9,248.5 535.7,248.6 536.6,248.7 537.4,248.8 538.2,248.9 539.1,249.0 539.9,249.0 540.8,249.1 541.6,249.2" fill="none" stroke="#f000f0" stroke-width="1.4" stroke-linejoin="round"/>
<path d="M436.6,167.9 437.4,193.6 438.3,212.7 439.1,226.2 440.0,236.2 440.4,239.3 440.8,241.6 441.6,245.7 442.5,248.9 443.3,251.5 444.2,253.5 445.0,255.1 445.8,256.3 446.7,257.5 447.5,258.5 448.4,259.5 449.2,260.3 450.0,261.1 450.9,261.8 451.7,262.3 452.6,262.8 453.4,263.3 454.0,263.5 454.2,263.6 455.1,263.9 455.9,264.2 456.8,264.5 457.6,264.7 458.4,265.0 459.3,265.2 460.1,265.5 461.0,265.7 461.8,265.9 462.6,266.1 463.5,266.3 464.3,266.4 465.2,266.6 466.0,266.8 466.8,266.9 467.7,267.1 468.5,267.2 469.4,267.3 470.2,267.5 471.0,267.6 471.9,267.7 472.7,267.8 473.6,267.9 474.4,268.0 475.2,268.1 476.1,268.3 476.9,268.4 477.8,268.5 478.6,268.6 479.4,268.7 480.3,268.8 481.1,268.9 482.0,269.0 482.8,269.0 483.6,269.1 484.5,269.2 485.3,269.3 486.2,269.4 487.0,269.5 487.8,269.5 488.7,269.6 489.5,269.7 490.4,269.7 491.2,269.8 492.0,269.8 492.9,269.9 493.7,269.9 493.9,269.9 494.6,270.0 495.4,270.0 496.2,270.0 497.1,270.1 497.9,270.1 498.8,270.2 499.6,270.2 500.4,270.2 501.3,270.3 502.1,270.3 503.0,270.4 503.8,270.4 504.6,270.4 505.5,270.5 506.3,270.5 507.2,270.6 508.0,270.6 508.8,270.6 509.7,270.7 510.5,270.7 511.4,270.7 512.2,270.8 513.0,270.8 513.9,270.8 514.7,270.8 515.6,270.9 516.4,270.9 517.2,270.9 518.1,271.0 518.9,271.0 519.8,271.0 520.6,271.0 521.4,271.1 522.3,271.1 523.1,271.1 524.0,271.1 524.8,271.2 525.6,271.2 526.5,271.2 527.3,271.2 528.2,271.2 529.0,271.3 529.8,271.3 530.7,271.3 531.5,271.3 532.4,271.3 533.2,271.3 534.0,271.3 534.9,271.3 535.7,271.4 536.6,271.4 537.4,271.4 538.2,271.4 539.1,271.4 539.9,271.4 540.8,271.4 541.6,271.4" fill="none" stroke="#00e600" stroke-width="1.5" stroke-linejoin="round" stroke-dasharray="3.2,2.2"/>
<path d="M436.6,167.9 437.4,193.0 438.3,212.7 439.1,228.0 440.0,239.9 440.4,243.4 440.8,245.8 441.6,249.5 442.5,251.8 442.6,252.0 443.3,253.4 444.2,254.6 445.0,255.7 445.8,256.6 446.7,257.4 447.5,258.2 448.4,259.0 449.2,260.0 450.0,261.1 450.9,262.1 451.7,263.1 452.6,263.9 453.4,264.5 454.0,264.9 454.2,264.9 455.1,265.2 455.9,265.4 456.8,265.7 457.6,265.9 458.4,266.0 459.3,266.2 460.1,266.3 461.0,266.5 461.8,266.6 462.6,266.7 463.5,266.8 464.3,266.9 465.2,267.0 466.0,267.1 466.8,267.2 467.7,267.4 468.5,267.5 469.4,267.7 469.8,267.8 470.2,267.8 471.0,268.0 471.9,268.2 472.7,268.4 473.6,268.6 474.4,268.9 475.2,269.1 476.1,269.3 476.9,269.6 477.8,269.8 478.6,270.0 479.4,270.3 480.3,270.5 481.1,270.8 482.0,271.0 482.8,271.2 483.6,271.5 484.5,271.7 485.3,271.9 486.2,272.1 487.0,272.3 487.8,272.5 488.7,272.7 489.5,272.8 490.4,273.0 491.2,273.1 492.0,273.2 492.9,273.3 493.7,273.4 493.9,273.4 494.6,273.5 495.4,273.6 496.2,273.6 497.1,273.7 497.9,273.8 498.8,273.8 499.6,273.9 500.4,274.0 501.3,274.0 502.1,274.1 503.0,274.1 503.8,274.2 504.6,274.3 505.5,274.3 506.3,274.4 507.2,274.4 508.0,274.5 508.8,274.5 509.7,274.6 510.5,274.6 511.4,274.7 512.2,274.7 513.0,274.8 513.9,274.8 514.7,274.9 515.6,274.9 516.4,275.0 517.2,275.0 518.1,275.0 518.9,275.1 519.8,275.1 520.6,275.2 521.4,275.2 522.3,275.2 523.1,275.3 524.0,275.3 524.8,275.3 525.6,275.3 526.5,275.4 527.3,275.4 528.2,275.4 529.0,275.4 529.8,275.5 530.7,275.5 531.5,275.5 532.4,275.5 533.2,275.5 534.0,275.6 534.9,275.6 535.7,275.6 536.6,275.6 537.4,275.6 538.2,275.6 539.1,275.6 539.9,275.6 540.8,275.6 541.6,275.6" fill="none" stroke="#00e600" stroke-width="1.5" stroke-linejoin="round"/>
<circle cx="436.60" cy="194.43" r="1.7" fill="#ff8c8c" stroke="#ff0000" stroke-width="1.35"/>
<path d="M436.6,162.5l2.3,4h-4.6z" fill="#0000ff"/>
<path d="M436.6,199.2l2.3,-4h-4.6z" fill="#00ffff"/>
<circle cx="436.60" cy="167.33" r="1.75" fill="#ff00ff"/>
<text class="tk" transform="translate(436.60,293.90) scale(0.9,1)" font-size="6.8" text-anchor="middle">0</text>
<text class="tk" transform="translate(457.60,293.90) scale(0.9,1)" font-size="6.8" text-anchor="middle">100</text>
<text class="tk" transform="translate(478.60,293.90) scale(0.9,1)" font-size="6.8" text-anchor="middle">200</text>
<text class="tk" transform="translate(499.60,293.90) scale(0.9,1)" font-size="6.8" text-anchor="middle">300</text>
<text class="tk" transform="translate(520.60,293.90) scale(0.9,1)" font-size="6.8" text-anchor="middle">400</text>
<text class="tk" transform="translate(541.60,293.90) scale(0.9,1)" font-size="6.8" text-anchor="middle">500</text>
<text class="tk" transform="translate(434.20,288.10) scale(0.9,1)" font-size="6.8" text-anchor="end">0</text>
<text class="tk" transform="translate(434.20,263.90) scale(0.9,1)" font-size="6.8" text-anchor="end">2</text>
<text class="tk" transform="translate(434.20,239.70) scale(0.9,1)" font-size="6.8" text-anchor="end">4</text>
<text class="tk" transform="translate(434.20,215.50) scale(0.9,1)" font-size="6.8" text-anchor="end">6</text>
<text class="tk" transform="translate(434.20,191.30) scale(0.9,1)" font-size="6.8" text-anchor="end">8</text>
<text class="tk" transform="translate(434.20,167.10) scale(0.9,1)" font-size="6.8" text-anchor="end">10</text>
<text transform="translate(437.60,162.80) scale(0.98,1)" font-size="6.8" fill="#444" style="stroke:#444;stroke-width:0.08px">×10<tspan font-size="5.1" dy="-2.4">4</tspan></text>
<text transform="translate(489.10,162.90) scale(0.875,1)" font-size="7.8" text-anchor="middle" fill="#111">CEC2017 F8 Dim=50</text>
<text x="489.10" y="302.90" font-size="6.8" text-anchor="middle" fill="#262626">Iterations</text>
<text transform="translate(424.20,224.80) rotate(-90)" font-size="7" text-anchor="middle" fill="#262626">Fitness</text>
<line x1="45.56" y1="316.30" x2="45.56" y2="437.30" stroke="#e6e6e6" stroke-width="0.6"/>
<line x1="66.22" y1="316.30" x2="66.22" y2="437.30" stroke="#e6e6e6" stroke-width="0.6"/>
<line x1="86.88" y1="316.30" x2="86.88" y2="437.30" stroke="#e6e6e6" stroke-width="0.6"/>
<line x1="107.54" y1="316.30" x2="107.54" y2="437.30" stroke="#e6e6e6" stroke-width="0.6"/>
<line x1="24.90" y1="417.13" x2="128.20" y2="417.13" stroke="#e6e6e6" stroke-width="0.6"/>
<line x1="24.90" y1="396.97" x2="128.20" y2="396.97" stroke="#e6e6e6" stroke-width="0.6"/>
<line x1="24.90" y1="376.80" x2="128.20" y2="376.80" stroke="#e6e6e6" stroke-width="0.6"/>
<line x1="24.90" y1="356.63" x2="128.20" y2="356.63" stroke="#e6e6e6" stroke-width="0.6"/>
<line x1="24.90" y1="336.47" x2="128.20" y2="336.47" stroke="#e6e6e6" stroke-width="0.6"/>
<rect x="24.90" y="316.30" width="103.30" height="121.00" fill="none" stroke="#a0a0a0" stroke-width="0.9"/>
<path d="M24.90,437.30v-1.2M24.90,316.30v1.2M45.56,437.30v-1.2M45.56,316.30v1.2M66.22,437.30v-1.2M66.22,316.30v1.2M86.88,437.30v-1.2M86.88,316.30v1.2M107.54,437.30v-1.2M107.54,316.30v1.2M128.20,437.30v-1.2M128.20,316.30v1.2M24.90,437.30h1.2M128.20,437.30h-1.2M24.90,417.13h1.2M128.20,417.13h-1.2M24.90,396.97h1.2M128.20,396.97h-1.2M24.90,376.80h1.2M128.20,376.80h-1.2M24.90,356.63h1.2M128.20,356.63h-1.2M24.90,336.47h1.2M128.20,336.47h-1.2M24.90,316.30h1.2M128.20,316.30h-1.2" stroke="#a0a0a0" stroke-width="0.7" fill="none"/>
<path d="M24.9,320.3 25.7,323.2 26.6,325.9 27.4,328.3 28.2,330.4 29.0,331.9 29.9,333.1 30.7,334.1 31.5,335.1 32.3,335.9 33.2,336.6 34.0,337.3 34.8,337.9 35.6,338.5 36.3,339.0 36.5,339.1 37.3,339.7 38.1,340.3 38.9,340.8 39.8,341.3 40.6,341.8 41.4,342.2 42.3,342.7 43.1,343.1 43.9,343.5 44.7,343.9 45.6,344.3 46.4,344.7 47.2,345.1 48.0,345.6 48.9,346.0 49.7,346.4 50.5,346.9 51.3,347.3 52.2,347.8 53.0,348.2 53.8,348.7 54.7,349.1 55.5,349.6 56.3,350.1 57.1,350.5 58.0,351.0 58.8,351.4 59.6,351.9 60.4,352.3 61.3,352.8 62.1,353.2 62.9,353.7 63.7,354.1 64.6,354.5 64.8,354.6 65.4,354.9 66.2,355.3 67.0,355.7 67.9,356.1 68.7,356.5 69.5,356.9 69.9,357.1 70.4,357.4 71.2,357.9 72.0,358.5 72.8,359.2 73.7,359.9 74.5,360.6 75.3,361.3 76.1,362.1 77.0,362.9 77.8,363.7 78.6,364.5 79.4,365.3 80.3,366.1 81.1,366.9 81.9,367.7 82.7,368.5 83.6,369.4 84.4,370.2 85.2,371.1 86.1,372.0 86.9,373.0 87.7,373.9 88.5,374.8 89.4,375.8 90.2,376.7 91.0,377.6 91.8,378.4 92.7,379.3 93.5,380.1 94.3,380.9 95.1,381.6 95.8,382.1 96.0,382.3 96.8,383.0 97.6,383.6 98.4,384.2 99.3,384.8 100.1,385.3 100.9,385.9 101.8,386.4 102.6,386.9 103.4,387.4 104.2,388.0 105.1,388.5 105.7,388.9 105.9,389.0 106.7,389.6 107.5,390.1 108.4,390.7 109.2,391.2 110.0,391.8 110.8,392.4 111.7,392.9 112.5,393.5 113.3,394.0 114.2,394.5 115.0,395.0 115.8,395.5 116.6,396.0 117.5,396.5 118.3,396.9 119.1,397.3 119.9,397.7 120.8,398.0 121.6,398.4 122.4,398.7 123.2,399.0 124.1,399.3 124.9,399.6 125.7,399.9 126.5,400.1 127.4,400.4 128.2,400.6" fill="none" stroke="#ff0000" stroke-width="1.5" stroke-linejoin="round"/>
<circle cx="28.73" cy="331.42" r="1.7" fill="#ff8c8c" stroke="#ff0000" stroke-width="1.35"/>
<circle cx="32.55" cy="336.08" r="1.7" fill="#ff8c8c" stroke="#ff0000" stroke-width="1.35"/>
<circle cx="36.38" cy="339.07" r="1.7" fill="#ff8c8c" stroke="#ff0000" stroke-width="1.35"/>
<circle cx="40.20" cy="341.53" r="1.7" fill="#ff8c8c" stroke="#ff0000" stroke-width="1.35"/>
<circle cx="44.03" cy="343.56" r="1.7" fill="#ff8c8c" stroke="#ff0000" stroke-width="1.35"/>
<circle cx="47.86" cy="345.46" r="1.7" fill="#ff8c8c" stroke="#ff0000" stroke-width="1.35"/>
<circle cx="51.68" cy="347.49" r="1.7" fill="#ff8c8c" stroke="#ff0000" stroke-width="1.35"/>
<circle cx="55.51" cy="349.62" r="1.7" fill="#ff8c8c" stroke="#ff0000" stroke-width="1.35"/>
<circle cx="59.33" cy="351.73" r="1.7" fill="#ff8c8c" stroke="#ff0000" stroke-width="1.35"/>
<circle cx="63.16" cy="353.78" r="1.7" fill="#ff8c8c" stroke="#ff0000" stroke-width="1.35"/>
<circle cx="66.99" cy="355.65" r="1.7" fill="#ff8c8c" stroke="#ff0000" stroke-width="1.35"/>
<circle cx="70.81" cy="357.70" r="1.7" fill="#ff8c8c" stroke="#ff0000" stroke-width="1.35"/>
<circle cx="74.64" cy="360.73" r="1.7" fill="#ff8c8c" stroke="#ff0000" stroke-width="1.35"/>
<circle cx="78.46" cy="364.35" r="1.7" fill="#ff8c8c" stroke="#ff0000" stroke-width="1.35"/>
<circle cx="82.29" cy="368.08" r="1.7" fill="#ff8c8c" stroke="#ff0000" stroke-width="1.35"/>
<circle cx="86.11" cy="372.12" r="1.7" fill="#ff8c8c" stroke="#ff0000" stroke-width="1.35"/>
<circle cx="89.94" cy="376.40" r="1.7" fill="#ff8c8c" stroke="#ff0000" stroke-width="1.35"/>
<circle cx="93.77" cy="380.37" r="1.7" fill="#ff8c8c" stroke="#ff0000" stroke-width="1.35"/>
<circle cx="97.59" cy="383.56" r="1.7" fill="#ff8c8c" stroke="#ff0000" stroke-width="1.35"/>
<circle cx="101.42" cy="386.18" r="1.7" fill="#ff8c8c" stroke="#ff0000" stroke-width="1.35"/>
<circle cx="105.24" cy="388.62" r="1.7" fill="#ff8c8c" stroke="#ff0000" stroke-width="1.35"/>
<circle cx="109.07" cy="391.16" r="1.7" fill="#ff8c8c" stroke="#ff0000" stroke-width="1.35"/>
<circle cx="112.90" cy="393.72" r="1.7" fill="#ff8c8c" stroke="#ff0000" stroke-width="1.35"/>
<circle cx="116.72" cy="396.05" r="1.7" fill="#ff8c8c" stroke="#ff0000" stroke-width="1.35"/>
<circle cx="120.55" cy="397.94" r="1.7" fill="#ff8c8c" stroke="#ff0000" stroke-width="1.35"/>
<circle cx="124.37" cy="399.43" r="1.7" fill="#ff8c8c" stroke="#ff0000" stroke-width="1.35"/>
<circle cx="128.20" cy="400.60" r="1.7" fill="#ff8c8c" stroke="#ff0000" stroke-width="1.35"/>
<path d="M24.9,315.7 25.7,321.0 26.6,325.7 27.4,329.3 27.7,330.4 28.2,331.8 29.0,333.5 29.9,335.1 30.6,336.5 30.7,336.7 31.5,338.6 32.3,340.6 33.2,342.2 33.4,342.5 34.0,343.3 34.8,344.2 35.6,345.0 36.5,345.7 37.3,346.4 38.1,347.1 38.9,348.0 39.2,348.3 39.8,349.0 40.6,350.2 41.4,351.4 42.3,352.7 43.1,354.0 43.9,355.4 44.7,356.9 45.6,358.4 46.3,359.7 46.4,359.8 47.2,361.5 48.0,363.2 48.9,365.0 49.7,366.7 50.5,368.3 51.3,369.9 52.2,371.5 53.0,372.8 53.4,373.4 53.8,373.8 54.7,374.6 55.5,375.3 56.3,375.9 57.1,376.4 57.7,376.9 58.0,377.1 58.8,377.7 59.6,378.3 60.4,378.9 61.3,379.5 62.1,380.1 62.9,380.6 63.7,381.2 64.6,381.8 64.9,382.0 65.4,382.4 66.2,383.0 67.0,383.6 67.9,384.2 68.7,384.8 69.5,385.3 69.9,385.6 70.4,385.8 71.2,386.2 72.0,386.6 72.8,386.9 73.7,387.3 74.5,387.6 75.3,387.9 76.1,388.2 77.0,388.5 77.8,388.8 78.6,389.1 79.4,389.5 80.3,389.8 81.1,390.2 81.9,390.6 82.7,391.1 83.6,391.7 84.3,392.0 84.4,392.1 85.2,392.3 86.1,392.6 86.9,392.8 87.7,393.0 88.5,393.3 89.4,393.4 90.2,393.6 91.0,393.8 91.8,394.0 92.7,394.1 93.5,394.2 94.3,394.4 95.1,394.5 96.0,394.6 96.8,394.7 97.6,394.8 98.4,394.8 98.7,394.8 99.3,394.9 100.1,395.0 100.9,395.0 101.8,395.1 102.6,395.2 103.4,395.2 104.2,395.3 105.1,395.3 105.9,395.4 106.7,395.5 107.5,395.5 108.4,395.6 109.2,395.6 110.0,395.7 110.8,395.7 111.7,395.8 112.5,395.8 113.3,395.9 114.2,395.9 115.0,395.9 115.8,396.0 116.6,396.0 117.5,396.0 118.3,396.1 119.1,396.1 119.9,396.1 120.8,396.2 121.6,396.2 122.4,396.2 123.2,396.2 124.1,396.2 124.9,396.2 125.7,396.2 126.5,396.3 127.4,396.3 128.2,396.3" fill="none" stroke="#0000ff" stroke-width="1.5" stroke-linejoin="round"/>
<path d="M28.7,330.3l2.3,4h-4.6z" fill="#0000ff"/>
<path d="M32.6,338.4l2.3,4h-4.6z" fill="#0000ff"/>
<path d="M36.4,343.0l2.3,4h-4.6z" fill="#0000ff"/>
<path d="M40.2,347.0l2.3,4h-4.6z" fill="#0000ff"/>
<path d="M44.0,353.0l2.3,4h-4.6z" fill="#0000ff"/>
<path d="M47.9,360.2l2.3,4h-4.6z" fill="#0000ff"/>
<path d="M51.7,368.0l2.3,4h-4.6z" fill="#0000ff"/>
<path d="M55.5,372.7l2.3,4h-4.6z" fill="#0000ff"/>
<path d="M59.3,375.5l2.3,4h-4.6z" fill="#0000ff"/>
<path d="M63.2,378.2l2.3,4h-4.6z" fill="#0000ff"/>
<path d="M67.0,381.0l2.3,4h-4.6z" fill="#0000ff"/>
<path d="M70.8,383.4l2.3,4h-4.6z" fill="#0000ff"/>
<path d="M74.6,385.1l2.3,4h-4.6z" fill="#0000ff"/>
<path d="M78.5,386.5l2.3,4h-4.6z" fill="#0000ff"/>
<path d="M82.3,388.2l2.3,4h-4.6z" fill="#0000ff"/>
<path d="M86.1,390.0l2.3,4h-4.6z" fill="#0000ff"/>
<path d="M89.9,391.0l2.3,4h-4.6z" fill="#0000ff"/>
<path d="M93.8,391.7l2.3,4h-4.6z" fill="#0000ff"/>
<path d="M97.6,392.2l2.3,4h-4.6z" fill="#0000ff"/>
<path d="M101.4,392.5l2.3,4h-4.6z" fill="#0000ff"/>
<path d="M105.2,392.8l2.3,4h-4.6z" fill="#0000ff"/>
<path d="M109.1,393.0l2.3,4h-4.6z" fill="#0000ff"/>
<path d="M112.9,393.2l2.3,4h-4.6z" fill="#0000ff"/>
<path d="M116.7,393.4l2.3,4h-4.6z" fill="#0000ff"/>
<path d="M120.5,393.5l2.3,4h-4.6z" fill="#0000ff"/>
<path d="M124.4,393.6l2.3,4h-4.6z" fill="#0000ff"/>
<path d="M128.2,393.7l2.3,4h-4.6z" fill="#0000ff"/>
<path d="M24.9,317.3 25.7,321.5 26.6,325.0 27.0,326.4 27.4,327.6 28.2,329.8 29.0,331.1 29.9,331.9 30.7,332.6 31.5,333.2 32.3,333.7 33.2,334.2 34.0,334.7 34.8,335.1 35.6,335.4 36.5,335.8 37.3,336.1 38.1,336.4 38.9,336.6 39.8,336.9 40.6,337.2 41.4,337.5 42.3,337.8 43.1,338.1 43.4,338.3 43.9,338.5 44.7,338.9 45.6,339.2 46.4,339.6 47.2,339.9 48.0,340.2 48.9,340.6 49.7,340.9 50.5,341.2 51.3,341.5 52.2,341.8 53.0,342.2 53.8,342.5 54.7,342.8 55.5,343.1 56.3,343.4 57.1,343.8 57.7,344.0 58.0,344.1 58.8,344.5 59.6,344.8 60.4,345.2 61.3,345.6 62.1,345.9 62.9,346.3 63.7,346.7 64.6,347.1 65.4,347.4 66.2,347.8 67.0,348.1 67.9,348.4 68.7,348.7 69.5,349.0 69.9,349.1 70.4,349.2 71.2,349.4 72.0,349.6 72.8,349.8 73.7,349.9 74.5,350.1 75.3,350.2 76.1,350.4 77.0,350.5 77.8,350.7 78.6,350.8 79.4,351.0 80.3,351.2 81.1,351.4 81.9,351.6 82.7,351.8 83.6,352.1 84.4,352.3 85.2,352.6 86.1,352.9 86.9,353.2 87.7,353.5 88.5,353.9 89.4,354.2 90.2,354.5 91.0,354.9 91.8,355.2 92.7,355.6 93.5,355.9 94.3,356.2 95.1,356.6 96.0,356.9 96.8,357.2 97.6,357.5 98.4,357.8 98.7,357.8 99.3,358.0 100.1,358.3 100.9,358.6 101.8,358.9 102.6,359.1 103.4,359.4 104.2,359.7 105.1,359.9 105.9,360.2 106.7,360.4 107.5,360.7 108.4,360.9 109.2,361.1 110.0,361.4 110.8,361.6 111.7,361.8 112.5,362.0 112.9,362.1 113.3,362.2 114.2,362.4 115.0,362.6 115.8,362.7 116.6,362.9 117.5,363.1 118.3,363.3 119.1,363.4 119.9,363.6 120.8,363.8 121.6,363.9 122.4,364.1 123.2,364.2 124.1,364.4 124.9,364.5 125.7,364.6 126.5,364.8 127.4,364.9 128.2,365.0" fill="none" stroke="#00ffff" stroke-width="1.5" stroke-linejoin="round"/>
<path d="M28.7,333.3l2.3,-4h-4.6z" fill="#00ffff"/>
<path d="M32.6,336.5l2.3,-4h-4.6z" fill="#00ffff"/>
<path d="M36.4,338.3l2.3,-4h-4.6z" fill="#00ffff"/>
<path d="M40.2,339.7l2.3,-4h-4.6z" fill="#00ffff"/>
<path d="M44.0,341.2l2.3,-4h-4.6z" fill="#00ffff"/>
<path d="M47.9,342.8l2.3,-4h-4.6z" fill="#00ffff"/>
<path d="M51.7,344.3l2.3,-4h-4.6z" fill="#00ffff"/>
<path d="M55.5,345.7l2.3,-4h-4.6z" fill="#00ffff"/>
<path d="M59.3,347.3l2.3,-4h-4.6z" fill="#00ffff"/>
<path d="M63.2,349.0l2.3,-4h-4.6z" fill="#00ffff"/>
<path d="M67.0,350.7l2.3,-4h-4.6z" fill="#00ffff"/>
<path d="M70.8,351.9l2.3,-4h-4.6z" fill="#00ffff"/>
<path d="M74.6,352.7l2.3,-4h-4.6z" fill="#00ffff"/>
<path d="M78.5,353.4l2.3,-4h-4.6z" fill="#00ffff"/>
<path d="M82.3,354.3l2.3,-4h-4.6z" fill="#00ffff"/>
<path d="M86.1,355.5l2.3,-4h-4.6z" fill="#00ffff"/>
<path d="M89.9,357.0l2.3,-4h-4.6z" fill="#00ffff"/>
<path d="M93.8,358.6l2.3,-4h-4.6z" fill="#00ffff"/>
<path d="M97.6,360.1l2.3,-4h-4.6z" fill="#00ffff"/>
<path d="M101.4,361.4l2.3,-4h-4.6z" fill="#00ffff"/>
<path d="M105.2,362.6l2.3,-4h-4.6z" fill="#00ffff"/>
<path d="M109.1,363.7l2.3,-4h-4.6z" fill="#00ffff"/>
<path d="M112.9,364.7l2.3,-4h-4.6z" fill="#00ffff"/>
<path d="M116.7,365.5l2.3,-4h-4.6z" fill="#00ffff"/>
<path d="M120.5,366.3l2.3,-4h-4.6z" fill="#00ffff"/>
<path d="M124.4,367.0l2.3,-4h-4.6z" fill="#00ffff"/>
<path d="M128.2,367.6l2.3,-4h-4.6z" fill="#00ffff"/>
<path d="M24.9,315.7 25.7,321.0 26.6,325.7 27.4,329.3 27.7,330.4 28.2,331.8 29.0,333.9 29.9,335.5 30.6,336.5 30.7,336.6 31.5,337.3 32.3,338.0 33.2,338.6 34.0,339.2 34.8,339.7 35.6,340.1 36.5,340.5 37.3,340.9 38.1,341.2 38.9,341.5 39.8,341.9 40.6,342.2 41.4,342.6 42.3,343.0 43.1,343.4 43.4,343.5 43.9,343.8 44.7,344.2 45.6,344.6 46.4,345.0 47.2,345.3 48.0,345.7 48.9,346.0 49.7,346.4 50.5,346.7 51.3,347.1 52.2,347.5 53.0,347.9 53.8,348.4 54.7,348.8 55.5,349.4 56.3,350.0 57.1,350.6 57.7,351.1 58.0,351.3 58.8,352.2 59.6,353.4 60.4,354.7 61.3,356.2 62.1,357.8 62.9,359.4 63.7,360.9 64.6,362.3 64.8,362.7 65.4,363.7 66.2,365.1 67.0,366.5 67.9,367.9 68.7,369.2 69.5,370.4 70.4,371.5 70.6,371.8 71.2,372.4 72.0,373.2 72.8,373.9 73.7,374.5 74.5,375.2 75.3,375.9 76.1,376.7 76.3,376.9 77.0,377.6 77.8,378.8 78.6,380.0 79.4,381.4 80.3,382.6 81.1,383.8 81.9,384.9 82.7,385.8 83.6,386.7 84.4,387.6 85.2,388.5 86.1,389.3 86.9,390.1 87.7,390.8 88.5,391.5 89.4,392.1 90.2,392.7 91.0,393.2 91.4,393.4 91.8,393.6 92.7,394.1 93.5,394.4 94.3,394.8 95.1,395.2 96.0,395.5 96.8,395.8 97.6,396.1 98.4,396.4 99.3,396.7 100.1,396.9 100.9,397.2 101.8,397.4 102.6,397.6 103.4,397.8 104.2,398.0 105.1,398.2 105.7,398.4 105.9,398.4 106.7,398.6 107.5,398.8 108.4,399.0 109.2,399.2 110.0,399.3 110.8,399.5 111.7,399.7 112.5,399.9 113.3,400.0 114.2,400.2 115.0,400.3 115.8,400.5 116.6,400.6 117.5,400.8 118.3,400.9 119.1,401.1 119.9,401.2 120.8,401.3 121.6,401.4 122.4,401.5 123.2,401.6 124.1,401.7 124.9,401.8 125.7,401.8 126.5,401.9 127.4,402.0 128.2,402.0" fill="none" stroke="#ff00ff" stroke-width="1.5" stroke-linejoin="round"/>
<circle cx="28.73" cy="333.20" r="1.75" fill="#ff00ff"/>
<circle cx="32.55" cy="338.18" r="1.75" fill="#ff00ff"/>
<circle cx="36.38" cy="340.45" r="1.75" fill="#ff00ff"/>
<circle cx="40.20" cy="342.06" r="1.75" fill="#ff00ff"/>
<circle cx="44.03" cy="343.86" r="1.75" fill="#ff00ff"/>
<circle cx="47.86" cy="345.59" r="1.75" fill="#ff00ff"/>
<circle cx="51.68" cy="347.26" r="1.75" fill="#ff00ff"/>
<circle cx="55.51" cy="349.40" r="1.75" fill="#ff00ff"/>
<circle cx="59.33" cy="352.95" r="1.75" fill="#ff00ff"/>
<circle cx="63.16" cy="359.83" r="1.75" fill="#ff00ff"/>
<circle cx="66.99" cy="366.41" r="1.75" fill="#ff00ff"/>
<circle cx="70.81" cy="372.04" r="1.75" fill="#ff00ff"/>
<circle cx="74.64" cy="375.29" r="1.75" fill="#ff00ff"/>
<circle cx="78.46" cy="379.81" r="1.75" fill="#ff00ff"/>
<circle cx="82.29" cy="385.28" r="1.75" fill="#ff00ff"/>
<circle cx="86.11" cy="389.34" r="1.75" fill="#ff00ff"/>
<circle cx="89.94" cy="392.55" r="1.75" fill="#ff00ff"/>
<circle cx="93.77" cy="394.56" r="1.75" fill="#ff00ff"/>
<circle cx="97.59" cy="396.09" r="1.75" fill="#ff00ff"/>
<circle cx="101.42" cy="397.30" r="1.75" fill="#ff00ff"/>
<circle cx="105.24" cy="398.28" r="1.75" fill="#ff00ff"/>
<circle cx="109.07" cy="399.13" r="1.75" fill="#ff00ff"/>
<circle cx="112.90" cy="399.94" r="1.75" fill="#ff00ff"/>
<circle cx="116.72" cy="400.66" r="1.75" fill="#ff00ff"/>
<circle cx="120.55" cy="401.27" r="1.75" fill="#ff00ff"/>
<circle cx="124.37" cy="401.73" r="1.75" fill="#ff00ff"/>
<circle cx="128.20" cy="402.01" r="1.75" fill="#ff00ff"/>
<path d="M24.9,318.3 25.7,322.7 26.6,326.4 27.4,329.0 27.7,329.7 28.2,330.5 29.0,331.5 29.9,332.2 30.6,332.6 30.7,332.7 31.5,333.1 32.3,333.4 33.2,333.7 34.0,334.0 34.8,334.3 35.6,334.5 36.5,334.7 37.3,334.9 38.1,335.1 38.9,335.3 39.8,335.5 40.6,335.6 41.4,335.8 42.3,335.9 43.1,336.0 43.4,336.1 43.9,336.1 44.7,336.3 45.6,336.4 46.4,336.5 47.2,336.6 48.0,336.7 48.9,336.7 49.7,336.8 50.5,336.9 51.3,337.0 52.2,337.0 53.0,337.1 53.8,337.2 54.7,337.2 55.5,337.3 56.3,337.4 57.1,337.5 58.0,337.5 58.8,337.6 59.6,337.7 60.4,337.8 61.3,337.8 62.1,337.9 62.9,338.0 63.7,338.1 64.6,338.3 64.8,338.3 65.4,338.4 66.2,338.5 67.0,338.7 67.9,338.8 68.7,339.0 69.5,339.2 69.9,339.3 70.4,339.4 71.2,339.6 72.0,339.8 72.8,340.0 73.7,340.2 74.5,340.4 75.3,340.6 76.1,340.9 77.0,341.1 77.8,341.4 78.6,341.7 79.4,342.0 80.3,342.4 81.1,342.8 81.4,342.9 81.9,343.2 82.7,343.7 83.6,344.3 84.4,345.0 85.2,345.8 86.1,346.7 86.9,347.6 87.1,347.9 87.7,348.7 88.5,350.1 89.4,351.6 90.2,353.4 91.0,355.4 91.4,356.4 91.8,357.6 92.7,360.3 93.5,363.3 94.3,366.4 95.1,369.7 96.0,373.3 96.8,376.7 97.1,377.9 97.6,379.8 98.4,382.6 99.3,385.4 100.0,387.9 100.1,388.3 100.9,391.6 101.8,395.0 102.4,397.0 102.6,397.5 103.4,399.6 104.2,401.4 105.1,403.1 105.9,404.5 106.7,405.8 107.1,406.3 107.5,406.9 108.4,408.0 109.2,409.0 110.0,410.0 110.8,410.9 111.7,411.6 112.5,412.3 113.3,412.9 114.2,413.3 114.4,413.4 115.0,413.6 115.8,413.9 116.6,414.2 117.5,414.5 118.3,414.7 119.1,415.0 119.9,415.2 120.8,415.4 121.6,415.6 122.4,415.7 123.2,415.9 124.1,416.0 124.9,416.1 125.7,416.2 126.5,416.3 127.4,416.3 128.2,416.3" fill="none" stroke="#2a2ade" stroke-width="1.6" stroke-linejoin="round"/>
<path d="M24.9,318.3 25.7,322.6 26.6,326.2 27.4,329.0 27.7,329.7 28.2,330.6 29.0,332.0 29.9,332.9 30.6,333.4 30.7,333.5 31.5,333.9 32.3,334.2 33.2,334.5 34.0,334.7 34.8,335.0 35.6,335.2 36.5,335.4 37.3,335.6 38.1,335.7 38.9,335.9 39.8,336.0 40.6,336.1 41.4,336.2 42.3,336.3 43.1,336.4 43.4,336.5 43.9,336.5 44.7,336.6 45.6,336.7 46.4,336.8 47.2,336.9 48.0,337.0 48.9,337.1 49.7,337.2 50.5,337.2 51.3,337.3 52.2,337.4 53.0,337.4 53.8,337.5 54.7,337.6 55.5,337.6 56.3,337.7 57.1,337.7 58.0,337.8 58.8,337.9 59.6,337.9 60.4,338.0 61.3,338.0 62.1,338.1 62.9,338.1 63.7,338.2 64.6,338.2 65.4,338.3 66.2,338.3 67.0,338.4 67.9,338.4 68.7,338.5 69.5,338.6 69.9,338.6 70.4,338.6 71.2,338.7 72.0,338.7 72.8,338.8 73.7,338.8 74.5,338.8 75.3,338.9 76.1,338.9 77.0,338.9 77.8,338.9 78.6,339.0 79.4,339.0 80.3,339.0 81.1,339.0 81.9,339.1 82.7,339.1 83.6,339.2 84.4,339.2 85.2,339.2 86.1,339.3 86.9,339.3 87.7,339.4 88.5,339.5 89.4,339.6 90.2,339.6 91.0,339.7 91.8,339.8 92.7,340.0 92.9,340.0 93.5,340.6 94.3,342.6 95.1,345.8 96.0,349.5 96.8,353.5 97.6,357.1 98.4,360.1 98.7,360.7 99.3,362.2 100.1,364.1 100.9,365.9 101.8,367.5 102.6,369.0 103.4,370.5 104.2,372.0 105.1,373.4 105.9,374.8 106.7,376.1 107.5,377.4 108.4,378.7 109.2,379.9 110.0,381.1 110.8,382.2 111.7,383.3 112.5,384.4 112.9,384.9 113.3,385.4 114.2,386.4 115.0,387.3 115.8,388.3 116.6,389.1 117.5,389.9 118.3,390.6 118.5,390.7 119.1,391.1 119.9,391.7 120.8,392.3 121.6,392.8 122.4,393.3 123.2,393.7 124.1,394.2 124.9,394.6 125.7,394.9 126.5,395.2 127.4,395.4 128.2,395.6" fill="none" stroke="#00f0f0" stroke-width="1.5" stroke-linejoin="round"/>
<path d="M24.9,318.3 25.7,322.9 26.6,326.8 27.0,328.4 27.4,329.8 28.2,332.4 29.0,334.7 29.9,336.5 30.6,337.6 30.7,337.7 31.5,338.6 32.3,339.3 33.2,340.1 34.0,340.7 34.8,341.3 35.6,341.8 36.5,342.3 37.3,342.7 38.1,343.2 38.9,343.5 39.8,343.9 40.6,344.3 41.4,344.6 42.3,345.0 43.1,345.3 43.4,345.4 43.9,345.7 44.7,346.0 45.6,346.3 46.4,346.6 47.2,346.9 48.0,347.2 48.9,347.4 49.7,347.7 50.5,347.9 51.3,348.2 52.2,348.4 53.0,348.7 53.8,349.0 54.7,349.2 55.5,349.5 56.3,349.8 57.1,350.1 57.7,350.4 58.0,350.5 58.8,350.8 59.6,351.2 60.4,351.6 61.3,352.0 62.1,352.5 62.9,352.9 63.7,353.3 64.6,353.8 65.4,354.2 66.2,354.7 67.0,355.1 67.9,355.6 68.7,356.0 69.5,356.4 69.9,356.6 70.4,356.8 71.2,357.2 72.0,357.6 72.8,357.9 73.7,358.3 74.5,358.6 75.3,359.0 76.1,359.3 77.0,359.7 77.8,360.0 78.6,360.4 79.4,360.8 80.3,361.2 81.1,361.7 81.9,362.2 82.7,362.7 83.6,363.3 84.4,363.9 85.2,364.6 86.1,365.4 86.9,366.1 87.7,366.9 88.5,367.7 89.4,368.6 90.2,369.4 91.0,370.3 91.8,371.2 92.7,372.1 93.5,372.9 94.3,373.8 95.1,374.6 96.0,375.4 96.8,376.2 97.6,377.0 98.4,377.7 98.7,377.9 99.3,378.4 100.1,379.1 100.9,379.8 101.8,380.5 102.6,381.2 103.4,381.9 104.2,382.6 105.1,383.2 105.9,383.9 106.7,384.5 107.5,385.2 108.4,385.8 109.2,386.4 110.0,387.0 110.8,387.5 111.7,388.1 112.5,388.6 112.9,388.9 113.3,389.2 114.2,389.7 115.0,390.2 115.8,390.7 116.6,391.2 117.5,391.6 118.3,392.1 119.1,392.6 119.9,393.0 120.8,393.5 121.6,393.9 122.4,394.3 123.2,394.7 124.1,395.1 124.9,395.5 125.7,395.9 126.5,396.3 127.4,396.6 128.2,397.0" fill="none" stroke="#f000f0" stroke-width="1.4" stroke-linejoin="round"/>
<path d="M24.9,318.3 25.7,322.5 26.6,326.0 27.4,328.9 27.7,329.7 28.2,330.8 29.0,332.4 29.9,333.7 30.6,334.5 30.7,334.5 31.5,335.2 32.3,335.8 33.2,336.3 34.0,336.7 34.8,337.2 35.6,337.6 36.5,337.9 37.3,338.2 38.1,338.5 38.9,338.8 39.8,339.1 40.6,339.4 41.4,339.7 42.3,340.0 43.1,340.4 43.4,340.5 43.9,340.7 44.7,341.1 45.6,341.4 46.4,341.8 47.2,342.1 48.0,342.4 48.9,342.8 49.7,343.1 50.5,343.4 51.3,343.7 52.2,344.1 53.0,344.4 53.8,344.7 54.7,345.0 55.5,345.3 56.3,345.6 57.1,346.0 58.0,346.3 58.8,346.6 59.6,346.9 60.4,347.2 61.3,347.6 62.1,347.9 62.9,348.2 63.7,348.5 64.6,348.9 64.8,349.0 65.4,349.2 66.2,349.6 67.0,349.9 67.9,350.3 68.7,350.7 69.5,351.0 70.4,351.4 71.2,351.8 72.0,352.1 72.8,352.5 73.7,352.8 74.5,353.1 75.3,353.5 75.7,353.6 76.1,353.8 77.0,354.0 77.8,354.3 78.6,354.5 79.4,354.8 80.3,355.1 81.1,355.3 81.9,355.6 82.7,355.9 83.6,356.3 84.4,356.6 85.2,357.0 86.1,357.3 86.9,357.7 87.7,358.2 88.5,358.7 89.4,359.2 90.2,359.8 91.0,360.5 91.8,361.2 92.7,361.9 93.5,362.7 94.3,363.6 95.1,364.4 95.8,365.0 96.0,365.2 96.8,366.1 97.6,367.0 98.4,367.9 99.3,368.9 100.1,369.9 100.9,370.9 101.8,371.9 102.6,372.9 103.4,374.0 104.2,375.0 105.1,376.0 105.9,377.0 106.7,378.0 107.5,379.0 108.4,380.0 109.2,381.1 110.0,382.2 110.8,383.3 111.7,384.5 112.5,385.7 112.9,386.4 113.3,387.1 114.2,388.6 115.0,390.2 115.8,392.0 116.6,393.8 117.5,395.6 118.3,397.4 119.1,399.0 119.9,400.6 120.8,402.1 121.6,403.5 122.4,404.9 123.2,406.2 124.1,407.4 124.3,407.7 124.9,408.5 125.7,409.5 126.5,410.4 127.4,411.3 128.2,412.1" fill="none" stroke="#00e600" stroke-width="1.5" stroke-linejoin="round" stroke-dasharray="3.2,2.2"/>
<path d="M24.9,318.3 25.7,321.6 26.6,324.9 27.4,328.3 27.7,329.7 28.2,332.0 29.0,336.2 29.9,340.0 30.6,342.5 30.7,342.8 31.5,344.7 32.3,346.3 33.2,347.7 34.0,348.9 34.8,350.0 35.6,351.1 36.3,351.9 36.5,352.2 37.3,353.1 38.1,353.9 38.9,354.7 39.8,355.6 40.6,356.9 41.4,359.5 42.3,363.2 43.1,366.2 43.4,366.9 43.9,367.6 44.7,368.5 45.6,369.1 46.4,369.7 47.2,370.5 47.6,371.1 48.0,371.7 48.9,373.4 49.7,375.5 50.5,377.7 51.3,380.6 52.2,383.9 53.0,386.8 53.4,387.7 53.8,388.3 54.7,389.4 55.5,390.2 56.3,390.9 57.1,391.5 58.0,392.2 58.8,393.0 59.2,393.4 59.6,394.0 60.4,395.3 61.3,396.7 62.1,398.2 62.9,399.7 63.7,401.1 64.6,402.3 64.9,402.7 65.4,403.3 66.2,404.1 67.0,404.9 67.9,405.7 68.7,406.3 69.5,407.0 70.4,407.5 70.6,407.7 71.2,408.0 72.0,408.5 72.8,408.9 73.7,409.3 74.5,409.7 75.3,410.1 76.1,410.5 76.3,410.6 77.0,410.9 77.8,411.3 78.6,411.8 79.4,412.2 80.3,412.6 81.1,413.0 81.9,413.4 82.7,413.7 83.6,414.1 84.4,414.4 85.2,414.7 86.1,415.0 86.9,415.3 87.7,415.6 88.5,415.9 89.4,416.2 90.2,416.5 91.0,416.7 91.8,417.0 92.7,417.2 93.5,417.5 94.3,417.7 95.1,417.9 96.0,418.1 96.8,418.3 97.2,418.4 97.6,418.5 98.4,418.7 99.3,418.9 100.1,419.1 100.9,419.3 101.8,419.5 102.6,419.7 103.4,419.8 104.2,420.0 105.1,420.2 105.9,420.3 106.7,420.5 107.5,420.6 108.4,420.7 109.2,420.9 110.0,421.0 110.8,421.1 111.7,421.2 112.5,421.2 112.9,421.3 113.3,421.3 114.2,421.4 115.0,421.4 115.8,421.5 116.6,421.5 117.5,421.6 118.3,421.6 119.1,421.7 119.9,421.7 120.8,421.8 121.6,421.8 122.4,421.8 123.2,421.9 124.1,421.9 124.9,421.9 125.7,421.9 126.5,422.0 127.4,422.0 128.2,422.0" fill="none" stroke="#00e600" stroke-width="1.5" stroke-linejoin="round"/>
<circle cx="24.90" cy="320.33" r="1.7" fill="#ff8c8c" stroke="#ff0000" stroke-width="1.35"/>
<path d="M24.9,313.1l2.3,4h-4.6z" fill="#0000ff"/>
<path d="M24.9,319.9l2.3,-4h-4.6z" fill="#00ffff"/>
<circle cx="24.90" cy="315.70" r="1.75" fill="#ff00ff"/>
<text class="tk" transform="translate(24.90,445.90) scale(0.9,1)" font-size="6.8" text-anchor="middle">0</text>
<text class="tk" transform="translate(45.56,445.90) scale(0.9,1)" font-size="6.8" text-anchor="middle">100</text>
<text class="tk" transform="translate(66.22,445.90) scale(0.9,1)" font-size="6.8" text-anchor="middle">200</text>
<text class="tk" transform="translate(86.88,445.90) scale(0.9,1)" font-size="6.8" text-anchor="middle">300</text>
<text class="tk" transform="translate(107.54,445.90) scale(0.9,1)" font-size="6.8" text-anchor="middle">400</text>
<text class="tk" transform="translate(128.20,445.90) scale(0.9,1)" font-size="6.8" text-anchor="middle">500</text>
<text class="tk" transform="translate(22.50,440.10) scale(0.9,1)" font-size="6.8" text-anchor="end">0.6</text>
<text class="tk" transform="translate(22.50,419.93) scale(0.9,1)" font-size="6.8" text-anchor="end">0.8</text>
<text class="tk" transform="translate(22.50,399.77) scale(0.9,1)" font-size="6.8" text-anchor="end">1</text>
<text class="tk" transform="translate(22.50,379.60) scale(0.9,1)" font-size="6.8" text-anchor="end">1.2</text>
<text class="tk" transform="translate(22.50,359.43) scale(0.9,1)" font-size="6.8" text-anchor="end">1.4</text>
<text class="tk" transform="translate(22.50,339.27) scale(0.9,1)" font-size="6.8" text-anchor="end">1.6</text>
<text class="tk" transform="translate(22.50,319.10) scale(0.9,1)" font-size="6.8" text-anchor="end">1.8</text>
<text transform="translate(25.90,314.80) scale(0.98,1)" font-size="6.8" fill="#444" style="stroke:#444;stroke-width:0.08px">×10<tspan font-size="5.1" dy="-2.4">4</tspan></text>
<text transform="translate(76.55,314.90) scale(0.875,1)" font-size="7.8" text-anchor="middle" fill="#111">CEC2017 F9 Dim=50</text>
<text x="76.55" y="454.90" font-size="6.8" text-anchor="middle" fill="#262626">Iterations</text>
<text transform="translate(10.80,376.80) rotate(-90)" font-size="7" text-anchor="middle" fill="#262626">Fitness</text>
<line x1="163.60" y1="428.39" x2="266.20" y2="428.39" stroke="#f0f0f0" stroke-width="0.6"/>
<line x1="163.60" y1="423.07" x2="266.20" y2="423.07" stroke="#f0f0f0" stroke-width="0.6"/>
<line x1="163.60" y1="419.29" x2="266.20" y2="419.29" stroke="#f0f0f0" stroke-width="0.6"/>
<line x1="163.60" y1="416.36" x2="266.20" y2="416.36" stroke="#f0f0f0" stroke-width="0.6"/>
<line x1="163.60" y1="413.96" x2="266.20" y2="413.96" stroke="#f0f0f0" stroke-width="0.6"/>
<line x1="163.60" y1="411.94" x2="266.20" y2="411.94" stroke="#f0f0f0" stroke-width="0.6"/>
<line x1="163.60" y1="410.18" x2="266.20" y2="410.18" stroke="#f0f0f0" stroke-width="0.6"/>
<line x1="163.60" y1="408.63" x2="266.20" y2="408.63" stroke="#f0f0f0" stroke-width="0.6"/>
<line x1="163.60" y1="398.14" x2="266.20" y2="398.14" stroke="#f0f0f0" stroke-width="0.6"/>
<line x1="163.60" y1="392.82" x2="266.20" y2="392.82" stroke="#f0f0f0" stroke-width="0.6"/>
<line x1="163.60" y1="389.04" x2="266.20" y2="389.04" stroke="#f0f0f0" stroke-width="0.6"/>
<line x1="163.60" y1="386.11" x2="266.20" y2="386.11" stroke="#f0f0f0" stroke-width="0.6"/>
<line x1="163.60" y1="383.71" x2="266.20" y2="383.71" stroke="#f0f0f0" stroke-width="0.6"/>
<line x1="163.60" y1="381.69" x2="266.20" y2="381.69" stroke="#f0f0f0" stroke-width="0.6"/>
<line x1="163.60" y1="379.93" x2="266.20" y2="379.93" stroke="#f0f0f0" stroke-width="0.6"/>
<line x1="163.60" y1="378.38" x2="266.20" y2="378.38" stroke="#f0f0f0" stroke-width="0.6"/>
<line x1="163.60" y1="367.89" x2="266.20" y2="367.89" stroke="#f0f0f0" stroke-width="0.6"/>
<line x1="163.60" y1="362.57" x2="266.20" y2="362.57" stroke="#f0f0f0" stroke-width="0.6"/>
<line x1="163.60" y1="358.79" x2="266.20" y2="358.79" stroke="#f0f0f0" stroke-width="0.6"/>
<line x1="163.60" y1="355.86" x2="266.20" y2="355.86" stroke="#f0f0f0" stroke-width="0.6"/>
<line x1="163.60" y1="353.46" x2="266.20" y2="353.46" stroke="#f0f0f0" stroke-width="0.6"/>
<line x1="163.60" y1="351.44" x2="266.20" y2="351.44" stroke="#f0f0f0" stroke-width="0.6"/>
<line x1="163.60" y1="349.68" x2="266.20" y2="349.68" stroke="#f0f0f0" stroke-width="0.6"/>
<line x1="163.60" y1="348.13" x2="266.20" y2="348.13" stroke="#f0f0f0" stroke-width="0.6"/>
<line x1="163.60" y1="337.64" x2="266.20" y2="337.64" stroke="#f0f0f0" stroke-width="0.6"/>
<line x1="163.60" y1="332.32" x2="266.20" y2="332.32" stroke="#f0f0f0" stroke-width="0.6"/>
<line x1="163.60" y1="328.54" x2="266.20" y2="328.54" stroke="#f0f0f0" stroke-width="0.6"/>
<line x1="163.60" y1="325.61" x2="266.20" y2="325.61" stroke="#f0f0f0" stroke-width="0.6"/>
<line x1="163.60" y1="323.21" x2="266.20" y2="323.21" stroke="#f0f0f0" stroke-width="0.6"/>
<line x1="163.60" y1="321.19" x2="266.20" y2="321.19" stroke="#f0f0f0" stroke-width="0.6"/>
<line x1="163.60" y1="319.43" x2="266.20" y2="319.43" stroke="#f0f0f0" stroke-width="0.6"/>
<line x1="163.60" y1="317.88" x2="266.20" y2="317.88" stroke="#f0f0f0" stroke-width="0.6"/>
<line x1="184.12" y1="316.50" x2="184.12" y2="437.50" stroke="#e6e6e6" stroke-width="0.6"/>
<line x1="204.64" y1="316.50" x2="204.64" y2="437.50" stroke="#e6e6e6" stroke-width="0.6"/>
<line x1="225.16" y1="316.50" x2="225.16" y2="437.50" stroke="#e6e6e6" stroke-width="0.6"/>
<line x1="245.68" y1="316.50" x2="245.68" y2="437.50" stroke="#e6e6e6" stroke-width="0.6"/>
<line x1="163.60" y1="407.25" x2="266.20" y2="407.25" stroke="#e6e6e6" stroke-width="0.6"/>
<line x1="163.60" y1="377.00" x2="266.20" y2="377.00" stroke="#e6e6e6" stroke-width="0.6"/>
<line x1="163.60" y1="346.75" x2="266.20" y2="346.75" stroke="#e6e6e6" stroke-width="0.6"/>
<rect x="163.60" y="316.50" width="102.60" height="121.00" fill="none" stroke="#a0a0a0" stroke-width="0.9"/>
<path d="M163.60,437.50v-1.2M163.60,316.50v1.2M184.12,437.50v-1.2M184.12,316.50v1.2M204.64,437.50v-1.2M204.64,316.50v1.2M225.16,437.50v-1.2M225.16,316.50v1.2M245.68,437.50v-1.2M245.68,316.50v1.2M266.20,437.50v-1.2M266.20,316.50v1.2M163.60,437.50h1.2M266.20,437.50h-1.2M163.60,407.25h1.2M266.20,407.25h-1.2M163.60,377.00h1.2M266.20,377.00h-1.2M163.60,346.75h1.2M266.20,346.75h-1.2M163.60,316.50h1.2M266.20,316.50h-1.2" stroke="#a0a0a0" stroke-width="0.7" fill="none"/>
<path d="M163.6,338.3 164.4,368.0 164.8,377.0 165.2,382.3 166.1,389.8 166.7,393.3 166.9,394.3 167.7,397.4 168.5,399.9 169.3,401.9 170.2,404.0 170.3,404.2 171.0,406.1 171.8,408.1 172.6,410.0 173.4,411.8 174.3,413.6 174.6,414.2 175.1,415.3 175.9,417.0 176.7,418.6 177.6,420.1 178.2,421.2 178.4,421.5 179.2,422.9 180.0,424.3 180.8,425.4 181.7,426.3 182.5,427.0 183.3,427.6 184.1,428.1 184.9,428.6 185.8,429.1 186.6,429.5 187.4,429.8 188.2,430.1 189.0,430.4 189.7,430.5 189.9,430.6 190.7,430.8 191.5,431.0 192.3,431.2 193.1,431.3 194.0,431.5 194.8,431.7 195.6,431.8 196.4,431.9 197.3,432.1 198.1,432.2 198.9,432.3 199.7,432.4 200.5,432.5 201.4,432.5 202.2,432.6 203.0,432.6 203.8,432.7 204.6,432.7 205.5,432.7 206.3,432.7 207.1,432.8 207.9,432.8 208.7,432.8 209.6,432.8 210.4,432.9 211.2,432.9 212.0,432.9 212.8,432.9 213.7,432.9 214.5,433.0 215.3,433.0 216.1,433.0 217.0,433.0 217.8,433.0 218.6,433.1 219.4,433.1 220.2,433.1 221.1,433.1 221.9,433.1 222.7,433.2 223.5,433.2 224.3,433.2 225.2,433.2 226.0,433.2 226.8,433.2 227.6,433.2 228.4,433.3 229.3,433.3 230.1,433.3 230.9,433.3 231.7,433.3 232.5,433.3 233.4,433.3 234.2,433.4 235.0,433.4 235.8,433.4 236.7,433.4 237.5,433.4 238.3,433.4 239.1,433.4 239.9,433.4 240.8,433.4 241.6,433.4 242.4,433.5 243.2,433.5 244.0,433.5 244.9,433.5 245.7,433.5 246.5,433.5 247.3,433.5 248.1,433.5 249.0,433.5 249.8,433.5 250.6,433.5 251.4,433.5 252.2,433.5 253.1,433.5 253.9,433.5 254.7,433.5 255.5,433.5 256.4,433.5 257.2,433.6 258.0,433.6 258.8,433.6 259.6,433.6 260.5,433.6 261.3,433.6 262.1,433.6 262.9,433.6 263.7,433.6 264.6,433.6 265.4,433.6 266.2,433.6" fill="none" stroke="#ff0000" stroke-width="1.5" stroke-linejoin="round"/>
<circle cx="167.40" cy="396.37" r="1.7" fill="#ff8c8c" stroke="#ff0000" stroke-width="1.35"/>
<circle cx="171.20" cy="406.60" r="1.7" fill="#ff8c8c" stroke="#ff0000" stroke-width="1.35"/>
<circle cx="175.00" cy="415.09" r="1.7" fill="#ff8c8c" stroke="#ff0000" stroke-width="1.35"/>
<circle cx="178.80" cy="422.24" r="1.7" fill="#ff8c8c" stroke="#ff0000" stroke-width="1.35"/>
<circle cx="182.60" cy="427.05" r="1.7" fill="#ff8c8c" stroke="#ff0000" stroke-width="1.35"/>
<circle cx="186.40" cy="429.38" r="1.7" fill="#ff8c8c" stroke="#ff0000" stroke-width="1.35"/>
<circle cx="190.20" cy="430.67" r="1.7" fill="#ff8c8c" stroke="#ff0000" stroke-width="1.35"/>
<circle cx="194.00" cy="431.50" r="1.7" fill="#ff8c8c" stroke="#ff0000" stroke-width="1.35"/>
<circle cx="197.80" cy="432.14" r="1.7" fill="#ff8c8c" stroke="#ff0000" stroke-width="1.35"/>
<circle cx="201.60" cy="432.54" r="1.7" fill="#ff8c8c" stroke="#ff0000" stroke-width="1.35"/>
<circle cx="205.40" cy="432.71" r="1.7" fill="#ff8c8c" stroke="#ff0000" stroke-width="1.35"/>
<circle cx="209.20" cy="432.82" r="1.7" fill="#ff8c8c" stroke="#ff0000" stroke-width="1.35"/>
<circle cx="213.00" cy="432.93" r="1.7" fill="#ff8c8c" stroke="#ff0000" stroke-width="1.35"/>
<circle cx="216.80" cy="433.02" r="1.7" fill="#ff8c8c" stroke="#ff0000" stroke-width="1.35"/>
<circle cx="220.60" cy="433.11" r="1.7" fill="#ff8c8c" stroke="#ff0000" stroke-width="1.35"/>
<circle cx="224.40" cy="433.19" r="1.7" fill="#ff8c8c" stroke="#ff0000" stroke-width="1.35"/>
<circle cx="228.20" cy="433.26" r="1.7" fill="#ff8c8c" stroke="#ff0000" stroke-width="1.35"/>
<circle cx="232.00" cy="433.32" r="1.7" fill="#ff8c8c" stroke="#ff0000" stroke-width="1.35"/>
<circle cx="235.80" cy="433.37" r="1.7" fill="#ff8c8c" stroke="#ff0000" stroke-width="1.35"/>
<circle cx="239.60" cy="433.42" r="1.7" fill="#ff8c8c" stroke="#ff0000" stroke-width="1.35"/>
<circle cx="243.40" cy="433.46" r="1.7" fill="#ff8c8c" stroke="#ff0000" stroke-width="1.35"/>
<circle cx="247.20" cy="433.50" r="1.7" fill="#ff8c8c" stroke="#ff0000" stroke-width="1.35"/>
<circle cx="251.00" cy="433.52" r="1.7" fill="#ff8c8c" stroke="#ff0000" stroke-width="1.35"/>
<circle cx="254.80" cy="433.54" r="1.7" fill="#ff8c8c" stroke="#ff0000" stroke-width="1.35"/>
<circle cx="258.60" cy="433.56" r="1.7" fill="#ff8c8c" stroke="#ff0000" stroke-width="1.35"/>
<circle cx="262.40" cy="433.56" r="1.7" fill="#ff8c8c" stroke="#ff0000" stroke-width="1.35"/>
<circle cx="266.20" cy="433.57" r="1.7" fill="#ff8c8c" stroke="#ff0000" stroke-width="1.35"/>
<path d="M163.6,373.4 164.4,377.9 165.2,381.5 166.1,384.3 166.9,386.6 167.4,387.6 167.7,387.9 168.5,388.9 169.3,389.7 170.2,390.3 171.0,390.9 171.8,391.4 172.6,391.9 173.4,392.3 174.3,392.8 175.1,393.2 175.3,393.3 175.9,393.7 176.7,394.1 177.6,394.6 178.4,395.0 179.2,395.5 180.0,395.9 180.8,396.3 181.7,396.7 182.5,397.1 183.3,397.4 184.1,397.8 184.9,398.1 185.8,398.5 186.6,398.8 187.4,399.1 188.2,399.5 189.0,399.8 189.7,400.0 189.9,400.1 190.7,400.4 191.5,400.7 192.3,400.9 193.1,401.2 194.0,401.5 194.8,401.8 195.6,402.1 196.4,402.3 197.3,402.6 198.1,402.8 198.9,403.1 199.7,403.3 200.5,403.5 201.4,403.7 202.2,403.9 203.0,404.1 203.8,404.2 204.6,404.4 205.5,404.5 206.3,404.6 207.1,404.7 207.9,404.8 208.7,405.0 209.6,405.1 210.4,405.3 211.2,405.4 212.0,405.6 212.8,405.8 213.7,405.9 214.5,406.1 215.3,406.3 216.1,406.5 217.0,406.6 217.8,406.8 218.6,407.0 219.4,407.2 220.2,407.4 221.1,407.6 221.9,407.7 222.7,407.9 223.5,408.1 224.3,408.3 225.2,408.5 226.0,408.7 226.8,408.8 227.6,409.0 228.4,409.2 229.3,409.4 230.1,409.6 230.9,409.8 231.7,410.0 232.5,410.2 233.4,410.4 234.2,410.6 235.0,410.8 235.8,411.0 236.7,411.2 237.5,411.4 238.3,411.6 239.1,411.8 239.9,412.0 240.8,412.2 241.6,412.4 242.4,412.6 243.2,412.8 244.0,413.0 244.9,413.2 245.7,413.4 246.5,413.6 247.3,413.8 248.1,414.0 249.0,414.3 249.8,414.5 250.6,414.8 250.8,414.8 251.4,415.0 252.2,415.3 253.1,415.5 253.9,415.8 254.7,416.1 255.5,416.4 256.4,416.6 257.2,416.9 258.0,417.2 258.8,417.5 259.6,417.9 260.5,418.2 261.3,418.5 262.1,418.8 262.9,419.2 263.7,419.5 264.6,419.9 265.4,420.2 266.2,420.6" fill="none" stroke="#0000ff" stroke-width="1.5" stroke-linejoin="round"/>
<path d="M167.4,384.9l2.3,4h-4.6z" fill="#0000ff"/>
<path d="M171.2,388.5l2.3,4h-4.6z" fill="#0000ff"/>
<path d="M175.0,390.6l2.3,4h-4.6z" fill="#0000ff"/>
<path d="M178.8,392.7l2.3,4h-4.6z" fill="#0000ff"/>
<path d="M182.6,394.5l2.3,4h-4.6z" fill="#0000ff"/>
<path d="M186.4,396.1l2.3,4h-4.6z" fill="#0000ff"/>
<path d="M190.2,397.6l2.3,4h-4.6z" fill="#0000ff"/>
<path d="M194.0,398.9l2.3,4h-4.6z" fill="#0000ff"/>
<path d="M197.8,400.1l2.3,4h-4.6z" fill="#0000ff"/>
<path d="M201.6,401.2l2.3,4h-4.6z" fill="#0000ff"/>
<path d="M205.4,401.9l2.3,4h-4.6z" fill="#0000ff"/>
<path d="M209.2,402.5l2.3,4h-4.6z" fill="#0000ff"/>
<path d="M213.0,403.2l2.3,4h-4.6z" fill="#0000ff"/>
<path d="M216.8,404.0l2.3,4h-4.6z" fill="#0000ff"/>
<path d="M220.6,404.9l2.3,4h-4.6z" fill="#0000ff"/>
<path d="M224.4,405.7l2.3,4h-4.6z" fill="#0000ff"/>
<path d="M228.2,406.6l2.3,4h-4.6z" fill="#0000ff"/>
<path d="M232.0,407.5l2.3,4h-4.6z" fill="#0000ff"/>
<path d="M235.8,408.4l2.3,4h-4.6z" fill="#0000ff"/>
<path d="M239.6,409.3l2.3,4h-4.6z" fill="#0000ff"/>
<path d="M243.4,410.2l2.3,4h-4.6z" fill="#0000ff"/>
<path d="M247.2,411.2l2.3,4h-4.6z" fill="#0000ff"/>
<path d="M251.0,412.3l2.3,4h-4.6z" fill="#0000ff"/>
<path d="M254.8,413.5l2.3,4h-4.6z" fill="#0000ff"/>
<path d="M258.6,414.9l2.3,4h-4.6z" fill="#0000ff"/>
<path d="M262.4,416.4l2.3,4h-4.6z" fill="#0000ff"/>
<path d="M266.2,418.0l2.3,4h-4.6z" fill="#0000ff"/>
<path d="M163.6,346.1 164.4,360.4 165.2,370.9 166.1,378.3 166.9,384.4 167.7,388.3 168.1,389.1 168.5,389.5 169.3,390.2 170.2,390.9 171.0,391.5 171.8,392.0 172.6,392.5 173.4,392.9 174.3,393.3 175.1,393.7 175.9,394.0 176.7,394.3 177.6,394.6 178.4,394.8 179.2,395.0 180.0,395.3 180.8,395.4 181.7,395.6 182.5,395.8 183.3,396.0 184.1,396.1 184.9,396.3 185.8,396.5 186.6,396.7 187.4,396.9 188.2,397.1 189.0,397.4 189.7,397.6 189.9,397.6 190.7,397.9 191.5,398.2 192.3,398.5 193.1,398.8 194.0,399.1 194.8,399.3 195.6,399.6 196.4,399.9 197.3,400.1 198.1,400.4 198.9,400.7 199.7,400.9 200.5,401.2 201.4,401.4 202.2,401.7 203.0,401.9 203.8,402.2 204.6,402.4 205.5,402.6 206.3,402.9 207.1,403.1 207.9,403.3 208.7,403.5 209.6,403.7 210.4,403.9 211.2,404.1 212.0,404.3 212.8,404.5 213.7,404.7 214.5,404.8 215.3,405.0 216.1,405.2 217.0,405.4 217.8,405.5 218.6,405.7 219.4,405.9 220.2,406.1 221.1,406.3 221.9,406.6 222.7,406.8 223.5,407.0 224.3,407.3 225.2,407.6 226.0,407.8 226.8,408.1 227.6,408.4 228.4,408.7 229.3,409.0 230.1,409.3 230.9,409.6 231.7,409.9 232.5,410.2 233.4,410.5 234.2,410.8 235.0,411.1 235.8,411.5 236.7,411.8 237.5,412.1 238.3,412.4 239.1,412.7 239.9,413.0 240.8,413.3 241.6,413.6 242.4,413.9 243.2,414.1 244.0,414.4 244.9,414.7 245.7,414.9 246.5,415.2 247.3,415.4 248.1,415.7 249.0,415.9 249.8,416.1 250.6,416.3 250.8,416.3 251.4,416.5 252.2,416.6 253.1,416.8 253.9,417.0 254.7,417.2 255.5,417.3 256.4,417.5 257.2,417.6 258.0,417.8 258.8,417.9 259.6,418.1 260.5,418.2 261.3,418.4 262.1,418.5 262.9,418.6 263.7,418.7 264.6,418.8 265.4,418.9 266.2,419.0" fill="none" stroke="#00ffff" stroke-width="1.5" stroke-linejoin="round"/>
<path d="M167.4,389.7l2.3,-4h-4.6z" fill="#00ffff"/>
<path d="M171.2,394.2l2.3,-4h-4.6z" fill="#00ffff"/>
<path d="M175.0,396.3l2.3,-4h-4.6z" fill="#00ffff"/>
<path d="M178.8,397.5l2.3,-4h-4.6z" fill="#00ffff"/>
<path d="M182.6,398.4l2.3,-4h-4.6z" fill="#00ffff"/>
<path d="M186.4,399.2l2.3,-4h-4.6z" fill="#00ffff"/>
<path d="M190.2,400.4l2.3,-4h-4.6z" fill="#00ffff"/>
<path d="M194.0,401.7l2.3,-4h-4.6z" fill="#00ffff"/>
<path d="M197.8,402.9l2.3,-4h-4.6z" fill="#00ffff"/>
<path d="M201.6,404.1l2.3,-4h-4.6z" fill="#00ffff"/>
<path d="M205.4,405.2l2.3,-4h-4.6z" fill="#00ffff"/>
<path d="M209.2,406.2l2.3,-4h-4.6z" fill="#00ffff"/>
<path d="M213.0,407.1l2.3,-4h-4.6z" fill="#00ffff"/>
<path d="M216.8,407.9l2.3,-4h-4.6z" fill="#00ffff"/>
<path d="M220.6,408.8l2.3,-4h-4.6z" fill="#00ffff"/>
<path d="M224.4,409.9l2.3,-4h-4.6z" fill="#00ffff"/>
<path d="M228.2,411.2l2.3,-4h-4.6z" fill="#00ffff"/>
<path d="M232.0,412.6l2.3,-4h-4.6z" fill="#00ffff"/>
<path d="M235.8,414.0l2.3,-4h-4.6z" fill="#00ffff"/>
<path d="M239.6,415.5l2.3,-4h-4.6z" fill="#00ffff"/>
<path d="M243.4,416.8l2.3,-4h-4.6z" fill="#00ffff"/>
<path d="M247.2,418.0l2.3,-4h-4.6z" fill="#00ffff"/>
<path d="M251.0,419.0l2.3,-4h-4.6z" fill="#00ffff"/>
<path d="M254.8,419.8l2.3,-4h-4.6z" fill="#00ffff"/>
<path d="M258.6,420.5l2.3,-4h-4.6z" fill="#00ffff"/>
<path d="M262.4,421.1l2.3,-4h-4.6z" fill="#00ffff"/>
<path d="M266.2,421.6l2.3,-4h-4.6z" fill="#00ffff"/>
<path d="M163.6,334.0 164.4,356.3 165.2,370.9 166.1,377.6 166.9,382.9 167.7,386.9 168.5,389.9 169.3,391.8 169.6,392.1 170.2,393.0 171.0,393.9 171.8,394.6 172.6,395.1 173.4,395.7 174.3,396.2 175.1,396.8 175.3,397.0 175.9,397.5 176.7,398.2 177.6,399.0 178.4,399.7 179.2,400.5 180.0,401.2 180.8,401.9 181.7,402.6 182.5,403.3 183.3,403.9 184.1,404.6 184.9,405.1 185.8,405.7 186.6,406.3 187.4,406.8 188.2,407.4 189.0,408.0 189.7,408.5 189.9,408.6 190.7,409.3 191.5,410.0 192.3,410.7 193.1,411.4 194.0,412.1 194.8,412.7 195.6,413.4 196.4,414.1 196.6,414.2 197.3,414.7 198.1,415.2 198.9,415.8 199.7,416.4 200.5,416.9 201.4,417.5 202.2,418.0 203.0,418.5 203.8,419.0 204.6,419.6 205.5,420.1 206.3,420.6 207.1,421.1 207.9,421.5 208.7,422.0 209.6,422.5 210.4,423.0 211.2,423.4 212.0,423.9 212.8,424.3 213.7,424.7 213.9,424.8 214.5,425.1 215.3,425.5 216.1,426.0 217.0,426.4 217.8,426.9 218.6,427.3 219.4,427.6 220.2,427.9 221.1,428.2 221.9,428.4 222.3,428.4 222.7,428.5 223.5,428.6 224.3,428.6 225.2,428.7 226.0,428.8 226.8,428.9 227.6,428.9 228.4,429.0 229.3,429.1 230.1,429.2 230.9,429.2 231.7,429.3 232.5,429.4 233.4,429.4 234.2,429.5 235.0,429.5 235.8,429.6 236.7,429.6 237.5,429.7 238.3,429.7 239.1,429.8 239.9,429.8 240.8,429.9 241.6,429.9 242.4,430.0 243.2,430.0 244.0,430.1 244.9,430.1 245.7,430.1 246.5,430.2 247.3,430.2 248.1,430.2 249.0,430.3 249.8,430.3 250.6,430.3 251.4,430.3 252.2,430.4 253.1,430.4 253.9,430.4 254.7,430.4 255.5,430.4 256.4,430.5 257.2,430.5 258.0,430.5 258.8,430.5 259.6,430.5 260.5,430.5 261.3,430.5 262.1,430.5 262.9,430.5 263.7,430.5 264.6,430.5 265.4,430.5 266.2,430.5" fill="none" stroke="#ff00ff" stroke-width="1.5" stroke-linejoin="round"/>
<circle cx="167.40" cy="385.56" r="1.75" fill="#ff00ff"/>
<circle cx="171.20" cy="394.05" r="1.75" fill="#ff00ff"/>
<circle cx="175.00" cy="396.72" r="1.75" fill="#ff00ff"/>
<circle cx="178.80" cy="400.12" r="1.75" fill="#ff00ff"/>
<circle cx="182.60" cy="403.41" r="1.75" fill="#ff00ff"/>
<circle cx="186.40" cy="406.14" r="1.75" fill="#ff00ff"/>
<circle cx="190.20" cy="408.88" r="1.75" fill="#ff00ff"/>
<circle cx="194.00" cy="412.08" r="1.75" fill="#ff00ff"/>
<circle cx="197.80" cy="415.05" r="1.75" fill="#ff00ff"/>
<circle cx="201.60" cy="417.64" r="1.75" fill="#ff00ff"/>
<circle cx="205.40" cy="420.02" r="1.75" fill="#ff00ff"/>
<circle cx="209.20" cy="422.29" r="1.75" fill="#ff00ff"/>
<circle cx="213.00" cy="424.36" r="1.75" fill="#ff00ff"/>
<circle cx="216.80" cy="426.35" r="1.75" fill="#ff00ff"/>
<circle cx="220.60" cy="428.06" r="1.75" fill="#ff00ff"/>
<circle cx="224.40" cy="428.64" r="1.75" fill="#ff00ff"/>
<circle cx="228.20" cy="429.00" r="1.75" fill="#ff00ff"/>
<circle cx="232.00" cy="429.31" r="1.75" fill="#ff00ff"/>
<circle cx="235.80" cy="429.59" r="1.75" fill="#ff00ff"/>
<circle cx="239.60" cy="429.83" r="1.75" fill="#ff00ff"/>
<circle cx="243.40" cy="430.03" r="1.75" fill="#ff00ff"/>
<circle cx="247.20" cy="430.19" r="1.75" fill="#ff00ff"/>
<circle cx="251.00" cy="430.32" r="1.75" fill="#ff00ff"/>
<circle cx="254.80" cy="430.42" r="1.75" fill="#ff00ff"/>
<circle cx="258.60" cy="430.49" r="1.75" fill="#ff00ff"/>
<circle cx="262.40" cy="430.53" r="1.75" fill="#ff00ff"/>
<circle cx="266.20" cy="430.54" r="1.75" fill="#ff00ff"/>
<path d="M163.6,374.9 164.4,379.4 165.2,383.1 166.1,386.0 166.9,388.6 167.7,390.3 168.1,390.6 168.5,390.8 169.3,391.0 170.2,391.2 171.0,391.4 171.8,391.6 172.6,391.7 173.4,391.8 174.3,391.9 175.1,392.0 175.9,392.1 176.7,392.2 177.6,392.2 178.4,392.3 179.2,392.4 180.0,392.4 180.8,392.5 181.7,392.6 182.5,392.7 183.3,392.8 184.1,393.0 184.9,393.1 185.8,393.2 186.6,393.3 187.4,393.4 188.2,393.5 189.0,393.6 189.9,393.7 190.7,393.8 191.5,394.0 192.3,394.1 193.1,394.2 194.0,394.4 194.8,394.5 195.6,394.6 196.4,394.8 196.6,394.8 197.3,395.0 198.1,395.2 198.9,395.3 199.7,395.5 200.5,395.7 201.4,396.0 202.2,396.2 203.0,396.5 203.8,396.7 204.6,397.0 205.5,397.4 206.3,397.7 206.7,397.9 207.1,398.1 207.9,398.5 208.7,399.1 209.6,399.7 210.4,400.4 211.2,401.1 212.0,401.9 212.8,402.7 213.7,403.5 214.5,404.3 215.1,404.8 215.3,405.0 216.1,405.8 217.0,406.6 217.8,407.4 218.6,408.3 219.4,409.1 220.2,410.0 221.1,410.8 221.9,411.7 222.3,412.1 222.7,412.5 223.5,413.3 224.3,414.1 225.2,415.0 226.0,415.8 226.8,416.6 227.6,417.4 228.4,418.1 229.3,418.9 229.5,419.0 230.1,419.6 230.9,420.4 231.7,421.1 232.5,421.9 233.4,422.6 234.2,423.3 235.0,423.9 235.8,424.4 236.7,424.8 237.5,425.1 238.3,425.4 239.1,425.8 239.9,426.0 240.8,426.3 241.6,426.6 242.4,426.8 243.2,427.1 244.0,427.3 244.9,427.5 245.7,427.7 246.5,427.9 247.3,428.0 248.1,428.1 249.0,428.2 249.8,428.3 250.6,428.4 250.8,428.4 251.4,428.5 252.2,428.5 253.1,428.6 253.9,428.6 254.7,428.7 255.5,428.7 256.4,428.8 257.2,428.8 258.0,428.8 258.8,428.9 259.6,428.9 260.5,428.9 261.3,429.0 262.1,429.0 262.9,429.0 263.7,429.0 264.6,429.0 265.4,429.0 266.2,429.0" fill="none" stroke="#2a2ade" stroke-width="1.6" stroke-linejoin="round"/>
<path d="M163.6,346.1 164.4,360.6 165.2,370.9 166.1,377.8 166.9,383.5 167.7,386.9 168.1,387.6 168.5,387.8 169.3,388.2 170.2,388.6 171.0,388.9 171.8,389.2 172.6,389.5 173.4,389.8 174.3,390.0 175.1,390.3 175.9,390.5 176.7,390.6 177.6,390.8 178.4,390.9 179.2,391.1 180.0,391.2 180.8,391.3 181.7,391.4 182.5,391.5 183.3,391.6 184.1,391.6 184.9,391.7 185.8,391.8 186.6,391.8 187.4,391.9 188.2,392.0 189.0,392.1 189.7,392.1 189.9,392.1 190.7,392.2 191.5,392.3 192.3,392.4 193.1,392.4 194.0,392.5 194.8,392.6 195.6,392.6 196.4,392.7 197.3,392.7 198.1,392.8 198.9,392.8 199.7,392.9 200.5,392.9 201.4,393.0 202.2,393.0 203.0,393.1 203.8,393.1 204.6,393.2 205.5,393.2 206.3,393.3 207.1,393.3 207.9,393.3 208.7,393.4 209.6,393.4 210.4,393.4 211.2,393.5 212.0,393.5 212.8,393.5 213.7,393.5 214.5,393.6 215.3,393.6 216.1,393.6 217.0,393.6 217.8,393.6 218.6,393.6 219.4,393.7 220.2,393.7 221.1,393.7 221.9,393.7 222.7,393.8 223.5,393.8 224.3,393.8 225.2,393.9 226.0,393.9 226.8,393.9 227.6,394.0 228.4,394.0 229.3,394.1 230.1,394.2 230.9,394.2 231.7,394.5 232.5,395.2 233.4,396.2 234.2,397.3 235.0,398.5 235.8,399.6 236.7,400.6 237.5,401.5 238.3,402.4 239.1,403.3 239.9,404.2 240.8,405.0 241.6,405.8 242.4,406.6 243.2,407.3 243.6,407.6 244.0,407.8 244.9,408.4 245.7,408.9 246.5,409.4 247.3,409.8 248.1,410.3 249.0,410.7 249.8,411.1 250.6,411.5 251.4,411.9 252.2,412.2 253.1,412.5 253.9,412.9 254.7,413.2 255.1,413.3 255.5,413.4 256.4,413.7 257.2,414.0 258.0,414.3 258.8,414.5 259.6,414.8 260.5,415.0 261.3,415.2 262.1,415.5 262.9,415.7 263.7,415.9 264.6,416.0 265.4,416.2 266.2,416.3" fill="none" stroke="#00f0f0" stroke-width="1.5" stroke-linejoin="round"/>
<path d="M163.6,334.6 164.4,356.1 165.2,370.9 166.1,379.8 166.9,386.9 167.7,391.2 168.1,392.1 168.5,392.5 169.3,393.2 170.2,393.9 171.0,394.5 171.8,395.1 172.6,395.6 173.4,396.0 174.3,396.4 175.1,396.8 175.9,397.1 176.7,397.4 177.6,397.7 178.4,397.9 179.2,398.2 180.0,398.4 180.8,398.6 181.7,398.7 182.5,398.9 183.3,399.1 184.1,399.2 184.9,399.4 185.8,399.6 186.6,399.8 187.4,399.9 188.2,400.2 189.0,400.4 189.7,400.6 189.9,400.7 190.7,400.9 191.5,401.2 192.3,401.4 193.1,401.7 194.0,401.9 194.8,402.2 195.6,402.4 196.4,402.6 197.3,402.9 198.1,403.1 198.9,403.3 199.7,403.6 200.5,403.8 201.4,404.0 202.2,404.2 203.0,404.4 203.8,404.7 204.6,404.9 205.5,405.1 206.3,405.3 207.1,405.5 207.9,405.7 208.7,406.0 209.6,406.2 210.4,406.3 211.2,406.5 212.0,406.7 212.8,406.9 213.7,407.1 214.5,407.3 215.3,407.5 216.1,407.7 217.0,407.9 217.8,408.1 218.6,408.3 219.4,408.5 220.2,408.8 221.1,409.1 221.9,409.4 222.7,409.7 223.5,410.1 224.3,410.6 225.2,411.0 226.0,411.5 226.8,412.0 227.6,412.5 228.4,413.1 229.3,413.6 230.1,414.1 230.9,414.7 231.7,415.2 232.5,415.7 233.4,416.2 234.2,416.6 235.0,417.1 235.8,417.5 236.7,417.8 237.5,418.2 238.3,418.5 239.1,418.8 239.9,419.2 240.8,419.5 241.6,419.8 242.4,420.1 243.2,420.5 244.0,420.8 244.9,421.1 245.7,421.4 246.5,421.7 247.3,422.0 248.1,422.3 249.0,422.5 249.8,422.8 250.6,423.1 251.4,423.4 252.2,423.6 253.1,423.9 253.9,424.1 254.7,424.4 255.5,424.6 256.4,424.8 257.2,425.1 258.0,425.3 258.8,425.5 259.6,425.7 260.5,425.9 261.3,426.0 262.1,426.2 262.9,426.4 263.7,426.5 264.6,426.7 265.4,426.8 266.2,426.9" fill="none" stroke="#f000f0" stroke-width="1.4" stroke-linejoin="round"/>
<path d="M163.6,334.6 164.4,355.5 165.2,370.9 166.1,381.9 166.9,390.6 167.7,395.1 168.5,396.9 169.3,398.4 170.2,399.6 171.0,400.6 171.8,401.5 172.6,402.2 173.4,402.8 174.3,403.3 175.1,403.8 175.9,404.2 176.7,404.7 177.6,405.1 178.4,405.5 179.2,405.9 180.0,406.3 180.8,406.7 181.7,407.0 182.5,407.3 183.3,407.6 184.1,407.9 184.9,408.2 185.8,408.4 186.6,408.6 187.4,408.7 188.2,408.9 189.0,409.0 189.7,409.1 189.9,409.1 190.7,409.2 191.5,409.2 192.3,409.3 193.1,409.3 194.0,409.4 194.8,409.4 195.6,409.5 196.4,409.5 197.3,409.6 198.1,409.6 198.9,409.7 199.7,409.7 200.5,409.7 201.4,409.8 202.2,409.8 203.0,409.8 203.8,409.8 204.6,409.9 205.5,409.9 206.3,409.9 207.1,409.9 207.9,410.0 208.7,410.0 209.6,410.0 210.4,410.1 211.2,410.1 212.0,410.1 212.8,410.1 213.7,410.2 214.5,410.2 215.3,410.2 216.1,410.2 217.0,410.3 217.8,410.3 218.6,410.3 219.4,410.3 220.2,410.4 221.1,410.4 221.9,410.4 222.7,410.4 223.5,410.4 224.3,410.5 225.2,410.5 226.0,410.5 226.8,410.5 227.6,410.6 228.4,410.6 229.3,410.6 230.1,410.6 230.9,410.7 231.7,410.7 232.5,410.7 233.4,410.7 234.2,410.7 235.0,410.8 235.8,410.8 236.7,410.8 237.5,410.8 238.3,410.8 239.1,410.9 239.9,410.9 240.8,410.9 241.6,410.9 242.4,410.9 243.2,410.9 244.0,411.0 244.9,411.0 245.7,411.0 246.5,411.0 247.3,411.0 248.1,411.0 249.0,411.0 249.8,411.1 250.6,411.1 251.4,411.1 252.2,411.1 253.1,411.1 253.9,411.1 254.7,411.1 255.5,411.1 256.4,411.1 257.2,411.1 258.0,411.1 258.8,411.2 259.6,411.2 260.5,411.2 261.3,411.2 262.1,411.2 262.9,411.2 263.7,411.2 264.6,411.2 265.4,411.2 266.2,411.2" fill="none" stroke="#00e600" stroke-width="1.5" stroke-linejoin="round" stroke-dasharray="3.2,2.2"/>
<path d="M163.6,334.0 164.4,354.1 165.2,370.9 166.1,386.6 166.7,393.3 166.9,394.0 167.7,396.3 168.5,397.8 169.3,398.9 170.2,399.7 171.0,400.6 171.8,401.4 172.6,402.2 173.4,402.9 174.3,403.5 175.1,404.0 175.9,404.6 176.7,405.2 177.6,405.8 178.2,406.3 178.4,406.5 179.2,407.3 180.0,408.2 180.8,409.1 181.7,410.0 182.5,410.9 183.3,411.6 183.9,412.1 184.1,412.2 184.9,412.7 185.8,413.2 186.6,413.6 187.4,414.0 188.2,414.4 189.0,414.7 189.9,415.1 190.7,415.5 191.5,415.9 192.3,416.3 193.1,416.8 194.0,417.4 194.8,417.9 195.6,418.5 196.4,419.1 197.3,419.7 198.1,420.3 198.9,420.8 199.7,421.4 200.5,421.9 200.9,422.1 201.4,422.3 202.2,422.7 203.0,423.1 203.8,423.5 204.6,423.9 205.5,424.3 206.3,424.7 207.1,425.0 207.9,425.4 208.7,425.7 209.6,425.9 210.4,426.2 211.0,426.3 211.2,426.4 212.0,426.5 212.8,426.7 213.7,426.9 214.5,427.0 215.3,427.1 216.1,427.3 217.0,427.4 217.8,427.5 218.6,427.6 219.4,427.7 220.2,427.8 221.1,427.8 221.9,427.9 222.7,427.9 223.5,428.0 224.3,428.0 225.2,428.1 226.0,428.1 226.8,428.2 227.6,428.2 228.4,428.3 229.3,428.3 230.1,428.3 230.9,428.4 231.7,428.4 232.5,428.5 233.4,428.5 234.2,428.5 235.0,428.6 235.8,428.6 236.7,428.7 237.5,428.7 238.3,428.7 239.1,428.8 239.9,428.8 240.8,428.8 241.6,428.9 242.4,428.9 243.2,428.9 244.0,428.9 244.9,429.0 245.7,429.0 246.5,429.0 247.3,429.1 248.1,429.1 249.0,429.1 249.8,429.1 250.6,429.1 251.4,429.2 252.2,429.2 253.1,429.2 253.9,429.2 254.7,429.2 255.5,429.2 256.4,429.3 257.2,429.3 258.0,429.3 258.8,429.3 259.6,429.3 260.5,429.3 261.3,429.3 262.1,429.3 262.9,429.3 263.7,429.3 264.6,429.3 265.4,429.3 266.2,429.3" fill="none" stroke="#00e600" stroke-width="1.5" stroke-linejoin="round"/>
<circle cx="163.60" cy="338.28" r="1.7" fill="#ff8c8c" stroke="#ff0000" stroke-width="1.35"/>
<path d="M163.6,370.8l2.3,4h-4.6z" fill="#0000ff"/>
<path d="M163.6,348.7l2.3,-4h-4.6z" fill="#00ffff"/>
<circle cx="163.60" cy="334.05" r="1.75" fill="#ff00ff"/>
<text class="tk" transform="translate(163.60,446.10) scale(0.9,1)" font-size="6.8" text-anchor="middle">0</text>
<text class="tk" transform="translate(184.12,446.10) scale(0.9,1)" font-size="6.8" text-anchor="middle">100</text>
<text class="tk" transform="translate(204.64,446.10) scale(0.9,1)" font-size="6.8" text-anchor="middle">200</text>
<text class="tk" transform="translate(225.16,446.10) scale(0.9,1)" font-size="6.8" text-anchor="middle">300</text>
<text class="tk" transform="translate(245.68,446.10) scale(0.9,1)" font-size="6.8" text-anchor="middle">400</text>
<text class="tk" transform="translate(266.20,446.10) scale(0.9,1)" font-size="6.8" text-anchor="middle">500</text>
<text class="tk" transform="translate(161.20,441.30) scale(0.9,1)" font-size="6.8" text-anchor="end">10<tspan font-size="5.2" dy="-3.3">3</tspan></text>
<text class="tk" transform="translate(161.20,411.05) scale(0.9,1)" font-size="6.8" text-anchor="end">10<tspan font-size="5.2" dy="-3.3">4</tspan></text>
<text class="tk" transform="translate(161.20,380.80) scale(0.9,1)" font-size="6.8" text-anchor="end">10<tspan font-size="5.2" dy="-3.3">5</tspan></text>
<text class="tk" transform="translate(161.20,350.55) scale(0.9,1)" font-size="6.8" text-anchor="end">10<tspan font-size="5.2" dy="-3.3">6</tspan></text>
<text class="tk" transform="translate(161.20,320.30) scale(0.9,1)" font-size="6.8" text-anchor="end">10<tspan font-size="5.2" dy="-3.3">7</tspan></text>
<text transform="translate(214.90,315.10) scale(0.875,1)" font-size="7.8" text-anchor="middle" fill="#111">CEC2017 F10 Dim=50</text>
<text x="214.90" y="455.10" font-size="6.8" text-anchor="middle" fill="#262626">Iterations</text>
<text transform="translate(148.70,377.00) rotate(-90)" font-size="7" text-anchor="middle" fill="#262626">Fitness</text>
<line x1="304.60" y1="431.24" x2="403.60" y2="431.24" stroke="#f0f0f0" stroke-width="0.6"/>
<line x1="304.60" y1="427.69" x2="403.60" y2="427.69" stroke="#f0f0f0" stroke-width="0.6"/>
<line x1="304.60" y1="425.18" x2="403.60" y2="425.18" stroke="#f0f0f0" stroke-width="0.6"/>
<line x1="304.60" y1="423.23" x2="403.60" y2="423.23" stroke="#f0f0f0" stroke-width="0.6"/>
<line x1="304.60" y1="421.63" x2="403.60" y2="421.63" stroke="#f0f0f0" stroke-width="0.6"/>
<line x1="304.60" y1="420.29" x2="403.60" y2="420.29" stroke="#f0f0f0" stroke-width="0.6"/>
<line x1="304.60" y1="419.12" x2="403.60" y2="419.12" stroke="#f0f0f0" stroke-width="0.6"/>
<line x1="304.60" y1="418.09" x2="403.60" y2="418.09" stroke="#f0f0f0" stroke-width="0.6"/>
<line x1="304.60" y1="411.11" x2="403.60" y2="411.11" stroke="#f0f0f0" stroke-width="0.6"/>
<line x1="304.60" y1="407.56" x2="403.60" y2="407.56" stroke="#f0f0f0" stroke-width="0.6"/>
<line x1="304.60" y1="405.05" x2="403.60" y2="405.05" stroke="#f0f0f0" stroke-width="0.6"/>
<line x1="304.60" y1="403.09" x2="403.60" y2="403.09" stroke="#f0f0f0" stroke-width="0.6"/>
<line x1="304.60" y1="401.50" x2="403.60" y2="401.50" stroke="#f0f0f0" stroke-width="0.6"/>
<line x1="304.60" y1="400.15" x2="403.60" y2="400.15" stroke="#f0f0f0" stroke-width="0.6"/>
<line x1="304.60" y1="398.98" x2="403.60" y2="398.98" stroke="#f0f0f0" stroke-width="0.6"/>
<line x1="304.60" y1="397.95" x2="403.60" y2="397.95" stroke="#f0f0f0" stroke-width="0.6"/>
<line x1="304.60" y1="417.17" x2="403.60" y2="417.17" stroke="#f0f0f0" stroke-width="0.6"/>
<line x1="304.60" y1="390.97" x2="403.60" y2="390.97" stroke="#f0f0f0" stroke-width="0.6"/>
<line x1="304.60" y1="387.43" x2="403.60" y2="387.43" stroke="#f0f0f0" stroke-width="0.6"/>
<line x1="304.60" y1="384.91" x2="403.60" y2="384.91" stroke="#f0f0f0" stroke-width="0.6"/>
<line x1="304.60" y1="382.96" x2="403.60" y2="382.96" stroke="#f0f0f0" stroke-width="0.6"/>
<line x1="304.60" y1="381.37" x2="403.60" y2="381.37" stroke="#f0f0f0" stroke-width="0.6"/>
<line x1="304.60" y1="380.02" x2="403.60" y2="380.02" stroke="#f0f0f0" stroke-width="0.6"/>
<line x1="304.60" y1="378.85" x2="403.60" y2="378.85" stroke="#f0f0f0" stroke-width="0.6"/>
<line x1="304.60" y1="377.82" x2="403.60" y2="377.82" stroke="#f0f0f0" stroke-width="0.6"/>
<line x1="304.60" y1="370.84" x2="403.60" y2="370.84" stroke="#f0f0f0" stroke-width="0.6"/>
<line x1="304.60" y1="367.29" x2="403.60" y2="367.29" stroke="#f0f0f0" stroke-width="0.6"/>
<line x1="304.60" y1="364.78" x2="403.60" y2="364.78" stroke="#f0f0f0" stroke-width="0.6"/>
<line x1="304.60" y1="362.83" x2="403.60" y2="362.83" stroke="#f0f0f0" stroke-width="0.6"/>
<line x1="304.60" y1="361.23" x2="403.60" y2="361.23" stroke="#f0f0f0" stroke-width="0.6"/>
<line x1="304.60" y1="359.89" x2="403.60" y2="359.89" stroke="#f0f0f0" stroke-width="0.6"/>
<line x1="304.60" y1="358.72" x2="403.60" y2="358.72" stroke="#f0f0f0" stroke-width="0.6"/>
<line x1="304.60" y1="357.69" x2="403.60" y2="357.69" stroke="#f0f0f0" stroke-width="0.6"/>
<line x1="304.60" y1="376.90" x2="403.60" y2="376.90" stroke="#f0f0f0" stroke-width="0.6"/>
<line x1="304.60" y1="350.71" x2="403.60" y2="350.71" stroke="#f0f0f0" stroke-width="0.6"/>
<line x1="304.60" y1="347.16" x2="403.60" y2="347.16" stroke="#f0f0f0" stroke-width="0.6"/>
<line x1="304.60" y1="344.65" x2="403.60" y2="344.65" stroke="#f0f0f0" stroke-width="0.6"/>
<line x1="304.60" y1="342.69" x2="403.60" y2="342.69" stroke="#f0f0f0" stroke-width="0.6"/>
<line x1="304.60" y1="341.10" x2="403.60" y2="341.10" stroke="#f0f0f0" stroke-width="0.6"/>
<line x1="304.60" y1="339.75" x2="403.60" y2="339.75" stroke="#f0f0f0" stroke-width="0.6"/>
<line x1="304.60" y1="338.58" x2="403.60" y2="338.58" stroke="#f0f0f0" stroke-width="0.6"/>
<line x1="304.60" y1="337.55" x2="403.60" y2="337.55" stroke="#f0f0f0" stroke-width="0.6"/>
<line x1="304.60" y1="330.57" x2="403.60" y2="330.57" stroke="#f0f0f0" stroke-width="0.6"/>
<line x1="304.60" y1="327.03" x2="403.60" y2="327.03" stroke="#f0f0f0" stroke-width="0.6"/>
<line x1="304.60" y1="324.51" x2="403.60" y2="324.51" stroke="#f0f0f0" stroke-width="0.6"/>
<line x1="304.60" y1="322.56" x2="403.60" y2="322.56" stroke="#f0f0f0" stroke-width="0.6"/>
<line x1="304.60" y1="320.97" x2="403.60" y2="320.97" stroke="#f0f0f0" stroke-width="0.6"/>
<line x1="304.60" y1="319.62" x2="403.60" y2="319.62" stroke="#f0f0f0" stroke-width="0.6"/>
<line x1="304.60" y1="318.45" x2="403.60" y2="318.45" stroke="#f0f0f0" stroke-width="0.6"/>
<line x1="304.60" y1="317.42" x2="403.60" y2="317.42" stroke="#f0f0f0" stroke-width="0.6"/>
<line x1="304.60" y1="336.63" x2="403.60" y2="336.63" stroke="#f0f0f0" stroke-width="0.6"/>
<line x1="324.40" y1="316.50" x2="324.40" y2="437.30" stroke="#e6e6e6" stroke-width="0.6"/>
<line x1="344.20" y1="316.50" x2="344.20" y2="437.30" stroke="#e6e6e6" stroke-width="0.6"/>
<line x1="364.00" y1="316.50" x2="364.00" y2="437.30" stroke="#e6e6e6" stroke-width="0.6"/>
<line x1="383.80" y1="316.50" x2="383.80" y2="437.30" stroke="#e6e6e6" stroke-width="0.6"/>
<line x1="304.60" y1="397.03" x2="403.60" y2="397.03" stroke="#e6e6e6" stroke-width="0.6"/>
<line x1="304.60" y1="356.77" x2="403.60" y2="356.77" stroke="#e6e6e6" stroke-width="0.6"/>
<rect x="304.60" y="316.50" width="99.00" height="120.80" fill="none" stroke="#a0a0a0" stroke-width="0.9"/>
<path d="M304.60,437.30v-1.2M304.60,316.50v1.2M324.40,437.30v-1.2M324.40,316.50v1.2M344.20,437.30v-1.2M344.20,316.50v1.2M364.00,437.30v-1.2M364.00,316.50v1.2M383.80,437.30v-1.2M383.80,316.50v1.2M403.60,437.30v-1.2M403.60,316.50v1.2M304.60,437.30h1.2M403.60,437.30h-1.2M304.60,397.03h1.2M403.60,397.03h-1.2M304.60,356.77h1.2M403.60,356.77h-1.2M304.60,316.50h1.2M403.60,316.50h-1.2" stroke="#a0a0a0" stroke-width="0.7" fill="none"/>
<path d="M304.6,336.8 305.4,342.9 306.2,348.8 306.3,349.7 307.0,355.0 307.7,359.8 307.8,360.1 308.6,363.5 309.4,366.2 310.1,368.6 310.9,371.0 311.3,372.3 311.7,373.6 312.5,376.4 313.3,379.2 314.1,381.8 314.9,384.1 315.7,386.1 316.5,387.8 317.3,389.4 318.1,391.1 318.5,392.0 318.9,393.0 319.6,395.2 320.4,397.3 321.2,399.0 322.0,400.4 322.8,401.5 323.6,402.6 324.4,403.5 324.9,404.1 325.2,404.4 326.0,405.2 326.8,406.0 327.6,406.7 328.4,407.4 329.2,408.1 329.9,408.8 330.7,409.5 331.5,410.2 331.9,410.5 332.3,410.9 333.1,411.6 333.9,412.4 334.7,413.2 335.5,413.9 336.3,414.7 337.1,415.4 337.9,416.1 338.7,416.7 339.1,417.0 339.4,417.2 340.2,417.7 341.0,418.2 341.8,418.7 342.6,419.1 343.4,419.5 344.2,419.9 344.9,420.2 345.0,420.2 345.8,420.6 346.6,420.9 347.4,421.2 348.2,421.5 349.0,421.8 349.7,422.1 350.5,422.3 351.3,422.6 352.1,422.9 352.9,423.1 353.7,423.4 354.5,423.6 355.3,423.8 356.1,424.1 356.9,424.3 357.7,424.5 358.5,424.7 359.2,424.9 360.0,425.2 360.8,425.4 361.6,425.6 361.8,425.6 362.4,425.8 363.2,426.0 364.0,426.2 364.8,426.4 365.6,426.6 366.4,426.7 367.2,426.9 368.0,427.1 368.8,427.3 369.5,427.4 370.3,427.6 371.1,427.8 371.9,427.9 372.7,428.1 373.5,428.2 374.3,428.4 374.6,428.4 375.1,428.5 375.9,428.7 376.7,428.8 377.5,429.0 378.3,429.1 379.0,429.2 379.8,429.4 380.6,429.5 381.4,429.6 382.2,429.8 383.0,429.9 383.8,430.0 384.6,430.2 385.4,430.3 386.2,430.4 387.0,430.5 387.8,430.7 388.6,430.8 389.3,430.9 390.1,431.0 390.9,431.1 391.7,431.3 392.5,431.4 393.3,431.5 394.1,431.6 394.9,431.7 395.7,431.8 396.5,431.9 397.3,432.0 398.1,432.1 398.8,432.2 399.6,432.3 400.4,432.3 401.2,432.4 402.0,432.5 402.8,432.6 403.6,432.7" fill="none" stroke="#ff0000" stroke-width="1.5" stroke-linejoin="round"/>
<circle cx="308.27" cy="362.30" r="1.7" fill="#ff8c8c" stroke="#ff0000" stroke-width="1.35"/>
<circle cx="311.93" cy="374.35" r="1.7" fill="#ff8c8c" stroke="#ff0000" stroke-width="1.35"/>
<circle cx="315.60" cy="385.88" r="1.7" fill="#ff8c8c" stroke="#ff0000" stroke-width="1.35"/>
<circle cx="319.27" cy="394.10" r="1.7" fill="#ff8c8c" stroke="#ff0000" stroke-width="1.35"/>
<circle cx="322.93" cy="401.70" r="1.7" fill="#ff8c8c" stroke="#ff0000" stroke-width="1.35"/>
<circle cx="326.60" cy="405.85" r="1.7" fill="#ff8c8c" stroke="#ff0000" stroke-width="1.35"/>
<circle cx="330.27" cy="409.07" r="1.7" fill="#ff8c8c" stroke="#ff0000" stroke-width="1.35"/>
<circle cx="333.93" cy="412.44" r="1.7" fill="#ff8c8c" stroke="#ff0000" stroke-width="1.35"/>
<circle cx="337.60" cy="415.86" r="1.7" fill="#ff8c8c" stroke="#ff0000" stroke-width="1.35"/>
<circle cx="341.27" cy="418.36" r="1.7" fill="#ff8c8c" stroke="#ff0000" stroke-width="1.35"/>
<circle cx="344.93" cy="420.20" r="1.7" fill="#ff8c8c" stroke="#ff0000" stroke-width="1.35"/>
<circle cx="348.60" cy="421.65" r="1.7" fill="#ff8c8c" stroke="#ff0000" stroke-width="1.35"/>
<circle cx="352.27" cy="422.91" r="1.7" fill="#ff8c8c" stroke="#ff0000" stroke-width="1.35"/>
<circle cx="355.93" cy="424.02" r="1.7" fill="#ff8c8c" stroke="#ff0000" stroke-width="1.35"/>
<circle cx="359.60" cy="425.04" r="1.7" fill="#ff8c8c" stroke="#ff0000" stroke-width="1.35"/>
<circle cx="363.27" cy="425.99" r="1.7" fill="#ff8c8c" stroke="#ff0000" stroke-width="1.35"/>
<circle cx="366.93" cy="426.87" r="1.7" fill="#ff8c8c" stroke="#ff0000" stroke-width="1.35"/>
<circle cx="370.60" cy="427.67" r="1.7" fill="#ff8c8c" stroke="#ff0000" stroke-width="1.35"/>
<circle cx="374.27" cy="428.38" r="1.7" fill="#ff8c8c" stroke="#ff0000" stroke-width="1.35"/>
<circle cx="377.93" cy="429.04" r="1.7" fill="#ff8c8c" stroke="#ff0000" stroke-width="1.35"/>
<circle cx="381.60" cy="429.67" r="1.7" fill="#ff8c8c" stroke="#ff0000" stroke-width="1.35"/>
<circle cx="385.27" cy="430.27" r="1.7" fill="#ff8c8c" stroke="#ff0000" stroke-width="1.35"/>
<circle cx="388.93" cy="430.84" r="1.7" fill="#ff8c8c" stroke="#ff0000" stroke-width="1.35"/>
<circle cx="392.60" cy="431.38" r="1.7" fill="#ff8c8c" stroke="#ff0000" stroke-width="1.35"/>
<circle cx="396.27" cy="431.86" r="1.7" fill="#ff8c8c" stroke="#ff0000" stroke-width="1.35"/>
<circle cx="399.93" cy="432.29" r="1.7" fill="#ff8c8c" stroke="#ff0000" stroke-width="1.35"/>
<circle cx="403.60" cy="432.67" r="1.7" fill="#ff8c8c" stroke="#ff0000" stroke-width="1.35"/>
<path d="M304.6,333.2 305.4,337.5 306.2,341.4 307.0,344.7 307.6,346.7 307.8,347.3 308.6,349.5 309.4,351.6 310.1,353.4 310.9,354.7 311.7,355.3 311.9,355.4 312.5,355.4 313.3,355.5 314.1,355.5 314.9,355.5 315.7,355.6 316.5,355.6 317.3,355.6 318.1,355.7 318.9,355.7 319.6,355.7 320.4,355.7 321.2,355.7 322.0,355.7 322.8,355.8 323.6,355.8 324.4,355.8 325.2,355.8 326.0,355.8 326.8,355.8 327.6,355.8 328.4,355.8 329.2,355.8 329.9,355.8 330.7,355.8 331.5,355.8 332.3,355.8 333.1,355.8 333.9,355.8 334.7,355.8 335.5,355.8 336.3,355.8 337.1,355.8 337.9,355.8 338.7,355.8 339.4,355.8 340.2,355.8 341.0,355.8 341.8,355.8 342.6,355.8 343.4,355.8 344.2,355.8 345.0,355.8 345.8,355.8 346.6,355.8 347.4,355.8 348.2,355.8 349.0,355.8 349.7,355.8 350.5,355.8 351.3,355.8 352.1,355.8 352.9,355.8 353.7,355.8 354.5,355.8 355.3,355.8 356.1,355.8 356.9,355.8 357.7,355.8 358.5,355.8 359.2,355.8 360.0,355.8 360.8,355.8 361.6,355.8 362.4,355.8 363.2,355.8 364.0,355.8 364.8,355.8 365.6,355.8 366.4,355.8 367.2,355.8 367.4,355.8 368.0,355.8 368.8,355.9 369.5,356.0 370.3,356.2 371.1,356.5 371.9,356.7 372.7,357.1 373.5,357.4 374.3,357.8 375.1,358.2 375.9,358.6 376.7,359.0 377.5,359.3 378.3,359.7 378.9,360.0 379.0,360.1 379.8,360.4 380.6,360.8 381.4,361.2 382.2,361.6 383.0,362.0 383.8,362.4 384.6,362.8 385.4,363.3 386.2,363.8 387.0,364.3 387.8,364.8 388.6,365.3 388.9,365.6 389.3,365.9 390.1,366.6 390.9,367.4 391.7,368.2 392.5,369.1 393.3,370.0 394.1,370.9 394.9,371.8 395.7,372.6 396.0,372.9 396.5,373.3 397.3,374.0 398.1,374.7 398.8,375.4 399.6,376.1 400.4,376.8 401.2,377.5 402.0,378.1 402.8,378.7 403.6,379.3" fill="none" stroke="#0000ff" stroke-width="1.5" stroke-linejoin="round"/>
<path d="M308.3,346.1l2.3,4h-4.6z" fill="#0000ff"/>
<path d="M311.9,352.8l2.3,4h-4.6z" fill="#0000ff"/>
<path d="M315.6,353.0l2.3,4h-4.6z" fill="#0000ff"/>
<path d="M319.3,353.1l2.3,4h-4.6z" fill="#0000ff"/>
<path d="M322.9,353.2l2.3,4h-4.6z" fill="#0000ff"/>
<path d="M326.6,353.2l2.3,4h-4.6z" fill="#0000ff"/>
<path d="M330.3,353.2l2.3,4h-4.6z" fill="#0000ff"/>
<path d="M333.9,353.2l2.3,4h-4.6z" fill="#0000ff"/>
<path d="M337.6,353.2l2.3,4h-4.6z" fill="#0000ff"/>
<path d="M341.3,353.2l2.3,4h-4.6z" fill="#0000ff"/>
<path d="M344.9,353.2l2.3,4h-4.6z" fill="#0000ff"/>
<path d="M348.6,353.2l2.3,4h-4.6z" fill="#0000ff"/>
<path d="M352.3,353.2l2.3,4h-4.6z" fill="#0000ff"/>
<path d="M355.9,353.2l2.3,4h-4.6z" fill="#0000ff"/>
<path d="M359.6,353.2l2.3,4h-4.6z" fill="#0000ff"/>
<path d="M363.3,353.2l2.3,4h-4.6z" fill="#0000ff"/>
<path d="M366.9,353.2l2.3,4h-4.6z" fill="#0000ff"/>
<path d="M370.6,353.7l2.3,4h-4.6z" fill="#0000ff"/>
<path d="M374.3,355.2l2.3,4h-4.6z" fill="#0000ff"/>
<path d="M377.9,357.0l2.3,4h-4.6z" fill="#0000ff"/>
<path d="M381.6,358.7l2.3,4h-4.6z" fill="#0000ff"/>
<path d="M385.3,360.6l2.3,4h-4.6z" fill="#0000ff"/>
<path d="M388.9,363.0l2.3,4h-4.6z" fill="#0000ff"/>
<path d="M392.6,366.6l2.3,4h-4.6z" fill="#0000ff"/>
<path d="M396.3,370.5l2.3,4h-4.6z" fill="#0000ff"/>
<path d="M399.9,373.8l2.3,4h-4.6z" fill="#0000ff"/>
<path d="M403.6,376.7l2.3,4h-4.6z" fill="#0000ff"/>
<path d="M304.6,334.6 305.4,337.5 306.2,339.8 306.6,340.7 307.0,341.3 307.8,342.4 308.6,343.3 309.2,344.1 309.4,344.4 310.1,345.5 310.9,346.6 311.7,347.8 312.5,349.0 313.3,350.2 314.1,351.4 314.9,352.7 315.7,353.9 316.5,355.1 317.3,356.3 318.1,357.5 318.9,358.6 319.6,359.7 320.4,360.7 321.2,361.7 322.0,362.6 322.8,363.4 323.4,364.0 323.6,364.2 324.4,364.9 325.2,365.6 326.0,366.2 326.8,366.9 327.6,367.5 328.4,368.0 329.2,368.6 329.9,369.1 330.7,369.6 331.5,370.1 332.3,370.6 333.1,371.1 333.9,371.5 334.7,372.0 334.9,372.1 335.5,372.4 336.3,372.8 337.1,373.1 337.9,373.5 338.7,373.8 339.4,374.1 340.2,374.4 341.0,374.7 341.8,375.1 342.6,375.4 343.4,375.7 344.2,376.1 345.0,376.4 345.8,376.8 346.0,376.9 346.6,377.2 347.4,377.7 348.2,378.2 349.0,378.7 349.7,379.2 350.5,379.8 351.3,380.3 352.1,380.9 352.9,381.5 353.7,382.0 354.5,382.6 355.3,383.1 356.1,383.7 356.9,384.2 357.7,384.7 358.5,385.1 359.2,385.5 360.0,385.9 360.2,386.0 360.8,386.2 361.6,386.5 362.4,386.8 363.2,387.1 364.0,387.4 364.8,387.7 365.6,388.0 366.4,388.3 367.2,388.5 368.0,388.8 368.8,389.0 369.5,389.2 370.3,389.4 371.1,389.6 371.9,389.8 372.7,390.0 373.5,390.2 374.3,390.3 374.6,390.4 375.1,390.5 375.9,390.6 376.7,390.8 377.5,390.9 378.3,391.1 379.0,391.2 379.8,391.4 380.6,391.5 381.4,391.6 382.2,391.8 383.0,391.9 383.8,392.0 384.6,392.2 385.4,392.3 386.2,392.4 387.0,392.6 387.8,392.7 388.6,392.8 389.3,392.9 390.1,393.0 390.9,393.1 391.7,393.2 392.5,393.3 393.3,393.4 394.1,393.5 394.9,393.6 395.7,393.6 396.5,393.7 397.3,393.8 398.1,393.8 398.8,393.9 399.6,393.9 400.4,393.9 401.2,394.0 402.0,394.0 402.8,394.0 403.6,394.0" fill="none" stroke="#00ffff" stroke-width="1.5" stroke-linejoin="round"/>
<path d="M308.3,345.6l2.3,-4h-4.6z" fill="#00ffff"/>
<path d="M311.9,350.7l2.3,-4h-4.6z" fill="#00ffff"/>
<path d="M315.6,356.4l2.3,-4h-4.6z" fill="#00ffff"/>
<path d="M319.3,361.8l2.3,-4h-4.6z" fill="#00ffff"/>
<path d="M322.9,366.2l2.3,-4h-4.6z" fill="#00ffff"/>
<path d="M326.6,369.3l2.3,-4h-4.6z" fill="#00ffff"/>
<path d="M330.3,371.9l2.3,-4h-4.6z" fill="#00ffff"/>
<path d="M333.9,374.1l2.3,-4h-4.6z" fill="#00ffff"/>
<path d="M337.6,376.0l2.3,-4h-4.6z" fill="#00ffff"/>
<path d="M341.3,377.4l2.3,-4h-4.6z" fill="#00ffff"/>
<path d="M344.9,379.0l2.3,-4h-4.6z" fill="#00ffff"/>
<path d="M348.6,381.0l2.3,-4h-4.6z" fill="#00ffff"/>
<path d="M352.3,383.6l2.3,-4h-4.6z" fill="#00ffff"/>
<path d="M355.9,386.2l2.3,-4h-4.6z" fill="#00ffff"/>
<path d="M359.6,388.3l2.3,-4h-4.6z" fill="#00ffff"/>
<path d="M363.3,389.8l2.3,-4h-4.6z" fill="#00ffff"/>
<path d="M366.9,391.0l2.3,-4h-4.6z" fill="#00ffff"/>
<path d="M370.6,392.1l2.3,-4h-4.6z" fill="#00ffff"/>
<path d="M374.3,392.9l2.3,-4h-4.6z" fill="#00ffff"/>
<path d="M377.9,393.6l2.3,-4h-4.6z" fill="#00ffff"/>
<path d="M381.6,394.3l2.3,-4h-4.6z" fill="#00ffff"/>
<path d="M385.3,394.9l2.3,-4h-4.6z" fill="#00ffff"/>
<path d="M388.9,395.4l2.3,-4h-4.6z" fill="#00ffff"/>
<path d="M392.6,395.9l2.3,-4h-4.6z" fill="#00ffff"/>
<path d="M396.3,396.3l2.3,-4h-4.6z" fill="#00ffff"/>
<path d="M399.9,396.5l2.3,-4h-4.6z" fill="#00ffff"/>
<path d="M403.6,396.6l2.3,-4h-4.6z" fill="#00ffff"/>
<path d="M304.6,333.2 305.4,337.4 306.2,341.2 307.0,344.6 307.7,346.9 307.8,347.1 308.6,349.0 309.4,350.6 310.1,352.0 310.9,353.3 311.7,354.5 312.5,355.6 313.3,356.8 313.4,357.0 314.1,358.0 314.9,359.2 315.7,360.3 316.5,361.4 317.3,362.5 318.1,363.5 318.9,364.5 319.6,365.6 320.4,366.6 320.6,366.8 321.2,367.6 322.0,368.6 322.8,369.7 323.6,370.6 324.4,371.5 324.9,372.1 325.2,372.4 326.0,373.1 326.8,373.8 327.6,374.4 328.4,375.1 329.2,375.7 329.9,376.4 330.5,376.9 330.7,377.1 331.5,377.9 332.3,378.7 333.1,379.5 333.9,380.3 334.7,381.1 334.9,381.3 335.5,381.9 336.3,382.8 337.1,383.6 337.9,384.5 338.7,385.3 339.4,386.2 340.2,387.0 341.0,387.9 341.8,388.7 342.6,389.4 343.4,390.2 344.2,390.8 344.9,391.4 345.0,391.5 345.8,392.1 346.6,392.7 347.4,393.2 348.2,393.8 349.0,394.3 349.7,394.8 350.5,395.3 351.3,395.8 352.1,396.3 352.9,396.8 353.7,397.3 354.5,397.7 355.3,398.2 356.1,398.6 356.9,399.0 357.7,399.4 358.5,399.8 359.2,400.2 360.0,400.6 360.8,401.0 361.0,401.1 361.6,401.3 362.4,401.7 363.2,402.0 364.0,402.4 364.8,402.7 365.6,403.0 366.4,403.3 367.2,403.7 368.0,404.0 368.8,404.3 369.5,404.5 370.3,404.8 371.1,405.1 371.9,405.4 372.7,405.7 373.5,405.9 374.3,406.2 374.6,406.3 375.1,406.5 375.9,406.7 376.7,407.0 377.5,407.3 378.3,407.5 379.0,407.8 379.8,408.0 380.6,408.3 381.4,408.5 382.2,408.8 383.0,409.0 383.8,409.3 384.6,409.5 385.4,409.7 386.2,409.9 387.0,410.1 387.8,410.3 388.6,410.4 388.9,410.5 389.3,410.6 390.1,410.8 390.9,410.9 391.7,411.1 392.5,411.2 393.3,411.4 394.1,411.5 394.9,411.6 395.7,411.8 396.5,411.9 397.3,412.0 398.1,412.1 398.8,412.2 399.6,412.3 400.4,412.4 401.2,412.5 402.0,412.6 402.8,412.7 403.6,412.7" fill="none" stroke="#ff00ff" stroke-width="1.5" stroke-linejoin="round"/>
<circle cx="308.27" cy="348.29" r="1.75" fill="#ff00ff"/>
<circle cx="311.93" cy="354.76" r="1.75" fill="#ff00ff"/>
<circle cx="315.60" cy="360.16" r="1.75" fill="#ff00ff"/>
<circle cx="319.27" cy="365.07" r="1.75" fill="#ff00ff"/>
<circle cx="322.93" cy="369.81" r="1.75" fill="#ff00ff"/>
<circle cx="326.60" cy="373.63" r="1.75" fill="#ff00ff"/>
<circle cx="330.27" cy="376.65" r="1.75" fill="#ff00ff"/>
<circle cx="333.93" cy="380.34" r="1.75" fill="#ff00ff"/>
<circle cx="337.60" cy="384.19" r="1.75" fill="#ff00ff"/>
<circle cx="341.27" cy="388.10" r="1.75" fill="#ff00ff"/>
<circle cx="344.93" cy="391.43" r="1.75" fill="#ff00ff"/>
<circle cx="348.60" cy="394.07" r="1.75" fill="#ff00ff"/>
<circle cx="352.27" cy="396.42" r="1.75" fill="#ff00ff"/>
<circle cx="355.93" cy="398.51" r="1.75" fill="#ff00ff"/>
<circle cx="359.60" cy="400.38" r="1.75" fill="#ff00ff"/>
<circle cx="363.27" cy="402.06" r="1.75" fill="#ff00ff"/>
<circle cx="366.93" cy="403.56" r="1.75" fill="#ff00ff"/>
<circle cx="370.60" cy="404.92" r="1.75" fill="#ff00ff"/>
<circle cx="374.27" cy="406.19" r="1.75" fill="#ff00ff"/>
<circle cx="377.93" cy="407.41" r="1.75" fill="#ff00ff"/>
<circle cx="381.60" cy="408.60" r="1.75" fill="#ff00ff"/>
<circle cx="385.27" cy="409.66" r="1.75" fill="#ff00ff"/>
<circle cx="388.93" cy="410.52" r="1.75" fill="#ff00ff"/>
<circle cx="392.60" cy="411.22" r="1.75" fill="#ff00ff"/>
<circle cx="396.27" cy="411.85" r="1.75" fill="#ff00ff"/>
<circle cx="399.93" cy="412.37" r="1.75" fill="#ff00ff"/>
<circle cx="403.60" cy="412.74" r="1.75" fill="#ff00ff"/>
<path d="M304.6,333.2 305.4,334.0 306.2,334.9 307.0,335.6 307.7,336.0 307.8,336.1 308.6,336.4 309.4,336.8 310.1,337.1 310.9,337.3 311.7,337.6 312.5,337.8 313.3,338.0 314.1,338.2 314.9,338.4 315.7,338.6 316.5,338.8 317.3,338.9 318.1,339.1 318.9,339.3 319.6,339.4 320.4,339.6 321.2,339.8 322.0,340.0 322.8,340.3 323.4,340.5 323.6,340.5 324.4,340.8 325.2,341.0 326.0,341.3 326.8,341.6 327.6,341.9 328.4,342.1 329.2,342.4 329.9,342.7 330.7,343.0 331.5,343.3 332.3,343.6 333.1,344.0 333.9,344.3 334.7,344.7 335.5,345.0 336.3,345.4 337.1,345.8 337.7,346.1 337.9,346.2 338.7,346.6 339.4,347.1 340.2,347.6 341.0,348.2 341.8,348.8 342.6,349.4 343.4,350.0 344.2,350.6 344.9,351.1 345.0,351.2 345.8,351.8 346.6,352.5 347.4,353.2 348.2,353.9 349.0,354.6 349.7,355.3 350.5,356.0 351.3,356.8 352.1,357.6 352.9,358.4 353.1,358.6 353.7,359.2 354.5,360.1 355.3,361.0 356.1,361.9 356.9,362.8 357.7,363.8 358.5,364.8 359.2,365.8 360.0,366.8 360.2,367.0 360.8,367.8 361.6,369.0 362.4,370.1 363.2,371.4 364.0,372.6 364.8,373.8 365.6,374.9 366.4,376.0 367.2,376.9 367.4,377.1 368.0,377.7 368.8,378.5 369.5,379.2 370.3,379.9 371.1,380.6 371.9,381.2 372.7,381.8 373.5,382.4 374.3,382.9 374.6,383.1 375.1,383.5 375.9,384.1 376.7,384.6 377.5,385.2 378.3,385.8 379.0,386.3 379.8,386.9 380.6,387.4 381.4,387.9 382.2,388.4 383.0,388.8 383.8,389.2 384.6,389.5 385.4,389.8 386.0,390.0 386.2,390.0 387.0,390.3 387.8,390.5 388.6,390.7 389.3,390.9 390.1,391.1 390.9,391.3 391.7,391.5 392.5,391.6 393.3,391.8 394.1,392.0 394.9,392.1 395.7,392.3 396.5,392.4 397.3,392.5 398.1,392.6 398.8,392.7 399.6,392.8 400.4,392.9 401.2,392.9 402.0,393.0 402.8,393.0 403.6,393.0" fill="none" stroke="#2a2ade" stroke-width="1.6" stroke-linejoin="round"/>
<path d="M304.6,333.2 305.4,335.2 306.2,337.3 307.0,338.9 307.7,339.7 307.8,339.7 308.6,340.0 309.4,340.3 310.1,340.6 310.9,340.8 311.7,341.0 312.5,341.3 313.3,341.4 314.1,341.6 314.9,341.8 315.7,341.9 316.5,342.0 317.3,342.1 318.1,342.2 318.9,342.3 319.6,342.4 320.4,342.4 321.2,342.5 322.0,342.6 322.8,342.6 323.4,342.7 323.6,342.7 324.4,342.7 325.2,342.8 326.0,342.9 326.8,342.9 327.6,343.0 328.4,343.0 329.2,343.0 329.9,343.1 330.7,343.1 331.5,343.2 332.3,343.2 333.1,343.2 333.9,343.3 334.7,343.3 335.5,343.3 336.3,343.4 337.1,343.4 337.9,343.4 338.7,343.4 339.4,343.5 340.2,343.5 341.0,343.5 341.8,343.5 342.6,343.6 343.4,343.6 344.2,343.6 345.0,343.6 345.8,343.7 346.0,343.7 346.6,343.7 347.4,343.7 348.2,343.7 349.0,343.8 349.7,343.8 350.5,343.8 351.3,343.8 352.1,343.8 352.9,343.8 353.7,343.8 354.5,343.8 355.3,343.9 356.1,343.9 356.9,343.9 357.7,343.9 358.5,343.9 359.2,343.9 360.0,343.9 360.8,343.9 361.6,344.0 362.4,344.0 363.2,344.0 364.0,344.0 364.8,344.1 365.6,344.1 366.4,344.1 367.2,344.2 368.0,344.2 368.8,344.2 369.5,344.3 370.3,344.6 371.1,345.5 371.9,346.8 372.7,348.2 373.5,349.6 374.3,350.9 374.6,351.3 375.1,352.0 375.9,353.0 376.7,354.1 377.5,355.1 378.3,356.2 379.0,357.2 379.8,358.1 380.6,359.0 381.4,359.8 381.6,360.0 382.2,360.5 383.0,361.3 383.8,362.0 384.6,362.6 385.4,363.2 386.2,363.8 387.0,364.4 387.8,364.9 388.6,365.4 388.9,365.6 389.3,365.8 390.1,366.3 390.9,366.7 391.7,367.1 392.5,367.5 393.3,367.9 394.1,368.2 394.9,368.4 395.7,368.6 396.0,368.6 396.5,368.7 397.3,368.8 398.1,368.9 398.8,369.0 399.6,369.1 400.4,369.1 401.2,369.2 402.0,369.2 402.8,369.2 403.6,369.2" fill="none" stroke="#00f0f0" stroke-width="1.5" stroke-linejoin="round"/>
<path d="M304.6,333.2 305.4,334.8 306.2,336.3 307.0,337.6 307.7,338.2 307.8,338.3 308.6,338.6 309.4,339.0 310.1,339.2 310.9,339.5 311.7,339.7 312.5,339.9 313.3,340.1 314.1,340.2 314.9,340.4 315.7,340.5 316.5,340.6 317.3,340.8 318.1,340.9 318.9,341.0 319.6,341.1 320.4,341.2 321.2,341.4 322.0,341.5 322.8,341.7 323.4,341.9 323.6,341.9 324.4,342.1 325.2,342.3 326.0,342.6 326.8,342.8 327.6,343.0 328.4,343.2 329.2,343.5 329.9,343.7 330.7,343.9 331.5,344.2 332.3,344.4 333.1,344.7 333.9,344.9 334.7,345.1 335.5,345.4 336.3,345.7 337.1,345.9 337.7,346.1 337.9,346.2 338.7,346.4 339.4,346.7 340.2,346.9 341.0,347.2 341.8,347.5 342.6,347.7 343.4,348.0 344.2,348.3 345.0,348.6 345.8,348.8 346.6,349.1 347.4,349.4 348.2,349.7 349.0,350.0 349.7,350.3 350.5,350.6 351.3,350.9 351.9,351.1 352.1,351.2 352.9,351.5 353.7,351.8 354.5,352.2 355.3,352.5 356.1,352.8 356.9,353.2 357.7,353.5 358.5,353.9 359.2,354.3 360.0,354.7 360.2,354.8 360.8,355.0 361.6,355.4 362.4,355.8 363.2,356.2 364.0,356.6 364.8,357.1 365.6,357.5 366.4,357.9 367.2,358.3 368.0,358.8 368.8,359.2 369.5,359.7 370.3,360.1 371.1,360.6 371.9,361.1 372.7,361.6 373.5,362.1 374.3,362.6 374.6,362.8 375.1,363.1 375.9,363.7 376.7,364.3 377.5,364.9 378.3,365.5 379.0,366.2 379.8,366.8 380.6,367.5 381.4,368.2 382.2,368.8 383.0,369.5 383.8,370.2 384.6,370.9 385.4,371.5 386.2,372.2 387.0,372.8 387.8,373.4 388.6,374.0 388.9,374.3 389.3,374.6 390.1,375.1 390.9,375.7 391.7,376.2 392.5,376.7 393.3,377.3 394.1,377.8 394.9,378.3 395.7,378.8 396.5,379.3 397.3,379.8 398.1,380.3 398.8,380.8 399.6,381.3 400.4,381.7 401.2,382.2 402.0,382.7 402.8,383.1 403.6,383.5" fill="none" stroke="#f000f0" stroke-width="1.4" stroke-linejoin="round"/>
<path d="M304.6,333.2 305.4,339.6 306.2,344.8 306.6,346.7 307.0,348.2 307.8,351.0 308.6,353.4 309.4,355.2 310.1,356.5 310.5,357.0 310.9,357.3 311.7,357.9 312.5,358.5 313.3,359.0 314.1,359.4 314.9,359.8 315.7,360.2 316.5,360.5 317.3,360.8 318.1,361.1 318.9,361.4 319.6,361.6 320.4,361.8 321.2,362.0 322.0,362.2 322.8,362.4 323.4,362.6 323.6,362.7 324.4,362.9 325.2,363.1 326.0,363.2 326.8,363.4 327.6,363.6 328.4,363.7 329.2,363.9 329.9,364.0 330.7,364.2 331.5,364.3 332.3,364.5 333.1,364.6 333.9,364.7 334.7,364.9 335.5,365.0 336.3,365.2 337.1,365.3 337.7,365.4 337.9,365.5 338.7,365.6 339.4,365.8 340.2,365.9 341.0,366.1 341.8,366.2 342.6,366.4 343.4,366.5 344.2,366.7 345.0,366.8 345.8,367.0 346.0,367.0 346.6,367.2 347.4,367.3 348.2,367.5 349.0,367.6 349.7,367.8 350.5,368.0 351.3,368.1 352.1,368.3 352.9,368.5 353.7,368.6 354.5,368.8 355.3,369.0 356.1,369.2 356.9,369.3 357.7,369.5 358.5,369.7 359.2,369.9 360.0,370.0 360.8,370.2 361.6,370.4 361.8,370.5 362.4,370.6 363.2,370.8 364.0,371.0 364.8,371.2 365.6,371.4 366.4,371.6 367.2,371.8 368.0,372.0 368.8,372.2 369.5,372.4 370.3,372.6 371.1,372.8 371.9,373.0 372.7,373.2 373.5,373.4 374.3,373.6 374.6,373.7 375.1,373.8 375.9,374.0 376.7,374.1 377.5,374.3 378.3,374.5 379.0,374.7 379.8,374.8 380.6,375.0 381.4,375.2 382.2,375.3 383.0,375.5 383.8,375.7 384.6,375.8 385.4,376.0 386.2,376.2 387.0,376.3 387.8,376.5 388.6,376.6 389.3,376.8 390.1,377.0 390.9,377.1 391.7,377.3 392.5,377.4 393.3,377.6 394.1,377.7 394.9,377.8 395.7,378.0 396.5,378.1 397.3,378.3 398.1,378.4 398.8,378.5 399.6,378.7 400.4,378.8 401.2,378.9 402.0,379.1 402.8,379.2 403.6,379.3" fill="none" stroke="#00e600" stroke-width="1.5" stroke-linejoin="round" stroke-dasharray="3.2,2.2"/>
<path d="M304.6,333.2 305.4,340.5 306.2,346.3 306.3,346.9 307.0,350.0 307.8,353.1 308.6,355.6 309.4,357.9 310.1,360.1 310.5,361.2 310.9,362.3 311.7,364.5 312.5,366.5 313.3,368.5 314.1,370.3 314.9,372.1 315.7,373.7 316.5,375.3 317.3,376.8 318.1,378.2 318.9,379.4 319.1,379.7 319.6,380.6 320.4,381.7 321.2,382.6 322.0,383.3 322.8,383.9 323.6,384.5 324.4,385.0 325.2,385.5 326.0,386.0 326.8,386.4 327.6,386.8 328.4,387.1 329.2,387.5 329.9,387.8 330.7,388.0 331.5,388.3 331.9,388.4 332.3,388.5 333.1,388.7 333.9,388.8 334.7,389.0 335.5,389.2 336.3,389.3 337.1,389.5 337.9,389.6 338.7,389.7 339.4,389.8 340.2,389.9 341.0,390.0 341.8,390.2 342.6,390.3 343.4,390.4 344.2,390.5 344.9,390.6 345.0,390.6 345.8,390.7 346.6,390.8 347.4,391.0 348.2,391.1 349.0,391.2 349.7,391.3 350.5,391.5 351.3,391.6 352.1,391.7 352.9,391.8 353.7,392.0 354.5,392.1 355.3,392.2 356.1,392.3 356.9,392.4 357.7,392.5 358.5,392.5 359.2,392.6 360.0,392.7 360.8,392.7 361.6,392.8 361.8,392.8 362.4,392.8 363.2,392.9 364.0,392.9 364.8,393.0 365.6,393.0 366.4,393.0 367.2,393.1 368.0,393.1 368.8,393.1 369.5,393.2 370.3,393.2 371.1,393.3 371.9,393.3 372.7,393.3 373.5,393.4 374.3,393.4 375.1,393.4 375.9,393.4 376.7,393.5 377.5,393.5 378.3,393.5 379.0,393.6 379.8,393.6 380.6,393.6 381.4,393.6 382.2,393.7 383.0,393.7 383.8,393.7 384.6,393.7 385.4,393.8 386.2,393.8 387.0,393.8 387.8,393.8 388.6,393.8 389.3,393.9 390.1,393.9 390.9,393.9 391.7,393.9 392.5,393.9 393.3,393.9 394.1,393.9 394.9,394.0 395.7,394.0 396.5,394.0 397.3,394.0 398.1,394.0 398.8,394.0 399.6,394.0 400.4,394.0 401.2,394.0 402.0,394.0 402.8,394.0 403.6,394.0" fill="none" stroke="#00e600" stroke-width="1.5" stroke-linejoin="round"/>
<circle cx="304.60" cy="336.83" r="1.7" fill="#ff8c8c" stroke="#ff0000" stroke-width="1.35"/>
<path d="M304.6,330.6l2.3,4h-4.6z" fill="#0000ff"/>
<path d="M304.6,337.2l2.3,-4h-4.6z" fill="#00ffff"/>
<circle cx="304.60" cy="333.21" r="1.75" fill="#ff00ff"/>
<text class="tk" transform="translate(304.60,445.90) scale(0.9,1)" font-size="6.8" text-anchor="middle">0</text>
<text class="tk" transform="translate(324.40,445.90) scale(0.9,1)" font-size="6.8" text-anchor="middle">100</text>
<text class="tk" transform="translate(344.20,445.90) scale(0.9,1)" font-size="6.8" text-anchor="middle">200</text>
<text class="tk" transform="translate(364.00,445.90) scale(0.9,1)" font-size="6.8" text-anchor="middle">300</text>
<text class="tk" transform="translate(383.80,445.90) scale(0.9,1)" font-size="6.8" text-anchor="middle">400</text>
<text class="tk" transform="translate(403.60,445.90) scale(0.9,1)" font-size="6.8" text-anchor="middle">500</text>
<text class="tk" transform="translate(302.20,441.10) scale(0.9,1)" font-size="6.8" text-anchor="end">10<tspan font-size="5.2" dy="-3.3">6</tspan></text>
<text class="tk" transform="translate(302.20,400.83) scale(0.9,1)" font-size="6.8" text-anchor="end">10<tspan font-size="5.2" dy="-3.3">8</tspan></text>
<text class="tk" transform="translate(302.20,360.57) scale(0.9,1)" font-size="6.8" text-anchor="end">10<tspan font-size="5.2" dy="-3.3">10</tspan></text>
<text class="tk" transform="translate(302.20,320.30) scale(0.9,1)" font-size="6.8" text-anchor="end">10<tspan font-size="5.2" dy="-3.3">12</tspan></text>
<text transform="translate(354.10,315.10) scale(0.875,1)" font-size="7.8" text-anchor="middle" fill="#111">CEC2017 F11 Dim=50</text>
<text x="354.10" y="454.90" font-size="6.8" text-anchor="middle" fill="#262626">Iterations</text>
<text transform="translate(286.30,376.90) rotate(-90)" font-size="7" text-anchor="middle" fill="#262626">Fitness</text>
<line x1="442.40" y1="432.95" x2="541.40" y2="432.95" stroke="#f0f0f0" stroke-width="0.6"/>
<line x1="442.40" y1="430.28" x2="541.40" y2="430.28" stroke="#f0f0f0" stroke-width="0.6"/>
<line x1="442.40" y1="428.39" x2="541.40" y2="428.39" stroke="#f0f0f0" stroke-width="0.6"/>
<line x1="442.40" y1="426.93" x2="541.40" y2="426.93" stroke="#f0f0f0" stroke-width="0.6"/>
<line x1="442.40" y1="425.73" x2="541.40" y2="425.73" stroke="#f0f0f0" stroke-width="0.6"/>
<line x1="442.40" y1="424.72" x2="541.40" y2="424.72" stroke="#f0f0f0" stroke-width="0.6"/>
<line x1="442.40" y1="423.84" x2="541.40" y2="423.84" stroke="#f0f0f0" stroke-width="0.6"/>
<line x1="442.40" y1="423.07" x2="541.40" y2="423.07" stroke="#f0f0f0" stroke-width="0.6"/>
<line x1="442.40" y1="417.82" x2="541.40" y2="417.82" stroke="#f0f0f0" stroke-width="0.6"/>
<line x1="442.40" y1="415.16" x2="541.40" y2="415.16" stroke="#f0f0f0" stroke-width="0.6"/>
<line x1="442.40" y1="413.27" x2="541.40" y2="413.27" stroke="#f0f0f0" stroke-width="0.6"/>
<line x1="442.40" y1="411.80" x2="541.40" y2="411.80" stroke="#f0f0f0" stroke-width="0.6"/>
<line x1="442.40" y1="410.61" x2="541.40" y2="410.61" stroke="#f0f0f0" stroke-width="0.6"/>
<line x1="442.40" y1="409.59" x2="541.40" y2="409.59" stroke="#f0f0f0" stroke-width="0.6"/>
<line x1="442.40" y1="408.72" x2="541.40" y2="408.72" stroke="#f0f0f0" stroke-width="0.6"/>
<line x1="442.40" y1="407.94" x2="541.40" y2="407.94" stroke="#f0f0f0" stroke-width="0.6"/>
<line x1="442.40" y1="422.38" x2="541.40" y2="422.38" stroke="#f0f0f0" stroke-width="0.6"/>
<line x1="442.40" y1="402.70" x2="541.40" y2="402.70" stroke="#f0f0f0" stroke-width="0.6"/>
<line x1="442.40" y1="400.03" x2="541.40" y2="400.03" stroke="#f0f0f0" stroke-width="0.6"/>
<line x1="442.40" y1="398.14" x2="541.40" y2="398.14" stroke="#f0f0f0" stroke-width="0.6"/>
<line x1="442.40" y1="396.68" x2="541.40" y2="396.68" stroke="#f0f0f0" stroke-width="0.6"/>
<line x1="442.40" y1="395.48" x2="541.40" y2="395.48" stroke="#f0f0f0" stroke-width="0.6"/>
<line x1="442.40" y1="394.47" x2="541.40" y2="394.47" stroke="#f0f0f0" stroke-width="0.6"/>
<line x1="442.40" y1="393.59" x2="541.40" y2="393.59" stroke="#f0f0f0" stroke-width="0.6"/>
<line x1="442.40" y1="392.82" x2="541.40" y2="392.82" stroke="#f0f0f0" stroke-width="0.6"/>
<line x1="442.40" y1="387.57" x2="541.40" y2="387.57" stroke="#f0f0f0" stroke-width="0.6"/>
<line x1="442.40" y1="384.91" x2="541.40" y2="384.91" stroke="#f0f0f0" stroke-width="0.6"/>
<line x1="442.40" y1="383.02" x2="541.40" y2="383.02" stroke="#f0f0f0" stroke-width="0.6"/>
<line x1="442.40" y1="381.55" x2="541.40" y2="381.55" stroke="#f0f0f0" stroke-width="0.6"/>
<line x1="442.40" y1="380.36" x2="541.40" y2="380.36" stroke="#f0f0f0" stroke-width="0.6"/>
<line x1="442.40" y1="379.34" x2="541.40" y2="379.34" stroke="#f0f0f0" stroke-width="0.6"/>
<line x1="442.40" y1="378.47" x2="541.40" y2="378.47" stroke="#f0f0f0" stroke-width="0.6"/>
<line x1="442.40" y1="377.69" x2="541.40" y2="377.69" stroke="#f0f0f0" stroke-width="0.6"/>
<line x1="442.40" y1="392.12" x2="541.40" y2="392.12" stroke="#f0f0f0" stroke-width="0.6"/>
<line x1="442.40" y1="372.45" x2="541.40" y2="372.45" stroke="#f0f0f0" stroke-width="0.6"/>
<line x1="442.40" y1="369.78" x2="541.40" y2="369.78" stroke="#f0f0f0" stroke-width="0.6"/>
<line x1="442.40" y1="367.89" x2="541.40" y2="367.89" stroke="#f0f0f0" stroke-width="0.6"/>
<line x1="442.40" y1="366.43" x2="541.40" y2="366.43" stroke="#f0f0f0" stroke-width="0.6"/>
<line x1="442.40" y1="365.23" x2="541.40" y2="365.23" stroke="#f0f0f0" stroke-width="0.6"/>
<line x1="442.40" y1="364.22" x2="541.40" y2="364.22" stroke="#f0f0f0" stroke-width="0.6"/>
<line x1="442.40" y1="363.34" x2="541.40" y2="363.34" stroke="#f0f0f0" stroke-width="0.6"/>
<line x1="442.40" y1="362.57" x2="541.40" y2="362.57" stroke="#f0f0f0" stroke-width="0.6"/>
<line x1="442.40" y1="357.32" x2="541.40" y2="357.32" stroke="#f0f0f0" stroke-width="0.6"/>
<line x1="442.40" y1="354.66" x2="541.40" y2="354.66" stroke="#f0f0f0" stroke-width="0.6"/>
<line x1="442.40" y1="352.77" x2="541.40" y2="352.77" stroke="#f0f0f0" stroke-width="0.6"/>
<line x1="442.40" y1="351.30" x2="541.40" y2="351.30" stroke="#f0f0f0" stroke-width="0.6"/>
<line x1="442.40" y1="350.11" x2="541.40" y2="350.11" stroke="#f0f0f0" stroke-width="0.6"/>
<line x1="442.40" y1="349.09" x2="541.40" y2="349.09" stroke="#f0f0f0" stroke-width="0.6"/>
<line x1="442.40" y1="348.22" x2="541.40" y2="348.22" stroke="#f0f0f0" stroke-width="0.6"/>
<line x1="442.40" y1="347.44" x2="541.40" y2="347.44" stroke="#f0f0f0" stroke-width="0.6"/>
<line x1="442.40" y1="361.88" x2="541.40" y2="361.88" stroke="#f0f0f0" stroke-width="0.6"/>
<line x1="442.40" y1="342.20" x2="541.40" y2="342.20" stroke="#f0f0f0" stroke-width="0.6"/>
<line x1="442.40" y1="339.53" x2="541.40" y2="339.53" stroke="#f0f0f0" stroke-width="0.6"/>
<line x1="442.40" y1="337.64" x2="541.40" y2="337.64" stroke="#f0f0f0" stroke-width="0.6"/>
<line x1="442.40" y1="336.18" x2="541.40" y2="336.18" stroke="#f0f0f0" stroke-width="0.6"/>
<line x1="442.40" y1="334.98" x2="541.40" y2="334.98" stroke="#f0f0f0" stroke-width="0.6"/>
<line x1="442.40" y1="333.97" x2="541.40" y2="333.97" stroke="#f0f0f0" stroke-width="0.6"/>
<line x1="442.40" y1="333.09" x2="541.40" y2="333.09" stroke="#f0f0f0" stroke-width="0.6"/>
<line x1="442.40" y1="332.32" x2="541.40" y2="332.32" stroke="#f0f0f0" stroke-width="0.6"/>
<line x1="442.40" y1="327.07" x2="541.40" y2="327.07" stroke="#f0f0f0" stroke-width="0.6"/>
<line x1="442.40" y1="324.41" x2="541.40" y2="324.41" stroke="#f0f0f0" stroke-width="0.6"/>
<line x1="442.40" y1="322.52" x2="541.40" y2="322.52" stroke="#f0f0f0" stroke-width="0.6"/>
<line x1="442.40" y1="321.05" x2="541.40" y2="321.05" stroke="#f0f0f0" stroke-width="0.6"/>
<line x1="442.40" y1="319.86" x2="541.40" y2="319.86" stroke="#f0f0f0" stroke-width="0.6"/>
<line x1="442.40" y1="318.84" x2="541.40" y2="318.84" stroke="#f0f0f0" stroke-width="0.6"/>
<line x1="442.40" y1="317.97" x2="541.40" y2="317.97" stroke="#f0f0f0" stroke-width="0.6"/>
<line x1="442.40" y1="317.19" x2="541.40" y2="317.19" stroke="#f0f0f0" stroke-width="0.6"/>
<line x1="442.40" y1="331.62" x2="541.40" y2="331.62" stroke="#f0f0f0" stroke-width="0.6"/>
<line x1="462.20" y1="316.50" x2="462.20" y2="437.50" stroke="#e6e6e6" stroke-width="0.6"/>
<line x1="482.00" y1="316.50" x2="482.00" y2="437.50" stroke="#e6e6e6" stroke-width="0.6"/>
<line x1="501.80" y1="316.50" x2="501.80" y2="437.50" stroke="#e6e6e6" stroke-width="0.6"/>
<line x1="521.60" y1="316.50" x2="521.60" y2="437.50" stroke="#e6e6e6" stroke-width="0.6"/>
<line x1="442.40" y1="407.25" x2="541.40" y2="407.25" stroke="#e6e6e6" stroke-width="0.6"/>
<line x1="442.40" y1="377.00" x2="541.40" y2="377.00" stroke="#e6e6e6" stroke-width="0.6"/>
<line x1="442.40" y1="346.75" x2="541.40" y2="346.75" stroke="#e6e6e6" stroke-width="0.6"/>
<rect x="442.40" y="316.50" width="99.00" height="121.00" fill="none" stroke="#a0a0a0" stroke-width="0.9"/>
<path d="M442.40,437.50v-1.2M442.40,316.50v1.2M462.20,437.50v-1.2M462.20,316.50v1.2M482.00,437.50v-1.2M482.00,316.50v1.2M501.80,437.50v-1.2M501.80,316.50v1.2M521.60,437.50v-1.2M521.60,316.50v1.2M541.40,437.50v-1.2M541.40,316.50v1.2M442.40,437.50h1.2M541.40,437.50h-1.2M442.40,407.25h1.2M541.40,407.25h-1.2M442.40,377.00h1.2M541.40,377.00h-1.2M442.40,346.75h1.2M541.40,346.75h-1.2M442.40,316.50h1.2M541.40,316.50h-1.2" stroke="#a0a0a0" stroke-width="0.7" fill="none"/>
<path d="M442.4,332.5 443.2,344.0 444.0,353.0 444.3,355.4 444.8,357.9 445.6,361.2 446.4,363.8 447.2,366.0 447.9,368.3 448.5,370.2 448.7,370.9 449.5,373.7 450.3,376.6 451.1,379.4 451.9,382.2 452.7,385.0 452.9,385.6 453.5,387.5 454.3,390.0 455.1,392.4 455.9,394.9 456.5,397.0 456.7,397.7 457.4,401.0 458.2,404.6 459.0,407.8 459.2,408.5 459.8,410.3 460.6,412.4 461.4,414.4 462.2,416.5 462.9,418.4 463.0,418.8 463.8,421.9 464.6,425.2 465.4,428.0 465.8,429.0 466.2,429.8 467.0,431.3 467.7,432.6 468.5,433.6 469.3,434.4 469.9,434.8 470.1,434.9 470.9,435.2 471.7,435.5 472.5,435.8 473.3,436.0 474.1,436.1 474.9,436.2 475.7,436.3 476.5,436.3 477.2,436.3 478.0,436.4 478.8,436.4 479.6,436.4 480.4,436.4 481.2,436.4 482.0,436.5 482.8,436.5 483.6,436.5 484.4,436.5 485.2,436.5 486.0,436.6 486.8,436.6 487.5,436.6 488.3,436.6 489.1,436.6 489.9,436.6 490.7,436.7 491.5,436.7 492.3,436.7 493.1,436.7 493.9,436.7 494.7,436.7 495.5,436.7 496.3,436.8 497.0,436.8 497.8,436.8 498.6,436.8 499.4,436.8 500.2,436.8 501.0,436.8 501.8,436.8 502.6,436.8 503.4,436.9 504.2,436.9 505.0,436.9 505.8,436.9 506.6,436.9 507.3,436.9 508.1,436.9 508.9,436.9 509.7,436.9 510.5,436.9 511.3,436.9 512.1,436.9 512.9,437.0 513.7,437.0 514.5,437.0 515.3,437.0 516.1,437.0 516.8,437.0 517.6,437.0 518.4,437.0 519.2,437.0 520.0,437.0 520.8,437.0 521.6,437.0 522.4,437.0 523.2,437.0 524.0,437.0 524.8,437.0 525.6,437.0 526.4,437.0 527.1,437.0 527.9,437.0 528.7,437.0 529.5,437.0 530.3,437.0 531.1,437.0 531.9,437.0 532.7,437.0 533.5,437.0 534.3,437.0 535.1,437.0 535.9,437.0 536.6,437.0 537.4,437.0 538.2,437.0 539.0,437.0 539.8,437.0 540.6,437.0 541.4,437.0" fill="none" stroke="#ff0000" stroke-width="1.5" stroke-linejoin="round"/>
<circle cx="446.07" cy="362.94" r="1.7" fill="#ff8c8c" stroke="#ff0000" stroke-width="1.35"/>
<circle cx="449.73" cy="374.46" r="1.7" fill="#ff8c8c" stroke="#ff0000" stroke-width="1.35"/>
<circle cx="453.40" cy="387.27" r="1.7" fill="#ff8c8c" stroke="#ff0000" stroke-width="1.35"/>
<circle cx="457.07" cy="399.38" r="1.7" fill="#ff8c8c" stroke="#ff0000" stroke-width="1.35"/>
<circle cx="460.73" cy="412.74" r="1.7" fill="#ff8c8c" stroke="#ff0000" stroke-width="1.35"/>
<circle cx="464.40" cy="424.47" r="1.7" fill="#ff8c8c" stroke="#ff0000" stroke-width="1.35"/>
<circle cx="468.07" cy="433.05" r="1.7" fill="#ff8c8c" stroke="#ff0000" stroke-width="1.35"/>
<circle cx="471.73" cy="435.51" r="1.7" fill="#ff8c8c" stroke="#ff0000" stroke-width="1.35"/>
<circle cx="475.40" cy="436.28" r="1.7" fill="#ff8c8c" stroke="#ff0000" stroke-width="1.35"/>
<circle cx="479.07" cy="436.39" r="1.7" fill="#ff8c8c" stroke="#ff0000" stroke-width="1.35"/>
<circle cx="482.73" cy="436.48" r="1.7" fill="#ff8c8c" stroke="#ff0000" stroke-width="1.35"/>
<circle cx="486.40" cy="436.57" r="1.7" fill="#ff8c8c" stroke="#ff0000" stroke-width="1.35"/>
<circle cx="490.07" cy="436.64" r="1.7" fill="#ff8c8c" stroke="#ff0000" stroke-width="1.35"/>
<circle cx="493.73" cy="436.71" r="1.7" fill="#ff8c8c" stroke="#ff0000" stroke-width="1.35"/>
<circle cx="497.40" cy="436.77" r="1.7" fill="#ff8c8c" stroke="#ff0000" stroke-width="1.35"/>
<circle cx="501.07" cy="436.83" r="1.7" fill="#ff8c8c" stroke="#ff0000" stroke-width="1.35"/>
<circle cx="504.73" cy="436.87" r="1.7" fill="#ff8c8c" stroke="#ff0000" stroke-width="1.35"/>
<circle cx="508.40" cy="436.91" r="1.7" fill="#ff8c8c" stroke="#ff0000" stroke-width="1.35"/>
<circle cx="512.07" cy="436.94" r="1.7" fill="#ff8c8c" stroke="#ff0000" stroke-width="1.35"/>
<circle cx="515.73" cy="436.97" r="1.7" fill="#ff8c8c" stroke="#ff0000" stroke-width="1.35"/>
<circle cx="519.40" cy="436.99" r="1.7" fill="#ff8c8c" stroke="#ff0000" stroke-width="1.35"/>
<circle cx="523.07" cy="437.01" r="1.7" fill="#ff8c8c" stroke="#ff0000" stroke-width="1.35"/>
<circle cx="526.73" cy="437.03" r="1.7" fill="#ff8c8c" stroke="#ff0000" stroke-width="1.35"/>
<circle cx="530.40" cy="437.04" r="1.7" fill="#ff8c8c" stroke="#ff0000" stroke-width="1.35"/>
<circle cx="534.07" cy="437.04" r="1.7" fill="#ff8c8c" stroke="#ff0000" stroke-width="1.35"/>
<circle cx="537.73" cy="437.05" r="1.7" fill="#ff8c8c" stroke="#ff0000" stroke-width="1.35"/>
<circle cx="541.40" cy="437.05" r="1.7" fill="#ff8c8c" stroke="#ff0000" stroke-width="1.35"/>
<path d="M442.4,332.5 443.2,337.5 444.0,341.8 444.4,343.7 444.8,345.6 445.6,349.5 446.4,352.6 447.2,354.0 447.9,354.1 448.7,354.3 449.5,354.4 450.3,354.5 451.1,354.6 451.9,354.6 452.7,354.7 453.5,354.8 454.3,354.8 455.1,354.9 455.9,354.9 456.7,354.9 457.4,355.0 458.2,355.0 459.0,355.0 459.8,355.0 460.6,355.0 461.4,355.1 462.2,355.1 463.0,355.1 463.8,355.1 464.6,355.1 465.4,355.1 466.2,355.1 467.0,355.1 467.7,355.1 468.5,355.1 469.3,355.2 470.1,355.2 470.9,355.2 471.7,355.2 472.5,355.2 473.3,355.2 474.1,355.2 474.9,355.2 475.7,355.2 476.5,355.2 477.2,355.2 478.0,355.2 478.8,355.2 479.6,355.2 480.4,355.2 481.2,355.2 482.0,355.2 482.8,355.2 483.6,355.2 484.4,355.2 485.2,355.2 486.0,355.2 486.8,355.3 487.5,355.3 488.3,355.3 489.1,355.3 489.9,355.3 490.7,355.3 491.5,355.3 492.3,355.3 493.1,355.3 493.9,355.3 494.7,355.3 495.5,355.3 496.3,355.3 497.0,355.3 497.8,355.3 498.6,355.4 499.4,355.4 500.0,355.4 500.2,355.4 501.0,355.4 501.8,355.4 502.6,355.4 503.4,355.4 504.2,355.5 505.0,355.5 505.8,355.5 506.6,355.6 507.3,355.6 508.1,355.6 508.9,355.7 509.7,355.7 510.5,355.8 511.3,355.8 512.1,355.9 512.9,355.9 513.7,356.0 514.5,356.0 515.3,356.1 516.1,356.1 516.8,356.2 517.6,356.3 518.4,356.3 519.2,356.4 519.6,356.4 520.0,356.5 520.8,356.5 521.6,356.6 522.4,356.7 523.2,356.8 524.0,356.9 524.8,357.1 525.6,357.2 526.4,357.3 527.1,357.5 527.9,357.7 528.7,357.9 529.5,358.1 530.3,358.3 531.1,358.5 531.9,358.9 532.7,359.3 533.5,359.8 534.3,360.4 535.1,361.1 535.9,361.8 536.6,362.7 536.8,362.9 537.4,363.7 538.2,365.2 539.0,366.9 539.4,367.9 539.8,369.1 540.6,372.1 541.4,375.6" fill="none" stroke="#0000ff" stroke-width="1.5" stroke-linejoin="round"/>
<path d="M446.1,349.0l2.3,4h-4.6z" fill="#0000ff"/>
<path d="M449.7,351.8l2.3,4h-4.6z" fill="#0000ff"/>
<path d="M453.4,352.2l2.3,4h-4.6z" fill="#0000ff"/>
<path d="M457.1,352.4l2.3,4h-4.6z" fill="#0000ff"/>
<path d="M460.7,352.4l2.3,4h-4.6z" fill="#0000ff"/>
<path d="M464.4,352.5l2.3,4h-4.6z" fill="#0000ff"/>
<path d="M468.1,352.5l2.3,4h-4.6z" fill="#0000ff"/>
<path d="M471.7,352.6l2.3,4h-4.6z" fill="#0000ff"/>
<path d="M475.4,352.6l2.3,4h-4.6z" fill="#0000ff"/>
<path d="M479.1,352.6l2.3,4h-4.6z" fill="#0000ff"/>
<path d="M482.7,352.6l2.3,4h-4.6z" fill="#0000ff"/>
<path d="M486.4,352.6l2.3,4h-4.6z" fill="#0000ff"/>
<path d="M490.1,352.7l2.3,4h-4.6z" fill="#0000ff"/>
<path d="M493.7,352.7l2.3,4h-4.6z" fill="#0000ff"/>
<path d="M497.4,352.7l2.3,4h-4.6z" fill="#0000ff"/>
<path d="M501.1,352.8l2.3,4h-4.6z" fill="#0000ff"/>
<path d="M504.7,352.9l2.3,4h-4.6z" fill="#0000ff"/>
<path d="M508.4,353.0l2.3,4h-4.6z" fill="#0000ff"/>
<path d="M512.1,353.3l2.3,4h-4.6z" fill="#0000ff"/>
<path d="M515.7,353.5l2.3,4h-4.6z" fill="#0000ff"/>
<path d="M519.4,353.8l2.3,4h-4.6z" fill="#0000ff"/>
<path d="M523.1,354.2l2.3,4h-4.6z" fill="#0000ff"/>
<path d="M526.7,354.8l2.3,4h-4.6z" fill="#0000ff"/>
<path d="M530.4,355.7l2.3,4h-4.6z" fill="#0000ff"/>
<path d="M534.1,357.6l2.3,4h-4.6z" fill="#0000ff"/>
<path d="M537.7,361.6l2.3,4h-4.6z" fill="#0000ff"/>
<path d="M541.4,373.0l2.3,4h-4.6z" fill="#0000ff"/>
<path d="M442.4,332.5 443.2,337.1 444.0,340.8 444.4,342.2 444.8,343.4 445.6,345.3 446.4,346.9 447.2,348.3 447.9,349.5 448.7,350.6 449.5,351.6 450.3,352.5 451.1,353.4 451.9,354.2 452.7,355.1 453.5,356.0 454.3,356.9 455.1,357.8 455.9,358.7 456.7,359.6 457.4,360.5 458.2,361.4 459.0,362.4 459.8,363.3 460.6,364.3 461.4,365.4 462.2,366.5 463.0,367.7 463.8,368.9 464.6,370.2 465.4,371.4 465.8,372.0 466.2,372.6 467.0,373.8 467.7,374.9 468.5,376.1 469.3,377.2 470.1,378.4 470.9,379.5 471.7,380.5 472.5,381.5 472.9,382.0 473.3,382.5 474.1,383.4 474.9,384.3 475.7,385.2 476.5,386.0 477.2,386.8 478.0,387.7 478.8,388.4 479.6,389.2 480.4,390.0 481.2,390.7 482.0,391.4 482.8,392.0 482.9,392.1 483.6,392.7 484.4,393.3 485.2,394.0 486.0,394.6 486.8,395.2 487.5,395.9 488.3,396.5 489.1,397.1 489.9,397.6 490.7,398.2 491.5,398.8 492.3,399.3 493.1,399.8 493.9,400.3 494.7,400.8 495.5,401.3 496.3,401.7 497.0,402.1 497.8,402.5 498.2,402.7 498.6,402.9 499.4,403.3 500.2,403.6 501.0,404.0 501.8,404.4 502.6,404.7 503.4,405.0 504.2,405.4 505.0,405.7 505.8,406.0 506.6,406.3 507.3,406.5 508.1,406.8 508.9,407.1 509.7,407.3 510.5,407.5 511.3,407.7 512.1,407.9 512.6,408.0 512.9,408.1 513.7,408.2 514.5,408.4 515.3,408.6 516.1,408.7 516.8,408.9 517.6,409.0 518.4,409.2 519.2,409.4 520.0,409.5 520.8,409.7 521.6,409.8 522.4,410.0 523.2,410.1 524.0,410.2 524.8,410.4 525.6,410.5 526.4,410.6 527.1,410.8 527.9,410.9 528.7,411.0 529.5,411.1 530.3,411.2 531.1,411.3 531.9,411.4 532.7,411.5 533.5,411.5 534.3,411.6 535.1,411.7 535.9,411.7 536.6,411.8 537.4,411.8 538.2,411.9 539.0,411.9 539.8,411.9 540.6,411.9 541.4,411.9" fill="none" stroke="#00ffff" stroke-width="1.5" stroke-linejoin="round"/>
<path d="M446.1,349.0l2.3,-4h-4.6z" fill="#00ffff"/>
<path d="M449.7,354.4l2.3,-4h-4.6z" fill="#00ffff"/>
<path d="M453.4,358.5l2.3,-4h-4.6z" fill="#00ffff"/>
<path d="M457.1,362.7l2.3,-4h-4.6z" fill="#00ffff"/>
<path d="M460.7,367.1l2.3,-4h-4.6z" fill="#00ffff"/>
<path d="M464.4,372.5l2.3,-4h-4.6z" fill="#00ffff"/>
<path d="M468.1,378.0l2.3,-4h-4.6z" fill="#00ffff"/>
<path d="M471.7,383.2l2.3,-4h-4.6z" fill="#00ffff"/>
<path d="M475.4,387.5l2.3,-4h-4.6z" fill="#00ffff"/>
<path d="M479.1,391.3l2.3,-4h-4.6z" fill="#00ffff"/>
<path d="M482.7,394.6l2.3,-4h-4.6z" fill="#00ffff"/>
<path d="M486.4,397.6l2.3,-4h-4.6z" fill="#00ffff"/>
<path d="M490.1,400.3l2.3,-4h-4.6z" fill="#00ffff"/>
<path d="M493.7,402.8l2.3,-4h-4.6z" fill="#00ffff"/>
<path d="M497.4,404.9l2.3,-4h-4.6z" fill="#00ffff"/>
<path d="M501.1,406.6l2.3,-4h-4.6z" fill="#00ffff"/>
<path d="M504.7,408.2l2.3,-4h-4.6z" fill="#00ffff"/>
<path d="M508.4,409.5l2.3,-4h-4.6z" fill="#00ffff"/>
<path d="M512.1,410.5l2.3,-4h-4.6z" fill="#00ffff"/>
<path d="M515.7,411.3l2.3,-4h-4.6z" fill="#00ffff"/>
<path d="M519.4,412.0l2.3,-4h-4.6z" fill="#00ffff"/>
<path d="M523.1,412.7l2.3,-4h-4.6z" fill="#00ffff"/>
<path d="M526.7,413.3l2.3,-4h-4.6z" fill="#00ffff"/>
<path d="M530.4,413.8l2.3,-4h-4.6z" fill="#00ffff"/>
<path d="M534.1,414.2l2.3,-4h-4.6z" fill="#00ffff"/>
<path d="M537.7,414.4l2.3,-4h-4.6z" fill="#00ffff"/>
<path d="M541.4,414.5l2.3,-4h-4.6z" fill="#00ffff"/>
<path d="M442.4,332.5 443.2,336.7 444.0,340.5 444.8,343.9 445.6,346.5 445.7,346.9 446.4,348.5 447.2,350.1 447.9,351.6 448.7,352.8 449.5,354.0 450.3,355.2 451.1,356.4 451.4,356.9 451.9,357.6 452.7,358.8 453.5,359.9 454.3,361.0 455.1,362.1 455.9,363.3 456.7,364.6 457.1,365.4 457.4,366.1 458.2,367.9 459.0,369.8 459.8,371.6 460.2,372.5 460.6,373.2 461.4,374.7 462.2,376.1 463.0,377.5 463.8,378.8 464.6,380.1 465.4,381.4 465.8,382.0 466.2,382.6 467.0,383.8 467.7,385.0 468.5,386.1 469.3,387.2 470.1,388.3 470.9,389.4 471.7,390.5 472.5,391.6 472.9,392.1 473.3,392.7 474.1,393.8 474.9,394.9 475.7,396.0 476.5,397.1 477.2,398.2 478.0,399.3 478.8,400.3 479.6,401.3 480.4,402.3 481.2,403.2 481.4,403.5 482.0,404.1 482.8,405.0 483.6,405.8 484.4,406.7 485.2,407.4 486.0,408.2 486.8,409.0 487.5,409.7 488.3,410.5 489.1,411.2 489.9,411.9 490.7,412.7 491.5,413.4 492.3,414.2 493.1,415.0 493.9,415.8 494.7,416.5 495.5,417.2 496.3,417.9 497.0,418.6 497.8,419.2 498.6,419.8 499.4,420.2 500.0,420.6 500.2,420.7 501.0,421.0 501.8,421.4 502.6,421.8 503.4,422.1 504.2,422.5 505.0,422.8 505.8,423.1 506.6,423.4 507.3,423.7 508.1,424.0 508.9,424.3 509.7,424.5 510.5,424.8 511.3,425.0 512.1,425.3 512.9,425.5 513.7,425.7 514.5,425.9 515.3,426.1 516.1,426.3 516.8,426.5 517.6,426.7 518.4,426.8 519.2,427.0 519.6,427.1 520.0,427.1 520.8,427.3 521.6,427.4 522.4,427.6 523.2,427.7 524.0,427.9 524.8,428.0 525.6,428.2 526.4,428.3 527.1,428.4 527.9,428.6 528.7,428.7 529.5,428.8 530.3,428.9 531.1,429.0 531.9,429.1 532.7,429.2 533.5,429.3 534.3,429.4 535.1,429.5 535.9,429.6 536.6,429.7 537.4,429.7 538.2,429.8 539.0,429.8 539.8,429.9 540.6,429.9 541.4,429.9" fill="none" stroke="#ff00ff" stroke-width="1.5" stroke-linejoin="round"/>
<circle cx="446.07" cy="347.80" r="1.75" fill="#ff00ff"/>
<circle cx="449.73" cy="354.33" r="1.75" fill="#ff00ff"/>
<circle cx="453.40" cy="359.80" r="1.75" fill="#ff00ff"/>
<circle cx="457.07" cy="365.38" r="1.75" fill="#ff00ff"/>
<circle cx="460.73" cy="373.46" r="1.75" fill="#ff00ff"/>
<circle cx="464.40" cy="379.83" r="1.75" fill="#ff00ff"/>
<circle cx="468.07" cy="385.44" r="1.75" fill="#ff00ff"/>
<circle cx="471.73" cy="390.54" r="1.75" fill="#ff00ff"/>
<circle cx="475.40" cy="395.62" r="1.75" fill="#ff00ff"/>
<circle cx="479.07" cy="400.61" r="1.75" fill="#ff00ff"/>
<circle cx="482.73" cy="404.94" r="1.75" fill="#ff00ff"/>
<circle cx="486.40" cy="408.65" r="1.75" fill="#ff00ff"/>
<circle cx="490.07" cy="412.07" r="1.75" fill="#ff00ff"/>
<circle cx="493.73" cy="415.61" r="1.75" fill="#ff00ff"/>
<circle cx="497.40" cy="418.86" r="1.75" fill="#ff00ff"/>
<circle cx="501.07" cy="421.07" r="1.75" fill="#ff00ff"/>
<circle cx="504.73" cy="422.71" r="1.75" fill="#ff00ff"/>
<circle cx="508.40" cy="424.10" r="1.75" fill="#ff00ff"/>
<circle cx="512.07" cy="425.27" r="1.75" fill="#ff00ff"/>
<circle cx="515.73" cy="426.23" r="1.75" fill="#ff00ff"/>
<circle cx="519.40" cy="427.02" r="1.75" fill="#ff00ff"/>
<circle cx="523.07" cy="427.71" r="1.75" fill="#ff00ff"/>
<circle cx="526.73" cy="428.35" r="1.75" fill="#ff00ff"/>
<circle cx="530.40" cy="428.93" r="1.75" fill="#ff00ff"/>
<circle cx="534.07" cy="429.40" r="1.75" fill="#ff00ff"/>
<circle cx="537.73" cy="429.75" r="1.75" fill="#ff00ff"/>
<circle cx="541.40" cy="429.94" r="1.75" fill="#ff00ff"/>
<path d="M442.4,332.5 443.2,333.8 444.0,335.1 444.8,336.2 445.6,336.8 445.7,336.9 446.4,337.2 447.2,337.5 447.9,337.7 448.7,337.9 449.5,338.1 450.3,338.3 451.1,338.4 451.9,338.5 452.7,338.7 453.5,338.9 454.3,339.0 455.1,339.2 455.9,339.4 456.7,339.6 457.4,339.8 458.2,340.0 459.0,340.2 459.8,340.4 460.6,340.5 461.4,340.7 462.2,340.9 463.0,341.1 463.8,341.3 464.6,341.5 465.4,341.7 466.2,342.0 467.0,342.2 467.7,342.4 468.5,342.7 469.3,342.9 470.1,343.2 470.9,343.5 471.7,343.8 472.5,344.1 473.3,344.5 474.1,344.8 474.9,345.1 475.7,345.5 476.5,345.9 477.0,346.1 477.2,346.2 478.0,346.6 478.8,347.0 479.6,347.4 480.4,347.8 481.2,348.3 482.0,348.7 482.8,349.2 483.6,349.7 484.0,349.9 484.4,350.2 485.2,350.7 486.0,351.3 486.8,351.9 487.5,352.5 488.3,353.2 489.1,353.9 489.9,354.6 490.7,355.3 491.5,356.0 492.3,356.8 492.6,357.0 493.1,357.5 493.9,358.3 494.7,359.1 495.5,360.0 496.3,360.9 497.0,361.8 497.8,362.7 498.6,363.6 499.4,364.6 500.0,365.4 500.2,365.6 501.0,366.6 501.8,367.7 502.6,368.8 503.4,370.0 504.2,371.1 505.0,372.3 505.4,372.9 505.8,373.5 506.6,374.8 507.3,376.1 508.1,377.4 508.9,378.8 509.7,380.1 510.5,381.4 511.3,382.8 512.1,384.1 512.6,384.9 512.9,385.3 513.7,386.5 514.5,387.7 515.3,388.9 516.1,390.0 516.8,391.2 517.6,392.3 518.4,393.5 519.2,394.7 520.0,395.9 520.8,397.2 521.1,397.7 521.6,398.6 522.4,400.2 523.2,401.8 524.0,403.5 524.8,405.2 525.6,406.8 526.4,408.2 526.9,409.1 527.1,409.3 527.9,410.4 528.7,411.4 529.5,412.4 530.3,413.3 531.1,414.0 531.9,414.6 532.6,415.0 532.7,415.0 533.5,415.3 534.3,415.6 535.1,415.8 535.9,416.1 536.6,416.3 537.4,416.5 538.2,416.6 539.0,416.8 539.8,416.9 540.6,416.9 541.4,416.9" fill="none" stroke="#2a2ade" stroke-width="1.6" stroke-linejoin="round"/>
<path d="M442.4,332.5 443.2,334.6 444.0,336.7 444.8,338.5 445.6,339.6 445.7,339.6 446.4,339.9 447.2,340.2 447.9,340.4 448.7,340.7 449.5,340.9 450.3,341.1 451.1,341.3 451.9,341.5 452.7,341.7 453.5,341.8 454.3,342.0 455.1,342.1 455.9,342.2 456.7,342.3 457.4,342.4 458.2,342.5 459.0,342.6 459.8,342.7 460.6,342.8 461.4,342.8 462.2,342.9 463.0,343.0 463.8,343.0 464.6,343.1 465.4,343.1 466.2,343.2 467.0,343.2 467.7,343.2 468.5,343.3 469.3,343.3 470.1,343.3 470.9,343.4 471.7,343.4 472.5,343.4 473.3,343.5 474.1,343.5 474.9,343.5 475.7,343.5 476.5,343.6 477.2,343.6 478.0,343.6 478.8,343.6 479.6,343.6 480.4,343.7 481.2,343.7 482.0,343.7 482.8,343.7 483.6,343.7 484.0,343.7 484.4,343.7 485.2,343.7 486.0,343.8 486.8,343.8 487.5,343.8 488.3,343.8 489.1,343.8 489.9,343.8 490.7,343.8 491.5,343.8 492.3,343.8 493.1,343.8 493.9,343.8 494.7,343.8 495.5,343.8 496.3,343.8 497.0,343.8 497.8,343.9 498.6,343.9 499.4,343.9 500.2,343.9 501.0,343.9 501.8,343.9 502.6,343.9 503.4,343.9 504.2,344.0 505.0,344.0 505.8,344.0 506.6,344.0 506.8,344.0 507.3,344.1 508.1,344.7 508.9,345.6 509.7,346.8 510.5,348.1 511.3,349.4 512.1,350.7 512.6,351.4 512.9,351.8 513.7,353.0 514.5,354.1 515.3,355.3 516.1,356.5 516.8,357.7 517.6,358.9 518.4,359.9 519.2,361.0 519.6,361.4 520.0,361.9 520.8,362.8 521.6,363.7 522.4,364.6 523.2,365.4 524.0,366.2 524.8,366.9 525.6,367.6 526.4,368.2 526.9,368.5 527.1,368.6 527.9,369.1 528.7,369.5 529.5,369.8 530.3,370.2 531.1,370.5 531.9,370.8 532.7,371.0 533.5,371.3 534.0,371.4 534.3,371.5 535.1,371.7 535.9,371.9 536.6,372.1 537.4,372.3 538.2,372.4 539.0,372.6 539.8,372.7 540.6,372.8 541.4,372.9" fill="none" stroke="#00f0f0" stroke-width="1.5" stroke-linejoin="round"/>
<path d="M442.4,332.5 443.2,334.2 444.0,335.9 444.8,337.3 445.6,338.2 445.7,338.3 446.4,338.6 447.2,338.9 447.9,339.1 448.7,339.4 449.5,339.6 450.3,339.8 451.1,340.0 451.9,340.2 452.7,340.3 453.5,340.5 454.3,340.6 455.1,340.7 455.9,340.8 456.7,340.9 457.4,341.0 458.2,341.1 459.0,341.2 459.8,341.3 460.6,341.4 461.4,341.5 462.2,341.6 463.0,341.7 463.8,341.8 464.6,341.9 465.4,342.0 466.2,342.2 467.0,342.3 467.7,342.5 468.5,342.7 469.3,342.9 470.1,343.1 470.9,343.3 471.7,343.6 472.5,343.8 473.3,344.1 474.1,344.3 474.9,344.6 475.7,344.9 476.5,345.2 477.2,345.4 478.0,345.7 478.8,346.0 479.6,346.3 480.4,346.6 481.2,346.9 482.0,347.2 482.8,347.5 483.6,347.8 484.0,348.0 484.4,348.1 485.2,348.4 486.0,348.7 486.8,348.9 487.5,349.2 488.3,349.5 489.1,349.8 489.9,350.1 490.7,350.3 491.5,350.6 492.3,350.9 493.1,351.2 493.9,351.6 494.7,351.9 495.5,352.2 496.3,352.6 497.0,353.0 497.8,353.4 498.2,353.6 498.6,353.8 499.4,354.2 500.2,354.7 501.0,355.2 501.8,355.7 502.6,356.2 503.4,356.8 504.2,357.4 505.0,358.0 505.8,358.6 506.6,359.3 507.3,359.9 508.1,360.6 508.9,361.2 509.7,361.9 510.5,362.6 511.3,363.2 512.1,363.9 512.6,364.3 512.9,364.5 513.7,365.2 514.5,365.9 515.3,366.6 516.1,367.3 516.8,368.0 517.6,368.7 518.4,369.4 519.2,370.2 520.0,370.9 520.8,371.7 521.1,372.0 521.6,372.5 522.4,373.4 523.2,374.2 524.0,375.1 524.8,376.1 525.6,377.0 526.4,378.0 527.1,378.9 527.9,379.8 528.7,380.8 529.5,381.7 530.3,382.5 531.1,383.4 531.9,384.2 532.7,384.9 533.5,385.7 534.3,386.5 535.1,387.3 535.9,388.0 536.6,388.7 537.4,389.5 538.2,390.2 539.0,390.9 539.8,391.6 540.6,392.2 541.4,392.9" fill="none" stroke="#f000f0" stroke-width="1.4" stroke-linejoin="round"/>
<path d="M442.4,332.5 443.2,337.6 444.0,341.9 444.4,343.7 444.8,345.4 445.6,348.7 446.4,351.3 447.2,352.8 447.9,353.5 448.7,354.0 449.5,354.5 450.3,354.9 451.1,355.2 451.9,355.5 452.7,355.7 453.5,355.9 454.3,356.1 455.1,356.3 455.9,356.5 456.7,356.7 457.4,356.9 458.2,357.1 459.0,357.2 459.8,357.4 460.6,357.5 461.4,357.6 462.2,357.8 463.0,357.9 463.8,358.0 464.6,358.1 465.4,358.2 466.2,358.3 467.0,358.4 467.7,358.5 468.5,358.7 469.3,358.8 470.1,358.9 470.9,359.0 471.7,359.1 472.5,359.2 473.3,359.3 474.1,359.5 474.9,359.6 475.7,359.8 476.5,359.9 477.2,360.1 478.0,360.2 478.8,360.4 479.6,360.5 480.4,360.7 481.2,360.8 482.0,361.0 482.8,361.2 483.6,361.3 484.4,361.5 485.2,361.7 486.0,361.8 486.8,362.0 487.5,362.2 488.3,362.3 489.1,362.5 489.9,362.6 490.7,362.8 491.5,362.9 492.3,363.1 493.1,363.2 493.9,363.4 494.7,363.6 495.5,363.7 496.3,363.9 497.0,364.0 497.8,364.2 498.6,364.3 499.4,364.5 500.2,364.6 501.0,364.8 501.8,364.9 502.6,365.1 503.4,365.2 504.2,365.4 505.0,365.6 505.4,365.7 505.8,365.7 506.6,365.9 507.3,366.1 508.1,366.3 508.9,366.4 509.7,366.6 510.5,366.8 511.3,367.0 512.1,367.2 512.9,367.4 513.7,367.5 514.5,367.7 515.3,367.9 516.1,368.1 516.8,368.3 517.6,368.5 518.4,368.7 519.2,368.9 520.0,369.1 520.8,369.2 521.6,369.4 522.4,369.6 523.2,369.8 524.0,370.0 524.8,370.2 525.6,370.3 526.4,370.5 526.9,370.6 527.1,370.7 527.9,370.9 528.7,371.0 529.5,371.2 530.3,371.4 531.1,371.5 531.9,371.7 532.7,371.9 533.5,372.0 534.3,372.2 535.1,372.4 535.9,372.5 536.6,372.7 537.4,372.9 538.2,373.0 539.0,373.2 539.8,373.4 540.6,373.5 541.4,373.7" fill="none" stroke="#00e600" stroke-width="1.5" stroke-linejoin="round" stroke-dasharray="3.2,2.2"/>
<path d="M442.4,332.5 443.2,338.8 444.0,344.4 444.8,348.9 445.0,349.8 445.6,352.2 446.4,355.0 447.2,357.3 447.9,359.5 448.5,361.1 448.7,361.7 449.5,363.8 450.3,365.8 451.1,367.6 451.4,368.2 451.9,369.0 452.7,370.2 453.5,371.3 454.3,372.5 455.1,374.0 455.9,375.9 456.7,377.9 457.4,379.9 458.2,381.5 459.0,382.6 459.2,382.7 459.8,383.2 460.6,383.6 461.4,383.9 462.2,384.2 463.0,384.5 463.8,384.8 464.6,385.1 465.4,385.4 465.8,385.6 466.2,385.9 467.0,386.4 467.7,387.0 468.5,387.7 469.3,388.4 470.1,389.1 470.9,389.8 471.7,390.5 472.5,391.1 472.9,391.4 473.3,391.6 474.1,392.2 474.9,392.7 475.7,393.2 476.5,393.7 477.2,394.1 478.0,394.6 478.8,395.0 479.6,395.5 480.4,395.9 481.2,396.3 481.4,396.4 482.0,396.6 482.8,397.0 483.6,397.3 484.4,397.7 485.2,398.0 486.0,398.3 486.8,398.6 487.5,398.9 488.3,399.2 489.1,399.5 489.9,399.8 490.7,400.1 491.5,400.4 492.3,400.7 493.1,401.0 493.9,401.3 494.7,401.6 495.5,401.9 496.3,402.2 497.0,402.4 497.8,402.7 498.6,403.0 499.4,403.3 500.0,403.5 500.2,403.5 501.0,403.8 501.8,404.1 502.6,404.4 503.4,404.7 504.2,405.0 505.0,405.3 505.8,405.6 506.6,405.8 507.3,406.1 508.1,406.4 508.9,406.7 509.7,406.9 510.5,407.1 511.3,407.4 512.1,407.6 512.6,407.7 512.9,407.8 513.7,408.0 514.5,408.2 515.3,408.3 516.1,408.5 516.8,408.7 517.6,408.9 518.4,409.1 519.2,409.2 520.0,409.4 520.8,409.6 521.6,409.8 522.4,409.9 523.2,410.1 524.0,410.3 524.8,410.4 525.6,410.6 526.4,410.7 527.1,410.9 527.9,411.0 528.7,411.2 529.5,411.3 530.3,411.4 531.1,411.6 531.9,411.7 532.7,411.8 533.5,411.9 534.3,412.0 535.1,412.1 535.9,412.2 536.6,412.3 537.4,412.4 538.2,412.5 539.0,412.5 539.8,412.6 540.6,412.6 541.4,412.7" fill="none" stroke="#00e600" stroke-width="1.5" stroke-linejoin="round"/>
<circle cx="442.40" cy="332.53" r="1.7" fill="#ff8c8c" stroke="#ff0000" stroke-width="1.35"/>
<path d="M442.4,329.9l2.3,4h-4.6z" fill="#0000ff"/>
<path d="M442.4,335.1l2.3,-4h-4.6z" fill="#00ffff"/>
<circle cx="442.40" cy="332.53" r="1.75" fill="#ff00ff"/>
<text class="tk" transform="translate(442.40,446.10) scale(0.9,1)" font-size="6.8" text-anchor="middle">0</text>
<text class="tk" transform="translate(462.20,446.10) scale(0.9,1)" font-size="6.8" text-anchor="middle">100</text>
<text class="tk" transform="translate(482.00,446.10) scale(0.9,1)" font-size="6.8" text-anchor="middle">200</text>
<text class="tk" transform="translate(501.80,446.10) scale(0.9,1)" font-size="6.8" text-anchor="middle">300</text>
<text class="tk" transform="translate(521.60,446.10) scale(0.9,1)" font-size="6.8" text-anchor="middle">400</text>
<text class="tk" transform="translate(541.40,446.10) scale(0.9,1)" font-size="6.8" text-anchor="middle">500</text>
<text class="tk" transform="translate(440.00,441.30) scale(0.9,1)" font-size="6.8" text-anchor="end">10<tspan font-size="5.2" dy="-3.3">4</tspan></text>
<text class="tk" transform="translate(440.00,411.05) scale(0.9,1)" font-size="6.8" text-anchor="end">10<tspan font-size="5.2" dy="-3.3">6</tspan></text>
<text class="tk" transform="translate(440.00,380.80) scale(0.9,1)" font-size="6.8" text-anchor="end">10<tspan font-size="5.2" dy="-3.3">8</tspan></text>
<text class="tk" transform="translate(440.00,350.55) scale(0.9,1)" font-size="6.8" text-anchor="end">10<tspan font-size="5.2" dy="-3.3">10</tspan></text>
<text class="tk" transform="translate(440.00,320.30) scale(0.9,1)" font-size="6.8" text-anchor="end">10<tspan font-size="5.2" dy="-3.3">12</tspan></text>
<text transform="translate(491.90,315.10) scale(0.875,1)" font-size="7.8" text-anchor="middle" fill="#111">CEC2017 F12 Dim=50</text>
<text x="491.90" y="455.10" font-size="6.8" text-anchor="middle" fill="#262626">Iterations</text>
<text transform="translate(424.20,377.00) rotate(-90)" font-size="7" text-anchor="middle" fill="#262626">Fitness</text>
</svg>
</body></html>
